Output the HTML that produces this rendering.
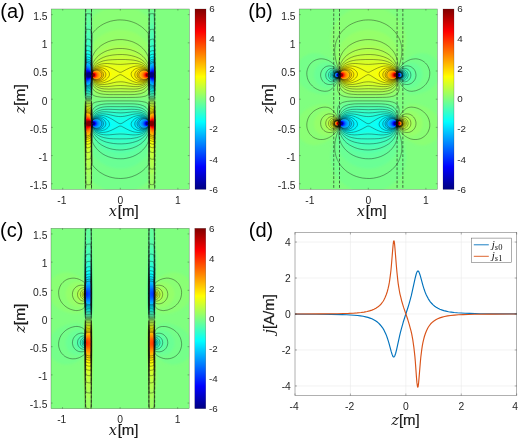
<!DOCTYPE html>
<html><head><meta charset="utf-8"><title>figure</title><style>html,body{margin:0;padding:0;background:#fff}
svg{display:block}
text{font-family:"Liberation Sans",sans-serif;fill:#262626}
.tl text{font-size:10.3px}
.cb text{font-size:9.8px}
.td text{font-size:10.3px}
.al{font-size:15px;fill:#1a1a1a;stroke:#1a1a1a;stroke-width:0.2px}
.it{font-family:"DejaVu Serif","Liberation Serif",serif;font-style:italic;font-size:14.5px;stroke-width:0}
.pl{font-size:20px;fill:#000}
.lg{font-family:"Liberation Serif","DejaVu Serif",serif;font-style:italic;font-size:11px;fill:#111}
.sb{font-size:8.5px}
.up{font-style:normal}
.zl{font-size:15.5px}
.zl .it{font-size:14.5px}
</style></head><body>
<svg width="520" height="439" viewBox="0 0 520 439">
<defs>
<linearGradient id="jet" x1="0" y1="1" x2="0" y2="0"><stop offset="0" stop-color="#000080"/><stop offset="0.125" stop-color="#0000ff"/><stop offset="0.375" stop-color="#00ffff"/><stop offset="0.625" stop-color="#ffff00"/><stop offset="0.875" stop-color="#ff0000"/><stop offset="1" stop-color="#800000"/></linearGradient>
<filter id="bl" x="-5%" y="-5%" width="110%" height="110%"><feGaussianBlur stdDeviation="0.45"/></filter>
<filter id="bl2" x="-5%" y="-5%" width="110%" height="110%"><feGaussianBlur stdDeviation="1"/></filter>
<filter id="bl3" x="-5%" y="-5%" width="110%" height="110%"><feGaussianBlur stdDeviation="0.6"/></filter>
<clipPath id="cp"><rect x="0" y="0" width="138.2" height="180.4"/></clipPath>
</defs>
<rect width="520" height="439" fill="#fff"/>
<g transform="translate(51.2,9)">
<rect width="138.2" height="180.4" fill="#80ff80"/>
<g clip-path="url(#cp)"><g filter="url(#bl2)"><path fill="#8aff75" d="M52.8 0.5l1.2 -0.5 30.2 0 1.9 0.8 2 1 3.5 2.1 3 2.3 3 2.8 0.1 50.5 0.2 7 -0.2 4 -0.1 16.9 -0.1 0.1 -1.4 0.5 -2 0.5 -2.5 0.4 -3 0.2 -8 0.2 -18 0 -9.5 -0.1 -6 -0.3 -2 -0.2 -2 -0.4 -1.5 -0.5 -1 -0.4 -0.1 -16.9 -0.2 -4 0.2 -7 0.1 -50.5 2.5 -2.4 3 -2.3 3.5 -2.2 3.2 -1.6zM34.5 90.4l5.6 0 0.3 0.5 0 0.5 0.1 17 -0.2 5.5 0.2 8.5 -0.1 58 -6.2 0 -0.1 -84 0.1 -5 0 -0.5 0.3 -0.5zM98.1 90.4l5 0 0.4 0.5 0 0.5 0.1 23 -0.1 66 -5.7 0 -0.1 -58 0.2 -8.5 -0.1 -4.5 -0.1 -15 0.1 -3 0 -0.5 0.3 -0.5z"/>
<path fill="#95ff6a" d="M66.3 21l2.3 -0.1 2.5 0 2.5 0.3 2.5 0.4 2.5 0.6 2 0.6 2.5 1 2 1 2 1.2 2 1.4 2 1.6 1.5 1.5 1.5 1.6 1.4 1.9 1.1 1.7 1 1.9 0.1 23.4 0.2 4.5 -0.2 4.5 -0.1 12.1 -1 1.3 -1 0.9 -1 0.7 -1.5 0.7 -2 0.7 -2.5 0.5 -2.5 0.3 -3.5 0.2 -6 0.1 -15 0 -5 -0.1 -3.5 -0.2 -2.5 -0.2 -2 -0.3 -2 -0.5 -1.5 -0.5 -1.5 -0.7 -1 -0.7 -1 -0.9 -1 -1.3 -0.1 -12.1 -0.2 -3.5 0.2 -6 0.1 -22.9 0.8 -1.6 0.9 -1.5 1.1 -1.5 1.2 -1.4 1.5 -1.6 1.5 -1.4 3 -2.3 1.5 -0.9 2 -1.1 2 -0.9 2 -0.7 2 -0.6 2 -0.5 2 -0.4 2.2 -0.2zM34.4 91.4l0.2 -0.4 5.5 0 0.1 0.4 0.1 1 0.1 14.5 -0.1 8 0.1 3 0 7 -0.2 55.5 -5.8 0 -0.2 -27 -0.1 -39 0.1 -18.5 0 -3 0.2 -1.5zM98 91.4l0.1 -0.4 5 0 0.2 0.4 0.2 1.5 0.1 7 0 17.5 -0.3 63 -5.3 0 -0.2 -57.5 0 -5.5 0.1 -2.5 -0.1 -5.5 0 -12.5 0.1 -4 0.1 -1.5z"/>
<path fill="#9fff60" d="M68.1 30.5l2 0 2.5 0.1 2 0.3 2.5 0.5 2.5 0.7 2 0.7 2 0.9 2 1 1.5 1 2 1.4 1.5 1.3 1.5 1.4 1.5 1.8 1 1.4 1 1.6 1 2 1 2.7 0.1 12.7 0.2 3.5 -0.2 4 -0.1 8.1 -0.8 1.9 -1.2 1.6 -1.5 1.4 -2 1.2 -2 0.7 -2.5 0.6 -2.5 0.3 -3.5 0.3 -5 0.1 -16 0 -4 -0.1 -3.5 -0.3 -2.5 -0.3 -2 -0.4 -2 -0.7 -1.5 -0.8 -1.5 -1 -1 -1 -1 -1.3 -0.7 -1.3 -0.3 -0.9 -0.1 -8.1 -0.2 -3 0.2 -5 0.1 -12.2 0.8 -2.3 1.2 -2.4 1 -1.6 1 -1.4 1 -1.2 1.5 -1.6 1.5 -1.3 1.5 -1.2 3 -1.8 3.5 -1.7 3.5 -1.1 2 -0.5 2 -0.4 4 -0.3zM34.5 91.9l0.1 -0.3 5.5 0.1 0.2 2.7 0.1 13 -0.1 7.5 0.1 3 0 7 -0.3 50.7 -3 0.3 -2.5 0 -0.3 -25 -0.2 -35.5 0.1 -18 0.1 -3.5 0.2 -2zM98.1 91.9l0 -0.2 5 -0.1 0.3 1.8 0.2 7.5 0 16.5 -0.2 35 -0.3 23.5 -2.5 0 -2.5 -0.3 -0.2 -22.2 -0.1 -31.5 0.1 -7 -0.1 -5.5 0 -11 0.1 -4.5 0.2 -2z"/>
<path fill="#aaff55" d="M63.4 37l2.2 -0.3 2.5 -0.2 2.5 0.1 2 0.1 2.5 0.3 2 0.4 2.5 0.7 2 0.6 2 0.9 2 0.9 2 1.2 1.5 1.1 1.5 1.2 1.5 1.4 1.5 1.7 1 1.4 1 1.7 0.9 1.8 0.6 1.6 0.5 1.9 0.1 7 0.2 3 -0.2 3.5 -0.1 5.4 -0.7 2.1 -0.8 1.5 -0.7 1 -0.8 0.7 -1.5 1.3 -2 1 -2 0.8 -2.5 0.5 -3 0.4 -6 0.2 -17.5 0 -4.5 -0.2 -2.5 -0.2 -2.5 -0.4 -2 -0.5 -1.5 -0.6 -1.5 -0.7 -1.5 -1.1 -1 -1 -1 -1.3 -0.8 -1.4 -0.7 -2.1 -0.1 -5.4 -0.2 -3.5 0.2 -3 0.1 -7 0.7 -2.5 1.1 -2.5 1.7 -2.7 2 -2.4 2 -1.8 2.5 -1.9 3 -1.7 3 -1.3 3.5 -1.1 3.3 -0.6zM34.5 92.4l0.1 0 2 0 3.5 0.1 0.2 4.4 0.1 11.5 -0.1 6.5 0.1 3 0 6 -0.3 40.8 -2 0.4 -2 0.1 -1.5 0 -0.3 -23.3 -0.2 -27.5 0.1 -16.5 0.1 -3.5 0.2 -2zM99.2 92.4l3.9 0 0.3 2 0.1 7.5 0.1 14.5 -0.5 48.8 -2.5 -0.1 -2.5 -0.4 -0.3 -39.8 0 -7 0.1 -3 -0.1 -5.5 0.1 -10.5 0.1 -4 0.1 -2.4 1.1 -0.1z"/>
<path fill="#b5ff4a" d="M63.2 41.5l4.4 -0.4 4.5 0.1 2 0.2 2.5 0.3 2.5 0.6 2 0.5 2 0.7 2 0.9 2 1 1.5 0.9 1.5 1 1.5 1.3 1.5 1.4 1 1.2 1 1.4 1 1.8 0.7 1.6 0.6 2 0.2 0.9 0.1 4.1 0.2 3.5 -0.2 2 -0.1 3.7 -0.5 1.7 -0.7 1.6 -0.8 1.2 -1 1.2 -1 0.9 -2 1.3 -2 0.8 -2.5 0.6 -3 0.4 -4.5 0.2 -10 -0.1 -13 0.1 -2.5 -0.2 -2 -0.2 -2 -0.4 -1.5 -0.4 -1.5 -0.6 -1.5 -0.8 -1.5 -1.1 -1 -1 -0.7 -0.9 -0.8 -1.4 -0.5 -1.2 -0.5 -1.4 -0.3 -6 0.2 -3.5 0.1 -4.1 0.3 -1.4 0.5 -1.5 1.2 -2.5 1.5 -2.3 2 -2.2 2 -1.7 2.5 -1.6 3 -1.6 3 -1.1 3 -0.9 3.6 -0.6zM34.5 93.4l0.1 -0.2 0.5 0 2.5 0.1 2.5 0.2 0.1 3.4 0.2 7.5 -0.1 10.5 0.1 10 -0.3 31.8 -2.5 0.6 -2.5 0.1 -0.5 0 -0.5 -36 0 -8.5 0.1 -10 0.1 -6 0.2 -3.5zM98.2 93.4l2.4 -0.1 2.5 -0.1 0.1 0.7 0.3 6.5 0.1 14.5 -0.5 42.5 -2.5 -0.1 -2.5 -0.6 -0.2 -29.8 -0.1 -8.5 0.1 -4.5 -0.1 -5 0.1 -11 0.2 -3.5 0.1 -1z"/>
<path fill="#bfff40" d="M64.5 45l4.6 -0.2 4.5 0.2 4 0.5 4 0.8 2 0.6 2 0.8 3 1.4 2.5 1.6 1.5 1.3 1 1 1 1.1 1 1.5 0.8 1.4 0.7 1.8 0.5 1.9 0.1 2.8 0.2 2 -0.3 5.3 -0.3 1.2 -0.5 1.5 -0.7 1.1 -0.5 0.7 -1 1.1 -1 0.9 -1.5 1 -1.5 0.7 -1.5 0.5 -1.5 0.4 -2 0.3 -2 0.2 -2.5 0 -11 -0.3 -13 0.3 -2.5 0 -2 -0.2 -2.5 -0.4 -2.5 -0.8 -2 -1 -1 -0.7 -1 -0.9 -1 -1.1 -0.5 -0.7 -0.7 -1.1 -0.5 -1.5 -0.3 -1.2 -0.3 -4.3 0.3 -5.8 0.1 -0.7 0.4 -1.2 0.5 -1.3 0.5 -1.1 1 -1.6 1.5 -1.8 2 -1.9 2.5 -1.7 2.5 -1.3 3 -1.2 3 -0.8 3.5 -0.7 3.4 -0.4zM34.5 94.4l0.1 -0.3 0.5 0 2.5 0.1 2.5 0.3 0.2 5.4 0.1 9.5 -0.1 4.5 0 11.5 -0.2 25.1 -2.5 0.7 -1.5 0.2 -1.5 0.1 -0.5 -36.6 0.2 -13.5 0.2 -7zM98.5 94.4l2.1 -0.2 2.5 -0.1 0.1 0.3 0.2 6.5 0.2 13.5 -0.5 37.1 -2.5 -0.3 -2.5 -0.7 -0.2 -26.6 0 -17.5 0.1 -7 0.1 -4.5 0 -0.4 0.4 -0.1z"/>
<path fill="#caff35" d="M60.7 48.5l4.9 -0.4 5 0 5 0.2 4 0.4 3.5 0.7 3 0.9 3 1.3 2.5 1.4 2 1.7 1 1 1 1.3 1.1 2 0.4 1 0.5 1.5 0.3 4 -0.3 4.4 -0.5 1.7 -0.5 1.1 -0.5 0.9 -1 1.2 -1 1 -1 0.7 -1.5 0.8 -1.5 0.6 -1.5 0.4 -1.5 0.3 -2 0.2 -4 0 -8 -0.5 -4 -0.1 -4 0.1 -8 0.5 -4 0 -2.5 -0.3 -2.5 -0.6 -2 -0.8 -1.5 -1 -1.5 -1.3 -1 -1.2 -0.5 -0.9 -0.5 -1.1 -0.5 -1.7 -0.3 -3.4 0.3 -4.7 0.5 -1.8 1 -2.2 1.5 -2.1 1.5 -1.5 2 -1.5 2 -1.1 2.5 -1.1 2.5 -0.8 3 -0.7 3.6 -0.5zM34.5 95.4l0.1 -0.3 1 0 2.5 0.2 2 0.3 0.1 5.8 0.1 8.5 0 14 -0.2 21.8 -2.5 0.8 -1.5 0.2 -1.5 0.1 -0.5 -32.4 0.2 -12 0.2 -7zM99.1 95.4l2 -0.2 2 -0.1 0.3 6.8 0.2 12.5 -0.5 32.4 -2.5 -0.3 -2.5 -0.8 -0.2 -24.3 0.1 -20 0.1 -5.8 1 -0.2z"/>
<path fill="#d5ff2a" d="M56.9 51.5l3.2 -0.3 4.5 -0.1 9.5 0 5 0.2 3 0.3 3 0.5 2.5 0.6 2.5 1 2.5 1.5 2 1.7 1.5 1.9 1 2 0.5 1.7 0.3 4 -0.3 2.8 -0.3 1.2 -0.4 1 -0.8 1.3 -1 1.1 -1 0.9 -1 0.7 -1.5 0.7 -1.5 0.5 -1.5 0.4 -1.5 0.2 -2 0.1 -2.5 -0.1 -9 -1 -4.5 -0.2 -4.5 0.2 -9 1 -3.5 0.1 -2 -0.2 -1.5 -0.3 -1.5 -0.5 -1.5 -0.6 -1 -0.6 -1 -0.8 -1.5 -1.6 -1 -1.9 -0.5 -1.6 -0.3 -2.8 0.3 -4 0.5 -1.7 0.3 -0.8 1.2 -1.9 1 -1.2 1.5 -1.3 2 -1.3 2 -1 2.5 -0.9 2.5 -0.5 2.8 -0.4zM34.5 96.4l0.1 -0.3 1.5 0 2 0.2 2 0.5 0.1 5.6 0.1 8 0 13 -0.2 18.5 -1 0.4 -1.5 0.4 -1.5 0.3 -1.5 0.1 -0.5 -28.7 0.2 -11 0.2 -7zM99.6 96.4l1.5 -0.2 2 -0.1 0.3 6.8 0.2 11.5 -0.5 28.7 -2.5 -0.4 -1.5 -0.4 -1 -0.4 -0.2 -22.5 0 -12 0.2 -8.5 0 -2.1 1.5 -0.4z"/>
<path fill="#75ff8a" d="M34.2 0l6.2 0 0.1 58 -0.2 8.5 0.1 4.5 0.1 15 -0.1 3 0 0.5 -0.3 0.5 -5.5 0 -0.4 -0.5 0 -0.5 -0.1 -23 0.1 -66zM97.8 0l5.7 0 0.1 84 -0.1 5 0 0.5 -0.4 0.5 -5 0 -0.3 -0.5 0 -0.5 -0.1 -17 0.2 -5.5 -0.2 -8.5 0.1 -58zM47.7 91.4l4.4 -0.2 6.5 -0.1 19.5 0 8 0.1 4.4 0.2 3.1 0.4 2.5 0.6 1.5 0.6 0.1 16.9 0.2 5 -0.2 6 -0.1 50.5 -3 2.8 -3 2.3 -3.5 2.1 -3.5 1.6 -0.4 0.2 -30.2 0 -1.9 -0.8 -2 -1 -3.5 -2.1 -3 -2.3 -3 -2.8 -0.1 -50.5 -0.2 -7 0.2 -4 0.1 -16.9 1.3 -0.6 1.7 -0.4 2 -0.3 2.1 -0.3z"/>
<path fill="#6aff95" d="M34.4 0l5.8 0 0.2 55 0 7 -0.1 4.5 0.1 3 0 6.5 0 11 -0.1 1.5 -0.2 0.9 -5.5 0 -0.2 -0.4 -0.1 -1 -0.2 -6.5 0 -18 0.1 -38 0.2 -25.5zM98 0l5.3 0 0.2 28.5 0.1 40 -0.1 17.5 -0.1 2.5 -0.3 0.9 -5 0 -0.1 -0.4 -0.1 -1 -0.1 -14.5 0.1 -8 -0.1 -3 0 -7 0.2 -55.5zM59.3 92.9l20.8 0.1 5 0.2 3.5 0.3 3 0.7 1.5 0.5 1 0.4 1 0.6 1 0.8 0.9 0.9 0.6 0.9 0.1 12.1 0.2 3.5 -0.2 6 -0.1 22.9 -1.5 2.7 -1.7 2.4 -1.8 2 -2.5 2.3 -2.5 1.9 -2.5 1.5 -3 1.4 -3 1.1 -2.5 0.6 -3 0.5 -3 0.3 -3 0 -3 -0.3 -2.5 -0.4 -3 -0.7 -2.5 -0.9 -2.5 -1.1 -2.5 -1.4 -2.5 -1.7 -2 -1.6 -2 -2 -1.7 -2 -1.7 -2.5 -1.1 -2.1 -0.1 -23.4 -0.2 -4.5 0.2 -4.5 0.1 -12.1 1 -1.4 1.5 -1.2 1.5 -0.8 2 -0.7 2.5 -0.6 2.5 -0.3 3.5 -0.2 4.2 -0.2z"/>
<path fill="#60ff9f" d="M34.9 4.5l2.7 0 2.5 0.3 0.2 22.2 0.1 32 -0.1 6.5 0.1 5.5 0 11.5 -0.1 4.5 -0.2 1.7 -5.5 0.1 -0.3 -1.8 -0.1 -6 -0.1 -14 0.1 -34.5 0.4 -28 0.3 0zM100.3 4.5l2.8 0 0.3 25.5 0.2 36 -0.1 18 -0.1 3.5 -0.3 1.3 -5 -0.1 -0.2 -2.7 -0.1 -13 0.1 -7.5 -0.1 -3 0 -7 0.3 -50.7 2.2 -0.3zM54.5 94.9l6.1 -0.2 17 0 5 0.2 3.5 0.3 3.5 0.6 1.5 0.5 1.5 0.7 1 0.6 1.2 0.8 0.8 0.9 0.9 1.1 0.6 1.1 0.5 1.3 0.1 8.1 0.2 3 -0.2 5 -0.1 12.2 -0.6 1.8 -0.9 2 -1.1 2 -1.4 1.9 -1.5 1.8 -1.5 1.4 -1.5 1.3 -2 1.4 -2.5 1.5 -3 1.4 -3 1 -3 0.7 -3 0.5 -3.5 0.1 -3 -0.1 -3 -0.4 -3 -0.7 -3 -0.9 -3 -1.3 -2.5 -1.4 -2.5 -1.8 -2 -1.7 -2 -2.2 -1.9 -2.5 -0.9 -1.5 -0.7 -1.5 -1 -2.8 -0.1 -12.7 -0.2 -3.5 0.2 -4 0.1 -8.1 0.8 -1.9 1 -1.5 1.2 -1.1 1.5 -1 2 -1 2 -0.6 2.5 -0.5 2.9 -0.3z"/>
<path fill="#55ffaa" d="M34.5 15.5l0.1 -0.3 2 0 2 0.2 1.5 0.3 0.3 43.8 -0.1 6 0.1 5.5 -0.1 9.5 -0.1 5 -0.1 2.4 -5.5 0.1 -0.2 -1 -0.2 -6.5 -0.1 -15.5 0.2 -27.5 0.2 -22zM99.1 15.5l2 -0.3 2 0 0.3 23.3 0.2 27.5 -0.1 16.5 -0.1 3.5 -0.3 2 -5 -0.1 -0.1 -1.4 -0.2 -9.5 0 -7 0.1 -4.5 -0.1 -7 0.3 -42.8 1 -0.2zM52.5 96.9l3.1 -0.2 4.5 -0.2 18.5 0 5.5 0.3 3.5 0.5 1.5 0.3 1.5 0.5 2 1 1 0.7 1 0.9 1 1.1 0.8 1.1 0.7 1.6 0.5 1.5 0.1 5.4 0.2 2.5 -0.2 4 -0.1 7 -0.7 2.5 -1.3 2.8 -1.5 2.4 -2 2.4 -2 1.8 -2.5 1.9 -2.5 1.4 -3 1.4 -3 1 -3 0.7 -3 0.5 -3.5 0.2 -3.5 -0.2 -3 -0.3 -3.5 -0.8 -3 -0.9 -3 -1.3 -2.5 -1.4 -2.5 -1.8 -2 -1.7 -2 -2.2 -1 -1.4 -0.9 -1.5 -1.2 -2.5 -0.5 -1.5 -0.4 -1.5 -0.1 -7 -0.2 -3 0.2 -3.5 0.1 -5.4 0.7 -2.1 0.8 -1.4 1 -1.3 1.5 -1.4 1.5 -1 2 -0.8 2 -0.6 2.4 -0.5z"/>
<path fill="#4affb5" d="M34.5 23l1.6 0 1.5 0.1 2.5 0.6 0.3 35.3 -0.1 6.5 0.1 10 -0.2 9.5 -0.1 1.9 -2.5 0.2 -3 0.1 -0.2 -2.2 -0.2 -8 -0.1 -12.5 0.4 -41.5zM102.5 23l0.6 0 0.4 23.5 0.1 23.5 -0.2 12 -0.3 5.2 -2.5 -0.1 -2.5 -0.2 -0.1 -3.4 -0.1 -6 -0.1 -7.5 0.1 -4.5 -0.1 -9.5 0.3 -32.3 2 -0.5 2.4 -0.2zM54.4 98.4l4.2 -0.1 10.5 0.1 10 -0.1 5 0.2 3 0.4 2.5 0.6 2 0.8 2 1.3 1 0.9 1 1.2 0.8 1.2 0.7 1.6 0.5 1.7 0.1 3.7 0.2 2 -0.2 3.5 -0.1 4.1 -0.2 0.9 -0.6 2 -0.7 1.6 -1 1.8 -1 1.4 -2 2.2 -2 1.7 -2.5 1.6 -2.5 1.3 -3 1.2 -3 0.9 -3 0.7 -3.5 0.4 -3.5 0.1 -3.5 -0.1 -3.5 -0.4 -3 -0.7 -3 -0.9 -3 -1.2 -2.5 -1.3 -2.5 -1.6 -2.5 -2.2 -1 -1.1 -1 -1.3 -1.5 -2.5 -1 -2.5 -0.5 -2 -0.1 -4.1 -0.2 -2.5 0.3 -6.7 0.5 -1.7 1 -2.1 0.5 -0.7 1 -1.2 1.5 -1.3 2 -1.1 2 -0.7 2.5 -0.6 2.8 -0.4z"/>
<path fill="#40ffbf" d="M34.5 29l0.1 -0.1 1 0 1.5 0.2 1.5 0.3 1.5 0.5 0.2 21.6 0 22.5 -0.1 7.5 -0.1 4.4 -2.5 0.3 -2.5 0.1 -0.5 0 -0.2 -1.3 -0.1 -5.5 -0.2 -9.5 0.1 -12 0.3 -29zM102.1 29l1 -0.1 0.5 37.1 -0.2 13.5 -0.3 6.8 -2.5 -0.1 -2.5 -0.3 -0.2 -5.9 -0.1 -21.5 0.3 -28.6 2 -0.6 2 -0.3zM50.9 100.4l2.2 -0.2 3 -0.2 13 0.3 10.5 -0.3 3.5 0 2.5 0.2 2.5 0.4 2 0.6 1.5 0.6 2 1.3 1 0.9 1 1.1 0.9 1.3 0.5 1 0.6 2.2 0.3 5.3 -0.2 2 -0.1 2.8 -0.5 1.9 -1 2.4 -1.5 2.3 -1.5 1.6 -2 1.8 -2 1.3 -2.5 1.3 -2.5 1 -3 0.9 -3.5 0.7 -3.5 0.5 -4 0.2 -4 -0.1 -3.5 -0.3 -3.5 -0.5 -3.5 -0.9 -3 -1.1 -2.5 -1.1 -2.5 -1.6 -2 -1.6 -2 -2.1 -1.5 -2.3 -1 -2.4 -0.5 -1.9 -0.3 -5.8 0.3 -4.3 0.1 -0.7 0.4 -1.1 0.5 -1.1 1 -1.6 1.5 -1.6 1 -0.8 1 -0.6 2 -0.9 1.5 -0.5 1.3 -0.3z"/>
<path fill="#35ffca" d="M34.5 34l0.1 -0.4 2 0.1 2 0.5 1.5 0.5 0.2 26.3 0 14.5 -0.2 9.3 -2.5 0.4 -3 0.1 -0.3 -6.8 -0.2 -12.5 0.4 -32zM100.3 34l1.3 -0.3 1.5 -0.1 0.5 32.4 -0.2 12.5 -0.3 6.8 -2 -0.1 -2 -0.2 -1 -0.2 0 -0.3 -0.2 -9.5 0 -14 0.2 -26.3 2.2 -0.7zM50.4 101.9l2.2 -0.2 3 -0.1 10 0.6 4.5 0 3.5 -0.1 7 -0.5 3.5 0 2 0.1 2 0.3 1.5 0.4 1.5 0.5 2 1 1 0.7 1 1 1 1.2 0.5 0.9 0.8 1.7 0.2 1.1 0.3 4.4 -0.3 3.7 -0.7 2.3 -0.8 1.7 -1.5 2.1 -1.5 1.5 -2 1.5 -2 1.1 -2.5 1.1 -2.5 0.8 -3 0.7 -4 0.6 -4 0.3 -5 0 -4.5 -0.1 -3.5 -0.3 -3.5 -0.6 -3 -0.7 -3 -1.1 -2.5 -1.2 -2 -1.3 -2 -1.8 -1.5 -1.8 -1 -1.8 -0.8 -2.2 -0.2 -0.8 -0.3 -3.7 0.3 -4.4 0.1 -0.6 0.4 -1.1 0.5 -1.1 1 -1.5 1.5 -1.6 1 -0.7 1 -0.6 2 -0.8 2.3 -0.6z"/>
<path fill="#2bffd4" d="M34.5 37.5l0.1 -0.2 2.5 0.3 1.5 0.4 1.5 0.5 0.2 23 0 13 -0.2 9.1 -2.5 0.5 -3 0.2 -0.3 -6.8 -0.2 -11.5 0.4 -28.5zM101.7 37.5l1.4 -0.2 0.5 28.7 -0.2 11.5 -0.3 6.8 -2.5 -0.2 -2.5 -0.5 0 -2.1 -0.2 -8.5 0 -12 0.2 -22.5 1.5 -0.5 2.1 -0.5zM48.9 103.4l2.7 -0.3 3 0 3 0.2 7.5 0.8 4.5 0.2 4 -0.2 8.5 -1 3 -0.1 3 0.2 2.5 0.6 2 0.8 1 0.6 1 0.8 1.5 1.6 1 1.9 0.5 1.6 0.3 2.8 -0.3 4 -0.2 1 -0.8 1.8 -1 1.6 -1.5 1.7 -1.5 1.2 -2 1.2 -2 0.9 -2 0.7 -2.5 0.5 -3.5 0.5 -4 0.2 -6.5 0.1 -8 -0.1 -3.5 -0.1 -3 -0.3 -2.5 -0.5 -2.5 -0.6 -2.5 -1 -2 -1.2 -2 -1.5 -1.5 -1.7 -1 -1.6 -0.8 -1.8 -0.2 -1 -0.3 -3 0.3 -3.8 0.5 -1.6 1 -1.9 1.5 -1.6 1.5 -1.1 2 -0.9 1.8 -0.6z"/></g><g filter="url(#bl)"><path fill="#dfff20" d="M52.6 54l2.5 -0.3 2.5 0 8.5 0.4 3.5 0 9.5 -0.4 3 0 2 0.1 2 0.2 1.5 0.3 2 0.6 2 0.9 2 1.2 1.5 1.3 1 1.2 0.5 0.8 0.5 1.1 0.5 1.6 0.3 2.5 0 1 -0.3 2.4 -0.3 1.1 -0.7 1.4 -0.5 0.7 -1 1.1 -1 0.8 -1 0.6 -1.5 0.7 -1.5 0.4 -1.5 0.3 -2.5 0.1 -2.5 -0.2 -2.5 -0.3 -7.5 -1.4 -2 -0.3 -2 -0.1 -2 0.1 -2.5 0.2 -8.5 1.5 -3.5 0.5 -2 0 -1.5 -0.1 -1.5 -0.3 -1.5 -0.4 -2 -0.9 -1.5 -1.2 -1 -1.1 -1 -1.7 -0.5 -1.5 -0.3 -2.4 0.3 -3.5 0.1 -0.5 0.5 -1.5 0.9 -1.5 1.5 -1.7 1.5 -1.2 1.5 -0.8 2 -0.9 2 -0.6 2 -0.3zM34.5 97.4l0.1 -0.4 1.5 0.1 2 0.3 2 0.5 0.1 6 0.1 7 0 11.5 -0.2 16.3 -1 0.5 -1.5 0.5 -1.5 0.2 -1.5 0.2 -0.5 -25.7 0.2 -9.5 0.2 -7.5zM99.9 97.4l1.7 -0.2 1.5 -0.2 0.3 7.4 0.2 10 -0.5 25.6 -2.5 -0.3 -1.5 -0.5 -1 -0.5 -0.2 -20.3 0 -11.5 0.2 -8.5 0 -0.5 1.8 -0.5z"/>
<path fill="#eaff15" d="M49.1 56l1.5 -0.3 1.5 -0.1 3.5 0.1 3 0.3 7 1.3 3.5 0.2 3.5 -0.2 7.4 -1.3 3.1 -0.4 2 0 1.5 0 1.5 0.2 1.5 0.3 2 0.7 2 1 1.5 1.2 1 1.1 0.5 0.8 0.5 0.9 0.5 1.5 0.2 2.2 0 1 -0.2 2.1 -0.5 1.4 -0.5 0.9 -0.5 0.7 -1 1 -1 0.8 -1.5 0.7 -1.5 0.5 -1.5 0.3 -2.5 0.1 -3 -0.4 -2.8 -0.6 -7.7 -2.4 -2.5 -0.4 -2 -0.2 -2 0.2 -2.5 0.4 -7.7 2.4 -3.3 0.7 -2 0.2 -1.5 0.1 -1.5 -0.1 -1.5 -0.3 -1.5 -0.5 -1.5 -0.7 -1.5 -1.2 -1 -1.3 -0.5 -0.9 -0.5 -1.4 -0.2 -2.1 0 -1 0.2 -2.2 0.5 -1.5 0.5 -0.9 1 -1.4 1 -0.9 1 -0.8 1.5 -0.8 1.5 -0.6 1.5 -0.4zM34.5 98.4l0.1 -0.4 1.5 0.1 2 0.3 2 0.6 0.1 6.9 0.1 7.5 0 9.5 -0.2 13.2 -1 0.5 -1.5 0.5 -1.5 0.3 -1.5 0.2 -0.5 -23.2 0.2 -8.5 0.2 -7.5zM100 98.4l1.6 -0.3 1.5 -0.1 0.3 7.4 0.2 9 -0.5 23.1 -1.5 -0.2 -1 -0.2 -1.5 -0.5 -1 -0.5 -0.2 -20.7 0.1 -9 0.1 -7.4 1.9 -0.6z"/>
<path fill="#f4ff0b" d="M50.4 57l1.7 0 2 0.2 1.5 0.3 2 0.6 2.2 0.9 2.2 1 5.6 3.1 1 0.3 0.5 0.1 0.5 -0.1 1 -0.3 4.7 -2.6 2 -1 2.3 -1 2 -0.7 2.5 -0.6 2 -0.2 2.5 0 2 0.3 2 0.7 1.5 0.8 1.5 1.2 1 1.3 0.5 0.8 0.5 1.4 0.2 2 0 1 -0.2 1.9 -0.5 1.3 -1 1.5 -1 0.9 -1 0.7 -1.5 0.7 -1.5 0.4 -1.5 0.1 -2 0 -1.5 -0.2 -1.5 -0.4 -1.5 -0.5 -2 -0.8 -2.3 -1.1 -1.8 -1 -5.9 -3.8 -1.5 -0.6 -1 0 -1.5 0.6 -5.1 3.3 -2.6 1.5 -2 1 -2.3 0.9 -2.5 0.8 -2 0.3 -2 0 -2 -0.2 -2 -0.7 -1.5 -1 -1 -0.9 -1 -1.5 -0.5 -1.3 -0.2 -1.9 0 -1 0.2 -2 0.5 -1.4 1 -1.5 1 -1 1 -0.8 1.5 -0.8 1.5 -0.5 1.5 -0.4 1.8 -0.1zM34.5 98.9l1.6 0.1 1.5 0.2 1.5 0.5 1 0.4 0.1 6.8 0.1 8.5 -0.2 18.5 -1 0.5 -1.5 0.6 -1.5 0.3 -1.5 0.1 -0.4 -21 0.1 -8 0.2 -7.5zM102.7 98.9l0.4 0 0.4 13 0 6.5 -0.4 17 -1.5 -0.2 -1 -0.2 -1.5 -0.6 -1 -0.5 -0.1 -10 -0.1 -14 0.2 -9.8 2 -0.7 2.6 -0.5z"/>
<path fill="#ffff00" d="M46.2 58.5l1.4 -0.3 1.5 -0.2 1.5 0.1 1.5 0.2 1.5 0.4 1.5 0.6 1.3 0.7 1.2 0.7 0.9 0.8 0.9 1 0.6 1 0.3 1 0 0.5 -0.1 1 -0.4 1 -0.7 1 -1.4 1.5 -2 1.5 -2.1 1.1 -2.5 0.8 -1.5 0.3 -1 0 -2 -0.1 -1 -0.2 -1 -0.4 -1.5 -0.8 -1 -0.9 -0.5 -0.6 -0.5 -0.8 -0.5 -1.2 -0.2 -1.7 0 -1 0.2 -1.8 0.5 -1.3 0.5 -0.8 1 -1.1 1.5 -1.1 1 -0.5 1.1 -0.4zM85.5 58.5l1.6 -0.3 2 -0.2 1.5 0.2 1.5 0.3 1.5 0.6 1 0.6 1 0.8 1 1.1 0.5 0.8 0.5 1.3 0.2 1.8 0 1 -0.2 1.7 -0.5 1.2 -0.5 0.8 -0.5 0.6 -1 0.9 -1.5 0.8 -1 0.4 -1 0.2 -2 0.1 -1 0 -1.5 -0.3 -2.5 -0.8 -2.1 -1.1 -2 -1.5 -1.4 -1.5 -0.9 -1.5 -0.3 -1 0 -0.5 0 -0.5 0.3 -1 0.6 -1 1.5 -1.5 1.5 -1 1.8 -0.9 1.9 -0.6zM34.5 99.9l0.1 -0.1 0.5 0 2 0.2 1.5 0.5 1.5 0.6 0.2 14.3 -0.2 16.6 -1 0.5 -1.5 0.6 -1.5 0.4 -1.5 0.1 -0.4 -19.2 0.1 -7 0.2 -7.5zM101.7 99.9l1.4 -0.1 0.1 1.1 0.2 7.5 0.1 6.5 -0.4 18.7 -1.5 -0.2 -1 -0.3 -1.5 -0.6 -1 -0.5 -0.2 -16.6 0.2 -14.3 1.5 -0.6 2.1 -0.6z"/>
<path fill="#fff400" d="M47.1 59l2 -0.1 1.5 0.3 1.5 0.4 1.7 0.9 1.4 1 0.9 1 0.6 1 0.2 0.5 0.2 1 -0.2 1.5 -0.4 1 -1 1.5 -1 1 -1.4 1 -1.5 0.7 -1.5 0.5 -2 0.3 -1.5 0 -1.5 -0.3 -1.5 -0.6 -1 -0.6 -1 -1 -0.5 -0.8 -0.5 -1.2 -0.2 -1.5 0 -1 0.2 -1.6 0.5 -1.2 1 -1.4 1 -0.9 1.5 -0.8 1.5 -0.5 1 -0.1zM88.9 59l1.7 -0.1 1.5 0.2 1.5 0.5 1 0.5 1 0.7 1 1.1 0.5 0.8 0.5 1.2 0.2 1.6 0 1 -0.2 1.5 -0.5 1.2 -0.5 0.8 -1 1 -1 0.6 -1 0.5 -1.5 0.4 -2 0 -2 -0.3 -1.5 -0.5 -2 -1.1 -1.4 -1.1 -0.9 -1 -0.9 -1.5 -0.3 -1.5 0.1 -1 0.1 -0.5 0.5 -1 0.7 -1 1.1 -1 1.7 -1 1.8 -0.7 1.8 -0.3zM34.5 100.9l0.1 -0.3 1.5 0.1 1 0.2 1.5 0.5 1.5 0.7 0.2 11.3 -0.2 16.9 -1 0.6 -1.5 0.6 -1.5 0.4 -1.5 0.1 -0.4 -17.6 0.1 -6 0.2 -7.5zM100.9 100.9l2.2 -0.3 0.3 7.3 0.1 6.5 -0.4 17.6 -1.5 -0.2 -1 -0.3 -1.5 -0.6 -1 -0.6 -0.2 -14.9 0.2 -13.3 1.5 -0.7 1.3 -0.5z"/>
<path fill="#ffea00" d="M44.9 60l1.2 -0.3 1.5 -0.1 1.5 0.2 1 0.2 1.5 0.7 1 0.6 0.7 0.7 0.8 1 0.6 1 0.2 1 0 1 -0.2 1 -0.5 1 -0.7 1 -0.9 0.9 -0.8 0.6 -1.7 0.8 -1.5 0.5 -1.5 0.2 -1.5 -0.1 -1 -0.2 -1.5 -0.7 -1 -0.7 -0.5 -0.6 -0.5 -0.7 -0.5 -1.1 -0.2 -1.4 0 -1 0.2 -1.5 0.2 -0.5 0.3 -0.6 0.5 -0.8 1 -1 1 -0.6 1.3 -0.5zM88.4 60l1.2 -0.3 1.5 -0.1 1.5 0.2 1 0.3 1 0.4 1 0.6 1 1 0.5 0.8 0.5 1.1 0.2 1.5 0 1 -0.2 1.4 -0.5 1.1 -0.5 0.7 -0.5 0.6 -1 0.7 -1.5 0.7 -1.5 0.2 -1.5 0 -1.5 -0.2 -1.5 -0.6 -1.5 -0.9 -1.4 -1.2 -0.7 -1 -0.6 -1.5 -0.1 -1 0.1 -1 0.4 -1 0.6 -1 1 -1 1.7 -1 1.3 -0.5zM34.5 101.4l0.1 0 1 0 2 0.4 1.5 0.6 1 0.7 0.2 12.3 -0.2 13.4 -1 0.6 -1.5 0.7 -1.5 0.4 -1.5 0.2 -0.4 -16.3 0.1 -6 0.2 -7zM102.4 101.4l0.7 0 0.3 8.5 0.1 7 -0.4 13.7 -1.5 -0.2 -1 -0.3 -1.5 -0.7 -1 -0.6 -0.2 -13.4 0.2 -12.3 1 -0.7 1 -0.4 1 -0.3 1.3 -0.3z"/>
<path fill="#ffdf00" d="M44.6 60.5l1 -0.2 1 -0.1 1.5 0.1 1 0.3 1 0.4 1 0.6 0.9 0.9 0.7 1 0.4 1 0.2 1 -0.1 1 -0.3 1 -0.6 1 -0.4 0.5 -0.8 0.8 -1.1 0.7 -1 0.5 -1.4 0.4 -1.5 0.1 -1 -0.1 -1 -0.3 -1.5 -0.7 -1 -0.9 -0.5 -0.6 -0.5 -1.1 -0.2 -1.3 0 -1 0.2 -1.4 0.5 -1.1 1 -1.2 1 -0.7 1.5 -0.6zM89.6 60.5l1 -0.2 1.5 -0.1 1 0.1 1 0.3 1 0.5 1 0.7 1 1.2 0.5 1.1 0.2 1.4 0 1 -0.2 1.3 -0.5 1.1 -0.5 0.6 -0.5 0.5 -1 0.7 -1 0.4 -1.5 0.3 -1.5 0 -1.5 -0.3 -1 -0.4 -1.2 -0.7 -1.1 -1 -0.8 -1 -0.2 -0.5 -0.3 -1 -0.1 -1 0.2 -1 0.4 -1 0.7 -1 0.9 -0.9 1.1 -0.6 1.4 -0.5zM34.5 102.4l0.1 -0.3 1.5 0.1 1 0.2 1.5 0.6 1.5 1 0.2 9.4 -0.2 14 -1 0.7 -1.5 0.8 -1.5 0.4 -1.5 0.1 -0.4 -15 0.1 -5 0.2 -7zM101.1 102.4l2 -0.3 0.3 6.8 0.1 5.5 -0.4 15 -1.5 -0.2 -1 -0.3 -1.5 -0.8 -1 -0.7 -0.2 -12 0.2 -11.4 1.5 -1 1.5 -0.6z"/>
<path fill="#ffd500" d="M44.1 61l1 -0.3 1.5 0 1 0.2 1 0.3 1 0.5 1 0.8 0.4 0.5 0.6 1 0.2 0.5 0.2 1 0 1 -0.4 1 -0.5 1 -0.5 0.5 -1 0.9 -1 0.5 -1 0.4 -1.5 0.2 -1.5 -0.1 -1 -0.2 -1 -0.5 -1 -0.8 -0.5 -0.7 -0.5 -1 -0.2 -1.2 0 -1 0.2 -1.3 0.5 -1 0.5 -0.7 1 -0.8 1 -0.6 0.5 -0.1zM90.3 61l0.8 -0.2 1 -0.1 1 0 1 0.3 1.5 0.7 1 0.8 0.5 0.7 0.5 1 0.2 1.3 0 1 -0.2 1.2 -0.5 1 -0.5 0.7 -1 0.8 -1 0.5 -1.5 0.3 -1 0 -1.5 -0.2 -1 -0.4 -1 -0.5 -1 -0.9 -0.8 -1 -0.4 -1 -0.2 -1 0 -1 0.4 -1 0.6 -1 0.9 -1 1 -0.6 1.2 -0.4zM34.5 102.9l0.1 -0.2 1 0.1 2 0.5 1.5 0.8 1 0.8 0.2 10.5 -0.2 10.7 -1 0.8 -1.5 0.8 -1.5 0.5 -1.5 0.2 -0.4 -14 0.1 -5 0.2 -6.5zM101.9 102.9l1.2 -0.1 0.3 6.6 0.1 5 -0.4 13.9 -1.5 -0.2 -1 -0.4 -1.5 -0.8 -1 -0.8 -0.2 -10.7 0.2 -10.5 1.5 -1.1 1 -0.5 1.3 -0.4z"/>
<path fill="#ffca00" d="M43.5 61.5l0.6 -0.2 1 -0.2 1 0 1 0.2 1 0.4 1 0.6 0.8 0.7 0.4 0.5 0.5 1 0.1 0.5 0.1 1 -0.2 1 -0.5 1 -0.3 0.5 -0.5 0.5 -0.9 0.7 -1 0.5 -1 0.3 -1 0.2 -1 -0.1 -1 -0.2 -1 -0.4 -1 -0.8 -0.5 -0.6 -0.5 -1 -0.2 -1.1 0 -1 0.2 -1.2 0.5 -1 0.5 -0.6 1 -0.8 0.9 -0.4zM90.6 61.5l1.5 -0.4 1 0 1 0.2 1 0.3 1 0.6 1 1.1 0.5 1 0.2 1.2 0 1 -0.2 1.1 -0.5 1 -0.5 0.6 -1 0.8 -1 0.4 -1 0.2 -1 0.1 -1.3 -0.2 -1.2 -0.5 -0.9 -0.5 -0.6 -0.6 -0.7 -0.9 -0.5 -1 -0.1 -0.5 -0.1 -1 0.2 -1 0.5 -1 0.7 -0.8 1 -0.7 1 -0.5zM34.5 103.4l0.1 0 0.5 0 1 0.1 1.5 0.5 1.5 0.8 1 0.9 0.1 9.7 -0.1 9.6 -1 0.9 -1.5 0.8 -1.5 0.5 -1.5 0.2 -0.4 -13 0.1 -4.5 0.2 -6.5zM102.8 103.4l0.3 0 0.4 9 -0.1 5 -0.3 10 -1.5 -0.3 -1.5 -0.6 -1 -0.6 -1 -0.9 -0.1 -9.6 0.1 -9.7 1 -0.9 1 -0.6 1.5 -0.6 1.2 -0.2z"/>
<path fill="#ffbf00" d="M45 61.5l1.1 0 1 0.3 1 0.5 0.5 0.4 0.7 0.8 0.6 1 0.1 0.5 0.1 1 -0.2 1 -0.2 0.5 -0.6 1 -0.5 0.5 -1 0.7 -1 0.4 -1 0.2 -1 0 -1.5 -0.3 -0.5 -0.2 -1 -0.7 -0.5 -0.6 -0.5 -1 -0.2 -1 0 -1 0.2 -1.1 0.5 -1 0.5 -0.6 0.5 -0.4 1 -0.5 1 -0.3 0.9 -0.1zM93 61.5l1.1 0.1 1 0.3 1 0.5 0.5 0.4 0.5 0.6 0.5 1 0.2 1.1 0 1 -0.2 1 -0.5 1 -0.5 0.6 -1 0.7 -0.5 0.2 -1.5 0.3 -1 0 -1 -0.2 -1 -0.4 -1 -0.7 -0.5 -0.5 -0.6 -1 -0.2 -0.5 -0.2 -1 0.1 -1 0.1 -0.5 0.6 -1 0.4 -0.5 0.8 -0.7 1 -0.5 1 -0.3 0.9 0zM34.5 104.4l0.1 -0.4 0.5 0 1.5 0.3 1 0.3 1.5 0.9 1 1.1 0.1 6.8 -0.1 10.5 -1 1 -1.5 0.9 -1.5 0.5 -1.5 0.2 -0.4 -12.1 0.3 -10zM101.1 104.4l1 -0.3 1 -0.1 0.4 10.4 -0.4 12.1 -1.5 -0.3 -1.5 -0.6 -1 -0.7 -1 -1 -0.1 -8.5 0.1 -8.8 1.1 -1.2 0.9 -0.6 1 -0.4z"/>
<path fill="#ffb500" d="M43.4 62l0.7 -0.2 1 0 1.5 0.3 0.7 0.4 0.7 0.5 0.5 0.5 0.6 1 0.2 0.5 0.1 1 -0.2 1 -0.2 0.5 -0.3 0.5 -0.6 0.7 -0.5 0.4 -1 0.6 -1 0.3 -1 0.1 -1.5 -0.3 -1 -0.5 -0.5 -0.4 -0.5 -0.5 -0.5 -0.9 -0.2 -1 0 -1 0.2 -1 0.2 -0.5 0.3 -0.5 1 -0.9 0.5 -0.3 0.8 -0.3zM92.1 62l1 -0.2 1 0 1.5 0.5 1 0.7 0.5 0.5 0.5 1 0.2 1 0 1 -0.2 1 -0.5 0.9 -0.5 0.5 -1 0.7 -0.5 0.2 -1 0.2 -1 0 -1 -0.2 -0.9 -0.3 -0.8 -0.5 -0.5 -0.5 -0.7 -1 -0.3 -1 0 -1 0 -0.5 0.5 -1 0.3 -0.5 0.9 -0.9 0.5 -0.3 1 -0.3zM34.5 104.9l0.1 -0.4 1.5 0.2 1 0.3 1.5 0.8 0.5 0.4 0.7 0.7 0.3 0.5 0.1 6 -0.1 9.5 -1 1.1 -1.5 1 -1.5 0.6 -1.5 0.2 -0.4 -11.4 0.3 -9.5zM101.3 104.9l0.8 -0.2 1 -0.2 0.4 9.9 -0.4 11.3 -1.5 -0.3 -1.5 -0.6 -1 -0.8 -1 -1.1 -0.1 -7.5 0.1 -8 0.5 -0.7 0.8 -0.8 0.7 -0.5 1.2 -0.5z"/>
<path fill="#ffaa00" d="M42.5 62.5l0.6 -0.3 1 -0.1 1.5 0.1 0.8 0.3 0.7 0.4 0.7 0.6 0.4 0.5 0.4 1 0.1 0.5 0 1 -0.4 1 -0.3 0.5 -1 1 -1.4 0.6 -1 0.2 -1 -0.1 -0.5 -0.1 -1 -0.4 -1 -0.9 -0.5 -0.9 -0.2 -0.9 0 -1 0.2 -1 0.5 -0.9 0.5 -0.5 0.9 -0.6zM91.8 62.5l1.3 -0.4 1.5 0 0.5 0.1 1 0.5 1 0.9 0.5 0.9 0.1 0.5 0.1 1.5 -0.1 0.5 -0.1 0.4 -0.5 0.9 -1 0.9 -1 0.4 -0.5 0.1 -1.5 0 -1 -0.2 -0.5 -0.3 -1 -0.7 -0.4 -0.5 -0.3 -0.5 -0.4 -1 0 -1 0.1 -0.5 0.4 -1 0.4 -0.5 0.6 -0.5 0.8 -0.5zM34.5 105.4l0.1 -0.4 1.5 0.2 1 0.3 1.5 0.8 1 1.1 0.5 0.8 0.1 5.2 -0.1 8.4 -0.5 0.8 -0.5 0.6 -1 0.8 -1.5 0.7 -1 0.3 -1 0.1 -0.3 -10.7 0.2 -9zM101.4 105.4l0.7 -0.2 1 -0.1 0.3 9.3 -0.3 10.6 -1.5 -0.3 -1.5 -0.7 -1 -0.8 -0.5 -0.6 -0.5 -0.8 -0.1 -6.4 0.1 -7.2 0.5 -0.8 0.9 -1 1.1 -0.7 0.8 -0.3z"/>
<path fill="#ff9f00" d="M43 62.5l1.1 -0.2 1.5 0.2 0.9 0.5 0.6 0.4 0.8 1.1 0.2 1 0.1 0.5 -0.2 1 -0.2 0.5 -0.8 1 -0.7 0.5 -0.7 0.3 -1.5 0.3 -1.5 -0.3 -1 -0.6 -0.5 -0.5 -0.5 -0.8 -0.2 -0.9 0 -1 0.2 -1 0.5 -0.8 0.5 -0.5 0.5 -0.4 0.9 -0.3zM92.8 62.5l1.3 -0.2 0.5 0 1 0.3 1 0.6 0.5 0.5 0.5 0.8 0.2 1 0 1 -0.2 0.9 -0.5 0.8 -0.5 0.5 -1 0.6 -1.5 0.3 -1.5 -0.3 -0.7 -0.3 -0.7 -0.5 -0.4 -0.5 -0.6 -1 -0.2 -1 0.1 -0.5 0.2 -1 0.8 -1.1 0.6 -0.4 1.1 -0.5zM34.5 105.9l0.1 -0.4 1.5 0.2 1 0.3 1 0.5 0.5 0.4 0.9 1 0.6 1.1 0.1 4.4 -0.1 7.5 -0.3 0.5 -0.7 1.1 -0.5 0.4 -1 0.7 -1.5 0.6 -1.6 0.2 -0.2 -10 0.2 -8.5zM101.4 105.9l0.7 -0.2 1 -0.2 0.3 8.9 -0.3 10 -1.5 -0.3 -1.5 -0.8 -1 -0.9 -0.5 -0.6 -0.5 -0.9 -0.1 -5.5 0.1 -6.4 0.5 -1 0.5 -0.6 1 -0.9 1.3 -0.6z"/>
<path fill="#ff9500" d="M42.1 63l1 -0.4 1.5 -0.1 1.2 0.5 0.7 0.5 0.5 0.5 0.5 1 0.2 0.5 -0.1 1 -0.3 1 -0.9 1 -0.8 0.5 -0.5 0.2 -0.5 0.1 -1 0.1 -1 -0.2 -0.5 -0.3 -0.5 -0.3 -0.5 -0.5 -0.5 -0.8 -0.2 -0.8 0 -1 0.2 -0.9 0.5 -0.8 0.5 -0.5 0.5 -0.3zM92.4 63l1.2 -0.5 1.5 0.1 1 0.4 0.5 0.3 0.5 0.5 0.5 0.8 0.2 0.9 0 1 -0.2 0.8 -0.5 0.8 -0.5 0.5 -1 0.6 -0.5 0.1 -1 0.1 -0.5 -0.1 -1 -0.3 -0.5 -0.3 -0.8 -0.7 -0.6 -1 -0.2 -1 0 -0.5 0.4 -1 0.3 -0.5 0.5 -0.5 0.7 -0.5zM34.5 106.4l0.1 -0.4 1 0.1 1 0.2 1.5 0.7 1 0.9 0.5 0.7 0.5 1.2 0.1 3.6 -0.1 6.5 -0.5 1.2 -0.5 0.7 -0.5 0.5 -1 0.7 -1.5 0.6 -1.5 0.2 -0.3 -9.4 0.2 -8zM101.3 106.4l0.8 -0.2 1 -0.2 0.3 8.4 -0.3 9.4 -1.5 -0.3 -1.5 -0.8 -0.5 -0.4 -0.7 -0.9 -0.3 -0.5 -0.5 -1 -0.1 -4.5 0.1 -5.6 0.5 -1.2 0.5 -0.7 1 -0.9 1.2 -0.6z"/>
<path fill="#ff8a00" d="M42.4 63l0.7 -0.3 0.5 0 1 0.1 0.5 0.1 0.9 0.6 0.5 0.5 0.4 0.5 0.3 1 0 1 -0.1 0.5 -0.6 1 -0.9 0.7 -0.7 0.3 -0.8 0.2 -1 -0.1 -0.5 -0.1 -1 -0.5 -0.5 -0.4 -0.5 -0.8 -0.2 -0.8 0 -1 0.2 -0.9 0.5 -0.8 0.5 -0.4 0.8 -0.4zM93.1 63l1 -0.3 1 0 0.5 0.2 1 0.5 0.5 0.4 0.5 0.8 0.2 0.9 0 1 -0.2 0.8 -0.5 0.8 -1 0.7 -1 0.3 -0.5 0.1 -1 -0.1 -0.5 -0.2 -0.8 -0.4 -0.6 -0.5 -0.3 -0.5 -0.4 -1 0 -1 0.1 -0.5 0.6 -1 0.5 -0.5 0.9 -0.5zM34.5 106.4l1.6 0.2 1.5 0.6 1 0.7 0.8 1 0.3 0.5 0.4 1.1 0.1 4.9 -0.1 3.6 -0.5 1.4 -0.5 0.8 -1 0.9 -1 0.6 -1 0.4 -1.5 0.2 -0.3 -8.9 0.2 -8zM103.1 106.4l0.2 2.5 0.1 5 -0.3 9.4 -1.5 -0.4 -1 -0.4 -1 -0.8 -0.6 -0.8 -0.6 -1 -0.3 -0.9 -0.1 -3.6 0.1 -4.9 0.5 -1.4 0.5 -0.7 0.5 -0.5 1 -0.7 1 -0.5 1.5 -0.3z"/>
<path fill="#ff8000" d="M42.7 63l0.9 -0.1 0.5 0 1 0.3 0.5 0.3 0.5 0.5 0.6 1 0.1 0.5 0 1 -0.4 1 -0.8 0.9 -1 0.5 -1 0.1 -1 -0.1 -0.5 -0.2 -1 -0.7 -0.5 -0.7 -0.2 -0.8 0 -1 0.2 -0.9 0.5 -0.7 0.5 -0.4 0.5 -0.3 0.6 -0.2zM93.8 63l0.8 -0.1 0.5 0 1 0.3 1 0.7 0.5 0.7 0.2 0.9 0 1 -0.2 0.8 -0.5 0.7 -1 0.7 -0.5 0.2 -1 0.1 -1 -0.1 -0.8 -0.4 -0.6 -0.5 -0.4 -0.5 -0.3 -0.5 -0.1 -0.5 0 -1 0.3 -1 0.4 -0.5 0.6 -0.5 1.1 -0.5zM34.5 106.9l0.1 -0.1 1 0.1 1.5 0.4 1 0.6 0.5 0.4 0.5 0.6 0.6 1 0.4 1.2 0.1 2.3 0 2 -0.2 3 -0.4 1.4 -0.5 0.8 -1 1 -1 0.6 -1 0.4 -1.5 0.2 -0.3 -8.4 0.2 -7.5zM102.4 106.9l0.7 -0.1 0.2 2.1 0.1 6 -0.3 7.9 -1 -0.2 -1 -0.4 -1 -0.6 -1 -1 -0.5 -0.8 -0.4 -1.4 -0.2 -3 0 -2 0.1 -2.3 0.5 -1.5 0.5 -0.8 1 -0.9 1 -0.6 1.3 -0.4z"/>
<path fill="#ff7500" d="M41.8 63.5l0.8 -0.4 1 -0.1 1 0.2 0.5 0.3 0.6 0.5 0.7 1 0.1 1 -0.2 1 -0.3 0.5 -0.4 0.5 -1 0.6 -0.5 0.2 -1 0.1 -1 -0.3 -0.5 -0.2 -0.5 -0.5 -0.5 -0.7 -0.2 -0.7 0.1 -1.5 0.1 -0.3 0.5 -0.7 0.7 -0.5zM93.2 63.5l0.9 -0.4 0.5 -0.1 1 0.1 1 0.4 0.5 0.5 0.5 0.7 0.2 0.8 0 1 -0.2 0.7 -0.5 0.7 -0.5 0.5 -1 0.4 -1 0.1 -0.5 -0.1 -1 -0.4 -0.5 -0.4 -0.4 -0.5 -0.5 -1 0 -1 0.4 -1 0.4 -0.5 0.7 -0.5zM34.5 107.4l0.1 -0.2 0.5 0 1 0.2 1 0.3 1 0.6 1 0.9 0.5 0.8 0.5 1.6 0.1 1.8 0 2 -0.2 2.5 -0.4 1.3 -0.5 0.9 -1 1 -1 0.6 -1 0.4 -1.5 0.2 -0.3 -7.9 0.2 -7zM101.9 107.4l1.2 -0.2 0.3 7.2 -0.3 7.9 -1 -0.2 -1 -0.4 -1 -0.6 -0.5 -0.4 -0.5 -0.6 -0.5 -0.9 -0.5 -1.7 -0.1 -2.1 0 -2 0.1 -1.8 0.4 -1.2 0.5 -1 0.6 -0.7 1 -0.7 1.3 -0.6z"/>
<path fill="#ff6a00" d="M41.9 63.5l0.7 -0.3 0.5 0 1 0.1 1 0.5 0.7 0.7 0.4 1 0 1 -0.5 1 -0.4 0.5 -0.7 0.4 -1 0.3 -1 0 -1 -0.4 -0.5 -0.4 -0.5 -0.7 -0.2 -0.7 0 -1 0.2 -0.8 0.5 -0.7 0.5 -0.4 0.3 -0.1zM93.6 63.5l1 -0.3 1 0 1 0.4 0.5 0.4 0.5 0.7 0.2 0.8 0 1 -0.2 0.7 -0.5 0.7 -0.5 0.4 -1 0.4 -1 0 -1 -0.3 -0.7 -0.4 -0.4 -0.5 -0.5 -1 0 -1 0.4 -1 0.5 -0.5 0.7 -0.5zM34.5 107.9l0.1 -0.4 1.5 0.2 1.5 0.6 1 0.7 0.7 0.9 0.5 1 0.3 1.1 0.1 1.4 0 2 -0.1 1.7 -0.5 1.7 -0.5 0.8 -1 1.1 -1 0.6 -1 0.4 -1.5 0.2 -0.3 -7.5 0.2 -6.5zM101.5 107.9l0.6 -0.2 1 -0.1 0.3 6.8 -0.3 7.5 -1 -0.2 -1 -0.4 -1 -0.6 -0.5 -0.4 -0.5 -0.7 -0.5 -0.8 -0.5 -1.7 -0.1 -1.7 0 -2 0.1 -1.4 0.3 -1.1 0.5 -1 0.7 -0.9 1 -0.7 0.9 -0.4z"/>
<path fill="#ff6000" d="M42.1 63.5l1 -0.2 1 0.2 0.9 0.5 0.5 0.5 0.2 0.5 0.2 1 -0.2 1 -0.3 0.5 -0.5 0.5 -0.8 0.4 -1 0.2 -1 -0.2 -0.5 -0.2 -0.5 -0.4 -0.5 -0.6 -0.2 -0.7 0 -1 0.2 -0.8 0.5 -0.6 0.5 -0.4 0.5 -0.2zM94.1 63.5l1 -0.2 1 0.2 0.5 0.2 0.5 0.4 0.5 0.6 0.2 0.8 0 1 -0.2 0.7 -0.5 0.6 -0.5 0.4 -1 0.4 -0.5 0 -1 -0.2 -0.8 -0.4 -0.5 -0.5 -0.3 -0.5 -0.2 -1 0.2 -1 0.2 -0.5 0.5 -0.5 0.9 -0.5zM34.5 107.9l1.1 0.1 1.5 0.4 1 0.6 1 0.9 0.5 0.8 0.5 1.5 0.1 1.2 0 2 -0.1 1.4 -0.4 1.1 -0.6 1.4 -0.5 0.6 -1 0.8 -1 0.4 -1 0.3 -1 0.1 -0.3 -7.1 0.2 -6.5zM102.9 107.9l0.2 0 0.3 5 0 3.5 -0.3 5.1 -1 -0.2 -1 -0.4 -1 -0.6 -0.5 -0.4 -0.5 -0.6 -0.6 -1.4 -0.4 -1.1 -0.1 -1.4 0 -2 0.1 -1.2 0.5 -1.5 0.5 -0.8 0.5 -0.5 1 -0.8 1 -0.4 1.3 -0.3z"/>
<path fill="#ff5500" d="M42.4 63.5l0.7 -0.1 0.5 0.1 1 0.4 0.6 0.6 0.3 0.5 0.1 0.5 0 1 -0.2 0.5 -0.3 0.5 -0.5 0.5 -1 0.4 -1 0.1 -1 -0.3 -0.5 -0.4 -0.5 -0.7 -0.2 -0.6 0 -1 0.2 -0.7 0.5 -0.7 0.5 -0.4 0.8 -0.2zM94.7 63.5l0.9 -0.1 1 0.3 0.5 0.4 0.5 0.7 0.2 0.7 0 1 -0.2 0.6 -0.5 0.7 -0.5 0.4 -0.5 0.2 -1 0.1 -1 -0.2 -0.5 -0.3 -0.5 -0.5 -0.3 -0.5 -0.2 -0.5 0 -1 0.1 -0.5 0.3 -0.5 0.6 -0.6 1.1 -0.4zM34.5 108.4l0.1 -0.2 0.5 0 1.5 0.3 1 0.5 1 0.7 0.5 0.5 0.6 1.2 0.4 1 0.1 1.5 0 1.5 -0.1 1.2 -0.5 1.5 -0.5 0.8 -1 1 -1 0.7 -1 0.3 -1.5 0.2 -0.3 -6.7 0.2 -6zM102 108.4l1.1 -0.2 0.3 6.2 -0.3 6.7 -1 -0.2 -1 -0.3 -1 -0.7 -0.5 -0.4 -0.5 -0.6 -0.5 -0.8 -0.5 -1.5 -0.1 -1.2 0 -2 0.1 -1 0.5 -1.4 0.5 -0.8 1 -0.9 1 -0.6 0.9 -0.3z"/>
<path fill="#ff4a00" d="M41.4 64l0.7 -0.4 1 -0.1 1 0.3 0.8 0.7 0.3 0.5 0.2 1 0 0.5 -0.2 0.5 -0.6 0.8 -0.5 0.3 -0.5 0.2 -1 0.1 -1 -0.3 -0.5 -0.3 -0.5 -0.7 -0.2 -0.6 0 -1 0.2 -0.7 0.5 -0.6 0.3 -0.2zM93.8 64l0.8 -0.4 1 -0.1 1 0.3 0.5 0.4 0.5 0.6 0.2 0.7 0 1 -0.2 0.6 -0.5 0.7 -1 0.5 -1 0.1 -1 -0.3 -0.8 -0.6 -0.3 -0.5 -0.2 -0.5 0 -1 0.2 -0.5 0.3 -0.5 0.5 -0.5zM34.5 108.9l0.1 -0.4 1.5 0.2 1.5 0.5 1 0.7 0.5 0.6 0.5 0.7 0.3 0.7 0.2 0.6 0.1 1.4 0 1.5 -0.1 1 -0.5 1.4 -0.5 0.8 -1 1 -1 0.6 -1 0.4 -1.5 0.2 -0.3 -6.4 0.2 -5.5zM101.3 108.9l0.8 -0.2 1 -0.2 0.3 5.9 -0.3 6.3 -1 -0.1 -1 -0.4 -1 -0.6 -0.5 -0.4 -0.5 -0.6 -0.5 -0.8 -0.5 -1.4 -0.1 -1 0 -2 0.1 -0.9 0.5 -1.3 0.5 -0.7 0.5 -0.6 1 -0.7 0.7 -0.3z"/>
<path fill="#ff4000" d="M41.5 64l0.6 -0.3 0.5 -0.1 1 0.1 0.5 0.3 0.5 0.4 0.4 0.6 0.2 0.5 0 0.5 0 0.5 -0.2 0.5 -0.4 0.5 -0.5 0.4 -1 0.4 -1 -0.1 -1 -0.5 -0.5 -0.6 -0.1 -0.6 0 -1 0.1 -0.7 0.5 -0.6 0.4 -0.2zM94.1 64l0.5 -0.3 1 -0.1 0.5 0.1 1 0.5 0.5 0.6 0.1 0.7 0 1 -0.1 0.6 -0.5 0.6 -1 0.5 -1 0.1 -0.9 -0.3 -0.6 -0.5 -0.4 -0.5 -0.2 -0.5 0 -0.5 0 -0.5 0.2 -0.5 0.3 -0.5 0.6 -0.5zM34.5 108.9l0.1 -0.1 0.5 0 1.5 0.3 1 0.4 1 0.7 0.5 0.5 0.7 1.2 0.3 0.7 0.1 1.3 0 1.5 -0.1 0.9 -0.5 1.3 -0.5 0.8 -1 0.9 -1 0.6 -1 0.3 -1.5 0.2 -0.2 -6 0.1 -5.5zM102.4 108.9l0.7 -0.1 0.2 5.6 -0.2 6 -1 -0.2 -1 -0.3 -1 -0.6 -0.5 -0.4 -0.5 -0.5 -0.5 -0.8 -0.5 -1.3 -0.1 -0.9 0 -2 0.1 -0.8 0.5 -1.2 0.4 -0.5 0.6 -0.7 0.5 -0.4 1 -0.5 1.3 -0.4z"/>
<path fill="#ff3500" d="M41.5 64l0.6 -0.2 0.5 -0.1 1 0.2 0.8 0.6 0.4 0.5 0.2 0.5 0 1 -0.2 0.5 -0.4 0.5 -0.3 0.2 -1 0.5 -1 0 -1 -0.5 -0.5 -0.7 -0.1 -0.5 0 -1 0.1 -0.6 0.5 -0.7 0.4 -0.2zM94.4 64l0.7 -0.3 1 0.1 1 0.4 0.5 0.7 0.1 0.6 0 1.5 -0.6 0.7 -1 0.5 -1 0 -1 -0.5 -0.5 -0.4 -0.4 -0.8 0 -1 0.2 -0.5 0.4 -0.5 0.6 -0.5zM34.5 109.4l0.1 -0.3 1.5 0.1 1.5 0.5 1 0.7 0.5 0.5 0.6 1 0.4 0.8 0.1 1.2 0 1.5 -0.1 0.8 -0.5 1.2 -0.5 0.7 -1 1 -1 0.5 -1 0.3 -1.5 0.2 -0.2 -5.7 0.1 -5zM101.4 109.4l1.7 -0.3 0.2 5.3 -0.2 5.7 -1.5 -0.3 -1.5 -0.7 -1 -1 -0.5 -0.7 -0.5 -1.2 -0.1 -0.8 0 -2 0.1 -0.7 0.5 -1.1 0.5 -0.7 0.5 -0.5 1 -0.7 0.8 -0.3z"/>
<path fill="#ff2a00" d="M41.7 64l0.4 -0.2 0.5 0 0.8 0.2 0.8 0.5 0.4 0.5 0.2 0.5 0.1 0.5 -0.1 0.5 -0.2 0.5 -0.4 0.5 -0.6 0.4 -0.5 0.2 -1 0 -1 -0.5 -0.5 -0.6 -0.1 -0.5 0 -1 0.1 -0.6 0.5 -0.6 0.6 -0.3zM94.8 64l0.8 -0.2 0.5 0 1 0.5 0.5 0.6 0.1 0.6 0 1 -0.1 0.5 -0.5 0.6 -0.5 0.3 -0.5 0.2 -1 0 -0.5 -0.2 -0.5 -0.3 -0.5 -0.6 -0.2 -0.5 -0.1 -0.5 0.1 -0.5 0.2 -0.5 0.4 -0.5 0.8 -0.5zM34.5 109.4l1.1 0 1 0.2 1 0.4 1 0.6 0.5 0.5 0.5 0.6 0.5 1.1 0.1 1.1 -0.1 1.5 0 0.7 -0.5 1.1 -0.5 0.7 -1 0.9 -1 0.5 -1 0.3 -1.5 0.2 -0.2 -5.4 0.1 -5zM102.7 109.4l0.4 0 0.1 1.5 0.1 4 -0.2 4.9 -1 -0.2 -1 -0.3 -1 -0.5 -0.5 -0.4 -1 -1.2 -0.5 -1.1 0 -0.7 0 -2 0 -0.6 0.5 -1.1 0.5 -0.6 0.5 -0.5 1 -0.6 1 -0.4 1.1 -0.2z"/>
<path fill="#ff2000" d="M41.9 64l0.7 -0.1 1 0.2 0.4 0.4 0.4 0.5 0.2 0.5 0.1 0.5 -0.1 0.5 -0.2 0.5 -0.4 0.5 -0.9 0.5 -0.5 0 -1 -0.1 -0.5 -0.3 -0.5 -0.6 -0.1 -0.5 0 -1 0.1 -0.5 0.5 -0.7 0.5 -0.3 0.3 0zM95.1 64l0.5 -0.1 1 0.1 0.5 0.3 0.5 0.7 0.1 0.5 0 1 -0.1 0.5 -0.5 0.6 -0.5 0.3 -1 0.1 -1 -0.2 -0.4 -0.3 -0.4 -0.5 -0.2 -0.5 -0.1 -0.5 0.1 -0.5 0.2 -0.5 0.4 -0.5 0.9 -0.5zM34.5 109.9l0.1 -0.3 1 0.1 1 0.2 1 0.3 1 0.6 0.5 0.4 0.5 0.7 0.5 1 0 1 0 1.5 0 0.6 -0.5 1.1 -0.5 0.7 -1 0.8 -1 0.5 -1 0.3 -1.5 0.1 -0.2 -5.1 0.1 -4.5zM101.4 109.9l1.7 -0.2 0.2 4.7 -0.2 5.1 -1.5 -0.3 -1.5 -0.6 -1 -0.8 -0.5 -0.7 -0.5 -1.1 0 -0.6 0 -2 0 -0.5 0.5 -1 0.5 -0.7 0.5 -0.4 1 -0.6 0.8 -0.3z"/>
<path fill="#ff1500" d="M42.1 64l1 0 0.5 0.3 0.7 0.7 0.2 0.5 0 0.5 0 0.5 -0.3 0.5 -0.6 0.6 -0.5 0.3 -0.5 0.1 -1 -0.2 -0.5 -0.3 -0.5 -0.6 -0.1 -0.4 0.1 -1.5 0.5 -0.6 0.5 -0.3 0.5 -0.1zM95.5 64l0.6 0 0.5 0.1 0.5 0.3 0.5 0.6 0.1 0.5 -0.1 1.4 -0.5 0.6 -0.5 0.3 -0.5 0.1 -1 0 -0.5 -0.3 -0.6 -0.6 -0.3 -0.5 0 -0.5 0 -0.5 0.2 -0.5 0.7 -0.7 0.9 -0.3zM34.5 109.9l1.1 0 1 0.2 1.5 0.5 1 0.8 0.5 0.6 0.5 1 0 0.4 0 2 0 0.5 -0.5 1 -0.5 0.7 -0.5 0.4 -1 0.7 -1 0.3 -1 0.2 -1 0 -0.2 -4.8 0.1 -4.5zM102.8 109.9l0.3 0 0.2 2.5 0 3 -0.2 3.8 -1 -0.1 -1 -0.3 -0.5 -0.1 -1 -0.7 -0.5 -0.4 -0.5 -0.7 -0.5 -1 0 -0.5 0 -2 0 -0.4 0.5 -1 0.5 -0.6 0.5 -0.4 1 -0.6 1 -0.3 1.2 -0.2z"/>
<path fill="#ff0b00" d="M41 64.5l0.6 -0.4 1 -0.1 0.5 0.1 0.5 0.3 0.5 0.5 0.2 0.6 0.1 0.5 -0.1 0.5 -0.2 0.5 -0.5 0.5 -0.5 0.3 -0.5 0.1 -1 -0.1 -0.5 -0.3 -0.5 -0.6 -0.1 -0.4 0.1 -1.5 0.4 -0.5zM94.6 64.5l0.5 -0.4 0.5 -0.1 1 0.1 0.5 0.3 0.5 0.6 0.1 0.5 -0.1 1.4 -0.5 0.6 -0.5 0.3 -1 0.1 -0.5 -0.1 -0.5 -0.3 -0.5 -0.5 -0.2 -0.5 -0.1 -0.5 0.1 -0.5 0.2 -0.5 0.5 -0.5zM34.5 110.4l0.1 -0.2 1.5 0 1 0.2 1 0.4 1 0.7 0.5 0.6 0.5 0.9 0 2.4 0 0.5 -0.5 0.9 -1 1.1 -0.5 0.3 -1 0.4 -1 0.2 -1.5 0.1 -0.2 -4.5 0.1 -4zM101.1 110.4l1 -0.2 1 0 0.2 4.2 -0.2 4.5 -1.5 -0.1 -1.5 -0.6 -1 -0.8 -0.5 -0.6 -0.5 -0.9 0 -2.5 0 -0.4 0.5 -0.9 1 -1 0.5 -0.3 1 -0.4z"/>
<path fill="#ff0000" d="M41.1 64.5l0.5 -0.3 1 -0.1 0.9 0.4 0.4 0.5 0.3 0.5 0 0.5 0 0.5 -0.3 0.5 -0.5 0.5 -0.8 0.3 -1 -0.1 -0.5 -0.2 -0.5 -0.6 -0.1 -0.4 0.1 -1.5 0.5 -0.5zM94.7 64.5l0.9 -0.4 1 0.1 0.5 0.3 0.5 0.5 0.1 0.5 -0.1 1.4 -0.5 0.6 -0.5 0.2 -1 0.1 -0.8 -0.3 -0.5 -0.5 -0.3 -0.5 0 -0.5 0 -0.5 0.3 -0.5 0.4 -0.5zM34.5 110.4l2.1 0.1 1.5 0.5 1 0.6 0.5 0.6 0.5 0.9 0 0.8 0 1.9 -0.5 1 -0.5 0.5 -0.5 0.4 -1 0.5 -1.5 0.4 -1.5 0.1 -0.2 -4.3 0.1 -4zM102.5 110.4l0.6 0 0.2 4 -0.2 4.3 -1 -0.1 -1 -0.2 -0.5 -0.2 -1 -0.5 -1 -0.9 -0.5 -1 0 -0.4 0 -2.3 0.5 -0.9 0.5 -0.6 1 -0.6 1 -0.4 1.4 -0.2z"/>
<path fill="#f40000" d="M41.1 64.5l0.5 -0.3 0.5 -0.1 0.5 0.1 0.7 0.3 0.5 0.5 0.2 0.5 0.1 0.5 -0.1 0.5 -0.2 0.5 -0.5 0.5 -0.7 0.2 -0.5 0.1 -0.5 -0.1 -0.5 -0.3 -0.5 -0.5 -0.1 -0.4 0.1 -1.4 0.5 -0.6zM94.9 64.5l0.7 -0.3 0.5 -0.1 0.5 0.1 0.5 0.3 0.5 0.6 0.1 0.4 -0.1 1.4 -0.5 0.5 -0.5 0.3 -0.5 0.1 -0.5 -0.1 -0.7 -0.2 -0.5 -0.5 -0.2 -0.5 -0.1 -0.5 0.1 -0.5 0.2 -0.5 0.5 -0.5zM34.5 110.9l0.1 -0.2 1.5 0 1 0.1 1 0.3 0.5 0.3 0.5 0.3 0.5 0.6 0.5 0.8 0 0.3 0 2.4 -0.5 0.9 -0.5 0.5 -0.5 0.4 -1.5 0.6 -1 0.2 -1.5 0 -0.2 -4 0.1 -3.5zM100.7 110.9l0.9 -0.2 1.5 0 0.2 3.7 -0.2 4 -1.5 -0.1 -1.5 -0.4 -1 -0.7 -0.5 -0.5 -0.5 -0.9 0 -0.9 0 -1.8 0.5 -0.8 0.5 -0.6 1 -0.6 0.6 -0.2z"/>
<path fill="#ea0000" d="M41.2 64.5l0.4 -0.3 0.5 0 0.5 0 0.5 0.3 0.6 0.5 0.2 0.5 0.1 0.5 -0.1 0.5 -0.2 0.5 -0.6 0.5 -0.5 0.2 -0.5 0 -0.5 0 -0.5 -0.3 -0.5 -0.6 -0.1 -0.3 0.1 -1.4 0.6 -0.6zM95.1 64.5l0.5 -0.3 0.5 0 0.5 0 0.5 0.3 0.5 0.6 0.1 1.4 -0.1 0.3 -0.5 0.6 -0.5 0.3 -0.5 0 -0.5 0 -0.5 -0.2 -0.6 -0.5 -0.2 -0.5 -0.1 -0.5 0.1 -0.5 0.2 -0.5 0.6 -0.5zM34.5 110.9l2.1 0 1.5 0.4 1 0.5 0.5 0.5 0.5 0.8 0 0.8 0 1.9 -0.5 0.8 -0.5 0.5 -0.5 0.3 -0.5 0.3 -1 0.3 -1 0.1 -1.5 0.1 -0.2 -3.8 0.1 -3.5zM101.6 110.9l1.5 0 0.2 3.5 -0.2 3.8 -1.5 -0.1 -1.5 -0.4 -1 -0.6 -0.5 -0.5 -0.5 -0.8 0 -2.4 0 -0.3 0.5 -0.8 0.5 -0.5 1 -0.5 1.5 -0.4z"/>
<path fill="#df0000" d="M41.3 64.5l0.3 -0.2 0.5 -0.1 0.5 0.1 0.5 0.2 0.4 0.5 0.3 0.5 0.1 0.5 -0.1 0.5 -0.3 0.5 -0.4 0.4 -0.5 0.2 -0.5 0.1 -0.5 -0.1 -0.5 -0.2 -0.5 -0.6 -0.1 -0.3 0.1 -1.4 0.5 -0.5 0.2 -0.1zM95.2 64.5l0.9 -0.3 0.5 0.1 0.5 0.3 0.5 0.5 0.1 0.4 -0.1 1.3 -0.5 0.6 -0.5 0.2 -0.5 0.1 -0.5 -0.1 -0.5 -0.2 -0.4 -0.4 -0.3 -0.5 -0.1 -0.5 0.1 -0.5 0.3 -0.5 0.5 -0.5zM34.5 111.4l0.1 -0.3 2 0 1 0.2 1 0.3 1 0.8 0.5 0.8 0 2.2 0 0.3 -0.5 0.8 -0.5 0.5 -0.5 0.3 -1 0.4 -1 0.2 -2 0 -0.1 -3.5 0 -3zM100.1 111.4l1 -0.2 2 -0.1 0.1 3.3 -0.1 3.5 -1.5 0 -1.5 -0.3 -1 -0.6 -0.5 -0.5 -0.5 -0.8 0 -0.8 0 -1.7 0.5 -0.8 0.5 -0.5 1 -0.5z"/>
<path fill="#d50000" d="M41.3 64.5l0.3 -0.2 0.5 0 0.7 0.2 0.6 0.5 0.3 0.5 0.1 0.5 -0.1 0.5 -0.3 0.5 -0.7 0.5 -0.6 0.1 -0.5 0 -0.5 -0.3 -0.5 -0.5 0 -1.7 0.5 -0.5 0.2 -0.1zM95.4 64.5l0.7 -0.2 0.5 0 0.5 0.3 0.5 0.5 0 1.7 -0.5 0.5 -0.5 0.3 -0.5 0 -0.6 -0.1 -0.7 -0.5 -0.3 -0.5 -0.1 -0.5 0.1 -0.5 0.3 -0.5 0.6 -0.5zM34.5 111.4l1.6 -0.1 1.5 0.1 1 0.3 0.5 0.3 0.5 0.5 0.5 0.7 0 2.2 0 0.3 -0.5 0.7 -0.5 0.5 -0.5 0.3 -1 0.4 -1 0.1 -2 0 -0.1 -3.3 0 -3zM100.5 111.4l1.1 -0.1 1.5 0.1 0.1 3 -0.1 3.3 -2 0 -1.5 -0.5 -1 -0.8 -0.5 -0.7 0 -2.5 0.5 -0.7 0.5 -0.5 0.5 -0.3 0.9 -0.3z"/>
<path fill="#ca0000" d="M41.4 64.5l0.7 -0.2 0.5 0.2 0.7 0.5 0.3 0.5 0.1 0.5 -0.1 0.5 -0.3 0.5 -0.7 0.5 -0.5 0.1 -0.5 -0.1 -0.5 -0.2 -0.5 -0.6 0 -1.5 0.5 -0.6 0.3 -0.1zM95.6 64.5l0.5 -0.2 0.5 0.1 0.5 0.2 0.5 0.6 0 1.5 -0.5 0.6 -0.5 0.2 -0.5 0.1 -0.5 -0.1 -0.7 -0.5 -0.3 -0.5 -0.1 -0.5 0.1 -0.5 0.3 -0.5 0.7 -0.5zM34.5 111.9l0.1 -0.3 2 -0.1 1 0 1 0.3 0.5 0.3 0.5 0.4 0.5 0.8 0 0.6 0 1.7 -0.5 0.8 -0.5 0.4 -0.5 0.3 -1 0.3 -1 0.1 -2 -0.1 -0.1 -3 0 -2.5zM99.5 111.9l0.6 -0.3 0.5 -0.1 1 0 1.5 0.1 0.1 2.8 -0.1 3 -2 0.1 -1 -0.2 -1 -0.5 -0.5 -0.4 -0.5 -0.8 0 -2.3 0.5 -0.8 0.5 -0.4 0.4 -0.2z"/>
<path fill="#bf0000" d="M41.5 64.5l0.6 -0.1 0.5 0.1 0.6 0.5 0.3 0.5 0.1 0.5 -0.1 0.5 -0.3 0.5 -0.6 0.4 -0.5 0.1 -0.5 0 -0.5 -0.2 -0.5 -0.6 0 -1.5 0.5 -0.5 0.4 -0.2zM95.8 64.5l0.3 -0.1 0.5 0 0.5 0.3 0.5 0.5 0 1.5 -0.5 0.6 -0.5 0.2 -0.5 0 -0.5 -0.1 -0.6 -0.4 -0.3 -0.5 -0.1 -0.5 0.1 -0.5 0.3 -0.5 0.8 -0.5zM34.5 111.9l0.1 0 2 -0.2 1 0 1 0.2 0.5 0.3 0.5 0.4 0.5 0.7 0 0.6 0 1.7 -0.5 0.7 -0.5 0.4 -0.5 0.3 -1 0.3 -1 0 -2 -0.2 -0.1 -2.7 0 -2.5zM99.6 111.9l0.5 -0.1 1 -0.1 2 0.1 0.1 2.6 -0.1 2.8 -2 0.1 -1 -0.1 -1 -0.5 -0.5 -0.4 -0.5 -0.7 0 -2.3 0.5 -0.7 0.5 -0.4 0.5 -0.3z"/>
<path fill="#b50000" d="M41.6 64.5l0.5 -0.1 0.5 0.2 0.5 0.4 0.3 0.5 0.1 0.5 -0.1 0.5 -0.3 0.5 -0.5 0.3 -0.5 0.2 -0.5 -0.1 -0.5 -0.2 -0.5 -0.5 -0.1 -0.2 0.1 -1.3 0.5 -0.5 0.5 -0.2zM96 64.5l0.6 0 0.5 0.2 0.5 0.5 0 1.5 -0.5 0.5 -0.5 0.2 -0.5 0.1 -0.5 -0.2 -0.5 -0.3 -0.3 -0.5 -0.1 -0.5 0.1 -0.5 0.3 -0.6 0.5 -0.3 0.4 -0.1zM36 111.9l1.6 -0.1 1 0.2 0.5 0.2 0.5 0.4 0.5 0.7 0 2.3 -0.5 0.7 -0.5 0.4 -1 0.4 -0.5 0 -1 0 -2 -0.2 0 -4.8 1.4 -0.2zM100 111.9l1.1 -0.1 2 0.3 0 4.8 -2 0.3 -1 -0.1 -1 -0.4 -0.5 -0.4 -0.5 -0.7 0 -2.3 0.5 -0.7 0.5 -0.4 0.9 -0.3z"/>
<path fill="#aa0000" d="M40.8 65l0.3 -0.3 0.5 -0.2 0.5 0 0.5 0.1 0.4 0.4 0.3 0.5 0.1 0.5 -0.1 0.5 -0.3 0.5 -0.4 0.3 -0.5 0.1 -0.5 0 -0.5 -0.2 -0.5 -0.5 -0.1 -0.2 0.1 -1.2 0.2 -0.3zM95.2 65l0.4 -0.4 0.5 -0.1 0.5 0 0.5 0.2 0.5 0.6 0 1.4 -0.5 0.5 -0.5 0.2 -0.5 0 -0.5 -0.1 -0.4 -0.3 -0.3 -0.5 -0.1 -0.5 0.1 -0.5 0.3 -0.5zM37.5 111.9l1.1 0.2 1 0.6 0.5 0.7 0 2.1 -0.5 0.7 -0.5 0.4 -1 0.4 -1 0 -2.5 -0.4 0 -4.2 2 -0.4 0.9 -0.1zM100.6 111.9l1 0.1 1.5 0.3 0 4.3 -2 0.4 -1 0 -1 -0.4 -0.5 -0.4 -0.5 -0.7 0 -2.1 0.5 -0.7 0.5 -0.4 0.5 -0.2 1 -0.2z"/>
<path fill="#9f0000" d="M40.9 65l0.2 -0.3 0.5 -0.1 0.5 0 0.5 0.1 0.3 0.3 0.3 0.5 0.1 0.5 -0.1 0.5 -0.3 0.5 -0.3 0.2 -0.5 0.2 -0.5 -0.1 -0.5 -0.1 -0.5 -0.6 -0.1 -0.1 0.1 -1.2 0.3 -0.3zM95.3 65l0.3 -0.3 0.5 -0.1 0.5 0 0.5 0.1 0.5 0.6 0 1.3 -0.5 0.6 -0.5 0.1 -0.5 0.1 -0.5 -0.2 -0.3 -0.2 -0.3 -0.5 -0.1 -0.5 0.1 -0.5 0.3 -0.5zM35.7 112.4l1.4 -0.3 1 0 0.5 0.1 1 0.5 0.5 0.7 0 0.5 0 1.6 -0.5 0.7 -1 0.6 -1 0.1 -1 -0.1 -2 -0.5 0 -3.6 1.1 -0.3zM99.1 112.4l0.5 -0.2 1 -0.2 1 0.2 1.5 0.4 0 3.8 -1.5 0.4 -1 0.1 -1 -0.1 -1 -0.6 -0.5 -0.7 0 -2.1 0.5 -0.7 0.5 -0.3z"/>
<path fill="#950000" d="M40.9 65l0.2 -0.2 0.5 -0.2 0.5 0 0.5 0.2 0.2 0.2 0.4 0.5 0.1 0.5 -0.2 0.5 -0.3 0.5 -0.7 0.3 -1 -0.2 -0.5 -0.5 -0.1 -0.1 0.1 -1.2 0.3 -0.3zM95.4 65l0.2 -0.2 0.5 -0.2 0.5 0 0.5 0.2 0.5 0.5 0 1.3 -0.5 0.5 -1 0.2 -0.7 -0.3 -0.3 -0.5 -0.2 -0.5 0.1 -0.5 0.4 -0.5zM36.3 112.4l0.8 -0.2 1 0 0.5 0 1 0.6 0.5 0.7 0 0.4 0 1.5 -0.5 0.7 -1 0.6 -1 0.1 -1 -0.2 -1.5 -0.5 -0.5 -0.1 0 -3 1.7 -0.6zM99.2 112.4l0.4 -0.2 1 0 1 0.2 1.5 0.5 0 3.2 -1.5 0.5 -1 0.2 -1 -0.1 -1 -0.6 -0.5 -0.7 0 -1.9 0.5 -0.7 0.6 -0.4z"/>
<path fill="#8a0000" d="M40.9 65l0.2 -0.2 1 -0.1 0.6 0.3 0.4 0.5 0.1 0.5 -0.1 0.5 -0.4 0.5 -0.6 0.2 -0.5 0 -0.5 -0.1 -0.5 -0.5 0 -1.3 0.3 -0.3zM95.5 65l0.6 -0.3 0.5 0 0.5 0.1 0.5 0.5 0 1.3 -0.5 0.5 -1 0.1 -0.6 -0.2 -0.4 -0.5 -0.1 -0.5 0.1 -0.5 0.4 -0.5zM36.8 112.4l0.8 -0.1 1 0 1 0.5 0.5 0.8 0 0.3 0 1.5 -0.5 0.7 -1 0.5 -1 0.1 -1 -0.3 -1.5 -0.7 -0.5 -0.2 0 -2.1 0.5 -0.1 1.7 -0.9zM99.4 112.4l0.7 -0.1 1 0.1 2 0.9 0 2.4 -1.5 0.7 -1 0.3 -1 -0.1 -1 -0.5 -0.5 -0.7 0 -1.8 0.5 -0.8 0.8 -0.4z"/>
<path fill="#800000" d="M41 65l0.1 -0.2 1 -0.1 0.5 0.3 0.4 0.5 0.1 0.5 -0.1 0.5 -0.4 0.5 -0.5 0.2 -1 -0.1 -0.5 -0.5 0 -1.2 0.4 -0.4zM95.6 65l0.5 -0.3 0.5 0 0.5 0.1 0.5 0.6 0 1.2 -0.5 0.5 -1 0.1 -0.5 -0.2 -0.4 -0.5 -0.1 -0.5 0.1 -0.5 0.4 -0.5zM37.3 112.4l0.8 -0.1 0.6 0.1 0.9 0.5 0.5 0.7 0 1.7 -0.5 0.7 -1 0.5 -1 0 -1 -0.3 -2 -1.3 0 -0.8 0.1 -0.2 0.4 -0.1 1.1 -0.9 1.1 -0.5zM99.5 112.4l0.6 -0.1 1 0.2 0.9 0.4 0.8 0.5 0.3 0.4 0 1.4 -0.9 0.7 -1.1 0.5 -0.5 0.1 -1 0 -1 -0.5 -0.5 -0.7 0 -1.7 0.5 -0.7 0.9 -0.5z"/>
<path fill="#20ffdf" d="M34.5 40.5l0.1 -0.2 0.5 0.1 2 0.2 1.5 0.4 1.5 0.7 0.2 20.3 0 12 -0.2 8.5 -2.5 0.6 -3 0.3 -0.3 -7.4 -0.2 -10 0.4 -25.5zM102 40.5l1.1 -0.1 0.5 25.6 -0.2 10 -0.3 7.4 -2.5 -0.3 -2.5 -0.6 -0.1 -3 -0.1 -7.5 0 -11 0.2 -19.3 2 -0.8 1.9 -0.4zM49.4 104.4l2.2 -0.1 3 0.2 2.5 0.3 7.5 1.4 2.5 0.3 2 0.1 2 -0.1 2.5 -0.3 8 -1.4 3 -0.4 3 -0.1 1.5 0.2 1.5 0.3 2 0.7 1 0.5 1 0.7 1 1 0.5 0.6 0.8 1.1 0.4 1 0.3 1.1 0.3 2.4 -0.3 3.5 -0.1 0.5 -0.5 1.5 -0.9 1.5 -1 1.2 -1.5 1.3 -1.5 1 -2 0.9 -2 0.6 -2 0.5 -2.5 0.2 -3 0.1 -9 -0.4 -3.5 0 -8.5 0.4 -3 0 -3.5 -0.2 -2 -0.3 -1.5 -0.4 -2 -0.7 -2 -1 -1.5 -1.1 -1.5 -1.5 -1 -1.4 -0.8 -1.7 -0.2 -1 -0.3 -2.5 0 -1 0.3 -2.4 0.1 -0.6 0.4 -0.9 0.5 -1 1 -1.3 1.5 -1.3 1.5 -0.9 2 -0.7 1.8 -0.4z"/>
<path fill="#15ffea" d="M34.5 43l0.1 -0.2 0.5 0.1 2 0.3 1.5 0.4 1.5 0.7 0.2 20.7 -0.1 9 -0.1 7.4 -1 0.3 -1.5 0.4 -1.5 0.2 -1.5 0.1 -0.3 -7.4 -0.2 -9 0.4 -23zM102.2 43l0.9 -0.1 0.5 23.1 -0.2 9 -0.3 7.4 -2.5 -0.3 -1.5 -0.4 -1 -0.3 -0.1 -3.4 -0.1 -16.5 0.2 -17.2 2 -0.9 2.1 -0.4zM49.3 105.4l2.8 0.1 2.5 0.4 2.5 0.6 7.5 2.3 2.5 0.4 2 0.2 2 -0.2 2.5 -0.4 7.7 -2.4 3.3 -0.7 2 -0.2 1.5 -0.1 1.5 0.1 1.5 0.3 1.5 0.5 1.5 0.7 1.5 1.2 1 1.3 0.5 0.9 0.5 1.4 0.2 2.1 0 1 -0.2 2.2 -0.5 1.5 -1 1.7 -1 1.1 -1 0.8 -1.5 1 -1 0.4 -1.5 0.6 -2 0.4 -2.5 0.2 -3 -0.1 -3 -0.3 -7 -1.3 -3.5 -0.2 -3.5 0.2 -7.4 1.3 -3.1 0.4 -2 0 -1.5 0 -1.5 -0.2 -1.5 -0.3 -2 -0.7 -2 -1 -1.5 -1.2 -1 -1.1 -1 -1.7 -0.5 -1.5 -0.2 -2.2 0 -1 0.2 -2.1 0.2 -0.9 0.8 -1.4 1 -1.3 1.5 -1.2 1.5 -0.7 2 -0.6 1.7 -0.3z"/>
<path fill="#0bfff4" d="M34.5 45l1.6 0.1 1.5 0.3 1.5 0.6 1 0.5 0.2 18.5 -0.1 8.5 -0.1 6.8 -1 0.4 -1.5 0.5 -1.5 0.2 -1.5 0.1 -0.3 -7.5 -0.1 -8 0.3 -21zM100.6 45.5l1 -0.3 1.5 -0.2 0.4 21 -0.1 8 -0.3 7.5 -2.5 -0.3 -1.5 -0.5 -1 -0.4 -0.1 -6.8 -0.1 -8.5 0.2 -18.5 1 -0.5 1.5 -0.5zM47.7 106.4l1.9 0 2 0.1 2 0.5 2.5 0.9 2.4 1 1.8 1 6.8 4.3 1 0.4 1 0.2 1 -0.2 1 -0.4 6.8 -4.3 2.9 -1.5 2.3 -0.9 2.5 -0.8 2 -0.3 2 0 2 0.2 2 0.7 1.5 1 1 0.9 1 1.5 0.5 1.3 0.2 1.9 0 1 -0.2 2 -0.5 1.4 -0.5 0.8 -1 1.3 -1 0.8 -1.5 1 -1 0.4 -1.5 0.5 -1.5 0.2 -2 0.1 -2 -0.1 -2 -0.3 -2 -0.6 -2.7 -1 -2.2 -1 -5.6 -3.1 -1 -0.3 -0.5 -0.1 -0.5 0.1 -1 0.3 -4.7 2.6 -2 1 -2.3 1 -2 0.7 -2.5 0.6 -2 0.2 -2 0 -2 -0.2 -1.5 -0.4 -1.5 -0.6 -1.5 -1 -1 -0.8 -1 -1.3 -0.5 -0.8 -0.5 -1.4 -0.2 -2 0 -1 0.2 -1.9 0.5 -1.3 1 -1.5 1 -0.9 1.5 -1 1.5 -0.5 1.6 -0.4z"/>
<path fill="#00ffff" d="M34.5 47l0.1 -0.2 0.5 0 2 0.3 1.5 0.6 1.5 0.7 0.2 16.6 -0.2 14.3 -1 0.5 -1.5 0.4 -1.5 0.3 -1.5 0.1 -0.3 -7.6 -0.1 -7 0.3 -19zM102 47l1.1 -0.2 0.4 19.2 -0.1 7 -0.3 7.6 -2 -0.2 -1.5 -0.5 -1.5 -0.6 0 -0.3 -0.2 -14 0.2 -16.6 2 -0.9 1.9 -0.5zM45.9 107.4l1.2 -0.2 1.5 0 1.5 0.1 1.5 0.3 1.5 0.5 1.5 0.7 1.1 0.6 1.4 1 1.2 1 0.8 1 0.7 1 0.4 1 0.1 1 -0.1 1 -0.5 1 -0.3 0.5 -1.5 1.5 -1.8 1.2 -2 0.9 -2.5 0.7 -2.5 0.2 -2 -0.3 -2 -0.6 -1 -0.5 -1 -0.6 -1 -1 -0.5 -0.6 -0.5 -0.8 -0.5 -1.3 -0.2 -1.8 0 -1 0.2 -1.7 0.5 -1.2 0.5 -0.8 1 -1.1 1.5 -1 1.8 -0.7zM87.4 107.4l1.7 -0.2 1.5 0 1.5 0.2 1.5 0.5 1.5 0.8 1 0.9 0.5 0.6 0.5 0.8 0.4 0.9 0.1 0.3 0.2 1.7 0 1 -0.2 1.8 -0.5 1.3 -0.5 0.8 -0.5 0.6 -1 1 -1 0.6 -1.5 0.7 -2 0.5 -2 0.2 -2 -0.2 -2 -0.5 -2 -0.8 -2 -1.2 -1.4 -1.3 -0.4 -0.5 -0.6 -1 -0.3 -1 0 -0.5 0.1 -1 0.7 -1.5 1.2 -1.5 1.8 -1.5 1.7 -1 2.2 -1 1.8 -0.5z"/>
<path fill="#00f4ff" d="M34.5 48.5l0.1 -0.1 1 0 1.5 0.3 1.5 0.6 1.5 0.8 0.2 14.9 -0.2 13.3 -1 0.5 -1.5 0.6 -1.5 0.3 -1.5 0.1 -0.3 -7.3 -0.1 -6.5 0.3 -17.5zM102.5 48.5l0.6 -0.1 0.3 12.1 0.1 8 -0.4 11.3 -1.5 -0.2 -1 -0.2 -1.5 -0.6 -1 -0.5 -0.1 -3.8 -0.1 -9.5 0.2 -14.9 1 -0.6 1 -0.4 1 -0.4 1.4 -0.2zM46.1 107.9l1.5 -0.1 1.2 0.1 1.3 0.3 1.5 0.5 1 0.5 1.2 0.7 1.2 1 0.9 1 0.6 1 0.4 1 0.2 1 -0.1 1 -0.3 1 -0.6 1 -0.9 1 -0.6 0.5 -1.7 1 -1.8 0.7 -1.8 0.3 -1.7 0.1 -2 -0.4 -1.5 -0.5 -1.5 -1 -1 -1.1 -0.5 -0.8 -0.5 -1.2 -0.2 -1.6 0 -1 0.2 -1.5 0.1 -0.5 0.4 -0.7 0.5 -0.8 0.5 -0.5 1 -0.8 1.5 -0.8 1.5 -0.4zM89.4 107.9l1.2 -0.1 1.5 0.1 1.5 0.4 1 0.5 1 0.6 1 1 0.5 0.8 0.5 1.2 0.2 1.5 0 1 -0.2 1.6 -0.5 1.2 -0.5 0.8 -1 1.1 -1 0.7 -1.5 0.7 -1.5 0.4 -1.5 0.1 -2 -0.2 -1.5 -0.4 -1.5 -0.6 -1.5 -0.9 -1.1 -1 -0.7 -1 -0.5 -1 -0.1 -0.5 -0.1 -1 0.3 -1.5 0.9 -1.5 0.9 -1 1.2 -1 1.7 -1 1.5 -0.6 1.8 -0.4z"/>
<path fill="#00eaff" d="M34.5 50l0.1 -0.3 0.5 0.1 2 0.3 1.5 0.6 1.5 0.9 0.2 13.4 -0.2 12.3 -1 0.7 -1.5 0.6 -1.5 0.3 -1.5 0.1 -0.3 -7 -0.1 -6 0.3 -16zM101.8 50l1.3 -0.2 0.4 16.2 -0.1 6 -0.3 7 -1.5 -0.2 -1 -0.2 -1.5 -0.6 -1 -0.7 -0.2 -12.3 0.2 -13.4 1.5 -0.9 1 -0.4 1.2 -0.3zM46.4 108.4l1.2 0.1 1.5 0.2 1.5 0.6 1 0.5 0.9 0.6 1 1 0.7 1 0.5 1 0.2 1 0 1 -0.2 1 -0.6 1 -0.8 1 -0.7 0.7 -1 0.6 -1.5 0.7 -1.5 0.3 -1.5 0.1 -1.5 -0.2 -1.5 -0.5 -1 -0.5 -1 -0.8 -1 -1.3 -0.5 -1.1 -0.2 -1.5 0 -1 0.2 -1.4 0.5 -1.1 0.5 -0.7 1 -1 1 -0.6 1.5 -0.5 1.3 -0.2zM91 108.4l1.1 0.1 1.5 0.2 1.5 0.7 1 0.7 0.5 0.6 0.5 0.7 0.5 1.1 0.2 1.4 0 1 -0.2 1.5 -0.5 1.1 -0.5 0.8 -1 1 -1.5 0.8 -1 0.4 -1 0.2 -1.5 0.1 -1.5 -0.2 -1.5 -0.4 -1 -0.5 -1.2 -0.8 -1 -1 -0.6 -1 -0.4 -1 -0.1 -1 0.1 -1 0.6 -1.5 0.7 -1 1 -1 1.4 -0.9 1 -0.4 1.5 -0.5 1.4 -0.2z"/>
<path fill="#00dfff" d="M34.5 51l1.6 0.1 1.5 0.4 1.5 0.8 1 0.7 0.2 12 -0.2 11.4 -1 0.7 -1.5 0.7 -1.5 0.4 -1.5 0.1 -0.3 -6.8 -0.1 -5.5 0.3 -15zM100.9 51.5l1.2 -0.4 1 -0.1 0.4 15 -0.1 5.5 -0.3 6.8 -1.5 -0.2 -1 -0.3 -1.5 -0.7 -1 -0.7 -0.2 -11.4 0.2 -12 1.5 -1 1.3 -0.5zM45.8 108.9l1.3 0.1 1 0.2 1.5 0.5 1 0.6 0.8 0.6 0.9 1 0.6 1 0.3 1 0.1 1 -0.2 1 -0.4 1 -0.7 1 -0.9 0.9 -1 0.6 -1 0.4 -1 0.3 -1.5 0.1 -1 -0.1 -1 -0.2 -1 -0.3 -1 -0.6 -1 -0.9 -0.5 -0.7 -0.5 -1.1 -0.2 -1.4 0 -1 0.2 -1.3 0.5 -1.1 1 -1.1 1 -0.7 1.5 -0.6 1.2 -0.2zM91.6 108.9l1.5 0.1 1 0.3 1 0.4 1 0.7 0.5 0.5 0.7 1 0.3 0.7 0.2 1.3 0 1 -0.2 1.4 -0.5 1.1 -1 1.2 -1 0.7 -1 0.5 -1 0.3 -1.5 0.1 -1.5 -0.1 -1 -0.3 -1 -0.4 -1 -0.6 -0.9 -0.9 -0.7 -1 -0.4 -1 -0.2 -1 0.1 -1 0.3 -1 0.6 -1 0.9 -1 1.3 -0.9 1 -0.5 1 -0.3 1.5 -0.3z"/>
<path fill="#00d4ff" d="M34.5 52.5l0.1 -0.5 1.5 0.2 1 0.3 1.5 0.6 1.5 1.2 0.2 10.7 -0.2 10.5 -1 0.8 -1.5 0.8 -1.5 0.4 -1.5 0.2 -0.3 -6.7 -0.1 -5 0.3 -13.5zM101.2 52.5l0.9 -0.3 1 -0.1 0.4 13.9 -0.1 5 -0.3 6.6 -1.5 -0.2 -1.5 -0.5 -1 -0.6 -1 -0.8 -0.2 -10.5 0.2 -10.7 1.5 -1.2 1.6 -0.6zM44.7 109.4l0.9 0 1 0 1 0.2 1 0.4 1 0.5 1 0.9 0.5 0.5 0.5 1 0.4 1 0 1 -0.2 1 -0.2 0.5 -0.6 1 -0.4 0.5 -1 0.8 -1 0.5 -1 0.3 -1.5 0.2 -1.5 -0.1 -1 -0.3 -1 -0.6 -1 -0.8 -0.5 -0.7 -0.5 -1 -0.2 -1.3 0 -1 0.2 -1.2 0.5 -1 0.5 -0.7 1 -0.8 1 -0.5 1.1 -0.3zM91.5 109.4l1.6 0 1 0.2 1 0.4 1 0.6 0.5 0.4 0.5 0.7 0.5 1 0.2 1.2 0 1 -0.2 1.3 -0.5 1 -0.5 0.7 -1 0.8 -1 0.6 -1 0.3 -1 0.1 -1.5 -0.1 -1 -0.2 -1.1 -0.5 -0.9 -0.5 -0.9 -1 -0.6 -1 -0.4 -1 0 -1 0.2 -1 0.4 -1 0.8 -1 0.5 -0.5 1 -0.7 1 -0.4 1.4 -0.4z"/>
<path fill="#00caff" d="M34.5 53.5l0.1 -0.5 1.5 0.2 1 0.3 1.5 0.7 1 0.7 0.5 0.5 0.1 9.6 -0.1 9.7 -1 0.9 -1.5 0.8 -1.5 0.5 -1.5 0.1 -0.3 -6 -0.1 -5 0.3 -12.5zM101.1 53.5l1 -0.3 1 -0.2 0.4 13 -0.4 11 -1.5 -0.2 -1.5 -0.6 -1 -0.6 -1 -0.9 -0.1 -9.7 0.1 -9.6 0.5 -0.5 1 -0.7 1.5 -0.7zM43.8 109.9l0.8 -0.1 1 -0.1 1 0.2 1 0.3 1.5 0.8 0.5 0.5 0.7 0.9 0.5 1 0.1 0.5 0.1 1 -0.2 1 -0.5 1 -0.4 0.5 -0.6 0.5 -0.7 0.6 -1 0.4 -1 0.3 -1 0.1 -1 -0.1 -1 -0.2 -1 -0.5 -1 -0.8 -0.5 -0.6 -0.5 -1 -0.2 -1.2 0 -1 0.2 -1.1 0.5 -1 0.5 -0.6 1 -0.8 1.2 -0.5zM91.3 109.9l0.8 -0.1 1 -0.1 1 0.2 1 0.3 1 0.6 0.5 0.4 0.5 0.6 0.5 1 0.2 1.1 0 1 -0.2 1.2 -0.5 1 -0.5 0.6 -0.5 0.5 -1 0.6 -1 0.3 -1 0.2 -1.5 -0.1 -1 -0.3 -1 -0.5 -1 -0.7 -0.7 -0.8 -0.5 -1 -0.2 -1 0.1 -1 0.1 -0.5 0.5 -1 0.7 -0.9 0.6 -0.6 0.9 -0.5 1.2 -0.5z"/>
<path fill="#00bfff" d="M34.5 54l0.1 -0.1 1.5 0.2 1.5 0.5 1.5 0.9 1 1 0.1 8.5 -0.1 8.8 -1 1.1 -1.5 0.9 -1.5 0.5 -1.5 0.1 -0.4 -10.4 0.3 -12zM102.6 54l0.5 -0.1 0.3 8.1 0.1 6 -0.4 8.4 -1.5 -0.3 -1.5 -0.5 -1 -0.7 -1 -1.1 -0.1 -6.8 0.1 -10.5 1 -1 1 -0.7 1 -0.5 1.5 -0.3zM43 110.4l0.6 -0.2 1 -0.1 1 0 1 0.2 1.5 0.7 0.5 0.4 0.9 1 0.2 0.5 0.3 1 0.1 0.5 -0.1 1 -0.1 0.5 -0.6 1 -1 1 -0.9 0.5 -0.8 0.3 -1 0.2 -1 0 -1 -0.2 -1 -0.4 -1 -0.7 -0.5 -0.6 -0.5 -1 -0.2 -1.1 0 -1 0.2 -1 0.5 -1 0.5 -0.6 1 -0.7 0.4 -0.2zM91.3 110.4l0.8 -0.2 1 -0.1 1.5 0.1 1 0.4 0.5 0.3 0.5 0.4 0.5 0.6 0.3 0.5 0.2 0.5 0.2 1 0 1 -0.2 1.1 -0.5 1 -0.5 0.6 -1 0.7 -1 0.4 -1 0.2 -1 0 -1 -0.2 -0.8 -0.3 -0.9 -0.5 -0.6 -0.5 -0.7 -1 -0.3 -0.5 -0.2 -1 0.1 -1 0.3 -1 0.6 -1 0.5 -0.5 0.7 -0.5 1 -0.5z"/>
<path fill="#00b5ff" d="M34.5 55l0.1 -0.4 1 0.1 1 0.3 1 0.4 1.5 1 1 1.1 0.1 7.5 -0.1 8 -0.5 0.7 -0.5 0.5 -1 0.8 -1.5 0.6 -1 0.2 -1 0.1 -0.4 -9.9 0.3 -11zM101.7 55l1.4 -0.3 0.4 11.3 -0.4 9.9 -1.5 -0.3 -1.5 -0.6 -1 -0.8 -0.5 -0.5 -0.5 -0.7 -0.1 -8 0.1 -7.5 0.5 -0.6 1 -0.9 1 -0.6 1.1 -0.4zM43.7 110.4l0.9 -0.1 1 0.1 1.4 0.5 0.8 0.5 0.5 0.5 0.4 0.5 0.5 1 0.1 0.5 0 1 0 0.5 -0.5 1 -0.8 1 -0.7 0.5 -0.7 0.4 -1 0.3 -1 0 -1.5 -0.3 -1 -0.5 -0.5 -0.4 -0.5 -0.5 -0.5 -1 -0.2 -1 0 -1 0.2 -1 0.5 -0.9 1 -0.9 1 -0.5 0.6 -0.2zM92.6 110.4l1.5 0 1 0.2 0.5 0.2 1 0.7 0.5 0.5 0.5 0.9 0.2 1 0 1 -0.2 1 -0.2 0.5 -0.3 0.5 -1 0.9 -0.5 0.3 -1 0.4 -1 0.1 -1 0 -1.5 -0.5 -0.9 -0.7 -0.5 -0.5 -0.3 -0.5 -0.5 -1 0 -0.5 0 -1 0.3 -1 0.3 -0.5 0.4 -0.5 0.7 -0.6 1 -0.6 1 -0.3z"/>
<path fill="#00aaff" d="M34.5 55.5l0.1 -0.2 1.5 0.2 1.5 0.6 1 0.6 0.5 0.5 0.9 1.3 0.2 6.5 -0.1 7.2 -0.2 0.3 -0.8 1.1 -0.5 0.5 -1 0.6 -1.5 0.5 -1.5 0.2 -0.3 -9.4 0.2 -10.5zM102.5 55.5l0.6 -0.1 0.3 6.1 0 6 -0.3 7.8 -1.5 -0.2 -1 -0.4 -1 -0.6 -1 -1.1 -0.5 -0.8 -0.1 -5.2 0.1 -8.4 0.8 -1.1 1.1 -1 1.1 -0.6 1.4 -0.4zM42.7 110.9l0.4 -0.1 1 -0.2 1.5 0.2 1.4 0.6 1 1 0.5 1 0.2 0.5 0 1 -0.3 1 -0.2 0.5 -0.4 0.5 -0.7 0.6 -0.7 0.4 -0.8 0.3 -1.5 0.1 -1 -0.1 -1 -0.5 -1 -0.9 -0.5 -0.9 -0.2 -1 0 -1 0.2 -0.9 0.5 -0.9 0.5 -0.5 0.5 -0.4 0.6 -0.3zM92.1 110.9l1 -0.2 1.5 0 0.5 0.1 1 0.4 1 0.9 0.5 0.9 0.1 0.4 0.1 0.5 -0.1 1.5 -0.1 0.5 -0.5 0.9 -1 0.9 -1 0.5 -0.5 0.1 -1 0.1 -1 -0.2 -0.8 -0.3 -0.7 -0.4 -0.7 -0.6 -0.4 -0.5 -0.2 -0.5 -0.3 -1 0 -1 0.2 -0.5 0.5 -1 0.4 -0.5 0.6 -0.5 0.9 -0.5z"/>
<path fill="#009fff" d="M34.5 56.5l0 -0.5 1.6 0.2 1 0.3 1 0.6 0.5 0.4 1 1.1 0.5 0.9 0.1 5.5 -0.1 6.4 -0.5 1 -1 1.1 -1 0.7 -1.5 0.5 -1.5 0.2 -0.3 -8.9 0.2 -9.5zM101.3 56.5l0.8 -0.3 1 -0.2 0.3 10 -0.3 8.9 -1.5 -0.3 -1.5 -0.7 -1 -0.9 -0.5 -0.6 -0.5 -1 -0.1 -6.4 0.1 -5.5 0.5 -0.9 0.5 -0.7 1 -0.8 1.2 -0.6zM43.2 110.9l1.4 0 1 0.2 0.5 0.2 0.9 0.6 0.4 0.5 0.6 1 0.2 1 -0.1 0.5 -0.2 1 -0.8 1.1 -0.6 0.4 -0.9 0.5 -1.5 0.2 -0.5 0 -1 -0.3 -1 -0.6 -0.5 -0.5 -0.5 -0.8 -0.2 -1 0 -1 0.2 -0.9 0.5 -0.8 0.5 -0.5 1 -0.6 0.6 -0.2zM93.2 110.9l1.4 0 1 0.2 1 0.6 0.5 0.5 0.5 0.8 0.2 0.9 0 1 -0.2 1 -0.5 0.8 -0.5 0.5 -0.5 0.4 -1 0.4 -0.5 0.1 -1 0 -0.8 -0.2 -0.7 -0.2 -1 -0.8 -0.5 -0.5 -0.4 -1 -0.2 -1 0.1 -0.5 0.3 -1 0.4 -0.5 0.4 -0.5 0.7 -0.5 1.3 -0.5z"/>
<path fill="#0095ff" d="M34.5 57l0.1 -0.4 0.5 0 1 0.2 1 0.3 1.3 0.9 0.9 1 0.3 0.5 0.5 1 0.1 4.5 -0.1 5.6 -0.5 1.2 -0.5 0.7 -0.5 0.5 -1 0.7 -1.5 0.5 -1.5 0.2 -0.3 -8.4 0.2 -9zM101.6 57l1.5 -0.4 0.3 9.4 -0.3 8.4 -1.5 -0.3 -1.5 -0.7 -1 -0.9 -0.4 -0.5 -0.6 -1.4 -0.1 -5.6 0.1 -4.5 0.5 -1.2 0.7 -0.8 0.8 -0.8 1.5 -0.7zM42.2 111.4l0.4 -0.2 1 -0.2 1 0.1 0.5 0.1 0.5 0.2 0.8 0.5 0.9 1 0.2 0.5 0.2 1 -0.2 1 -0.5 1 -0.9 0.9 -1 0.4 -0.5 0.2 -1 0 -1 -0.2 -0.5 -0.3 -0.5 -0.3 -0.5 -0.5 -0.5 -0.8 -0.2 -0.9 0 -1 0.2 -0.8 0.5 -0.8 0.5 -0.5 0.6 -0.4zM92.6 111.4l1 -0.3 0.5 -0.1 1 0.1 1 0.4 0.5 0.3 0.5 0.5 0.5 0.8 0.2 0.8 0 1 -0.2 0.9 -0.5 0.8 -0.5 0.5 -1 0.6 -0.5 0.1 -1.5 0.1 -1.2 -0.5 -0.7 -0.5 -0.5 -0.5 -0.3 -0.5 -0.4 -1 0 -0.5 0.2 -1 0.6 -1 0.5 -0.5 0.8 -0.5z"/>
<path fill="#008aff" d="M34.5 57.5l0.1 -0.4 1 0.1 1 0.3 1.5 0.8 1 0.9 0.5 0.8 0.5 1.4 0.1 3.6 -0.1 4.9 -0.4 1.1 -0.3 0.5 -0.8 1 -1 0.7 -1.5 0.6 -1.5 0.2 -0.3 -8 0.2 -8.5zM101.7 57.5l1.4 -0.4 0.3 8.9 -0.3 8 -1 -0.2 -1 -0.3 -1 -0.6 -0.5 -0.4 -0.5 -0.5 -0.5 -0.7 -0.5 -1.4 -0.1 -4.9 0.1 -3.6 0.2 -0.4 0.4 -1 0.4 -0.8 0.5 -0.5 1 -0.8 1.1 -0.4zM42.4 111.4l1.2 -0.2 0.5 0 0.8 0.2 1 0.5 0.6 0.5 0.3 0.5 0.4 1 0 1 -0.1 0.5 -0.6 1 -0.9 0.8 -0.5 0.3 -1 0.2 -1 0 -0.5 -0.2 -1 -0.5 -0.5 -0.4 -0.5 -0.8 -0.2 -0.9 0 -1 0.2 -0.8 0.5 -0.8 0.5 -0.4 0.8 -0.5zM93.3 111.4l0.8 -0.2 0.5 0 1 0.2 1 0.5 0.5 0.4 0.5 0.8 0.2 0.8 0 1 -0.2 0.9 -0.5 0.8 -1 0.7 -1 0.4 -1 0 -0.5 -0.1 -0.5 -0.2 -0.9 -0.5 -0.5 -0.5 -0.4 -0.5 -0.3 -1 0 -1 0.1 -0.5 0.6 -1 0.6 -0.5 1 -0.5z"/>
<path fill="#0080ff" d="M34.5 58l0.1 -0.4 0.5 0 1 0.2 1 0.4 1 0.6 1 1 0.5 0.8 0.4 1.4 0.2 3 0 2 -0.1 2.3 -0.4 1.2 -0.6 1 -0.5 0.6 -0.5 0.4 -1 0.6 -1 0.3 -1.5 0.2 -0.3 -7.6 0.2 -8zM101.7 58l1.4 -0.4 0.3 8.4 -0.3 7.6 -1 -0.2 -1 -0.3 -1 -0.6 -0.5 -0.4 -0.5 -0.5 -0.5 -0.8 -0.5 -1.5 -0.1 -2.3 0 -2 0.1 -2.8 0.2 -0.7 0.4 -1 0.4 -0.7 0.5 -0.6 1 -0.7 1.1 -0.5zM42.9 111.4l1.2 0 0.5 0.1 0.8 0.4 0.6 0.5 0.4 0.5 0.4 1 0 1 -0.3 1 -0.4 0.5 -0.5 0.5 -1 0.5 -1 0.1 -0.5 0 -1 -0.3 -1 -0.7 -0.5 -0.7 -0.2 -0.9 0 -1 0.2 -0.8 0.5 -0.7 0.5 -0.4 0.5 -0.3 0.8 -0.3zM94.1 111.4l1 0 1 0.3 1 0.7 0.5 0.7 0.2 0.8 0 1 -0.2 0.9 -0.5 0.7 -0.5 0.4 -0.5 0.3 -0.5 0.2 -0.5 0.1 -1 0 -1 -0.3 -0.4 -0.3 -0.6 -0.5 -0.4 -0.5 -0.3 -1 0 -1 0.4 -1 0.4 -0.5 0.6 -0.5 0.8 -0.4 0.5 -0.1z"/>
<path fill="#0075ff" d="M34.5 58.5l0.1 -0.4 1.5 0.2 1.5 0.6 1 0.8 0.5 0.6 0.3 0.7 0.4 1 0.3 0.9 0.1 2.1 0 2 -0.1 1.8 -0.5 1.6 -0.5 0.8 -1 0.9 -1 0.6 -1 0.3 -1.5 0.2 -0.3 -7.2 0.2 -7.5zM101.6 58.5l1.5 -0.4 0.3 7.9 -0.3 7.2 -1 -0.2 -1 -0.3 -1 -0.6 -0.5 -0.4 -0.5 -0.5 -0.5 -0.8 -0.5 -1.6 -0.1 -1.8 0 -2 0.1 -2.1 0.3 -0.9 0.4 -1 0.3 -0.7 0.5 -0.6 1 -0.8 1 -0.4zM41.8 111.9l0.8 -0.3 0.5 -0.1 1 0.1 1 0.4 0.5 0.4 0.4 0.5 0.5 1 0 1 -0.4 1 -0.4 0.5 -0.6 0.5 -1 0.4 -0.5 0.1 -1 -0.1 -1 -0.4 -0.5 -0.5 -0.5 -0.7 -0.2 -0.8 0 -1 0.2 -0.7 0.5 -0.7 0.7 -0.6zM93.3 111.9l0.8 -0.3 0.5 -0.1 1 0.1 1 0.4 0.5 0.5 0.5 0.7 0.2 0.7 0 1 -0.2 0.8 -0.5 0.7 -0.5 0.5 -1 0.4 -1 0.1 -0.5 -0.1 -1 -0.4 -0.6 -0.5 -0.4 -0.5 -0.4 -1 0 -1 0.5 -1 0.4 -0.5 0.7 -0.5z"/>
<path fill="#006aff" d="M34.5 59l0.1 -0.5 1.5 0.2 1.5 0.7 1 0.7 0.5 0.7 0.6 1.2 0.4 1.3 0.1 1.7 0 2 -0.1 1.4 -0.5 1.6 -0.5 0.8 -1 1 -1 0.5 -1 0.4 -1.5 0.2 -0.3 -6.9 0.2 -7zM101.4 59l0.7 -0.3 1 -0.2 0.3 7.5 -0.3 6.8 -1 -0.1 -1 -0.4 -1 -0.5 -0.5 -0.4 -0.5 -0.6 -0.5 -0.8 -0.5 -1.6 -0.1 -1.4 0 -2 0.1 -1.7 0.4 -1.3 0.6 -1.2 0.5 -0.7 1 -0.7 0.8 -0.4zM42 111.9l0.6 -0.2 0.5 0 1 0.1 0.5 0.2 0.7 0.4 0.4 0.5 0.3 0.5 0.2 1 -0.2 1 -0.2 0.5 -0.5 0.5 -0.7 0.5 -1 0.3 -1 0 -1 -0.4 -0.5 -0.4 -0.5 -0.7 -0.2 -0.8 0 -1 0.2 -0.7 0.5 -0.7 0.5 -0.4 0.4 -0.2zM93.7 111.9l0.9 -0.2 0.5 0 1 0.2 0.5 0.2 0.5 0.4 0.5 0.7 0.2 0.7 0 1 -0.2 0.8 -0.5 0.7 -0.5 0.4 -1 0.4 -1 0 -0.5 -0.1 -1 -0.5 -0.7 -0.7 -0.4 -1 0 -0.5 0.2 -1 0.3 -0.5 0.4 -0.5 0.8 -0.5z"/>
<path fill="#0060ff" d="M34.5 59l1.1 0 1 0.3 1 0.4 1 0.8 0.5 0.6 0.6 1.4 0.4 1.1 0.1 1.4 0 2 -0.1 1.2 -0.5 1.5 -0.5 0.8 -1 0.9 -1 0.6 -1 0.3 -1.5 0.2 -0.3 -6.5 0.2 -7zM102.9 59l0.2 -0.1 0.3 5.6 -0.1 3.5 -0.2 4.5 -1 -0.2 -1 -0.3 -1 -0.6 -0.5 -0.4 -0.5 -0.5 -0.5 -1 -0.5 -1.3 -0.1 -1.2 0 -2 0.1 -1.4 0.5 -1.6 0.5 -0.9 0.5 -0.6 1 -0.8 1 -0.4 1.3 -0.3zM42.2 111.9l0.9 -0.1 1 0.2 0.8 0.4 0.5 0.5 0.3 0.5 0.2 1 -0.2 1 -0.2 0.5 -0.5 0.5 -0.9 0.5 -1 0.2 -1 -0.2 -0.5 -0.2 -0.5 -0.4 -0.5 -0.6 -0.2 -0.8 0 -1 0.2 -0.7 0.5 -0.6 0.5 -0.4 0.6 -0.3zM94.2 111.9l0.9 -0.1 1 0.2 0.5 0.2 0.5 0.4 0.5 0.6 0.2 0.7 0 1 -0.2 0.8 -0.5 0.6 -0.5 0.4 -1 0.4 -1 0 -0.5 -0.1 -0.9 -0.6 -0.5 -0.5 -0.2 -0.5 -0.2 -1 0.2 -1 0.3 -0.5 0.5 -0.5 0.9 -0.5z"/>
<path fill="#0055ff" d="M34.5 59.5l0.1 -0.2 0.5 0 1.5 0.3 1 0.5 1 0.8 0.5 0.6 0.5 0.8 0.5 1.5 0.1 1.2 0 2 -0.1 1 -0.5 1.4 -0.5 0.8 -1 0.9 -1 0.6 -1 0.3 -1.5 0.2 -0.3 -6.2 0.2 -6.5zM102.2 59.5l0.9 -0.2 0.3 6.7 -0.3 6.2 -1 -0.2 -1 -0.3 -1 -0.6 -0.5 -0.4 -0.5 -0.5 -0.5 -0.8 -0.5 -1.4 -0.1 -1 0 -2 0.1 -1.2 0.5 -1.5 0.5 -0.8 1 -1 1 -0.7 1.1 -0.3zM42.5 111.9l1.1 0.1 1 0.4 0.5 0.5 0.3 0.5 0.2 0.5 0 1 -0.1 0.5 -0.3 0.5 -0.6 0.6 -1 0.4 -1 0.1 -1 -0.3 -0.5 -0.4 -0.5 -0.7 -0.2 -0.7 0 -1 0.2 -0.6 0.5 -0.7 0.5 -0.4 0.9 -0.3zM94.9 111.9l0.7 0 1 0.3 0.5 0.4 0.5 0.7 0.2 0.6 0 1 -0.2 0.7 -0.5 0.7 -0.5 0.4 -1 0.3 -1 -0.1 -1 -0.4 -0.6 -0.6 -0.3 -0.5 -0.1 -0.5 0 -1 0.2 -0.5 0.3 -0.5 0.5 -0.5 0.5 -0.3 0.8 -0.2z"/>
<path fill="#004aff" d="M34.5 60l0.1 -0.4 1 0.1 1 0.3 1 0.4 1 0.8 0.5 0.6 0.6 1.2 0.4 1 0.1 1.5 0 1.5 -0.1 0.9 -0.5 1.3 -0.5 0.7 -1 1 -1 0.5 -1 0.3 -1.5 0.2 -0.3 -5.9 0.2 -6zM101.7 60l1.4 -0.3 0.3 6.3 -0.3 5.9 -1.5 -0.3 -1 -0.4 -0.5 -0.3 -1 -1 -0.3 -0.4 -0.7 -1.6 -0.1 -0.9 0 -2 0.1 -1 0.5 -1.4 0.5 -0.8 1 -1 1 -0.6 0.6 -0.2zM41.4 112.4l0.7 -0.3 1 -0.1 1 0.3 0.8 0.6 0.3 0.5 0.2 0.5 0 1 -0.2 0.5 -0.3 0.5 -0.5 0.5 -0.8 0.4 -0.5 0.1 -1 -0.1 -0.5 -0.2 -0.5 -0.4 -0.5 -0.6 -0.2 -0.7 0 -1 0.2 -0.6 0.5 -0.7 0.3 -0.2zM93.9 112.4l0.7 -0.3 1 -0.1 1 0.3 0.5 0.3 0.5 0.7 0.2 0.6 0 1 -0.2 0.7 -0.5 0.6 -0.5 0.4 -0.5 0.2 -1 0.1 -1 -0.3 -0.8 -0.7 -0.3 -0.5 -0.2 -0.5 0 -1 0.2 -0.5 0.3 -0.5 0.6 -0.5z"/>
<path fill="#0040ff" d="M34.5 60.5l0.1 -0.5 1.5 0.2 1.5 0.5 1 0.8 0.7 1 0.5 1 0.3 0.6 0.1 1.4 0 1.5 -0.1 0.8 -0.5 1.2 -0.5 0.7 -1 0.9 -1 0.5 -1 0.3 -1.5 0.2 -0.2 -5.6 0.1 -5.5zM101.2 60.5l0.9 -0.3 1 -0.2 0.2 6 -0.2 5.6 -1.5 -0.3 -1.5 -0.7 -1 -0.9 -0.5 -0.7 -0.5 -1.2 -0.1 -0.8 0 -2 0.1 -0.9 0.5 -1.3 0.5 -0.8 0.5 -0.5 1 -0.8 0.6 -0.2zM41.5 112.4l0.6 -0.2 0.5 -0.1 1 0.1 0.5 0.3 0.5 0.4 0.4 0.5 0.2 0.5 0 0.5 0 0.5 -0.2 0.5 -0.3 0.5 -0.6 0.5 -1 0.4 -1 -0.1 -1 -0.5 -0.5 -0.6 -0.1 -0.7 0 -1 0.1 -0.6 0.5 -0.6 0.4 -0.3zM94.2 112.4l0.9 -0.3 0.5 0 0.5 0.1 1 0.5 0.5 0.6 0.1 0.6 0 1 -0.1 0.7 -0.5 0.6 -1 0.5 -1 0.1 -1 -0.4 -0.6 -0.5 -0.3 -0.5 -0.2 -0.5 0 -0.5 0 -0.5 0.2 -0.5 0.4 -0.5 0.6 -0.5z"/>
<path fill="#0035ff" d="M34.5 60.5l0.1 -0.2 0.5 0 1.5 0.3 1 0.4 1 0.7 0.5 0.6 0.7 1.2 0.3 0.7 0.1 1.3 0 1.5 -0.1 0.7 -0.5 1.1 -0.5 0.7 -1 0.9 -1 0.5 -1 0.3 -1.5 0.1 -0.2 -5.3 0.1 -5.5zM102.2 60.5l0.9 -0.2 0.2 5.7 -0.2 5.3 -1 -0.1 -1 -0.3 -1 -0.5 -0.5 -0.4 -0.5 -0.5 -0.5 -0.7 -0.5 -1.1 -0.1 -0.7 0 -2 0.1 -0.8 0.5 -1.2 0.5 -0.7 1 -1 1 -0.5 1.1 -0.3zM41.6 112.4l0.5 -0.2 0.5 0 1 0.2 0.8 0.5 0.4 0.5 0.2 0.5 0 1 -0.2 0.5 -0.4 0.5 -0.6 0.5 -0.7 0.3 -1 -0.1 -1 -0.4 -0.5 -0.7 -0.1 -0.6 0 -1 0.1 -0.5 0.5 -0.7 0.5 -0.3zM94.5 112.4l0.6 -0.2 1 0 1 0.5 0.5 0.7 0.1 0.5 0 1.5 -0.6 0.8 -1 0.4 -1 0.1 -0.7 -0.3 -0.8 -0.6 -0.2 -0.4 -0.2 -0.5 0 -1 0.2 -0.5 0.4 -0.5 0.7 -0.5z"/>
<path fill="#002aff" d="M34.5 61l0.1 -0.4 1.5 0.2 1 0.3 1 0.5 1 0.9 0.5 0.7 0.5 1.1 0 0.7 0 2 0 0.6 -0.5 1.1 -0.5 0.6 -0.5 0.5 -1 0.6 -1 0.4 -1.5 0.2 -0.5 0 -0.1 -1 -0.1 -4.5 0.1 -4.5zM101.4 61l0.7 -0.2 1 -0.2 0.2 5.4 -0.2 5 -1.5 -0.2 -1.5 -0.6 -1 -0.9 -0.5 -0.6 -0.5 -1.1 0 -0.6 0 -2 0 -0.7 0.5 -1.1 1 -1.2 1 -0.7 0.8 -0.3zM41.8 112.4l0.8 -0.1 0.8 0.1 0.8 0.5 0.4 0.5 0.2 0.5 0.1 0.5 -0.1 0.5 -0.2 0.5 -0.4 0.5 -0.6 0.5 -0.5 0.2 -1 0 -1 -0.5 -0.5 -0.6 -0.1 -0.6 0 -1 0.1 -0.5 0.5 -0.6 0.7 -0.4zM94.8 112.4l0.8 -0.1 1 0.2 0.5 0.3 0.5 0.6 0.1 0.5 0 1 -0.1 0.6 -0.5 0.6 -0.5 0.3 -0.5 0.2 -1 0 -0.5 -0.2 -0.5 -0.3 -0.5 -0.7 -0.2 -0.5 -0.1 -0.5 0.1 -0.5 0.2 -0.5 0.4 -0.5 0.8 -0.5z"/>
<path fill="#0020ff" d="M34.5 61l0.1 -0.1 0.5 0 1.5 0.3 1.5 0.6 1 0.8 0.5 0.7 0.5 1.1 0 0.6 0 2 0 0.5 -0.5 1 -0.5 0.7 -0.5 0.4 -1 0.6 -1 0.3 -1 0.2 -1 0.1 -0.2 -4.8 0.1 -5zM102.6 61l0.5 -0.1 0.2 5.1 -0.2 4.7 -1 -0.1 -1 -0.2 -0.5 -0.2 -1 -0.6 -0.5 -0.4 -0.5 -0.7 -0.5 -1 0 -0.5 0 -2 0 -0.6 0.5 -1.1 0.5 -0.7 0.5 -0.4 1 -0.7 1 -0.3 1 -0.2zM41.9 112.4l0.7 0 1 0.2 0.4 0.3 0.4 0.5 0.2 0.5 0.1 0.5 -0.1 0.5 -0.2 0.5 -0.4 0.5 -0.4 0.4 -0.5 0.2 -0.5 0 -1 -0.1 -0.5 -0.3 -0.5 -0.7 -0.1 -0.5 0 -1 0.1 -0.5 0.5 -0.6 0.5 -0.3 0.3 -0.1zM95.2 112.4l0.4 0 1 0.1 0.5 0.3 0.5 0.6 0.1 0.5 0 1 -0.1 0.5 -0.5 0.7 -0.5 0.3 -1 0.1 -1 -0.2 -0.4 -0.4 -0.4 -0.5 -0.2 -0.5 -0.1 -0.5 0.1 -0.5 0.2 -0.5 0.4 -0.5 0.4 -0.3 0.6 -0.2z"/>
<path fill="#0015ff" d="M34.5 61.5l0.1 -0.3 1.5 0.1 1 0.3 1 0.4 1 0.8 0.5 0.7 0.5 1 0 0.5 0 2 0 0.4 -0.5 1 -0.5 0.6 -0.5 0.4 -0.5 0.4 -1 0.4 -1 0.2 -1.5 0.1 -0.2 -4.5 0.1 -4.5zM101.5 61.5l1.6 -0.3 0.2 4.8 -0.2 4.5 -1.5 -0.2 -1.5 -0.5 -1 -0.8 -0.5 -0.6 -0.5 -1 0 -0.4 0 -2 0 -0.5 0.5 -1 0.5 -0.7 0.5 -0.4 1 -0.7 0.9 -0.2zM41 112.9l0.6 -0.3 1 -0.2 0.5 0.1 0.7 0.4 0.4 0.5 0.3 0.5 0 0.5 0 0.5 -0.2 0.5 -0.5 0.5 -0.7 0.5 -0.5 0.1 -1 -0.2 -0.5 -0.3 -0.5 -0.6 -0.1 -0.5 0.1 -1.4 0.4 -0.6zM94.4 112.9l0.7 -0.4 0.5 -0.1 1 0.2 0.5 0.3 0.5 0.6 0.1 0.4 -0.1 1.5 -0.5 0.6 -0.5 0.3 -1 0.2 -0.5 -0.1 -0.5 -0.3 -0.5 -0.4 -0.4 -0.8 0 -0.5 0 -0.5 0.3 -0.5 0.4 -0.5z"/>
<path fill="#000bff" d="M34.5 61.5l1.1 0 1 0.1 1.5 0.6 1 0.8 0.5 0.6 0.5 0.9 0 1 0 1.9 -0.5 0.9 -0.5 0.6 -0.5 0.4 -1 0.5 -1.5 0.4 -1.5 0 -0.2 -4.2 0.1 -4.5zM103.1 61.5l0.2 4 -0.2 4.7 -1 0 -1 -0.2 -1 -0.4 -0.5 -0.3 -1 -1 -0.5 -0.9 0 -0.9 0 -2 0.5 -0.9 0.5 -0.6 0.5 -0.5 1 -0.5 1 -0.4 1.5 -0.1zM41 112.9l0.6 -0.3 1 -0.1 0.5 0.1 0.5 0.3 0.5 0.5 0.2 0.5 0.1 0.5 -0.1 0.5 -0.2 0.5 -0.5 0.5 -0.5 0.4 -0.5 0.1 -1 -0.1 -0.5 -0.3 -0.5 -0.6 -0.1 -0.5 0.1 -1.4 0.4 -0.6zM94.6 112.9l0.5 -0.3 1 -0.1 0.5 0.1 0.5 0.3 0.5 0.6 0.1 0.4 -0.1 1.5 -0.5 0.6 -0.5 0.3 -1 0.1 -0.5 -0.1 -0.5 -0.3 -0.5 -0.5 -0.2 -0.6 -0.1 -0.5 0.1 -0.5 0.2 -0.5 0.5 -0.5z"/>
<path fill="#0000ff" d="M34.5 62l0.1 -0.3 1.5 0.1 1 0.2 1 0.4 1 0.7 0.5 0.5 0.5 1 0 0.9 0 1.8 -0.5 0.9 -0.5 0.6 -1 0.6 -1.5 0.5 -2 0.1 -0.2 -4 0.1 -4zM101.3 62l1.8 -0.3 0.2 4.3 -0.2 4 -1.5 -0.1 -1.5 -0.5 -1 -0.6 -0.5 -0.6 -0.5 -0.9 0 -2.3 0 -0.4 0.5 -1 1 -0.9 1 -0.5 0.7 -0.2zM41.1 112.9l0.5 -0.2 1 -0.1 0.8 0.3 0.5 0.5 0.3 0.5 0 0.5 0 0.5 -0.3 0.5 -0.4 0.5 -0.9 0.4 -1 -0.1 -0.5 -0.3 -0.5 -0.5 -0.1 -0.5 0.1 -1.4 0.5 -0.6zM94.8 112.9l0.8 -0.3 1 0.1 0.5 0.2 0.5 0.6 0.1 0.4 -0.1 1.5 -0.5 0.5 -0.5 0.3 -1 0.1 -0.9 -0.4 -0.4 -0.5 -0.3 -0.5 0 -0.5 0 -0.5 0.3 -0.5 0.5 -0.5z"/>
<path fill="#0000f4" d="M34.5 62.5l0.1 -0.5 1.5 0 1 0.2 1.5 0.6 0.5 0.4 0.5 0.5 0.5 0.9 0 0.4 0 2.3 -0.5 0.8 -0.5 0.6 -0.5 0.3 -0.5 0.3 -1 0.3 -1 0.1 -1.5 0 -0.2 -3.7 0.1 -3.5zM100.4 62.5l1.2 -0.4 1.5 -0.1 0.2 4 -0.2 3.7 -1.5 0 -1.5 -0.4 -1 -0.6 -0.5 -0.6 -0.5 -0.8 0 -1.8 0 -0.9 0.5 -0.9 0.5 -0.5 0.5 -0.4 0.8 -0.3zM41.2 112.9l0.4 -0.2 0.5 -0.1 0.5 0.1 0.7 0.2 0.5 0.5 0.2 0.5 0.1 0.5 -0.1 0.5 -0.2 0.5 -0.5 0.5 -0.7 0.3 -0.5 0.1 -0.5 -0.1 -0.5 -0.3 -0.5 -0.6 -0.1 -0.4 0.1 -1.4 0.6 -0.6zM94.9 112.9l0.7 -0.2 0.5 -0.1 0.5 0.1 0.5 0.3 0.5 0.5 0.1 0.4 -0.1 1.4 -0.5 0.6 -0.5 0.3 -0.5 0.1 -0.5 -0.1 -0.7 -0.3 -0.5 -0.5 -0.2 -0.5 -0.1 -0.5 0.1 -0.5 0.2 -0.5 0.5 -0.5z"/>
<path fill="#0000ea" d="M34.5 62.5l0.1 -0.3 1 0 1 0.1 1 0.2 1 0.5 0.5 0.3 0.5 0.5 0.5 0.8 0 2.4 0 0.3 -0.5 0.8 -0.5 0.5 -0.5 0.3 -1 0.4 -1.5 0.2 -1.5 0 -0.2 -3.5 0.1 -3.5zM100.9 62.5l0.7 -0.2 1.5 -0.1 0.2 3.8 -0.2 3.5 -1.5 0 -1.5 -0.4 -1 -0.5 -0.5 -0.5 -0.5 -0.8 0 -0.8 0 -1.9 0.5 -0.8 0.5 -0.5 1 -0.6 0.8 -0.2zM41.2 112.9l0.4 -0.2 0.5 0 0.5 0 0.5 0.2 0.6 0.5 0.2 0.5 0.1 0.5 -0.1 0.5 -0.2 0.5 -0.6 0.5 -0.5 0.3 -0.5 0 -0.5 0 -0.5 -0.3 -0.5 -0.6 -0.1 -0.4 0.1 -1.3 0.5 -0.6 0.1 -0.1zM95.1 112.9l0.5 -0.2 0.5 0 0.5 0 0.5 0.3 0.5 0.6 0.1 0.3 -0.1 1.4 -0.5 0.6 -0.5 0.3 -0.5 0 -0.5 0 -0.5 -0.3 -0.6 -0.5 -0.2 -0.5 -0.1 -0.5 0.1 -0.5 0.2 -0.5 0.6 -0.5z"/>
<path fill="#0000df" d="M34.5 63l0.1 -0.5 2.5 0.1 1 0.2 0.5 0.3 1 0.8 0.5 0.8 0 2.3 0 0.2 -0.5 0.8 -0.5 0.5 -0.5 0.3 -1 0.3 -1 0.2 -2 0 -0.1 -3.3 0 -3zM99.9 63l1.2 -0.4 2 -0.1 0.1 3.5 -0.1 3.3 -2 -0.1 -1.5 -0.4 -1 -0.8 -0.5 -0.8 0 -0.7 0 -1.8 0.5 -0.8 0.5 -0.5 0.8 -0.4zM41.3 112.9l0.3 -0.1 0.5 -0.1 0.5 0.1 0.5 0.2 0.4 0.4 0.3 0.5 0.1 0.5 -0.1 0.5 -0.3 0.5 -0.5 0.5 -0.9 0.3 -0.5 -0.1 -0.5 -0.3 -0.5 -0.5 -0.1 -0.4 0.1 -1.3 0.5 -0.6 0.2 -0.1zM95.3 112.9l0.8 -0.2 0.5 0.1 0.5 0.2 0.5 0.6 0.1 1.3 -0.1 0.4 -0.5 0.5 -0.5 0.3 -0.5 0.1 -0.9 -0.3 -0.5 -0.5 -0.3 -0.5 -0.1 -0.5 0.1 -0.5 0.3 -0.5 0.6 -0.5z"/>
<path fill="#0000d4" d="M34.5 63l0.1 -0.3 2 0 1 0.1 1 0.4 1 0.8 0.5 0.7 0 0.8 0 1.7 -0.5 0.7 -0.5 0.5 -0.5 0.3 -1 0.3 -1 0.1 -2 -0.1 -0.1 -3 0 -3zM100.2 63l0.9 -0.3 2 0 0.1 3.3 -0.1 3 -2 0.1 -1 -0.2 -1 -0.5 -0.5 -0.5 -0.5 -0.7 0 -2.5 0.5 -0.7 0.5 -0.5 0.5 -0.3 0.6 -0.2zM41.4 112.9l0.2 -0.1 0.5 0 0.6 0.1 0.7 0.5 0.3 0.5 0.1 0.5 -0.1 0.5 -0.3 0.5 -0.6 0.5 -0.7 0.2 -0.5 0 -0.5 -0.3 -0.5 -0.5 0 -1.7 0.5 -0.5 0.3 -0.2zM95.5 112.9l0.6 -0.1 0.5 0 0.5 0.3 0.5 0.5 0 1.7 -0.5 0.5 -0.5 0.3 -0.5 0 -0.7 -0.2 -0.6 -0.5 -0.3 -0.5 -0.1 -0.5 0.1 -0.5 0.3 -0.5 0.7 -0.5z"/>
<path fill="#0000ca" d="M35.2 63l1.9 -0.1 1 0.2 1 0.5 0.5 0.4 0.5 0.8 0 2.2 0 0.1 -0.5 0.8 -0.5 0.4 -0.5 0.3 -1 0.3 -1 0 -2 -0.1 -0.1 -2.8 0.1 -3 0.6 0zM100.8 63l0.8 -0.1 1.5 0.1 0.1 3 -0.1 2.8 -2 0.1 -1 -0.1 -1 -0.5 -0.5 -0.4 -0.5 -0.8 0 -2.3 0.5 -0.8 0.5 -0.4 1 -0.5 0.7 -0.1zM41.4 112.9l0.7 -0.1 0.5 0.1 0.7 0.5 0.3 0.5 0.1 0.5 -0.1 0.5 -0.3 0.5 -0.7 0.6 -0.5 0.1 -0.5 -0.1 -0.5 -0.2 -0.5 -0.6 0 -1.5 0.5 -0.6 0.3 -0.2zM95.6 112.9l0.5 -0.1 0.5 0.1 0.5 0.2 0.5 0.6 0 1.5 -0.5 0.6 -0.5 0.2 -0.5 0.1 -0.5 -0.2 -0.7 -0.5 -0.3 -0.5 -0.1 -0.5 0.1 -0.5 0.3 -0.5 0.7 -0.5z"/>
<path fill="#0000bf" d="M34.5 63.5l0.1 -0.2 2 -0.2 1 0 1 0.3 0.5 0.3 0.5 0.4 0.5 0.7 0 0.7 0 1.6 -0.5 0.7 -0.5 0.4 -0.5 0.3 -1 0.2 -1 0 -2 -0.2 -0.1 -2.5 0 -2.5zM99.5 63.5l0.6 -0.3 1 -0.1 2 0.1 0.1 2.8 -0.1 2.6 -1.5 0.1 -1 0 -1 -0.2 -0.5 -0.3 -0.5 -0.4 -0.5 -0.7 0 -2.3 0.5 -0.7 0.5 -0.4 0.4 -0.2zM41.5 112.9l0.6 0 0.5 0.1 0.6 0.4 0.3 0.5 0.1 0.5 -0.1 0.5 -0.3 0.5 -0.6 0.5 -0.5 0.1 -0.5 0 -0.5 -0.3 -0.5 -0.5 0 -1.5 0.5 -0.6 0.4 -0.2zM95.9 112.9l0.7 0 0.5 0.2 0.5 0.6 0 1.5 -0.5 0.5 -0.5 0.3 -0.5 0 -0.5 -0.1 -0.6 -0.5 -0.3 -0.5 -0.1 -0.5 0.1 -0.5 0.4 -0.6 0.8 -0.4z"/>
<path fill="#0000b5" d="M35.1 63.5l1.5 -0.2 1 0 1 0.2 0.5 0.2 0.5 0.4 0.5 0.7 0 0.7 0 1.6 -0.5 0.7 -0.5 0.4 -0.5 0.2 -1 0.2 -1 0 -2 -0.3 0 -4.8 0.5 0zM99.8 63.5l0.3 -0.2 1 -0.1 2 0.3 0 4.8 -2 0.3 -1 -0.1 -1 -0.3 -0.5 -0.4 -0.5 -0.7 0 -2.3 0.5 -0.7 0.5 -0.4 0.7 -0.2zM41.8 112.9l0.8 0.2 0.5 0.3 0.3 0.5 0.1 0.5 -0.1 0.5 -0.3 0.5 -0.5 0.4 -0.5 0.2 -0.5 -0.1 -0.5 -0.2 -0.5 -0.5 -0.1 -0.3 0.1 -1.2 0.5 -0.5 0.5 -0.2 0.2 -0.1zM96.1 112.9l0.5 0.1 0.5 0.2 0.5 0.5 0.1 0.2 -0.1 1.3 -0.5 0.5 -0.5 0.2 -0.5 0.1 -0.5 -0.2 -0.5 -0.4 -0.3 -0.5 -0.1 -0.5 0.1 -0.5 0.3 -0.5 0.5 -0.3 0.5 -0.2z"/>
<path fill="#0000aa" d="M36.5 63.5l1.1 -0.1 1 0.2 0.5 0.2 0.5 0.4 0.5 0.7 0 2.1 -0.5 0.7 -0.5 0.4 -0.5 0.2 -1 0.2 -1 -0.1 -2 -0.4 0 -4.2 1.9 -0.3zM100.1 63.5l1 -0.1 2 0.4 0 4.3 -2 0.3 -1 0 -1 -0.3 -0.5 -0.4 -0.5 -0.7 0 -2.1 0.5 -0.7 0.5 -0.4 1 -0.3zM40.9 113.4l0.2 -0.2 0.5 -0.2 0.5 0 0.5 0.1 0.4 0.3 0.3 0.5 0.1 0.5 -0.1 0.5 -0.3 0.5 -0.4 0.4 -0.5 0.1 -0.5 0 -0.5 -0.2 -0.5 -0.6 -0.1 -0.2 0.1 -1.2 0.3 -0.3zM95.2 113.4l0.4 -0.3 0.5 -0.1 0.5 0 0.5 0.2 0.5 0.5 0 1.4 -0.5 0.6 -0.5 0.2 -0.5 0 -0.5 -0.1 -0.4 -0.4 -0.3 -0.5 -0.1 -0.5 0.1 -0.5 0.3 -0.5z"/>
<path fill="#00009f" d="M35.3 64l1.3 -0.4 1 -0.1 1 0.1 1 0.6 0.5 0.7 0 0.6 0 1.5 -0.5 0.7 -1 0.5 -1 0.2 -1 -0.2 -2 -0.5 0 -3.6 0.7 -0.1zM99 64l0.6 -0.4 1 -0.1 1 0.1 1.5 0.4 0 3.8 -1.5 0.4 -1 0.2 -1 -0.2 -1 -0.5 -0.5 -0.7 0 -2 0.5 -0.8 0.4 -0.2zM40.9 113.4l0.2 -0.2 0.5 -0.1 0.5 -0.1 0.5 0.2 0.3 0.2 0.3 0.5 0.1 0.5 -0.1 0.5 -0.3 0.5 -0.3 0.3 -0.5 0.1 -0.5 0 -0.5 -0.1 -0.5 -0.6 -0.1 -0.2 0.1 -1.1 0.3 -0.4zM95.3 113.4l0.3 -0.2 0.5 -0.2 0.5 0.1 0.5 0.1 0.5 0.6 0 1.3 -0.5 0.6 -0.5 0.1 -0.5 0 -0.5 -0.1 -0.3 -0.3 -0.3 -0.5 -0.1 -0.5 0.1 -0.5 0.3 -0.5z"/>
<path fill="#000095" d="M36.1 64l1 -0.3 1 -0.1 0.5 0.1 1 0.6 0.5 0.7 0 0.5 0 1.4 -0.5 0.7 -1 0.6 -1 0 -1 -0.2 -2 -0.6 0 -3 0.5 -0.1 1 -0.3zM99.1 64l0.5 -0.3 1 -0.1 1 0.2 1.5 0.5 0 3.2 -1.5 0.5 -1 0.2 -1 0 -1 -0.6 -0.5 -0.7 0 -1.9 0.5 -0.7 0.5 -0.3zM40.9 113.4l0.2 -0.1 1 -0.2 0.7 0.3 0.3 0.5 0.2 0.5 -0.1 0.5 -0.4 0.5 -0.2 0.2 -0.5 0.2 -0.5 0 -0.5 -0.2 -0.5 -0.5 -0.1 -0.2 0.1 -1.1 0.3 -0.4zM95.4 113.4l0.7 -0.3 0.5 0 0.5 0.2 0.5 0.5 0 1.3 -0.5 0.5 -0.5 0.2 -0.5 0 -0.5 -0.2 -0.2 -0.2 -0.4 -0.5 -0.1 -0.5 0.2 -0.5 0.3 -0.5z"/>
<path fill="#00008a" d="M36.6 64l1 -0.3 0.5 0 0.5 0.1 1 0.5 0.5 0.7 0 0.5 0 1.3 -0.5 0.8 -1 0.5 -1 0 -1 -0.2 -1.5 -0.8 -0.5 -0.1 0 -2.1 0.5 -0.2 1.5 -0.7zM99.3 64l0.8 -0.3 1 0.1 2 0.9 0 2.4 -1.5 0.8 -1 0.2 -1 0 -1 -0.5 -0.5 -0.8 0 -1.8 0.5 -0.7 0.7 -0.3zM40.9 113.4l0.2 -0.1 1 -0.1 0.6 0.2 0.4 0.5 0.1 0.5 -0.1 0.5 -0.4 0.5 -0.6 0.3 -0.5 0 -0.5 -0.1 -0.5 -0.5 0 -1.3 0.3 -0.4zM95.5 113.4l0.6 -0.2 0.5 0 0.5 0.1 0.5 0.5 0 1.3 -0.5 0.5 -1 0.1 -0.6 -0.3 -0.4 -0.5 -0.1 -0.5 0.1 -0.5 0.4 -0.5z"/>
<path fill="#000080" d="M37.1 64l1 -0.2 0.5 0.1 1 0.5 0.5 0.7 0 0.4 0 1.3 -0.5 0.7 -1 0.5 -0.5 0.1 -0.8 -0.1 -1.1 -0.5 -1.1 -0.9 -0.4 -0.1 -0.1 -0.2 0 -0.8 0.5 -0.3 0.9 -0.7 1.1 -0.5zM99.5 64l0.6 -0.2 1 0.2 1.1 0.5 0.7 0.5 0.2 0.2 0 1.4 -1.1 0.9 -0.9 0.4 -0.5 0.1 -1 0 -1 -0.5 -0.5 -0.7 0 -1.7 0.5 -0.7 0.9 -0.4zM41 113.4l0.1 -0.1 1 -0.1 0.5 0.2 0.4 0.5 0.1 0.5 -0.1 0.5 -0.4 0.5 -0.5 0.3 -0.5 0 -0.5 -0.1 -0.5 -0.6 0 -1.2 0.4 -0.4zM95.6 113.4l0.5 -0.2 1 0.1 0.5 0.5 0 1.2 -0.5 0.6 -1 0.1 -0.5 -0.3 -0.4 -0.5 -0.1 -0.5 0.1 -0.5 0.4 -0.5z"/></g>
<g fill="none" stroke="#101010" stroke-width="0.6" stroke-opacity="0.65" stroke-linejoin="round"><path d="M66.4 11l2.2 -0.1 2.5 0.1 2.5 0.2 2 0.3 2 0.4 2.5 0.7 2 0.7 2 0.8 2 1 2 1.2 2 1.3 1.5 1.2 1.5 1.3 1.5 1.5 1.5 1.7 1 1.3 0.5 20.4 0.1 17 0.2 4 -0.2 3.5 -0.1 10 -0.2 3.5 -0.3 2.5 -1 0.7 -1.5 0.8 -2 0.5 -2 0.4 -2.5 0.3 -3.5 0.2 -9.5 0.1 -20 -0.1 -5 -0.2 -4 -0.6 -1.5 -0.3 -1.5 -0.6 -1 -0.5 -1 -0.7 -0.3 -2.5 -0.2 -3.5 -0.1 -10 -0.2 -3.5 0.2 -4 0.1 -17 0.5 -20.4 2.1 -2.6 1.4 -1.4 1.5 -1.4 3 -2.3 3 -1.8 3.5 -1.6 3.5 -1.2 3.5 -0.8 3.8 -0.5M34.3 180.4l-0.3 -40.6 -0.4 -23.9 0.2 -12.5 0.3 -10.5 0.1 -1.5 0.2 -0.5 0.2 -0.2 2 0 3.5 0 0.2 0.7 0.1 1 0.1 15.5 -0.2 6.5 0.2 4 0 8 -0.2 54M97.9 180.4l-0.2 -54 0 -8 0.2 -4 -0.2 -6.5 0.1 -15.5 0.1 -1 0.2 -0.7 3.5 0 1.5 0 0.2 0.2 0.2 0.5 0.1 1.5 0.4 14 0.1 9.5 -0.5 23.4 -0.2 40.6M63.8 31l2.3 -0.3 2.5 -0.1 2.5 0 2.5 0.3 2.5 0.4 2 0.5 2.5 0.7 2 0.8 2 1 2 1.1 2 1.4 1.5 1.2 1.5 1.4 1.5 1.7 1.5 1.9 1 1.7 0.9 1.8 0.6 1.4 0.6 15.6 0.2 2.5 -0.6 10 -0.2 2.8 -0.5 0.9 -0.5 0.8 -1 1.1 -1 0.8 -1 0.7 -2 0.9 -2 0.7 -2.5 0.4 -3.5 0.4 -5.5 0.1 -15 0 -4.5 0 -3.5 -0.2 -2.5 -0.2 -2.5 -0.4 -2 -0.6 -1.5 -0.6 -1.5 -0.8 -1.2 -0.8 -0.9 -1 -1.1 -1.5 -0.3 -0.7 -0.5 -7.5 -0.3 -5.3 0.2 -2.5 0.6 -15.6 0.6 -1.4 1.4 -2.7 1 -1.4 1 -1.4 2.5 -2.5 1.5 -1.3 1.5 -1.1 3 -1.8 3.5 -1.6 3.5 -1.1 3.2 -0.6M34.5 91.9l0.1 0 0.5 -0.3 1 0 3.5 0.1 0.4 0.2 0.2 1 0.1 2.5 0.1 12.5 -0.1 6.5 0.1 4 0 6.5 -0.3 46.2 -0.5 4.4 -2.5 0.3 -2 -0.1 -0.5 -3.6 -0.3 -20.7 -0.3 -28.6 -0.2 -8.4 0.2 -7.6 0.2 -11.4 0.1 -2 0.2 -1.5M98.2 91.9l0.4 -0.2 1.5 0 2.5 -0.1 0.5 0.3 0.2 1 0.1 1.5 0.2 12.5 0.3 5 0 3.5 -0.3 7.3 -0.2 28.7 -0.3 20.7 -0.5 3.6 -2 0 -2 -0.2 -0.5 -4.4 -0.3 -35.7 0 -15 0.1 -6 -0.1 -7 0.1 -12 0.1 -2.5 0.2 -1M67 39.5l4.1 0 2.5 0.2 2 0.3 4 0.8 2 0.7 2 0.7 2 1 1.5 0.8 1.5 0.9 1.5 1.1 1.5 1.3 1.5 1.5 1 1.3 1 1.4 1.1 2 0.9 2.3 0.8 10.2 -0.3 3.7 -0.5 4.9 -0.5 1.2 -0.7 1.2 -0.8 1 -1 1 -1.5 1.1 -2 1.1 -2 0.6 -2.5 0.5 -3 0.4 -4 0.1 -10 -0.1 -9.5 0.1 -4.5 -0.1 -2.5 -0.3 -2 -0.3 -2 -0.6 -1.5 -0.6 -1.5 -0.8 -1.5 -1.1 -1 -1 -1 -1.3 -1 -2.1 -0.5 -4.9 -0.3 -4.2 0.8 -9.7 1 -2.5 1.5 -2.5 2 -2.5 2 -1.9 2.5 -1.8 3 -1.7 3 -1.3 3.5 -1 3.5 -0.7 3.9 -0.4M34.9 92.9l0.2 0 1.5 0 3 0.1 0.5 0.6 0.2 3.8 0.1 7 -0.1 10 0.1 10.5 -0.3 30.4 -0.5 4.4 -2 0.4 -2 0.1 -0.5 0 -0.5 -3.5 -0.6 -41.8 0.3 -18.5 0.3 -3.1 0.3 -0.4M99.8 92.9l2.8 0 0.5 0.4 0.3 3.1 0.3 18.5 -0.6 41.9 -0.5 3.4 -2 -0.1 -2 -0.4 -0.5 -4.4 -0.3 -32.9 0.1 -8 -0.1 -7.5 0.1 -9 0.2 -4.3 0.5 -0.6 1.2 -0.1M61.6 46l4.5 -0.4 5 -0.1 4.5 0.3 4.5 0.8 4 1.1 3 1.2 1.5 0.7 1.5 0.9 1.5 1.1 1 0.8 1.5 1.5 1 1.3 1 1.6 0.5 1 0.5 1.3 0.5 3.9 0.3 3 -0.3 2.9 -0.5 3.4 -1 2.1 -1 1.3 -1 1 -1.5 1 -1 0.6 -1.5 0.6 -1.5 0.5 -2 0.4 -2 0.2 -2 0.1 -13 -0.4 -4 0.1 -8 0.3 -4.5 -0.2 -2.5 -0.3 -2.5 -0.7 -2 -0.9 -1 -0.6 -1 -0.7 -1.5 -1.6 -0.8 -1.1 -0.5 -1 -0.2 -0.7 -0.5 -3.4 -0.3 -2.9 0.3 -3 0.5 -3.9 1 -2.3 1.5 -2.3 1.5 -1.6 2 -1.7 2.5 -1.6 2.5 -1.2 3 -1.1 3 -0.7 3.5 -0.6M34.9 94.4l0.2 -0.1 1.5 0.1 3 0.3 0.5 0.9 0.2 5.3 0.1 8 -0.1 15 -0.2 21.6 -0.5 4.1 -2 0.6 -2.5 0.2 -0.5 -3.1 -0.5 -32.4 0.1 -9 0.2 -8 0.2 -2.9 0.3 -0.6M100.4 94.4l2.2 -0.1 0.5 0.6 0.3 3.5 0.2 13 0 10.5 -0.5 25.4 -0.5 3.1 -2 -0.2 -2 -0.6 -0.5 -4.1 -0.3 -25.6 0.1 -14 0.2 -9 0 -1.3 0.5 -0.9 1.8 -0.3M57.2 51l3.9 -0.3 5.5 -0.2 7.5 0 5 0.3 3.5 0.4 3 0.6 2.5 0.8 2.5 1.1 2 1.2 1 0.8 1 1 1.5 1.9 1 2 0.5 2.9 0.3 2.5 -0.3 2.4 -0.5 2.6 -0.5 1.1 -0.5 0.8 -1 1.2 -1 0.9 -1.5 0.9 -1.5 0.7 -1.5 0.5 -1.5 0.3 -1.5 0.2 -2 0 -2 0 -9 -0.9 -4.5 -0.2 -4.5 0.2 -8.5 0.9 -3.5 0 -2 -0.1 -2 -0.4 -1.5 -0.5 -1.5 -0.7 -1.5 -0.9 -1 -0.9 -1 -1.2 -0.5 -0.8 -0.5 -1.1 -0.5 -2.6 -0.3 -2.4 0.3 -2.5 0.5 -2.9 0.5 -1.1 1 -1.6 1.5 -1.7 1.5 -1.3 2 -1.2 2 -0.9 2.5 -0.9 2.5 -0.5 2.6 -0.4M35 95.9l0.1 0 1.5 0.1 2.5 0.3 0.5 0.1 0.2 0.5 0.3 0.8 0 0.7 0.2 11.5 0 12.5 -0.2 16.7 -0.5 3.7 -2 0.6 -2.5 0.4 -0.5 -2.8 -0.5 -26.1 0.1 -8 0.2 -8 0.2 -2.2 0.4 -0.8M101.8 95.9l0.8 0 0.5 0.8 0.3 4.7 0.2 7.5 0 9 -0.5 23.1 -0.5 2.7 -2 -0.3 -2 -0.6 -0.5 -3.7 0 -2.7 -0.2 -14.5 0 -12 0.1 -6.5 0.1 -5.7 0.5 -1.3 1.5 -0.3 1.7 -0.2M50.3 55l2.8 -0.4 3 -0.1 3 0.2 7 0.6 3.5 0.1 3.5 -0.2 7 -0.6 3 -0.1 3.5 0.2 2 0.4 1.5 0.5 1.5 0.6 1 0.5 1 0.6 1 0.8 1.5 1.7 1 1.8 0.5 2.2 0.3 2.2 -0.3 2.1 -0.5 2.1 -0.5 1 -0.5 0.7 -1 1.1 -1 0.7 -1 0.6 -1.5 0.7 -1.5 0.4 -1.5 0.2 -2.5 0 -2.5 -0.2 -2.5 -0.5 -7.5 -1.7 -2 -0.3 -2 -0.1 -2 0.1 -2.5 0.2 -2.5 0.5 -6 1.4 -3.5 0.5 -2 0.1 -1.5 0 -1.5 -0.2 -1.5 -0.4 -1.5 -0.7 -1.5 -0.9 -1 -0.9 -1 -1.3 -0.5 -1 -0.5 -2.1 -0.3 -2.1 0.3 -2.2 0.5 -2.2 0.5 -1 1 -1.4 1 -1.1 1.5 -1.1 1.5 -0.8 2 -0.8 1.7 -0.4M35 97.4l2.6 0.3 2 0.5 0.4 1.2 0.1 0.3 0.1 5.2 0.1 9.5 0 8.5 -0.2 11.6 -0.5 3.4 -2 0.7 -1 0.2 -1.5 0.2 -0.5 -2.5 -0.5 -22.1 0.1 -8 0.3 -7.5 0.1 -0.5 0.4 -1M99.5 97.9l1.6 -0.3 1.5 -0.1 0.5 0.9 0.4 10 0.1 8.5 -0.5 19.6 -0.5 2.4 -2 -0.3 -2 -0.7 -0.5 -3.4 -0.2 -11.6 0 -8.5 0 -7.5 0.2 -6 0 -1.2 0.5 -1.5 0.9 -0.3M50.2 57l1.9 0 1.5 0.1 2 0.4 2 0.6 2.3 0.9 2.1 1 5.1 2.7 1 0.5 1 0.1 1 -0.1 1 -0.5 4.1 -2.2 3.1 -1.5 3.3 -1.2 2.5 -0.6 2 -0.2 2.5 0 2 0.3 2 0.7 1.5 0.8 1.5 1.2 1 1.3 0.5 0.9 0.5 1.8 0.3 2 -0.3 1.9 -0.5 1.8 -0.5 0.8 -1 1.2 -1 0.8 -1.5 0.8 -1.5 0.5 -1.5 0.2 -2 0 -1.5 -0.1 -1.5 -0.4 -1.5 -0.4 -1.7 -0.6 -2.2 -1 -1.9 -1 -6.7 -4.2 -1.5 -0.6 -1 0 -1 0.4 -1 0.5 -4.6 2.9 -2.5 1.5 -2 1 -2.4 0.9 -2.5 0.8 -2 0.3 -2 0 -2 -0.2 -1.5 -0.5 -1.5 -0.8 -1 -0.8 -1 -1.2 -0.5 -0.8 -0.5 -1.8 -0.3 -1.9 0.3 -2 0.5 -1.8 0.5 -0.9 1 -1.3 1 -0.8 1.5 -1 1.5 -0.6 2 -0.5 1.6 -0.1M35 98.9l1.1 0.1 1.5 0.2 2 0.7 0.5 1.7 0.2 12.8 -0.2 16.6 -0.5 3.2 -2 0.8 -1 0.2 -1.5 0.2 -0.5 -2.2 -0.5 -18.8 0.1 -7 0.3 -7.4 0.5 -1.1M99.9 99.4l1.2 -0.3 1.5 -0.2 0.5 1.1 0.4 9.9 0.1 7 -0.5 16.3 -0.5 2.2 -2 -0.4 -2 -0.8 -0.5 -3.2 -0.2 -16.6 0.2 -12.8 0.5 -1.7 1.3 -0.5M45.8 59l1.3 -0.3 1.5 -0.1 1.5 0.1 1.5 0.3 1.5 0.4 1.1 0.6 1.4 0.8 0.8 0.7 0.5 0.5 0.7 1 0.5 1 0.1 1 0 1 -0.3 1 -0.6 1 -0.8 1 -1.7 1.5 -1.6 1 -2.1 0.8 -2 0.4 -2 0.1 -1 -0.1 -1 -0.3 -1.5 -0.6 -1 -0.7 -0.5 -0.5 -1 -1.3 -0.5 -1.6 -0.2 -1.2 0 -1 0.2 -1.3 0.5 -1.6 1 -1.4 1 -0.9 1.5 -0.9 1.2 -0.4M86.6 59l1.5 -0.3 1.5 -0.1 1.5 0.1 1 0.2 1.5 0.5 1 0.6 1 0.7 1 1.1 0.5 0.8 0.5 1.6 0.2 1.3 0 1 -0.2 1.2 -0.5 1.6 -1 1.3 -1 0.9 -1.5 0.8 -1 0.3 -1 0.2 -2 0 -1.9 -0.3 -2.1 -0.8 -2 -1.1 -1.4 -1.1 -1.3 -1.5 -0.6 -1 -0.3 -1.5 0 -1 0.1 -0.5 0.5 -1 0.7 -1 0.5 -0.5 1.3 -1 1.5 -0.9 2 -0.6M35 100.4l0.1 -0.1 2 0.2 1.5 0.5 1 0.4 0.5 1.9 0.2 11.1 -0.2 13.9 -0.5 2.9 -1 0.6 -1 0.3 -1.5 0.4 -1 0.1 -0.5 -2 -0.5 -15.7 0.1 -6 0.4 -7.5 0.4 -1M101.7 100.4l0.9 -0.1 0.5 1.1 0.4 7.5 0 7.5 -0.4 14.2 -0.5 2 -2 -0.5 -1 -0.3 -1 -0.6 -0.5 -2.9 -0.2 -13.9 0.2 -11.1 0.5 -1.9 1.5 -0.6 1.6 -0.4M45.2 60l1.4 -0.2 1.5 0 1.5 0.3 1 0.3 1 0.6 1 0.6 0.8 0.9 0.7 1 0.4 1 0.1 1 -0.1 1 -0.3 1 -0.6 1 -0.9 1 -1.1 0.9 -1.1 0.6 -1.4 0.5 -1.5 0.3 -1.5 0.1 -1 -0.2 -1.5 -0.5 -1 -0.6 -1 -0.9 -0.5 -0.7 -0.5 -1.4 -0.3 -1.6 0.3 -1.6 0.5 -1.5 0.5 -0.7 1 -1 1.5 -0.9 1.1 -0.3M89 60l1.1 -0.2 1 -0.1 1 0.1 1.5 0.3 1 0.5 1 0.6 1 1 0.5 0.7 0.5 1.5 0.2 1.1 0.1 0.5 -0.3 1.6 -0.5 1.4 -0.5 0.7 -1 0.9 -1 0.6 -1.5 0.5 -1.5 0.2 -1.5 -0.1 -1.5 -0.4 -1.5 -0.7 -1 -0.7 -1.1 -1 -1 -1.5 -0.3 -1 -0.1 -1.5 0.3 -1 0.5 -1 0.8 -1 1.4 -1 1 -0.6 1.4 -0.4M34.9 101.9l0.2 -0.4 1.5 0.2 1.5 0.4 1.5 0.8 0.5 2.1 0.2 9.4 -0.2 11.5 -0.5 2.9 -1 0.6 -1 0.5 -1 0.2 -1.5 0.3 -0.5 -1.9 -0.4 -13.1 0 -5 0.3 -6.5 0.1 -1.3 0.3 -0.7M100.8 101.9l1.8 -0.3 0.5 1.1 0.4 8.2 0 6 -0.4 11.6 -0.5 1.8 -2 -0.4 -1 -0.5 -1 -0.6 -0.5 -2.9 -0.2 -11.5 0.2 -9.4 0.5 -2.1 1 -0.5 1.2 -0.5M43.9 61l1.2 -0.3 1 -0.1 1 0.1 1.3 0.3 1.1 0.5 0.8 0.5 0.6 0.5 0.8 1 0.2 0.5 0.3 1 0.1 1 -0.2 1 -0.2 0.5 -0.6 1 -0.9 1 -0.7 0.5 -1.1 0.6 -1 0.3 -1.5 0.2 -1 0 -1.5 -0.4 -1 -0.5 -1 -0.8 -0.5 -0.7 -0.5 -1.3 -0.2 -0.9 -0.1 -0.5 0.3 -1.5 0.5 -1.3 0.5 -0.7 1 -0.9 1.3 -0.6M89.8 61l1.3 -0.3 1 -0.1 1 0.1 1 0.2 1.5 0.7 1 0.9 0.5 0.7 0.5 1.3 0.2 1 0.1 0.5 -0.3 1.4 -0.5 1.3 -0.5 0.7 -1 0.8 -1 0.5 -1.5 0.4 -1 0 -1.5 -0.2 -1.2 -0.4 -1.3 -0.8 -0.8 -0.7 -0.7 -1 -0.5 -1 -0.2 -1 0.1 -1 0.3 -1 0.6 -1 0.7 -0.8 1.1 -0.7 1.1 -0.5M34.9 102.9l0.2 -0.3 2 0.4 1.5 0.6 1 0.6 0.5 2.3 0.2 7.9 -0.2 9.5 -0.5 2.9 -1 0.7 -1 0.5 -1 0.3 -1.5 0.3 -0.5 -1.7 -0.4 -12 0.1 -4.5 0.3 -6.7 0.3 -0.8M101.3 102.9l1.3 -0.2 0.5 1.1 0.1 1.1 0.3 7 0 5.5 -0.4 9.4 -0.5 1.7 -1 -0.2 -1 -0.3 -1 -0.5 -1 -0.7 -0.5 -2.9 -0.2 -9.5 0.2 -7.9 0.5 -2.3 1 -0.6 1.7 -0.7M43.8 61.5l0.8 -0.2 1 -0.1 1 0.2 1 0.3 1 0.5 0.9 0.8 0.4 0.5 0.5 1 0.2 1 0 0.5 -0.1 1 -0.2 0.5 -0.7 1 -0.4 0.5 -0.6 0.5 -1 0.5 -1 0.4 -1 0.1 -1.5 -0.1 -1 -0.3 -0.5 -0.2 -1 -0.8 -0.5 -0.6 -0.5 -1.1 -0.2 -0.9 -0.1 -0.5 0.3 -1.5 0.5 -1.1 0.5 -0.6 1 -0.8 1.2 -0.5M91.3 61.5l0.8 -0.2 1 0 1.5 0.2 0.5 0.2 1 0.6 0.5 0.5 0.5 0.6 0.5 1.1 0.2 1 0.1 0.5 -0.3 1.4 -0.5 1.1 -0.5 0.6 -0.5 0.5 -1 0.5 -1 0.3 -1 0.1 -1 0 -1 -0.3 -1 -0.4 -1 -0.7 -0.5 -0.6 -0.7 -1 -0.3 -1 0 -1 0.2 -1 0.2 -0.5 0.6 -0.9 0.7 -0.6 0.8 -0.6 1.2 -0.4M34.9 103.9l0.2 -0.3 1 0.2 1 0.2 1.5 0.7 1 0.8 0.5 2.5 0.2 6.4 -0.1 2.5 -0.1 5.1 -0.5 3.1 -1 0.8 -1 0.5 -1 0.4 -1.5 0.2 -0.5 -1.5 -0.4 -10.6 0.1 -4.5 0.3 -5.7 0.3 -0.8M101.5 103.9l1.1 -0.2 0.5 1.1 0.1 1.6 0.3 6.5 -0.1 5 -0.3 7.5 -0.5 1.6 -1 -0.2 -1 -0.4 -1 -0.5 -1 -0.8 -0.5 -3.1 -0.1 -5.1 -0.1 -2.5 0.2 -6.4 0.2 -1.1 0.3 -1.4 1 -0.8 1 -0.5 0.9 -0.3M34.3 0l-0.3 40.6 -0.4 23.9 0.2 12.5 0.3 10.5 0.1 1.5 0.2 0.5 0.2 0.2 2 0 3.5 0 0.2 -0.7 0.1 -1 0.1 -15.5 -0.2 -6.5 0.2 -4 0 -8 -0.2 -54M97.9 0l-0.2 54 0 8 0.2 4 -0.2 6.5 0.1 15.5 0.1 1 0.2 0.7 3.5 0 1.5 0 0.2 -0.2 0.2 -0.5 0.1 -1.5 0.4 -14 0.1 -9.5 -0.5 -23.4 -0.2 -40.6M55.6 91.9l-5.5 0.3 -4 0.6 -1.5 0.3 -1.5 0.6 -1 0.5 -1 0.7 -0.3 2.5 -0.2 3.5 -0.1 10 -0.2 3.5 0.2 4 0.1 17 0.5 20.4 1.5 1.9 2 2.1 2 1.8 2 1.6 2.5 1.5 2.5 1.4 2.5 1 2.5 0.9 2.5 0.6 3 0.6 3 0.2 2.5 0.1 3 -0.2 2.5 -0.3 2.5 -0.5 3 -0.8 2.5 -1 2.5 -1.1 2.5 -1.5 2 -1.3 2 -1.6 2 -1.9 1.8 -1.9 1.2 -1.6 0.5 -20.4 0.1 -17 0.2 -4 -0.2 -3.5 -0.1 -10 -0.2 -3.5 -0.3 -2.5 -1.5 -1 -1 -0.5 -1.5 -0.4 -2.5 -0.5 -3.5 -0.4 -4 -0.1 -5 -0.1 -22.5 0M35.1 4.7l-0.5 3.6 -0.3 20.7 -0.3 28.6 -0.2 7.4 0 4 0.2 4.6 0.3 12.4 0.1 1.5 0.2 1 0.5 0.3 4.5 -0.1 0.5 -0.3 0.1 -1.4 0.2 -9.5 0 -7.5 -0.1 -4 0.1 -5 0 -11 -0.3 -40.7 -0.5 -4.4 -2 -0.2 -2.5 0M98.6 4.9l-0.5 4.4 -0.1 16.7 -0.2 32.5 0.1 7.5 -0.1 4 0 7.5 0.1 9 0.2 1.9 0.5 0.3 4 0.1 0.5 -0.3 0.3 -2 0.2 -13 0.3 -7 -0.3 -8.8 -0.2 -28.7 -0.3 -20.7 -0.5 -3.6 -2 0 -2 0.2M55.1 94.9l-2.5 0.2 -2.5 0.4 -2 0.5 -2 0.8 -1.5 0.8 -1.5 1.2 -1 1.1 -1 1.7 -0.5 7.5 -0.3 5.3 0.2 2.5 0.6 15.6 1 2.3 1.2 2.1 1.8 2.4 2 2.2 2 1.7 2.5 1.8 2.5 1.4 3 1.3 3 0.9 3 0.7 3 0.4 3.5 0.1 3 -0.1 3 -0.5 3 -0.7 3 -1 3 -1.4 2.5 -1.5 1.5 -1 1.5 -1.2 1.5 -1.4 1.5 -1.7 1.5 -1.9 0.9 -1.5 0.8 -1.5 0.8 -1.9 0.6 -15.6 0.2 -2.5 -0.3 -5.3 -0.5 -7.5 -0.6 -1.2 -0.9 -1.1 -0.8 -0.9 -1.2 -0.8 -1 -0.6 -1.5 -0.6 -1.5 -0.5 -1.5 -0.4 -2 -0.3 -3.5 -0.3 -5 -0.1 -17 0 -5.5 0.1M35.1 20.2l-0.5 3.5 -0.6 41.3 0.2 17 0.4 5.1 0.5 0.4 2 0 2.5 -0.1 0.5 -0.6 0.1 -1.8 0.2 -9.5 -0.1 -9.5 0.1 -7 -0.3 -33.9 -0.5 -4.4 -2 -0.4 -2.5 -0.1M100.1 20.4l-1.5 0.3 -0.5 4.4 -0.3 33.4 0.1 7.5 -0.1 8.5 0.2 9.5 0.1 2.8 0.5 0.6 4 0.1 0.5 -0.4 0.3 -2.6 0.3 -18 -0.6 -42.9 -0.5 -3.4 -2.5 0.2M53.1 97.9l-2 0.3 -2 0.5 -2 0.8 -1.5 0.8 -1.5 1.1 -1.1 1 -1.1 1.5 -0.8 1.9 -0.5 4.9 -0.3 3.7 0.8 10.2 1 2.5 1.5 2.5 2 2.5 2 1.9 2.5 1.8 2.5 1.4 3 1.4 3 1 3 0.7 3.5 0.5 3.5 0.2 3 -0.1 3.5 -0.4 3.5 -0.7 3 -0.9 3 -1.2 2.5 -1.3 2.5 -1.6 2 -1.7 2 -2.1 1 -1.4 1 -1.6 0.8 -1.6 0.7 -1.8 0.8 -10.2 -0.3 -3.7 -0.5 -4.9 -0.6 -1.4 -0.9 -1.4 -1 -1.2 -1 -0.8 -2 -1.3 -2 -0.8 -2.5 -0.7 -3.5 -0.4 -4.5 -0.2 -10 0.1 -10 -0.1 -3.5 0.1 -2.5 0.2M35.1 30l-0.5 3.1 -0.5 32.9 0.1 9.5 0.2 7.5 0.2 2.4 0.5 0.7 2.5 -0.1 2 -0.3 0.5 -0.9 0.2 -9.3 0.1 -15 -0.3 -25.6 -0.5 -4.1 -2 -0.6 -2.5 -0.2M99.6 30.5l-1 0.3 -0.5 4.1 -0.3 25.6 0.1 14.5 0.2 9 0 0.8 0.5 0.9 2 0.3 2 0.1 0.5 -0.7 0.2 -1.4 0.2 -5.5 0.1 -9.5 0 -10 -0.5 -25.9 -0.5 -3.1 -1.5 0.2 -1.5 0.3M53.6 100.4l-3 0.4 -2.5 0.7 -2 0.9 -1 0.6 -1 0.7 -1.5 1.6 -0.8 1.1 -0.5 1 -0.2 0.7 -0.5 3.4 -0.3 2.9 0.3 3 0.5 3.9 0.5 1.3 0.5 1 1 1.6 1.5 1.8 1 1 1.5 1.2 2.5 1.6 2.5 1.2 3 1.1 3.5 0.8 3.5 0.6 4 0.3 4 0.1 4 -0.2 3.5 -0.4 3.5 -0.7 3 -0.9 2.5 -0.9 2.5 -1.3 2 -1.3 2 -1.7 1.5 -1.6 1.5 -2.3 1 -2.3 0.8 -6.4 0 -1 -0.3 -2.4 -0.5 -3.4 -1 -2.1 -1 -1.3 -1.5 -1.4 -1.5 -0.9 -1.5 -0.7 -2 -0.7 -2.5 -0.4 -2.5 -0.2 -3.5 -0.1 -11 0.4 -11.5 -0.4 -4 0.1M35.1 36.6l-0.5 2.8 -0.5 26.6 0.1 8.5 0.2 7.5 0.2 1.7 0.5 0.8 2.5 -0.2 2 -0.3 0.5 -1.3 0.2 -8.7 0 -12.5 -0.2 -20.2 -0.5 -3.7 -2 -0.6 -2.5 -0.4M101.1 36.9l-1.5 0.4 -1 0.3 -0.5 3.7 -0.2 19.2 0 12 0.1 7.5 0.1 2.7 0.5 1.3 2 0.3 2 0.2 0.5 -0.8 0.1 -0.7 0.2 -6 0.2 -8.5 0 -8 -0.5 -21.1 -0.5 -2.7 -1.5 0.2M50.6 102.9l-2.5 0.5 -2 0.8 -1 0.5 -1 0.7 -1.5 1.5 -1 1.4 -0.5 1.1 -0.5 2.6 -0.3 2.4 0.3 2.5 0.5 2.9 0.5 1.1 1 1.6 1.5 1.7 1.5 1.3 2 1.2 2.5 1.1 2.5 0.8 3 0.6 3 0.4 3.5 0.2 6 0.1 7 -0.1 4.5 -0.2 3.5 -0.5 2.5 -0.5 2.5 -0.8 2 -0.8 2 -1.2 1.5 -1.1 1.5 -1.6 1 -1.3 1 -2 0.5 -2.9 0.3 -2.5 -0.3 -2.4 -0.5 -2.6 -0.5 -1.1 -0.5 -0.8 -0.5 -0.6 -1 -1.1 -1.5 -1.1 -2 -0.9 -2.5 -0.7 -1.5 -0.2 -2 -0.1 -3.5 0.1 -8 0.8 -4 0.2 -4.5 -0.2 -10 -0.9 -2.5 0 -2 0.1M35.1 41.4l-0.5 2.5 -0.5 22.1 0.1 8 0.3 7.5 0.1 0.5 0.5 1 2.5 -0.3 2 -0.5 0.4 -1.2 0.1 -0.3 0.1 -5.2 0.1 -9.5 0 -8.5 -0.2 -11.6 -0.5 -3.4 -2 -0.7 -1 -0.2 -1.5 -0.2M102.6 41.5l-2 0.3 -2 0.7 -0.5 3.4 -0.2 11.6 0 8.5 0.1 8 0.1 6.7 0.5 1.5 2 0.5 2 0.2 0.5 -0.9 0.1 -0.5 0.3 -7.5 0.1 -8 -0.5 -22.1 -0.5 -2.4M49.1 104.9l-2 0.4 -1.5 0.5 -1.5 0.9 -1.5 1.2 -1 1.3 -0.5 1 -0.5 2.1 -0.3 2.1 0.3 2.2 0.5 2.2 0.5 1 1 1.4 1.5 1.5 1.5 1 2 0.9 1.5 0.5 3 0.6 3 0.2 3 -0.1 7 -0.6 3.5 -0.2 4 0.1 6.5 0.6 2.5 0.2 2.5 0 2.5 -0.2 2 -0.4 1.5 -0.5 1.5 -0.6 1.5 -0.8 1.5 -1.1 1 -1.1 1 -1.4 0.5 -1 0.5 -2.2 0.3 -2.2 -0.3 -2.1 -0.5 -2.1 -0.5 -1 -0.5 -0.7 -1.5 -1.5 -1.5 -0.9 -2 -0.8 -1.5 -0.3 -1.5 -0.2 -1.5 0 -2 0.1 -3.3 0.5 -7.7 1.8 -2.5 0.3 -2 0.1 -2 -0.1 -2.5 -0.3 -7.7 -1.8 -2.8 -0.4 -2.5 -0.2 -2.5 0.1M35.1 45l-0.5 2.2 -0.5 18.8 0.1 7 0.4 7.4 0.5 1.1 2.5 -0.3 2 -0.7 0.5 -1.7 0.2 -12.8 -0.2 -16.6 -0.5 -3.2 -2 -0.8 -1 -0.2 -1.5 -0.2M100.6 45.4l-2 0.8 -0.5 3.2 -0.2 16.6 0.2 12.8 0.5 1.7 2 0.7 2 0.3 0.5 -1.1 0.5 -11.9 -0.1 -6.5 -0.4 -14.8 -0.5 -2.2 -2 0.4M48.1 106.4l-2 0.4 -1.5 0.5 -1.5 1 -1 0.9 -1 1.5 -0.5 1.8 -0.3 1.9 0.3 2 0.5 1.8 1 1.6 1 1 1.5 1.1 1.5 0.7 2 0.6 2 0.2 2 0 2 -0.2 2.5 -0.6 3.3 -1.2 3.1 -1.5 4.1 -2.2 1 -0.5 1 -0.1 1 0.1 1 0.5 4.1 2.2 2 1 1.9 0.8 1.9 0.7 2.1 0.6 2 0.3 2 0.2 2 -0.2 1.5 -0.2 1.5 -0.5 1.5 -0.7 1.5 -1.1 1 -1 1 -1.6 0.5 -1.8 0.3 -2 -0.3 -1.9 -0.5 -1.8 -0.5 -0.8 -1 -1.2 -1.5 -1.1 -1.5 -0.7 -1.5 -0.4 -2 -0.2 -2 0.2 -2.3 0.4 -2.2 0.7 -1.9 0.8 -2.9 1.5 -6.7 4.2 -1 0.4 -1 0.2 -1 -0.2 -1 -0.4 -6.7 -4.2 -1.9 -1 -2.4 -1.1 -2 -0.7 -2 -0.5 -2 -0.2 -2 0M35.1 47.8l-0.5 2 -0.5 16.2 0.2 6 0.3 7 0.5 1.1 1 -0.1 1.5 -0.3 2 -0.7 0.5 -1.9 0.2 -11.1 -0.2 -13.9 -0.5 -2.9 -1 -0.6 -1 -0.3 -1.5 -0.4 -1 -0.1M102.1 47.9l-2 0.5 -1.5 0.8 -0.5 2.9 -0.2 13.9 0.2 11.1 0.5 1.9 2 0.7 2 0.4 0.5 -1.1 0.1 -0.5 0.3 -9 0 -6 -0.4 -13.7 -0.5 -2 -0.5 0.1M45.6 107.8l-1 0.3 -1 0.5 -1 0.7 -0.5 0.5 -1 1.3 -0.5 1.6 -0.3 1.7 0.3 1.8 0.5 1.6 0.5 0.8 1 1.1 1.5 1 1.5 0.7 2 0.4 2 0 2 -0.4 2 -0.6 1 -0.6 1 -0.6 1.3 -1.2 0.4 -0.5 0.6 -1 0.3 -1 0 -1 -0.2 -1 -0.4 -1 -0.6 -1 -1 -1 -1.2 -1 -1.2 -0.7 -1.5 -0.8 -1 -0.3 -1.5 -0.4 -1.5 -0.1 -1.5 0 -1 0.2M88.1 107.8l-2 0.6 -1.5 0.8 -1.5 0.9 -1.4 1.3 -1.1 1.5 -0.6 1.5 0 1 0 0.5 0.3 1 0.6 1 0.4 0.5 1.1 1 1.6 1 1.6 0.7 2 0.6 2 0.1 2 -0.2 1.5 -0.4 1 -0.5 1.5 -1 1 -1.1 0.5 -0.8 0.5 -1.6 0.3 -1.8 -0.3 -1.7 -0.5 -1.6 -0.5 -0.7 -1 -1.1 -1 -0.7 -1 -0.5 -1 -0.3 -1.5 -0.2 -1.5 0 -1.5 0.2M35.1 50l-0.5 1.9 -0.4 14.1 0.1 5 0.3 6.8 0.5 1.1 1.5 -0.2 1 -0.3 1 -0.4 1 -0.5 0.5 -2.1 0.2 -9.4 -0.2 -11.5 -0.5 -2.9 -1 -0.6 -1 -0.5 -1 -0.2 -1.5 -0.3M101.1 50.4l-1.5 0.6 -1 0.6 -0.5 2.9 -0.2 11.5 0.2 9.4 0.5 2.1 1 0.5 1 0.4 2 0.4 0.5 -1.1 0.4 -9.2 0 -5.5 -0.4 -11.1 -0.5 -1.8 -1.5 0.3M44.6 108.8l-1.5 0.7 -1 0.7 -0.5 0.5 -0.5 0.7 -0.5 1.4 -0.3 1.6 0.3 1.6 0.5 1.5 0.5 0.7 1 1 1 0.6 1.5 0.6 1.5 0.2 1.5 0 1.5 -0.3 1.5 -0.6 1.3 -0.8 0.7 -0.6 0.7 -0.9 0.5 -1 0.3 -1 0 -1 -0.2 -1 -0.8 -1.5 -0.9 -1 -0.6 -0.5 -1 -0.7 -1.5 -0.7 -1 -0.3 -1.5 -0.2 -1.5 0.1 -1 0.2M89.1 108.9l-1.5 0.6 -1.5 0.9 -1.1 1 -0.7 1 -0.5 1 -0.2 1.5 0.1 1 0.4 1 0.7 1 1 1 1.3 0.8 1.5 0.6 1.5 0.3 1.5 0 1.5 -0.2 1.5 -0.6 1 -0.6 1 -1 0.5 -0.7 0.5 -1.5 0.3 -1.6 -0.1 -0.5 -0.2 -1.1 -0.5 -1.4 -0.5 -0.7 -1 -0.9 -1 -0.6 -1 -0.4 -1 -0.2 -1 -0.1 -1.5 0.1 -1 0.3M35.1 51.8l-0.5 1.7 -0.4 12.5 0.1 4.5 0.3 6.2 0.5 1.1 1.5 -0.3 1 -0.3 1 -0.4 1 -0.6 0.5 -2.3 0.2 -7.9 -0.2 -9.5 -0.5 -2.9 -1 -0.7 -1 -0.5 -1 -0.3 -1.5 -0.3M102.6 51.9l-1 0.2 -1 0.3 -1 0.5 -1 0.7 -0.5 2.9 -0.2 9.5 0.2 7.9 0.5 2.3 1 0.6 1 0.4 2 0.5 0.5 -1.1 0.3 -6.1 0.1 -4.5 -0.4 -12.4 -0.5 -1.7M44.6 109.4l-1 0.3 -1 0.5 -1 0.8 -0.5 0.7 -0.5 1.3 -0.3 1.4 0.3 1.5 0.5 1.3 0.5 0.7 1 0.9 1 0.5 1 0.3 1 0.2 1.5 -0.1 1 -0.2 1 -0.3 1 -0.6 0.8 -0.7 0.4 -0.5 0.6 -1 0.3 -1 0.1 -0.5 -0.1 -1 -0.3 -1 -0.6 -1 -0.4 -0.5 -1.2 -1 -0.9 -0.5 -1.2 -0.4 -1 -0.2 -1 0 -1 0.1M91.1 109.4l-1 0.2 -1 0.5 -1 0.6 -0.8 0.7 -0.7 1 -0.5 1 -0.2 1 0.1 1 0.3 1 0.6 1 1 1 0.8 0.5 1.1 0.5 1.3 0.3 1.5 0.1 1 -0.2 1 -0.3 1 -0.5 1 -0.9 0.5 -0.7 0.5 -1.3 0.2 -1 0.1 -0.5 -0.3 -1.4 -0.5 -1.3 -0.5 -0.7 -1 -0.8 -1 -0.5 -1 -0.3 -1 -0.1 -1.5 0.1M35.1 53.4l-0.5 1.5 -0.4 11.1 0.1 4 0.3 5.7 0.5 1.1 1.5 -0.3 1 -0.3 1 -0.5 1 -0.8 0.5 -2.5 0.2 -6.4 -0.1 -2.5 -0.1 -5.1 -0.5 -3.1 -1 -0.8 -1 -0.5 -1 -0.4 -1.5 -0.2M102.6 53.4l-1 0.2 -1 0.4 -1 0.5 -1 0.8 -0.5 3.1 -0.1 5.1 -0.1 2.5 0.2 6.4 0.5 2.5 1 0.8 1 0.5 1 0.3 1 0.2 0.5 -1.1 0.3 -5.6 0.1 -4 -0.4 -11 -0.5 -1.6M44.6 109.9l-1 0.2 -1 0.4 -1 0.8 -0.5 0.6 -0.5 1.1 -0.2 0.9 -0.1 0.5 0.3 1.5 0.5 1.1 0.5 0.6 0.5 0.5 1 0.6 1.5 0.4 1 0.1 1 -0.2 1 -0.3 1 -0.5 0.9 -0.8 0.4 -0.5 0.3 -0.5 0.3 -1 0.1 -1 0 -0.5 -0.3 -1 -0.3 -0.5 -0.8 -1 -0.6 -0.5 -1 -0.5 -1 -0.4 -1 -0.1 -1 0M92.1 109.9l-1 0.3 -1 0.4 -1 0.7 -0.5 0.6 -0.4 0.5 -0.5 1 -0.1 1 0.1 1 0.3 1 0.3 0.5 0.8 0.9 0.9 0.6 1.1 0.5 1 0.2 1 0 1 -0.1 1 -0.3 1 -0.6 0.5 -0.5 0.5 -0.6 0.5 -1.1 0.2 -1 0.1 -0.5 -0.3 -1.4 -0.5 -1.1 -0.5 -0.6 -1 -0.8 -0.5 -0.2 -1 -0.3 -1 -0.1 -1 0"/></g>
<line x1="34.55" y1="0" x2="34.55" y2="180.4" stroke="#1a1a1a" stroke-opacity="0.9" stroke-width="0.7" stroke-dasharray="2.8 1.6"/>
<line x1="40.31" y1="0" x2="40.31" y2="180.4" stroke="#1a1a1a" stroke-opacity="0.9" stroke-width="0.7" stroke-dasharray="2.8 1.6"/>
<line x1="97.89" y1="0" x2="97.89" y2="180.4" stroke="#1a1a1a" stroke-opacity="0.9" stroke-width="0.7" stroke-dasharray="2.8 1.6"/>
<line x1="103.65" y1="0" x2="103.65" y2="180.4" stroke="#1a1a1a" stroke-opacity="0.9" stroke-width="0.7" stroke-dasharray="2.8 1.6"/>
</g>
<rect width="138.2" height="180.4" fill="none" stroke="#262626" stroke-opacity="0.55" stroke-width="0.5"/>
<path d="M11.52 180.4 v-1.6M11.52 0v1.6M69.10 180.4 v-1.6M69.10 0v1.6M126.68 180.4 v-1.6M126.68 0v1.6M0 174.76h1.6M138.2 174.76h-1.6M0 146.58h1.6M138.2 146.58h-1.6M0 118.39h1.6M138.2 118.39h-1.6M0 90.20h1.6M138.2 90.20h-1.6M0 62.01h1.6M138.2 62.01h-1.6M0 33.83h1.6M138.2 33.83h-1.6M0 5.64h1.6M138.2 5.64h-1.6" stroke="#262626" stroke-opacity="0.7" stroke-width="0.5" fill="none"/>
<g class="tl">
<text x="10.72" y="195" text-anchor="middle">-1</text>
<text x="69.10" y="195" text-anchor="middle">0</text>
<text x="126.68" y="195" text-anchor="middle">1</text>
<text x="-3.6" y="180.06" text-anchor="end">-1.5</text>
<text x="-3.6" y="151.88" text-anchor="end">-1</text>
<text x="-3.6" y="123.69" text-anchor="end">-0.5</text>
<text x="-3.6" y="95.50" text-anchor="end">0</text>
<text x="-3.6" y="67.31" text-anchor="end">0.5</text>
<text x="-3.6" y="39.12" text-anchor="end">1</text>
<text x="-3.6" y="10.94" text-anchor="end">1.5</text>
</g>
<rect x="143.8" y="0" width="11" height="180.4" fill="url(#jet)"/>
<rect x="143.8" y="0" width="11" height="180.4" fill="none" stroke="#262626" stroke-opacity="0.5" stroke-width="0.4"/>
<g class="tl cb">
<text x="158.1" y="183.60">-6</text>
<text x="158.1" y="153.53">-4</text>
<text x="158.1" y="123.47">-2</text>
<text x="158.1" y="93.40">0</text>
<text x="158.1" y="63.33">2</text>
<text x="158.1" y="33.27">4</text>
<text x="158.1" y="3.20">6</text>
</g>
<text class="al" x="72.6" y="207.2" text-anchor="middle"><tspan class="it">x</tspan><tspan dx="0.8">[m]</tspan></text>
<text class="al zl" transform="translate(-26.3,89.9) rotate(-90)" text-anchor="middle"><tspan class="it">z</tspan>[m]</text>
<text class="pl" x="-50.9" y="8.7">(a)</text>
</g>
<g transform="translate(299.2,9)">
<rect width="138.2" height="180.4" fill="#80ff80"/>
<g clip-path="url(#cp)"><g filter="url(#bl2)"><path fill="#8aff75" d="M52.8 0.5l1.2 -0.5 30.2 0 2.9 1.3 3 1.7 3 2 2.4 2 2.1 2 2.2 2.5 1.8 2.6 1.7 2.9 0.9 2 1 2.4 0.6 2.1 0.6 2.5 0.3 2.5 0.2 2 0 2.5 -0.1 2.5 -0.3 2.5 -0.5 2.5 -1.1 4.5 -1.6 4.5 -3.7 9.3 -1 2.9 -0.5 2.1 -0.2 1.7 0 1 0.1 1 0.6 2.8 1.2 4.2 0.6 2.5 0.3 2.5 0.1 2 -0.3 2 -0.5 1.5 -0.4 0.6 -0.7 0.9 -0.6 0.5 -0.8 0.5 -1.9 0.7 -2 0.4 -3 0.3 -4 0.3 -7 0.1 -17 0 -12 -0.2 -5 -0.4 -2 -0.3 -1.5 -0.4 -1.4 -0.5 -1.1 -0.8 -0.8 -0.7 -0.6 -1 -0.4 -1 -0.3 -1.5 -0.1 -1.5 0.1 -2 0.7 -3.5 1.9 -7.3 0.2 -1.7 0 -1 -0.2 -1.7 -1 -3.6 -4.8 -12.2 -1.1 -3.5 -0.9 -3.5 -0.7 -3.5 -0.3 -4 0 -3.5 0.5 -3.5 0.4 -2 0.5 -2 0.7 -2 0.8 -2 1 -2 1.1 -2 1.3 -1.8 1.2 -1.7 2.8 -3 1.5 -1.4 2 -1.6 3.5 -2.3 2 -1.1 2.2 -1.1zM23.2 94.9l1.8 0 1.5 0.1 1.5 0.2 1.5 0.5 1.5 0.8 1 0.8 1 1.1 1 1.4 1.6 2.4 1.5 2.8 1.5 3.1 1 2.5 0.5 1.9 0.2 1.4 0 1 -0.2 1 -0.5 2.2 -1 2.4 -1 1.8 -1.5 2.2 -2.1 2.5 -2 2 -2 1.7 -2 1.4 -2 1.2 -2 1 -2 0.8 -2 0.6 -2.5 0.4 -2.5 0.1 -2 -0.1 -2 -0.3 -2 -0.6 -1.5 -0.7 -1.2 -0.6 -2.3 -1.5 -2.1 -2 -0.9 -1.1 -1 -1.4 0 -19.9 1.7 -2.6 2.3 -2.5 2.4 -2 1.5 -1 1.6 -0.9 3.1 -1.6 3.4 -1.1 3.5 -0.9 3.7 -0.5zM112.2 94.9l2 0 2 0.1 2 0.3 2 0.4 2 0.6 2 0.6 3.5 1.5 1.8 1 1.6 1 2.5 2 1.1 1 1.4 1.5 1.1 1.5 1 1.6 0 19.9 -1.5 2 -2 2 -2 1.5 -2 1.1 -2 0.8 -2 0.6 -2 0.3 -2.5 0 -2 -0.1 -2 -0.4 -2 -0.6 -2.5 -1 -2.5 -1.3 -2 -1.4 -2 -1.5 -2 -1.9 -2.1 -2.2 -1.5 -2 -1.5 -2.4 -1 -2 -0.5 -1.3 -0.5 -2.2 -0.2 -1 0 -1 0.2 -1 0.5 -2.3 0.5 -1.3 1 -2.3 1.5 -3 1.5 -2.7 1.1 -1.5 1.5 -1.9 1 -1 1 -0.7 1.5 -0.7 1.5 -0.4 1.5 -0.2z"/>
<path fill="#95ff6a" d="M66.3 21l2.8 -0.1 2.5 0.1 2.5 0.2 2.5 0.5 2.5 0.6 2 0.7 2.5 1.1 2 1 2 1.2 2 1.5 2 1.7 1.5 1.5 1.5 1.8 1.5 2.1 1.2 2.1 1 2 0.8 2.5 0.7 2.5 0.3 2.5 0.2 2.5 -0.1 2.5 -0.3 3 -0.5 3 -1.3 6 -0.2 2 0 1 0.1 1 1 6.5 0.1 2 -0.1 2 -0.3 1.5 -0.3 1 -0.4 1 -0.9 1.3 -1 1.1 -0.6 0.6 -1.4 0.8 -1 0.4 -2 0.7 -2.5 0.5 -3 0.3 -3.5 0.2 -6 0.1 -15.5 0 -5 -0.1 -3.5 -0.2 -2.5 -0.3 -2 -0.4 -2 -0.6 -1.5 -0.6 -1.4 -0.8 -1.1 -1.1 -0.8 -0.9 -0.8 -1.5 -0.4 -1 -0.3 -1.5 -0.1 -1.5 -0.1 -1.5 0.2 -2.5 1 -6.5 0 -1 -0.2 -2 -1.7 -8.5 -0.4 -3 -0.1 -2.5 0.2 -3 0.3 -2.5 0.8 -3 1 -2.5 0.9 -1.9 1 -1.7 1.3 -1.9 1.2 -1.4 1.5 -1.6 1.5 -1.4 3 -2.3 1.5 -0.9 2 -1.1 2 -0.9 2 -0.7 2 -0.6 2 -0.5 2 -0.4 2.2 -0.2zM27.2 101.4l1.3 0.1 1 0.1 2 0.6 1 0.5 1 0.6 1.1 0.7 1 1 1 1.1 1 1.3 1.5 2.5 0.5 1.1 0.5 1.6 0.2 1.3 0 1 -0.2 1.4 -0.5 1.5 -1 2 -1.5 2 -1 1 -1 0.9 -2.1 1.4 -1 0.5 -1.5 0.6 -2 0.4 -1 0.2 -1.5 0 -1.5 -0.2 -1 -0.2 -2 -0.8 -2 -1.2 -1.6 -1.5 -0.8 -1 -0.6 -1 -0.9 -2 -0.5 -2 -0.2 -1 0 -1.5 0.3 -2.5 0.4 -1.5 0.4 -1 1.1 -2 1.7 -2 1.7 -1.5 2 -1.2 1 -0.4 1.5 -0.5 2.2 -0.4zM109.8 101.4l1.4 0.1 1 0.1 1 0.2 1.5 0.5 2 1 2 1.4 1.6 1.7 1.4 2 0.9 2 0.3 1 0.3 1.5 0.1 2.5 -0.4 2.5 -0.7 2 -1.1 2 -1.4 1.7 -1 0.8 -1 0.7 -2 1 -1.2 0.3 -1.3 0.3 -1 0.1 -1.5 0 -1 -0.2 -1.5 -0.3 -1.5 -0.5 -1 -0.5 -1 -0.5 -1.6 -1.1 -1 -0.9 -1 -1 -1.5 -2 -1 -2 -0.5 -1.5 -0.2 -1.4 0 -1 0.2 -1.3 0.5 -1.6 0.5 -1.1 1.5 -2.5 1.5 -1.9 1.5 -1.5 1.1 -0.7 1 -0.6 2 -0.9 1 -0.2 1.1 -0.2z"/>
<path fill="#9fff60" d="M68.1 30.5l2 0 2.5 0.1 2 0.3 2.5 0.5 2.5 0.7 2 0.7 2 0.9 2 1 1.5 1 2 1.4 1.5 1.3 1.5 1.4 1.5 1.8 1 1.4 1 1.6 1 2 0.8 1.9 0.6 2 0.4 2 0.2 2.5 0.1 2 -0.1 2 -0.7 6.5 0 1 0.5 5.5 -0.2 3 -0.2 1.5 -0.5 1.5 -0.7 1.5 -0.6 1 -0.6 0.6 -1 1 -1 0.7 -1.5 0.9 -2 0.7 -2.5 0.6 -2.5 0.3 -3.5 0.3 -5 0.1 -16 0 -4 -0.1 -3.5 -0.3 -2.5 -0.3 -2 -0.4 -2 -0.7 -1.5 -0.8 -1.5 -1 -1 -1 -1 -1.3 -0.7 -1.3 -0.7 -2 -0.3 -2.5 0 -2.5 0.4 -5 0 -1 -0.7 -6.5 -0.1 -2 0.1 -2 0.3 -3 0.6 -2.5 0.9 -2.5 1.2 -2.4 1 -1.6 1 -1.4 1 -1.2 1.5 -1.6 1.5 -1.3 1.5 -1.2 3 -1.8 3.5 -1.7 3.5 -1.1 2 -0.5 2 -0.4 4 -0.3zM29 104.9l1.5 -0.1 1 0.1 1 0.2 1 0.3 1.1 0.4 1.5 1 1.5 1.4 1 1.3 0.5 0.8 0.5 1 0.5 1.4 0.2 1.2 0 1 -0.2 1.3 -0.5 1.3 -1 1.7 -1 1.2 -1.5 1.3 -1.5 0.9 -1.6 0.6 -1.5 0.3 -2 0 -1.5 -0.2 -1.5 -0.6 -1.5 -0.9 -1.5 -1.4 -1 -1.5 -0.7 -1.5 -0.4 -2 0 -1.5 0.3 -2 0.7 -2 1 -1.5 1.1 -1.2 1.5 -1.1 1.5 -0.8 1.5 -0.4zM106.2 104.9l2 -0.1 1.5 0.2 1 0.3 1 0.5 1.5 1 1.2 1.1 1.1 1.5 0.7 1.5 0.5 2 0.1 2 -0.2 1.5 -0.2 1 -0.4 1 -0.9 1.5 -0.9 1.1 -1.5 1.2 -1.5 0.8 -1 0.3 -1 0.2 -1.5 0.1 -2 -0.3 -2.1 -0.7 -1.5 -0.9 -1.5 -1.3 -1 -1.2 -0.5 -0.7 -0.5 -1 -0.5 -1.3 -0.2 -1.3 0 -1 0.2 -1.2 0.5 -1.4 1 -1.8 1 -1.3 1 -1 1.5 -1.1 1.6 -0.7 1.5 -0.5z"/>
<path fill="#aaff55" d="M63.4 37l2.2 -0.3 2.5 -0.2 2.5 0.1 2 0.1 2.5 0.3 2 0.4 2.5 0.7 2 0.6 2 0.9 2 0.9 2 1.2 1.5 1.1 1.5 1.2 1.5 1.4 1.5 1.7 1 1.4 1.2 2 0.9 2 0.7 2 0.5 2.5 0.2 3 0 2.5 -0.2 3 0.2 4 0 2 -0.2 1.5 -0.3 1.4 -0.5 1.5 -0.5 1.1 -0.5 1 -1 1.2 -1 1 -1 0.8 -2 1 -2 0.8 -2.5 0.5 -3 0.4 -6 0.2 -17.5 0 -4.5 -0.2 -2.5 -0.2 -2.5 -0.4 -2 -0.5 -1.5 -0.6 -1.5 -0.7 -1.5 -1.1 -1 -1 -1 -1.3 -0.6 -0.9 -0.6 -1.5 -0.4 -1.5 -0.3 -1.5 -0.1 -2.5 0.2 -4.5 -0.2 -3 0 -2.5 0.1 -2.5 0.5 -2.5 0.8 -2.5 0.9 -2 1.7 -2.7 2 -2.4 2 -1.8 2.5 -1.9 3 -1.7 3 -1.3 3.5 -1.1 3.3 -0.6zM30.6 106.9l1.4 -0.2 1.5 0.1 1.6 0.5 1 0.5 1.5 1.1 1 1.1 1 1.5 0.5 1.3 0.2 1.1 0 1 -0.2 1.2 -0.5 1.2 -0.5 0.9 -1 1.2 -1 0.9 -1.5 0.8 -1.6 0.6 -1.5 0.1 -1.5 -0.1 -1.5 -0.4 -1 -0.5 -1.1 -0.9 -0.9 -1 -0.9 -1.5 -0.5 -1.5 -0.1 -1.5 0.1 -1.5 0.3 -1 0.6 -1.5 1 -1.3 1 -0.9 1.2 -0.8 1.4 -0.5zM104.2 106.9l1.5 -0.2 1.5 0.1 1.5 0.5 1 0.5 1.3 1.1 0.9 1 0.5 1 0.6 1.5 0.2 1.5 -0.1 1.5 -0.3 1.5 -0.5 1 -1 1.5 -1.1 1 -1 0.6 -1.5 0.6 -1.5 0.2 -1.5 -0.1 -1.6 -0.3 -1.5 -0.8 -1 -0.7 -1 -1.1 -1 -1.5 -0.5 -1.2 -0.2 -1.2 0 -1 0.2 -1.1 0.5 -1.3 0.5 -0.9 1 -1.2 1.5 -1.3 1.5 -0.8 1.1 -0.4z"/>
<path fill="#b5ff4a" d="M63.2 41.5l4.4 -0.4 4.5 0.1 2 0.2 2.5 0.3 2.5 0.6 2 0.5 2 0.7 2 0.9 2 1 1.5 0.9 1.5 1 1.5 1.3 1.5 1.4 1 1.2 1 1.4 1 1.8 0.9 2.1 0.6 2 0.2 1.5 0.2 2 -0.1 3.5 0.1 3.5 -0.1 1.5 -0.2 1.5 -0.4 1.5 -0.4 1 -0.5 1 -0.8 1.2 -1 1.2 -1 0.9 -2 1.3 -2 0.8 -2.5 0.6 -3 0.4 -4.5 0.2 -10 -0.1 -13 0.1 -2.5 -0.2 -2 -0.2 -2 -0.4 -1.5 -0.4 -1.5 -0.6 -1.5 -0.8 -1.5 -1.1 -1 -1 -1.3 -1.9 -0.9 -2 -0.5 -2 -0.2 -2.5 0.1 -3.5 -0.1 -3.5 0.3 -2.5 0.3 -1.5 0.4 -1.5 0.6 -1.5 0.8 -1.5 1.5 -2.3 2 -2.2 2 -1.7 2.5 -1.6 3 -1.6 3 -1.1 3 -0.9 3.6 -0.6zM31.2 108.4l1.3 -0.4 1 0 1.6 0.1 1 0.4 1.5 0.9 1 0.9 1 1.4 0.3 0.7 0.4 1.5 0 1 -0.2 1.1 -0.5 1.2 -0.5 0.7 -1 1.1 -1 0.8 -1 0.4 -1.5 0.4 -1.1 0.1 -1.5 -0.2 -1 -0.4 -1 -0.5 -0.7 -0.7 -0.9 -1 -0.5 -1 -0.5 -1.5 -0.1 -1 0.1 -1 0.4 -1.5 0.5 -1 0.8 -1 0.9 -0.8 1.2 -0.7zM102.3 108.4l0.8 -0.3 1.6 -0.1 1.5 0.2 1 0.3 1 0.6 0.9 0.8 0.8 1 0.5 1 0.4 1.5 0.1 1 -0.1 1 -0.5 1.5 -0.5 1 -0.9 1 -1.2 1 -1 0.5 -1 0.2 -1.5 0.1 -1.1 -0.1 -1.5 -0.6 -1 -0.6 -1 -0.9 -1 -1.3 -0.5 -1.2 -0.2 -1.1 0 -1 0.2 -1 0.5 -1.2 0.5 -0.8 1 -1.1 1 -0.8 1.2 -0.6z"/>
<path fill="#bfff40" d="M64.5 45l4.6 -0.2 4.5 0.2 4 0.5 4 0.8 2 0.6 2 0.8 3 1.4 2.5 1.6 1.5 1.3 1 1 1.5 1.8 1 1.6 0.5 1.1 0.5 1.3 0.4 1.2 0.3 1.5 0.1 1.5 0 5.5 -0.1 1.5 -0.3 1.5 -0.4 1.1 -0.6 1.4 -0.9 1.3 -1 1.1 -1 0.9 -1.5 1 -1.5 0.7 -1.5 0.5 -1.5 0.4 -2 0.3 -2 0.2 -2.5 0 -11 -0.3 -13 0.3 -2.5 0 -2 -0.2 -2.5 -0.4 -2.5 -0.8 -2 -1 -1 -0.7 -1 -0.9 -1 -1.1 -0.5 -0.7 -0.5 -0.9 -0.5 -1.1 -0.6 -2.1 -0.2 -2.5 0 -5 0.3 -2.5 0.5 -1.7 0.5 -1.3 0.5 -1.1 1 -1.6 1.5 -1.8 2 -1.9 2.5 -1.7 2.5 -1.3 3 -1.2 3 -0.8 3.5 -0.7 3.4 -0.4zM33.4 108.9l1.2 -0.1 1.5 0.3 1 0.4 1 0.6 1 1 0.5 0.8 0.5 1.1 0.2 0.9 0 1 -0.2 1 -0.5 1.1 -0.5 0.7 -0.5 0.6 -1 0.7 -1 0.5 -1 0.3 -1.1 0.1 -1 -0.1 -1 -0.3 -1.1 -0.6 -0.6 -0.5 -0.9 -1 -0.5 -1 -0.3 -1 -0.1 -1 0.1 -1 0.3 -1 0.4 -1 0.7 -0.9 0.7 -0.6 0.8 -0.5 1.4 -0.5zM102.7 108.9l0.9 -0.1 1.1 0.1 1 0.3 1 0.5 0.9 0.7 0.8 1 0.4 1 0.3 1 0.1 1 -0.1 1 -0.3 1 -0.5 1 -0.9 1 -0.6 0.5 -1.1 0.6 -1 0.3 -1.6 0.1 -1 -0.2 -1 -0.4 -1 -0.6 -1 -1 -0.5 -0.7 -0.5 -1.1 -0.2 -1 0 -1 0.2 -0.9 0.5 -1.1 0.5 -0.8 0.5 -0.5 1 -0.8 1 -0.6 1.1 -0.3z"/>
<path fill="#caff35" d="M60.7 48.5l4.9 -0.4 5 0 5 0.2 4 0.4 3.5 0.7 3 0.9 3 1.3 2.5 1.4 2 1.7 1 1 1 1.3 1.1 2 0.4 1 0.5 1.5 0.2 1.5 0.1 1.5 0 3 -0.1 1.5 -0.3 1.5 -0.4 1.1 -0.5 1.1 -0.5 0.9 -1 1.2 -1 1 -1 0.7 -1.5 0.8 -1.5 0.6 -1.5 0.4 -1.5 0.3 -2 0.2 -4 0 -8 -0.5 -4 -0.1 -4 0.1 -8 0.5 -4 0 -2.5 -0.3 -2.5 -0.6 -2 -0.8 -1.5 -1 -1.5 -1.3 -1 -1.2 -0.5 -0.9 -0.8 -1.7 -0.4 -2 -0.1 -1.5 0 -2.5 0.2 -2.5 0.6 -2.5 1 -2.2 1.5 -2.1 1.5 -1.5 2 -1.5 2 -1.1 2.5 -1.1 2.5 -0.8 3 -0.7 3.6 -0.5zM33.1 109.9l1.5 -0.4 1 0 1 0.2 1 0.4 1 0.7 1 1.2 0.5 1 0.2 0.9 0 1 -0.2 1 -0.5 1 -0.5 0.6 -0.5 0.5 -1 0.7 -1 0.4 -1 0.2 -1 0 -1.1 -0.3 -1 -0.5 -0.7 -0.6 -0.5 -0.5 -0.6 -1 -0.3 -1 -0.1 -1 0.1 -1 0.3 -1 0.6 -1 0.4 -0.5 0.5 -0.5 0.9 -0.5zM101 109.9l0.6 -0.2 1 -0.2 1 0 1.1 0.2 1 0.5 0.8 0.7 0.4 0.5 0.6 1 0.4 1.5 0 1 -0.2 1 -0.2 0.5 -0.6 1 -0.7 0.7 -1 0.7 -1 0.4 -1.1 0.1 -1 -0.1 -1 -0.3 -1 -0.5 -1 -0.9 -0.5 -0.6 -0.5 -1 -0.2 -1 0 -1 0.2 -0.9 0.5 -1 0.5 -0.7 1 -0.9 0.9 -0.5z"/>
<path fill="#d5ff2a" d="M56.9 51.5l3.2 -0.3 4.5 -0.1 9.5 0 5 0.2 3 0.3 3 0.5 2.5 0.6 2.5 1 2.5 1.5 2 1.7 1.5 1.9 1 2 0.4 1.2 0.3 1.5 0.1 3.5 -0.3 2.3 -0.3 1.2 -0.4 1 -0.8 1.3 -1 1.1 -1 0.9 -1 0.7 -1.5 0.7 -1.5 0.5 -1.5 0.4 -1.5 0.2 -2 0.1 -2.5 -0.1 -9 -1 -4.5 -0.2 -4.5 0.2 -9 1 -3.5 0.1 -2 -0.2 -1.5 -0.3 -1.5 -0.5 -1.5 -0.6 -1 -0.6 -1 -0.8 -1.5 -1.6 -1 -1.9 -0.5 -1.6 -0.3 -1.8 0.1 -3.5 0.3 -2 0.7 -2 1.2 -1.9 1 -1.2 1.5 -1.3 2 -1.3 2 -1 2.5 -0.9 2.5 -0.5 2.8 -0.4zM33.7 110.4l0.9 -0.3 1 -0.1 1.5 0.2 1 0.4 0.5 0.4 1 1.1 0.5 1 0.2 0.8 0 1 -0.1 0.5 -0.1 0.4 -0.5 1 -0.5 0.6 -1 0.8 -1 0.4 -0.5 0.2 -1 0 -1 -0.1 -0.7 -0.3 -0.9 -0.5 -0.5 -0.5 -0.7 -1 -0.5 -1.5 0 -1 0.2 -1 0.5 -1 0.4 -0.5 0.5 -0.5 0.8 -0.5zM100.6 110.4l0.5 -0.2 1 -0.2 1 0 1.1 0.3 1 0.5 0.5 0.5 0.8 1.1 0.4 1.5 0 1 -0.3 1 -0.5 1 -0.4 0.5 -0.6 0.5 -0.8 0.5 -0.7 0.3 -1 0.1 -1 0 -1 -0.4 -1 -0.6 -0.5 -0.4 -0.5 -0.6 -0.5 -1 -0.2 -0.9 0 -1 0.2 -0.8 0.5 -1 0.5 -0.6 0.5 -0.5 1 -0.6z"/>
<path fill="#75ff8a" d="M11.8 44.5l1.7 -0.3 2 0 2 0.1 2 0.3 2 0.5 2 0.8 2 0.9 1.5 0.8 1.5 1 2 1.5 2 1.8 1.5 1.5 1.6 1.8 1.5 2.1 1 1.7 1 2 0.5 1.3 0.3 1.2 0.4 2 0 1 -0.2 1.4 -0.5 1.9 -0.5 1.3 -1 2.3 -1.5 3 -1.5 2.7 -1.1 1.5 -1 1.4 -1 1.1 -1 0.8 -1.5 0.8 -1.5 0.5 -2 0.3 -2 0 -2 -0.1 -2.5 -0.4 -2.4 -0.5 -2.1 -0.7 -2.4 -0.8 -2.1 -1 -1.8 -1 -1.7 -1.1 -1.9 -1.4 -1.6 -1.5 -1.4 -1.5 -1.1 -1.5 -1 -1.6 0 -19.9 1.1 -1.5 1.3 -1.5 1.1 -1.1 1.5 -1.1 1.5 -0.9 1.9 -0.9 1.6 -0.6 1.8 -0.4zM119.4 44.5l2.8 -0.3 2.5 0 2.5 0.4 2.6 0.9 2.4 1.2 2 1.3 2.1 2 1.5 2 0.4 0.5 0 19.9 -1 1.6 -1.1 1.5 -1.4 1.5 -1.1 1 -1.8 1.5 -1.5 1 -1.6 1 -2 1 -2 0.8 -2 0.7 -2 0.6 -2.5 0.5 -2.5 0.3 -2 0.1 -2 -0.1 -1.5 -0.2 -1 -0.3 -1 -0.4 -1 -0.6 -1 -0.8 -1.5 -1.8 -2.1 -3.1 -2.5 -4.8 -1.5 -3.6 -0.5 -1.9 -0.2 -1.4 0 -1 0.2 -1.5 0.5 -1.7 0.5 -1.3 1 -2 1 -1.7 2 -2.7 1.6 -1.7 1.5 -1.5 1.5 -1.3 1.5 -1.1 2 -1.4 1.5 -0.8 2 -0.9 1.5 -0.6 1.5 -0.5 1.7 -0.3zM47.7 91.4l3.4 -0.1 5 -0.2 19.5 0 9.5 0.1 6 0.3 2 0.2 2 0.4 1.2 0.3 1.2 0.5 0.8 0.5 0.8 0.8 0.6 0.7 0.5 1 0.3 1 0.3 1.5 0 1.5 -0.1 1.5 -0.7 3.5 -1.9 7.3 -0.2 1.7 0 1 0.2 1.7 1 3.6 4.8 12.2 1.1 3.5 1 4 0.7 4 0.2 3.5 -0.1 3.5 -0.4 3.5 -0.5 2 -0.6 2 -0.7 2 -0.8 2 -1 2 -1.2 1.9 -1.1 1.6 -1.4 1.8 -1.5 1.7 -1.5 1.5 -1.5 1.3 -2 1.6 -2 1.3 -2 1.2 -2 1 -2 0.9 -0.4 0.2 -30.2 0 -3.4 -1.6 -3 -1.7 -3 -2.1 -3 -2.6 -2.5 -2.7 -2 -2.7 -1.9 -3.1 -1.4 -3 -0.9 -2.5 -0.6 -2 -0.5 -2 -0.3 -2.5 -0.2 -2 0 -2.5 0.1 -2 0.2 -2.5 0.7 -3.5 1 -4 1.6 -4.5 4.2 -10.7 1 -3.6 0.2 -1.7 0 -1 -0.2 -1.7 -1.8 -6.8 -0.6 -3 -0.3 -3 0.1 -1.5 0.2 -1 0.5 -1.5 0.6 -1 0.8 -0.7 1 -0.7 1.3 -0.6 1.7 -0.4 2 -0.3 2.1 -0.3z"/>
<path fill="#6aff95" d="M23.7 54l2.3 -0.4 1.5 0 1 0.2 1.5 0.3 1 0.3 1 0.4 1.5 0.8 2.1 1.5 1 1 1 1.1 1 1.4 0.5 0.9 0.5 1.1 0.5 1.5 0.2 1.4 0 1 -0.2 1.3 -0.5 1.6 -0.5 1.1 -1.5 2.5 -1.5 1.9 -2.1 1.9 -2 1.2 -2 0.7 -2 0.3 -1.5 -0.1 -1 -0.2 -1 -0.2 -1.4 -0.5 -2.1 -1.2 -1.7 -1.3 -1 -1 -0.8 -1 -1.2 -2 -0.5 -1 -0.5 -1.5 -0.4 -2.5 0 -1.5 0.1 -1 0.3 -1.5 0.3 -1 0.9 -2 0.6 -1 0.8 -1 1.6 -1.5 2 -1.2 2.2 -0.8zM108.6 54l1.1 -0.2 1.5 -0.2 1.5 0.1 1 0.1 1 0.2 1.3 0.5 1.2 0.5 1 0.6 1.6 1.4 0.9 1 0.7 1 0.6 1 0.6 1.5 0.3 1 0.3 1.5 0.1 1 0 1.5 -0.4 2.5 -0.5 1.5 -0.5 1 -0.8 1.5 -0.8 1 -0.9 1 -1.1 1 -1.1 0.8 -1 0.6 -2 0.9 -1.5 0.4 -1 0.2 -1.5 0.1 -1 -0.1 -2 -0.5 -1 -0.4 -1 -0.6 -1 -0.6 -1.1 -0.9 -1 -1 -1 -1.2 -1.5 -2.3 -1 -2 -0.5 -1.6 -0.2 -1.3 0 -1 0.2 -1.4 0.5 -1.5 1 -2 1.5 -2 1.5 -1.5 2.1 -1.5 2 -1 1.9 -0.6zM59.3 92.9l21.8 0.1 5 0.2 3.5 0.5 2 0.5 1.5 0.5 1.5 0.7 1 0.7 1 0.9 0.8 0.9 0.6 1 0.6 1.5 0.2 1 0.2 1.5 0 2.5 -0.2 2.5 -0.9 6 0 1 0.2 2 1.7 8.5 0.4 3 0.1 2.5 -0.1 2.5 -0.3 2 -0.5 2.5 -0.6 2 -1.2 3 -1.7 3 -1.9 2.5 -2.4 2.5 -1.5 1.3 -1.5 1.2 -3 1.9 -3 1.5 -3.5 1.3 -3 0.7 -3 0.5 -3.5 0.2 -3 -0.1 -3 -0.3 -3 -0.6 -3 -0.9 -3 -1.3 -3 -1.6 -2.5 -1.7 -2.5 -2.1 -2 -2 -1.6 -2 -1.6 -2.5 -1.3 -2.7 -1 -2.8 -0.5 -2 -0.4 -2 -0.2 -2 -0.1 -2.5 0.2 -2.5 0.3 -2.5 1.7 -8.5 0.2 -2 0 -1 -1 -6.5 -0.2 -2.5 0.1 -1.5 0.1 -1.5 0.3 -1.5 0.5 -1.1 1 -1.7 0.5 -0.7 1 -0.8 1.5 -1 2 -0.8 2.5 -0.6 2.5 -0.4 3.5 -0.2 4.7 -0.2z"/>
<path fill="#60ff9f" d="M28.7 57l1.8 -0.2 2 0.3 2.1 0.7 1.5 0.9 1.5 1.3 1 1.2 1 1.7 0.5 1.3 0.1 0.8 0.1 1.5 -0.2 1.2 -0.5 1.4 -0.5 1 -1 1.5 -1.5 1.6 -1.5 1.1 -1.6 0.7 -1.5 0.4 -1.5 0.2 -1 -0.1 -1 -0.1 -1 -0.3 -1 -0.5 -1.5 -1 -1.2 -1.1 -1.1 -1.5 -0.7 -1.5 -0.5 -2 -0.1 -2 0.2 -1.5 0.2 -1 0.4 -1 0.9 -1.5 0.9 -1.1 1.5 -1.2 1.5 -0.8 1.7 -0.4zM106.2 57l2 -0.2 1.5 0.2 1 0.3 1 0.4 1.5 0.9 1.5 1.4 1 1.5 0.7 1.5 0.4 2 0 1.5 -0.3 2 -0.7 2 -1 1.5 -1.1 1.2 -1.5 1.1 -1.5 0.8 -1 0.3 -1 0.1 -1.5 0.1 -2 -0.4 -1 -0.4 -1.1 -0.5 -1.5 -1.1 -1.5 -1.6 -1 -1.5 -0.5 -1 -0.5 -1.4 -0.2 -1.2 0 -1 0.2 -1.3 0.3 -0.7 0.7 -1.6 1 -1.4 1 -1 1.5 -1.2 1.6 -0.7 1 -0.4 1 -0.2zM54.5 94.9l6.1 -0.2 17 0 5 0.2 3.5 0.3 3.5 0.6 1.5 0.5 1.5 0.7 1 0.6 1.2 0.8 0.8 0.9 0.9 1.1 0.6 1.1 0.6 1.4 0.4 1.8 0.2 1.7 0 2.5 -0.4 5 0 1 0.6 5.5 0.2 3.5 -0.1 2.5 -0.5 2.8 -0.5 2.2 -1 2.4 -1 2 -1.3 2.1 -1.7 2.1 -1.5 1.6 -2 1.7 -2 1.4 -2.5 1.5 -3 1.4 -3 1 -3 0.7 -3 0.5 -3.5 0.1 -3 -0.1 -3 -0.4 -3 -0.7 -3 -0.9 -3 -1.3 -2.5 -1.4 -2.5 -1.8 -2 -1.7 -2 -2.2 -1.9 -2.5 -1.4 -2.5 -1 -2.5 -0.7 -2.7 -0.5 -2.8 -0.1 -2 0.1 -2.5 0.7 -7 0 -1 -0.4 -4.5 -0.1 -2.5 0.2 -2 0.3 -1.5 0.8 -1.9 1 -1.6 1.5 -1.6 1.5 -1 2 -1 2 -0.6 2.5 -0.5 2.9 -0.3z"/>
<path fill="#55ffaa" d="M30 59l1.5 -0.4 1.5 0 1.6 0.3 1.5 0.6 1.5 1 1 1.1 1 1.5 0.5 1.2 0.2 1.2 0 1 -0.2 1.1 -0.5 1.3 -0.5 0.9 -1 1.2 -1 0.9 -1 0.7 -1.5 0.7 -1.6 0.3 -1.5 0 -1.5 -0.3 -1 -0.4 -1.3 -0.9 -1 -1 -0.7 -1 -0.6 -1.5 -0.4 -1.5 0 -1.5 0.3 -1.5 0.3 -1 0.9 -1.5 0.9 -1 1.1 -0.9 1.5 -0.6zM103.4 59l1.3 -0.3 1.5 -0.1 1.5 0.2 1.5 0.6 1 0.6 1.1 1 0.7 1 0.8 1.5 0.3 1.5 0.1 1.5 -0.2 1.5 -0.6 1.5 -0.7 1.2 -1 1.1 -1 0.8 -1.5 0.7 -1.5 0.3 -1.5 0 -1.6 -0.3 -1.5 -0.7 -1.5 -1.1 -1 -1.1 -1 -1.5 -0.5 -1.3 -0.2 -1.1 0 -1 0.2 -1.2 0.5 -1.2 0.5 -0.9 1 -1.2 1 -0.9 1 -0.6 1.3 -0.5zM52.5 96.9l3.1 -0.2 4.5 -0.2 18.5 0 5.5 0.3 3.5 0.5 1.5 0.3 1.5 0.5 2 1 1 0.7 1 0.9 1 1.1 1 1.6 0.7 1.5 0.5 2 0.3 2.5 -0.1 2 -0.1 2.5 0.2 5 0 3 -0.3 2 -0.3 1.5 -0.6 2 -0.6 1.5 -0.7 1.3 -1 1.7 -1 1.4 -1.5 1.7 -2 1.8 -2.5 1.9 -2.5 1.4 -3 1.4 -3 1 -3 0.7 -3 0.5 -3.5 0.2 -3.5 -0.2 -3 -0.3 -3.5 -0.8 -3 -0.9 -3 -1.3 -2.5 -1.4 -2.5 -1.8 -2 -1.7 -2 -2.2 -1 -1.4 -0.9 -1.5 -1.2 -2.5 -0.5 -1.5 -0.4 -1.5 -0.4 -2 -0.1 -2.5 0 -2.5 0.2 -3 -0.2 -5 0.2 -2.5 0.4 -2 0.9 -2 1 -1.6 1.5 -1.6 1.5 -1.1 2 -1 2.5 -0.7 2.4 -0.5z"/>
<path fill="#4affb5" d="M31.8 60l1.2 -0.3 1.6 0.1 1.5 0.4 1 0.4 1 0.8 1 1.1 0.5 0.7 0.5 1.2 0.2 1.1 0 1 -0.2 1 -0.5 1.2 -1 1.4 -1 0.9 -1 0.7 -1.5 0.6 -1.6 0.1 -1 0 -1 -0.3 -1 -0.5 -0.9 -0.6 -1 -1 -0.6 -1 -0.4 -1 -0.2 -1 0 -1.5 0.3 -1.5 0.4 -1 0.7 -1 1 -1 0.8 -0.5 1.2 -0.5zM102.7 60l1.5 -0.3 1 0 1.2 0.3 1.3 0.5 1 0.7 0.7 0.8 0.7 1 0.6 1.5 0.1 1 0 1.5 -0.4 1.5 -0.5 1 -0.8 1 -0.9 0.8 -1 0.6 -1 0.3 -1 0.2 -1.6 0 -1 -0.3 -1.5 -0.7 -1 -0.8 -1 -1.1 -0.5 -0.8 -0.5 -1.2 -0.2 -1 0 -1 0.2 -1.1 0.5 -1.2 0.5 -0.7 1 -1.1 1 -0.8 1.6 -0.6zM54.4 98.4l4.2 -0.1 10.5 0.1 10 -0.1 5 0.2 3 0.4 2.5 0.6 2 0.8 2 1.3 1 0.9 1 1.2 0.8 1.2 0.5 1 0.4 1 0.4 1.5 0.2 1.5 0.1 1.5 -0.1 3.5 0.1 3.5 -0.2 2 -0.2 1.5 -0.6 2 -0.9 2.1 -1 1.8 -1 1.4 -2 2.2 -2 1.7 -2.5 1.6 -2.5 1.3 -3 1.2 -3 0.9 -3 0.7 -3.5 0.4 -3.5 0.1 -3.5 -0.1 -3.5 -0.4 -3 -0.7 -3 -0.9 -3 -1.2 -2.5 -1.3 -2.5 -1.6 -2.5 -2.2 -1 -1.1 -1 -1.3 -1.5 -2.5 -1 -2.5 -0.6 -2.6 -0.3 -2.5 0.1 -3.5 -0.1 -4 0.3 -2.5 0.6 -1.9 1 -2.1 0.5 -0.7 1 -1.2 1.5 -1.3 2 -1.1 2 -0.7 2.5 -0.6 2.8 -0.4z"/>
<path fill="#40ffbf" d="M32.3 61l1.2 -0.4 1 -0.1 1.6 0.2 1 0.4 1 0.6 1 1 0.5 0.7 0.5 1.1 0.2 1 0 1 -0.2 0.9 -0.5 1.1 -0.5 0.8 -1 1 -1.5 0.9 -1 0.3 -1 0.1 -1.1 -0.1 -1 -0.3 -1 -0.5 -0.9 -0.7 -0.8 -1 -0.4 -1 -0.3 -1 -0.1 -1 0.1 -1 0.3 -1 0.5 -1 0.6 -0.8 0.9 -0.7 0.9 -0.5zM101.4 61l1.2 -0.4 1 -0.1 1.1 0.1 1 0.3 1 0.5 0.7 0.6 0.9 1 0.5 1 0.3 1 0.1 1.5 -0.2 1 -0.4 1 -0.6 1 -0.4 0.5 -0.9 0.7 -1 0.5 -1 0.3 -1.6 0 -1 -0.2 -1 -0.4 -1 -0.6 -1 -1 -0.5 -0.8 -0.5 -1.1 -0.2 -0.9 0 -1 0.2 -1 0.5 -1.1 0.5 -0.7 0.5 -0.6 1 -0.7 0.8 -0.4zM50.9 100.4l2.2 -0.2 3 -0.2 13 0.3 10.5 -0.3 3.5 0 2.5 0.2 2.5 0.4 2 0.6 1.5 0.6 2 1.3 1 0.9 1 1.1 0.9 1.3 0.5 1 0.6 2.2 0.2 1.3 0.1 1.5 0 4.5 -0.1 1.5 -0.2 1.5 -0.4 1.5 -0.6 1.5 -0.5 1.1 -1.5 2.3 -1.5 1.6 -2 1.8 -2 1.3 -2.5 1.3 -2.5 1 -3 0.9 -3.5 0.7 -3.5 0.5 -4 0.2 -4 -0.1 -3.5 -0.3 -3.5 -0.5 -3.5 -0.9 -3 -1.1 -2.5 -1.1 -2.5 -1.6 -1.5 -1.1 -1 -1 -1 -1 -1 -1.3 -1.3 -2.2 -0.8 -2 -0.6 -2.5 -0.1 -2 0 -5 0.3 -2.3 0.5 -1.8 0.5 -1.1 0.5 -0.9 1 -1.3 1.5 -1.4 2 -1.3 2 -0.8 2.3 -0.6z"/>
<path fill="#35ffca" d="M33.3 61.5l1.3 -0.4 1 0 1 0.2 1 0.4 1 0.7 0.5 0.5 0.5 0.6 0.5 1 0.2 1 0 1 -0.2 0.9 -0.5 1 -1 1.2 -1 0.7 -0.5 0.2 -1.5 0.4 -1 0 -1.1 -0.2 -1 -0.5 -0.8 -0.7 -0.4 -0.5 -0.6 -1 -0.3 -1 -0.1 -1 0.1 -1 0.3 -1 0.6 -1 0.5 -0.5 0.7 -0.6 0.8 -0.4zM101.1 61.5l0.5 -0.2 1 -0.2 1 0 1.1 0.3 1 0.5 0.7 0.6 0.5 0.5 0.6 1 0.3 1 0.1 1 -0.1 1 -0.3 1 -0.6 1 -0.4 0.5 -0.8 0.7 -1 0.5 -1.1 0.2 -1 0 -1 -0.2 -1 -0.4 -1 -0.7 -0.5 -0.5 -0.5 -0.7 -0.5 -1 -0.2 -0.9 0 -1 0.2 -1 0.5 -1 1 -1.1 1 -0.7 0.5 -0.2zM50.4 101.9l2.2 -0.2 3 -0.1 10 0.6 4.5 0 3.5 -0.1 7 -0.5 3.5 0 2 0.1 2 0.3 1.5 0.4 1.5 0.5 2 1 1 0.7 1 1 1 1.2 0.5 0.9 0.8 1.7 0.2 1.1 0.2 1.4 0.1 4.5 -0.3 2.2 -0.7 2.3 -0.8 1.7 -1.5 2.1 -1.5 1.5 -2 1.5 -2 1.1 -2.5 1.1 -2.5 0.8 -3 0.7 -4 0.6 -4 0.3 -5 0 -4.5 -0.1 -3.5 -0.3 -3.5 -0.6 -3 -0.7 -3 -1.1 -2.5 -1.2 -2 -1.3 -1.5 -1.3 -1.5 -1.6 -1.4 -2.2 -0.8 -2 -0.4 -2 -0.2 -2.5 0.1 -3.5 0.3 -2 0.4 -1.1 0.5 -1.1 1 -1.5 1.5 -1.6 1 -0.7 1 -0.6 2 -0.8 2.3 -0.6z"/>
<path fill="#2bffd4" d="M33.9 62l0.7 -0.3 1 -0.1 1 0 1 0.4 1 0.6 0.5 0.4 0.5 0.6 0.5 1 0.2 0.9 0 1 -0.2 0.8 -0.5 1 -0.5 0.6 -0.5 0.5 -1 0.6 -0.5 0.2 -1 0.2 -1 0 -1.1 -0.3 -1 -0.5 -0.5 -0.5 -0.8 -1.1 -0.4 -1.5 0 -1 0.3 -1 0.5 -1 0.4 -0.5 0.6 -0.5 0.8 -0.5zM100.7 62l0.4 -0.2 1 -0.2 1 0 1.1 0.3 0.9 0.6 0.6 0.5 0.4 0.5 0.5 1 0.3 1 0 1 -0.4 1.5 -0.8 1.1 -0.5 0.5 -1 0.5 -1.1 0.3 -1 0 -1 -0.2 -0.5 -0.2 -1 -0.6 -0.5 -0.5 -0.5 -0.6 -0.5 -1 -0.2 -0.8 0 -1 0.2 -0.9 0.5 -1 0.5 -0.6 0.5 -0.4 1.1 -0.6zM48.9 103.4l2.7 -0.3 3 0 3 0.2 7.5 0.8 4.5 0.2 4 -0.2 8.5 -1 3 -0.1 3 0.2 2.5 0.6 2 0.8 1 0.6 1 0.8 1.5 1.6 1 1.9 0.5 1.6 0.3 2.3 -0.1 3 -0.2 1.5 -0.2 1 -0.8 1.8 -1 1.6 -1.5 1.7 -1.5 1.2 -2 1.2 -2 0.9 -2 0.7 -2.5 0.5 -3.5 0.5 -4 0.2 -6.5 0.1 -8 -0.1 -3.5 -0.1 -3 -0.3 -2.5 -0.5 -2.5 -0.6 -2 -0.8 -2 -1 -1.5 -1.1 -1.5 -1.3 -1 -1.2 -1.2 -1.9 -0.7 -2 -0.3 -2 -0.1 -3.5 0.3 -1.8 0.5 -1.6 1 -1.9 1.5 -1.6 1.5 -1.1 2 -0.9 1.8 -0.6z"/></g><g filter="url(#bl)"><path fill="#dfff20" d="M52.6 54l2.5 -0.3 2.5 0 8.5 0.4 3.5 0 9.5 -0.4 3 0 2 0.1 2 0.2 1.5 0.3 2 0.6 2 0.9 2 1.2 1.5 1.3 1 1.2 0.5 0.8 0.5 1.1 0.4 1.1 0.4 2 0 3 -0.3 1.4 -0.3 1.1 -0.7 1.4 -0.5 0.7 -1 1.1 -1 0.8 -1 0.6 -1.5 0.7 -1.5 0.4 -1.5 0.3 -2.5 0.1 -2.5 -0.2 -2.5 -0.3 -7.5 -1.4 -2 -0.3 -2 -0.1 -2 0.1 -2.5 0.2 -8.5 1.5 -3.5 0.5 -2 0 -1.5 -0.1 -1.5 -0.3 -1.5 -0.4 -2 -0.9 -1.5 -1.2 -1 -1.1 -1 -1.7 -0.5 -1.5 -0.3 -1.9 0 -2.5 0.4 -2 0.5 -1.5 0.9 -1.5 1.5 -1.7 1.5 -1.2 1.5 -0.8 2 -0.9 2 -0.6 2 -0.3zM35.4 110.4l0.7 0 1 0.1 0.5 0.1 1 0.6 1 1 0.5 0.9 0.2 0.8 0 1 -0.2 0.9 -0.5 0.9 -1 1 -1 0.5 -0.5 0.1 -1.5 0.1 -1 -0.3 -0.6 -0.2 -0.5 -0.5 -0.5 -0.5 -0.4 -0.5 -0.4 -1 -0.1 -0.5 0 -1 0.3 -1 0.2 -0.5 0.8 -1 0.6 -0.5 0.6 -0.2 0.8 -0.3zM101.5 110.4l0.6 0 1 0.1 1.1 0.4 0.5 0.4 0.6 0.6 0.3 0.5 0.2 0.5 0.3 1 0 1 -0.1 0.5 -0.4 1 -0.4 0.5 -0.5 0.5 -0.7 0.5 -0.9 0.4 -0.5 0.1 -1.5 -0.1 -0.5 -0.1 -1 -0.5 -1 -1 -0.5 -0.9 -0.2 -0.9 0 -1 0.2 -0.8 0.5 -0.9 1 -1 1 -0.6 0.9 -0.2z"/>
<path fill="#eaff15" d="M49.1 56l1.5 -0.3 1.5 -0.1 3.5 0.1 3 0.3 7 1.3 3.5 0.2 3.5 -0.2 7.4 -1.3 3.1 -0.4 2 0 1.5 0 1.5 0.2 1.5 0.3 2 0.7 2 1 1.5 1.2 1 1.1 0.5 0.8 0.8 1.6 0.4 1.5 0.1 1 0 2 -0.3 1.6 -0.5 1.4 -0.5 0.9 -0.5 0.7 -1 1 -1 0.8 -1.5 0.7 -1.5 0.5 -1.5 0.3 -2.5 0.1 -3 -0.4 -2.8 -0.6 -7.7 -2.4 -2.5 -0.4 -2 -0.2 -2 0.2 -2.5 0.4 -7.7 2.4 -3.3 0.7 -2 0.2 -1.5 0.1 -1.5 -0.1 -1.5 -0.3 -1.5 -0.5 -1.5 -0.7 -1.5 -1.2 -1 -1.3 -0.8 -1.4 -0.4 -1.5 -0.1 -1 0.1 -2.5 0.2 -1.2 0.5 -1.5 1 -1.7 1 -1.1 1 -0.8 1.5 -1 1.5 -0.6 2 -0.6zM35.2 110.9l0.9 -0.2 0.5 0 0.5 0.1 1 0.3 1 0.6 0.5 0.6 0.5 0.8 0.2 0.8 0 1 -0.2 0.8 -0.5 0.9 -0.5 0.5 -1 0.7 -1 0.3 -0.5 0 -1 -0.1 -0.5 -0.2 -0.8 -0.4 -0.6 -0.5 -0.6 -1 -0.2 -0.5 -0.2 -1 0.2 -1 0.2 -0.5 0.2 -0.5 0.7 -0.8 1.2 -0.7zM100.5 110.9l1.1 -0.2 1 0.1 0.5 0.2 0.9 0.4 0.5 0.5 0.6 1 0.2 0.5 0.2 1 -0.2 1 -0.2 0.5 -0.6 1 -0.6 0.5 -0.8 0.4 -0.5 0.2 -1 0.1 -0.5 0 -1 -0.3 -1 -0.7 -0.5 -0.5 -0.5 -0.9 -0.2 -0.8 0 -1 0.2 -0.8 0.5 -0.8 0.5 -0.6 0.5 -0.4 0.9 -0.4z"/>
<path fill="#f4ff0b" d="M50.4 57l1.7 0 2 0.2 1.5 0.3 2 0.6 2.2 0.9 2.2 1 5.6 3.1 1 0.3 0.5 0.1 0.5 -0.1 1 -0.3 4.7 -2.6 2 -1 2.3 -1 2 -0.7 2.5 -0.6 2 -0.2 2.5 0 2 0.3 2 0.7 1.5 0.8 1.5 1.2 1 1.3 0.5 0.8 0.4 0.9 0.3 1.5 0.1 2.5 -0.3 1.4 -0.5 1.3 -1 1.5 -1 0.9 -1 0.7 -1.5 0.7 -1.5 0.4 -1.5 0.1 -2 0 -1.5 -0.2 -1.5 -0.4 -1.5 -0.5 -2 -0.8 -2.3 -1.1 -1.8 -1 -5.9 -3.8 -1.5 -0.6 -1 0 -1.5 0.6 -5.1 3.3 -2.6 1.5 -2 1 -2.3 0.9 -2.5 0.8 -2 0.3 -2 0 -2 -0.2 -2 -0.7 -1.5 -1 -1 -0.9 -1 -1.5 -0.5 -1.3 -0.3 -1.4 0 -2 0.3 -1.5 0.5 -1.4 1 -1.5 1 -1 1 -0.8 1.5 -0.8 1.5 -0.5 1.5 -0.4 1.8 -0.1zM35 111.4l0.6 -0.2 1 -0.2 1 0.1 0.5 0.1 1 0.6 0.5 0.6 0.5 0.8 0.2 0.7 0 1 -0.2 0.8 -0.5 0.8 -0.5 0.5 -0.5 0.4 -0.5 0.2 -1 0.2 -1 0 -0.5 -0.2 -0.5 -0.2 -0.7 -0.5 -0.7 -1 -0.4 -1 0 -1 0.1 -0.5 0.5 -1 0.5 -0.5 0.6 -0.5zM99.8 111.4l0.3 -0.2 1 -0.2 1 0.1 0.5 0.1 0.6 0.2 0.6 0.5 0.8 1 0.3 1 0 1 -0.2 0.5 -0.5 1 -0.4 0.5 -0.7 0.5 -0.5 0.2 -1 0.3 -1 -0.1 -0.5 -0.2 -1 -0.6 -0.5 -0.5 -0.5 -0.8 -0.2 -0.8 0 -1 0.2 -0.7 0.5 -0.8 0.5 -0.6 0.7 -0.4z"/>
<path fill="#ffff00" d="M46.2 58.5l1.4 -0.3 1.5 -0.2 1.5 0.1 1.5 0.2 1.5 0.4 1.5 0.6 1.3 0.7 1.2 0.7 0.9 0.8 0.9 1 0.6 1 0.3 1 0 0.5 -0.1 1 -0.4 1 -0.7 1 -1.4 1.5 -2 1.5 -2.1 1.1 -2.5 0.8 -1.5 0.3 -1 0 -2 -0.1 -1 -0.2 -1 -0.4 -1.5 -0.8 -1 -0.9 -0.5 -0.6 -0.5 -0.8 -0.5 -1.2 -0.3 -1.2 0 -2 0.3 -1.3 0.5 -1.3 0.5 -0.8 1 -1.1 1.5 -1.1 1 -0.5 1.1 -0.4zM85.5 58.5l1.6 -0.3 2 -0.2 1.5 0.2 1.5 0.3 1.5 0.6 1 0.6 1 0.8 1 1.1 0.5 0.8 0.6 1.6 0.2 1 -0.1 2.5 -0.2 0.7 -0.3 0.8 -0.7 1.2 -0.5 0.6 -1 0.9 -1.5 0.8 -1 0.4 -1 0.2 -2 0.1 -1 0 -1.5 -0.3 -2.5 -0.8 -2.1 -1.1 -2 -1.5 -1.4 -1.5 -0.9 -1.5 -0.3 -1 0 -0.5 0 -0.5 0.3 -1 0.6 -1 1.5 -1.5 1.5 -1 1.8 -0.9 1.9 -0.6zM35.8 111.4l1.3 -0.2 0.5 0.1 1 0.3 1 0.9 0.5 0.7 0.2 0.7 0 1 -0.2 0.8 -0.5 0.7 -1 0.9 -1 0.3 -1 0 -0.5 -0.1 -1.1 -0.6 -0.5 -0.5 -0.3 -0.5 -0.4 -1 0 -1 0.1 -0.5 0.2 -0.5 0.5 -0.6 0.5 -0.4 0.7 -0.5zM100.1 111.4l1 -0.2 1 0.2 0.5 0.2 0.6 0.3 0.5 0.5 0.6 1 0.1 0.5 0 1 -0.4 1 -0.3 0.5 -0.5 0.5 -1.1 0.6 -0.5 0.1 -1 0 -1 -0.3 -1 -0.9 -0.5 -0.7 -0.2 -0.8 0 -1 0.2 -0.7 0.5 -0.7 0.5 -0.5 0.5 -0.4 0.5 -0.2z"/>
<path fill="#fff400" d="M47.1 59l2 -0.1 1.5 0.3 1.5 0.4 1.7 0.9 1.4 1 0.9 1 0.6 1 0.2 0.5 0.2 1 -0.2 1.5 -0.4 1 -1 1.5 -1 1 -1.4 1 -1.5 0.7 -1.5 0.5 -2 0.3 -1.5 0 -1 -0.1 -1.5 -0.5 -1 -0.6 -1 -0.8 -1 -1.3 -0.5 -1.2 -0.2 -1 0 -2 0.2 -1.1 0.5 -1.2 1 -1.4 1 -0.9 1.5 -0.8 1.5 -0.5 1 -0.1zM88.9 59l1.7 -0.1 1.5 0.2 1.5 0.5 1 0.5 1 0.7 1 1.1 0.5 0.8 0.5 1.2 0.2 1.1 0 2 -0.2 1 -0.5 1.2 -0.5 0.8 -1 1 -1 0.6 -1 0.5 -1.5 0.4 -2 0 -2 -0.3 -1.5 -0.5 -2 -1.1 -1.4 -1.1 -0.9 -1 -0.9 -1.5 -0.3 -1.5 0.1 -1 0.1 -0.5 0.5 -1 0.7 -1 1.1 -1 1.7 -1 1.8 -0.7 1.8 -0.3zM37 111.4l1.1 0.1 1 0.5 0.5 0.5 0.5 0.8 0.1 0.6 0 1 -0.1 0.7 -0.5 0.8 -0.5 0.4 -0.5 0.3 -1 0.3 -1 0 -1 -0.5 -0.6 -0.5 -0.4 -0.5 -0.4 -1 0 -1 0.2 -0.5 0.5 -1 0.6 -0.5 0.6 -0.2 0.9 -0.3zM101 111.4l1.1 0.3 0.6 0.2 0.6 0.5 0.5 1 0.2 1 -0.2 1 -0.6 1 -0.6 0.5 -0.5 0.3 -1 0.2 -1 -0.1 -1 -0.5 -0.5 -0.4 -0.5 -0.8 -0.1 -0.7 0 -1 0.1 -0.6 0.5 -0.8 0.5 -0.5 0.5 -0.3 0.5 -0.2 0.9 -0.1z"/>
<path fill="#ffea00" d="M44.9 60l1.2 -0.3 1.5 -0.1 1.5 0.2 1 0.2 1.5 0.7 1 0.6 0.7 0.7 0.8 1 0.6 1 0.2 1 0 1 -0.2 1 -0.5 1 -0.7 1 -0.9 0.9 -0.8 0.6 -1.7 0.8 -1.5 0.5 -1.5 0.2 -1.5 -0.1 -1 -0.2 -1.5 -0.7 -1 -0.7 -0.5 -0.6 -0.5 -0.7 -0.5 -1.1 -0.2 -0.9 0 -2 0.2 -1 0.2 -0.5 0.3 -0.6 0.5 -0.8 1 -1 1 -0.6 1.3 -0.5zM88.4 60l1.2 -0.3 1.5 -0.1 1.5 0.2 1 0.3 1 0.4 1 0.6 1 1 0.5 0.8 0.5 1.1 0.2 1 0 2 -0.2 0.9 -0.5 1.1 -0.5 0.7 -0.5 0.6 -1 0.7 -1.5 0.7 -1.5 0.2 -1.5 0 -1.5 -0.2 -1.5 -0.6 -1.5 -0.9 -1.4 -1.2 -0.7 -1 -0.6 -1.5 -0.1 -1 0.1 -1 0.4 -1 0.6 -1 1 -1 1.7 -1 1.3 -0.5zM36.1 111.9l1 -0.3 1 0.1 1 0.4 0.5 0.4 0.5 0.8 0.1 0.6 0 1 -0.1 0.7 -0.5 0.7 -0.5 0.5 -1 0.4 -1 0 -1 -0.3 -0.7 -0.5 -0.4 -0.5 -0.4 -1 0 -1 0.1 -0.5 0.7 -1 0.7 -0.5zM99.5 111.9l0.6 -0.2 0.5 -0.1 1 0.1 1 0.6 0.6 0.6 0.4 1 0 1 -0.4 1 -0.4 0.5 -0.7 0.5 -1 0.3 -1 0 -1 -0.4 -0.5 -0.5 -0.5 -0.7 -0.1 -0.7 0 -1 0.1 -0.6 0.5 -0.8 0.5 -0.4 0.4 -0.2z"/>
<path fill="#ffdf00" d="M44.6 60.5l1 -0.2 1 -0.1 1.5 0.1 1 0.3 1 0.4 1 0.6 0.9 0.9 0.7 1 0.4 1 0.2 1 -0.1 1 -0.3 1 -0.6 1 -0.4 0.5 -0.8 0.8 -1.1 0.7 -1 0.5 -1.4 0.4 -1.5 0.1 -1 -0.1 -1 -0.3 -1.5 -0.7 -1 -0.9 -0.5 -0.6 -0.5 -1.1 -0.2 -0.8 0 -2 0.2 -0.9 0.5 -1.1 1 -1.2 1 -0.7 1.5 -0.6zM89.6 60.5l1 -0.2 1.5 -0.1 1 0.1 1 0.3 1 0.5 1 0.7 1 1.2 0.5 1.1 0.2 0.9 0 2 -0.2 0.8 -0.5 1.1 -0.5 0.6 -0.5 0.5 -1 0.7 -1 0.4 -1.5 0.3 -1.5 0 -1.5 -0.3 -1 -0.4 -1.2 -0.7 -1.1 -1 -0.8 -1 -0.2 -0.5 -0.3 -1 -0.1 -1 0.2 -1 0.4 -1 0.7 -1 0.9 -0.9 1.1 -0.6 1.4 -0.5zM36.6 111.9l1 -0.1 1 0.2 0.5 0.2 0.5 0.4 0.5 0.7 0.1 0.6 0 1 -0.1 0.7 -0.5 0.7 -0.5 0.4 -0.5 0.2 -1 0.2 -1 -0.2 -0.8 -0.5 -0.5 -0.5 -0.2 -0.5 -0.2 -1 0.2 -1 0.2 -0.5 0.5 -0.5 0.8 -0.5zM99.7 111.9l0.9 -0.1 1 0.2 0.8 0.4 0.5 0.5 0.2 0.5 0.2 1 -0.2 1 -0.2 0.5 -0.5 0.5 -0.8 0.5 -1 0.2 -1 -0.2 -0.5 -0.2 -0.5 -0.4 -0.5 -0.7 -0.1 -0.7 0 -1 0.1 -0.6 0.5 -0.7 0.5 -0.4 0.6 -0.3z"/>
<path fill="#ffd500" d="M44.1 61l1 -0.3 1.5 0 1 0.2 1 0.3 1 0.5 1 0.8 0.4 0.5 0.6 1 0.2 0.5 0.2 1 0 1 -0.4 1 -0.5 1 -0.5 0.5 -1 0.9 -1 0.5 -1 0.4 -1.5 0.2 -1.5 -0.1 -1 -0.2 -1 -0.5 -1 -0.8 -0.5 -0.7 -0.5 -1 -0.2 -0.7 0 -2 0.2 -0.8 0.5 -1 0.5 -0.7 1 -0.8 1 -0.6 0.5 -0.1zM90.3 61l0.8 -0.2 1 -0.1 1 0 1 0.3 1.5 0.7 1 0.8 0.5 0.7 0.5 1 0.2 0.8 0 2 -0.2 0.7 -0.5 1 -0.5 0.7 -1 0.8 -1 0.5 -1.5 0.3 -1 0 -1.5 -0.2 -1 -0.4 -1 -0.5 -1 -0.9 -0.8 -1 -0.4 -1 -0.2 -1 0 -1 0.4 -1 0.6 -1 0.9 -1 1 -0.6 1.2 -0.4zM37.4 111.9l0.7 0 1 0.4 0.5 0.3 0.5 0.8 0.1 0.5 0 1 -0.1 0.6 -0.5 0.7 -0.5 0.4 -1 0.3 -1 0 -0.9 -0.5 -0.5 -0.5 -0.3 -0.5 -0.2 -0.5 0 -1 0.2 -0.5 0.2 -0.5 0.5 -0.5 0.5 -0.2 0.8 -0.3zM100.1 111.9l1 0.1 1 0.4 0.5 0.5 0.2 0.5 0.2 0.5 0 1 -0.2 0.5 -0.3 0.5 -0.5 0.5 -0.4 0.3 -1 0.3 -1 -0.2 -0.5 -0.2 -0.5 -0.4 -0.5 -0.7 -0.1 -0.6 0 -1 0.1 -0.5 0.5 -0.8 0.5 -0.3 1 -0.4z"/>
<path fill="#ffca00" d="M43.5 61.5l0.6 -0.2 1 -0.2 1 0 1 0.2 1 0.4 1 0.6 0.8 0.7 0.4 0.5 0.5 1 0.1 0.5 0.1 1 -0.2 1 -0.5 1 -0.3 0.5 -0.5 0.5 -0.9 0.7 -1 0.5 -1 0.3 -1 0.2 -1 -0.1 -1 -0.2 -1 -0.4 -1 -0.8 -0.5 -0.6 -0.5 -1 -0.2 -0.6 0 -2 0.2 -0.7 0.5 -1 0.5 -0.6 1 -0.8 0.9 -0.4zM90.6 61.5l1.5 -0.4 1 0 1 0.2 1 0.3 1 0.6 1 1.1 0.5 1 0.2 0.7 0 2 -0.2 0.6 -0.5 1 -0.5 0.6 -1 0.8 -1 0.4 -1 0.2 -1 0.1 -1.3 -0.2 -1.2 -0.5 -0.9 -0.5 -0.6 -0.6 -0.7 -0.9 -0.5 -1 -0.1 -0.5 -0.1 -1 0.2 -1 0.5 -1 0.7 -0.8 1 -0.7 1 -0.5zM36.5 112.4l0.6 -0.2 1 -0.2 0.5 0.1 1 0.6 0.5 0.7 0.1 0.5 0 1 -0.1 0.6 -0.5 0.7 -1 0.5 -1 0.1 -1 -0.3 -0.7 -0.6 -0.3 -0.5 -0.1 -0.5 0 -1 0.1 -0.5 0.3 -0.5 0.6 -0.5zM99.1 112.4l0.5 -0.3 1 -0.1 0.5 0.2 0.5 0.2 0.7 0.5 0.3 0.5 0.1 0.5 0 1 -0.1 0.5 -0.3 0.5 -0.6 0.5 -0.6 0.3 -0.5 0.1 -1 -0.1 -1 -0.5 -0.5 -0.7 -0.1 -0.6 0 -1 0.1 -0.5 0.5 -0.7 0.5 -0.3z"/>
<path fill="#ffbf00" d="M45 61.5l1.1 0 1 0.3 1 0.5 0.5 0.4 0.7 0.8 0.6 1 0.1 0.5 0.1 1 -0.2 1 -0.2 0.5 -0.6 1 -0.5 0.5 -1 0.7 -1 0.4 -1 0.2 -1 0 -1 -0.1 -1 -0.4 -1 -0.7 -0.5 -0.6 -0.5 -1 -0.2 -0.5 0 -2 0.2 -0.6 0.5 -1 0.5 -0.6 0.5 -0.4 0.5 -0.3 1 -0.4 1.4 -0.2zM93 61.5l1.6 0.2 1 0.4 0.5 0.3 0.5 0.4 0.5 0.6 0.5 1 0.2 0.6 0 2 -0.2 0.5 -0.5 1 -0.5 0.6 -1 0.7 -1 0.4 -1 0.1 -1 0 -1 -0.2 -1 -0.4 -1 -0.7 -0.5 -0.5 -0.6 -1 -0.2 -0.5 -0.2 -1 0.1 -1 0.1 -0.5 0.6 -1 0.4 -0.5 0.8 -0.7 1 -0.5 1 -0.3 0.9 0zM36.8 112.4l0.8 -0.2 0.5 -0.1 0.5 0.1 1 0.5 0.5 0.7 0.1 0.5 0 1 -0.1 0.5 -0.5 0.7 -1 0.6 -0.5 0 -1 -0.2 -0.9 -0.6 -0.3 -0.5 -0.2 -0.5 0 -1 0.2 -0.5 0.3 -0.5 0.6 -0.5zM99.1 112.4l0.5 -0.2 0.5 -0.1 1 0.2 0.9 0.6 0.3 0.5 0.2 0.5 0 1 -0.2 0.5 -0.3 0.5 -0.6 0.5 -0.8 0.3 -1 0 -1 -0.6 -0.5 -0.7 -0.1 -0.5 0 -1 0.1 -0.5 0.5 -0.7 0.5 -0.3z"/>
<path fill="#ffb500" d="M43.4 62l0.7 -0.2 1 0 1.5 0.3 0.7 0.4 0.7 0.5 0.5 0.5 0.6 1 0.2 0.5 0.1 1 -0.2 1 -0.2 0.5 -0.3 0.5 -0.6 0.7 -0.5 0.4 -1 0.6 -1 0.3 -1 0.1 -1.5 -0.3 -1 -0.5 -0.5 -0.4 -0.5 -0.5 -0.5 -0.9 -0.2 -0.5 0 -2 0.4 -1 0.3 -0.5 1 -0.9 0.5 -0.3 0.8 -0.3zM92.1 62l1 -0.2 1 0 1.5 0.5 1 0.7 0.5 0.5 0.5 1 0.2 0.5 0 1.5 -0.2 1 -0.5 0.9 -0.5 0.5 -1 0.7 -0.5 0.2 -1 0.2 -1 0 -1 -0.2 -0.9 -0.3 -0.8 -0.5 -0.5 -0.5 -0.7 -1 -0.3 -1 0 -1 0 -0.5 0.5 -1 0.3 -0.5 0.9 -0.9 0.5 -0.3 1 -0.3zM37.2 112.4l0.9 -0.2 0.5 0.1 1 0.5 0.5 0.7 0.1 0.4 0 1 -0.1 0.5 -0.5 0.7 -0.5 0.3 -0.5 0.2 -1 0 -0.5 -0.2 -0.5 -0.4 -0.5 -0.6 -0.2 -0.5 -0.1 -0.5 0.1 -0.5 0.2 -0.5 0.3 -0.5 0.8 -0.5zM99.3 112.4l0.3 -0.1 0.5 -0.1 0.9 0.2 0.8 0.5 0.3 0.5 0.2 0.5 0.1 0.5 -0.1 0.5 -0.2 0.5 -0.3 0.5 -0.7 0.5 -0.5 0.2 -1 0 -1 -0.5 -0.5 -0.7 -0.1 -0.5 0 -1 0.1 -0.4 0.5 -0.7 0.7 -0.4z"/>
<path fill="#ffaa00" d="M42.5 62.5l0.6 -0.3 1 -0.1 1.5 0.1 0.8 0.3 0.7 0.4 0.7 0.6 0.4 0.5 0.4 1 0.1 0.5 0 1 -0.4 1 -0.3 0.5 -1 1 -1.4 0.6 -1 0.2 -1 -0.1 -0.5 -0.1 -1 -0.4 -1 -0.9 -0.5 -0.9 -0.2 -0.4 0 -2 0.2 -0.5 0.5 -0.9 0.5 -0.5 0.9 -0.6zM91.8 62.5l1.3 -0.4 1.5 0 0.5 0.1 1 0.5 1 0.9 0.5 0.9 0.2 0.5 0 2 -0.2 0.4 -0.5 0.9 -1 0.9 -1 0.4 -0.5 0.1 -1.5 0 -1 -0.2 -0.5 -0.3 -1 -0.7 -0.4 -0.5 -0.3 -0.5 -0.4 -1 0 -1 0.1 -0.5 0.4 -1 0.4 -0.5 0.6 -0.5 0.8 -0.5zM37.5 112.4l0.6 -0.1 1 0.2 0.5 0.3 0.5 0.7 0.1 0.4 0 1 -0.1 0.5 -0.5 0.6 -0.5 0.4 -1 0.1 -0.5 -0.1 -0.9 -0.5 -0.4 -0.5 -0.2 -0.5 -0.1 -0.5 0.1 -0.5 0.2 -0.5 0.4 -0.5 0.8 -0.5zM99.5 112.4l0.6 -0.1 0.5 0.1 0.5 0.2 0.4 0.3 0.4 0.5 0.2 0.5 0 1 -0.2 0.5 -0.4 0.5 -0.9 0.5 -0.5 0.1 -1 -0.1 -0.5 -0.4 -0.5 -0.6 -0.1 -0.5 0 -1 0.1 -0.4 0.5 -0.7 0.5 -0.3 0.4 -0.1z"/>
<path fill="#ff9f00" d="M43 62.5l1.1 -0.2 1.5 0.2 0.9 0.5 0.6 0.4 0.8 1.1 0.2 1 0.1 0.5 -0.2 1 -0.2 0.5 -0.8 1 -0.7 0.5 -0.7 0.3 -1.5 0.3 -1.5 -0.3 -1 -0.6 -0.5 -0.5 -0.5 -0.8 -0.2 -0.9 0 -1.5 0.2 -0.5 0.5 -0.8 0.5 -0.5 0.5 -0.4 0.9 -0.3zM92.8 62.5l1.3 -0.2 0.5 0 1 0.3 1 0.6 0.5 0.5 0.5 0.8 0.2 1 0 1.5 -0.2 0.4 -0.5 0.8 -0.5 0.5 -1 0.6 -1.5 0.3 -1.5 -0.3 -0.7 -0.3 -0.7 -0.5 -0.4 -0.5 -0.6 -1 -0.2 -1 0.1 -0.5 0.2 -1 0.8 -1.1 0.6 -0.4 1.1 -0.5zM38 112.4l1.1 0.2 0.5 0.3 0.5 0.6 0.1 0.4 0 1 -0.1 0.5 -0.5 0.6 -0.5 0.3 -0.5 0.1 -0.5 0 -0.5 -0.1 -0.5 -0.2 -0.6 -0.7 -0.2 -0.5 -0.1 -0.5 0.1 -0.5 0.2 -0.5 0.6 -0.6 0.5 -0.3 0.4 -0.1zM100.1 112.4l0.5 0.1 0.7 0.4 0.4 0.5 0.2 0.5 0.1 0.5 -0.1 0.5 -0.2 0.5 -0.4 0.5 -0.7 0.4 -0.5 0.1 -0.5 0 -0.5 -0.1 -0.5 -0.3 -0.5 -0.6 -0.1 -0.5 0 -1 0.1 -0.4 0.5 -0.6 0.5 -0.3 1 -0.2z"/>
<path fill="#ff9500" d="M42.1 63l1 -0.4 1.5 -0.1 1.2 0.5 0.7 0.5 0.5 0.5 0.5 1 0.2 0.5 -0.1 1 -0.3 1 -0.9 1 -0.8 0.5 -0.5 0.2 -0.5 0.1 -1 0.1 -1 -0.2 -0.5 -0.3 -0.5 -0.3 -0.5 -0.5 -0.5 -0.8 -0.2 -0.3 0 -2 0.2 -0.4 0.5 -0.8 0.5 -0.5 0.5 -0.3zM92.4 63l1.2 -0.5 1.5 0.1 1 0.4 0.5 0.3 0.5 0.5 0.5 0.8 0.2 0.4 0 2 -0.2 0.3 -0.5 0.8 -0.5 0.5 -1 0.6 -0.5 0.1 -1 0.1 -0.5 -0.1 -1 -0.3 -0.5 -0.3 -0.8 -0.7 -0.6 -1 -0.2 -1 0 -0.5 0.4 -1 0.3 -0.5 0.5 -0.5 0.7 -0.5zM37.1 112.9l0.5 -0.2 0.5 -0.2 0.5 0 0.5 0.1 0.5 0.3 0.5 0.6 0.1 0.4 0 1 -0.1 0.5 -0.5 0.5 -0.5 0.4 -1 0.1 -0.5 -0.2 -0.5 -0.3 -0.5 -0.5 -0.2 -0.5 0 -0.5 0 -0.5 0.2 -0.5 0.5 -0.5zM98.6 112.9l0.5 -0.3 1 -0.1 0.5 0.2 0.5 0.2 0.5 0.5 0.2 0.5 0 0.5 0 0.5 -0.2 0.5 -0.5 0.5 -0.5 0.3 -0.5 0.2 -0.5 0 -0.5 -0.1 -0.5 -0.4 -0.5 -0.5 -0.1 -0.5 0 -1 0.1 -0.4 0.5 -0.6z"/>
<path fill="#ff8a00" d="M42.4 63l0.7 -0.3 0.5 0 1 0.1 0.5 0.1 0.9 0.6 0.5 0.5 0.4 0.5 0.3 1 0 1 -0.1 0.5 -0.6 1 -0.9 0.7 -0.7 0.3 -0.8 0.2 -1 -0.1 -0.5 -0.1 -1 -0.5 -0.5 -0.4 -0.5 -0.8 -0.2 -0.8 0.1 -1.5 0.1 -0.4 0.5 -0.8 0.5 -0.4 0.8 -0.4zM93.1 63l1 -0.3 1 0 0.5 0.2 1 0.5 0.5 0.4 0.5 0.8 0.2 0.9 0 1 -0.2 0.8 -0.5 0.8 -1 0.7 -1 0.3 -0.5 0.1 -1 -0.1 -0.5 -0.2 -0.8 -0.4 -0.6 -0.5 -0.3 -0.5 -0.4 -1 0 -1 0.1 -0.5 0.6 -1 0.5 -0.5 0.9 -0.5zM37.3 112.9l0.8 -0.3 0.5 0 0.5 0.1 0.5 0.3 0.5 0.5 0.1 0.4 0 1 -0.1 0.5 -0.5 0.5 -0.5 0.3 -0.5 0.1 -0.5 0 -0.8 -0.4 -0.5 -0.5 -0.2 -0.5 -0.1 -0.5 0.1 -0.5 0.2 -0.5 0.5 -0.5zM98.7 112.9l0.4 -0.2 0.5 -0.1 0.5 0 0.8 0.3 0.5 0.5 0.2 0.5 0.1 0.5 -0.1 0.5 -0.2 0.5 -0.5 0.5 -0.8 0.4 -0.5 0 -0.5 -0.1 -0.5 -0.3 -0.5 -0.5 -0.1 -0.5 0 -1 0.1 -0.4 0.6 -0.6z"/>
<path fill="#ff8000" d="M42.7 63l0.9 -0.1 0.5 0 1 0.3 0.5 0.3 0.5 0.5 0.6 1 0.1 0.5 0 1 -0.4 1 -0.8 0.9 -1 0.5 -1 0.1 -1 -0.1 -0.5 -0.2 -1 -0.7 -0.5 -0.7 -0.2 -0.8 0 -1 0.2 -0.9 0.5 -0.7 0.5 -0.4 0.5 -0.3 0.6 -0.2zM93.8 63l0.8 -0.1 0.5 0 1 0.3 1 0.7 0.5 0.7 0.2 0.9 0 1 -0.2 0.8 -0.5 0.7 -1 0.7 -0.5 0.2 -1 0.1 -1 -0.1 -0.8 -0.4 -0.6 -0.5 -0.4 -0.5 -0.3 -0.5 -0.1 -0.5 0 -1 0.3 -1 0.4 -0.5 0.6 -0.5 1.1 -0.5zM37.5 112.9l0.6 -0.2 0.5 -0.1 0.5 0.1 0.5 0.3 0.5 0.5 0.1 0.4 0 1 -0.1 0.4 -0.5 0.6 -0.5 0.3 -0.5 0 -0.5 0 -0.6 -0.3 -0.5 -0.5 -0.3 -0.5 -0.1 -0.5 0.1 -0.5 0.3 -0.5 0.5 -0.5zM98.8 112.9l0.3 -0.2 0.5 -0.1 0.5 0.1 0.6 0.2 0.5 0.5 0.3 0.5 0.1 0.5 -0.1 0.5 -0.3 0.5 -0.5 0.5 -0.6 0.3 -0.5 0 -0.5 0 -0.5 -0.3 -0.5 -0.6 -0.1 -0.4 0 -1 0.1 -0.4 0.5 -0.5 0.2 -0.1z"/>
<path fill="#ff7500" d="M41.8 63.5l0.8 -0.4 1 -0.1 1 0.2 0.5 0.3 0.6 0.5 0.7 1 0.1 1 -0.2 1 -0.3 0.5 -0.4 0.5 -1 0.6 -0.5 0.2 -1 0.1 -1 -0.3 -0.5 -0.2 -0.5 -0.5 -0.5 -0.7 -0.1 -0.2 0 -2 0.1 -0.3 0.5 -0.7 0.7 -0.5zM93.2 63.5l0.9 -0.4 0.5 -0.1 1 0.1 1 0.4 0.5 0.5 0.5 0.7 0.2 0.8 -0.1 1.5 -0.1 0.2 -0.5 0.7 -0.5 0.5 -1 0.4 -1 0.1 -0.5 -0.1 -1 -0.4 -0.5 -0.4 -0.4 -0.5 -0.5 -1 0 -1 0.4 -1 0.4 -0.5 0.7 -0.5zM37.7 112.9l0.4 -0.1 0.5 -0.1 0.5 0.1 0.5 0.2 0.5 0.5 0.1 0.4 0 1 -0.1 0.4 -0.5 0.6 -0.5 0.2 -0.5 0.1 -0.5 -0.1 -0.5 -0.2 -0.5 -0.5 -0.3 -0.5 0 -0.5 0 -0.5 0.3 -0.5 0.6 -0.5zM98.9 112.9l0.2 -0.1 0.5 -0.1 0.5 0.1 0.5 0.2 0.5 0.4 0.3 0.5 0 0.5 0 0.5 -0.3 0.5 -0.6 0.5 -0.4 0.2 -0.5 0.1 -0.5 -0.1 -0.5 -0.2 -0.5 -0.6 -0.1 -0.4 0 -1 0.1 -0.4 0.5 -0.5 0.3 -0.1z"/>
<path fill="#ff6a00" d="M41.9 63.5l0.7 -0.3 0.5 0 1 0.1 1 0.5 0.7 0.7 0.4 1 0 1 -0.5 1 -0.4 0.5 -0.7 0.4 -1 0.3 -1 0 -1 -0.4 -0.5 -0.4 -0.5 -0.7 -0.2 -0.7 0 -1 0.2 -0.8 0.5 -0.7 0.5 -0.4 0.3 -0.1zM93.6 63.5l1 -0.3 1 0 1 0.4 0.5 0.4 0.5 0.7 0.2 0.8 -0.1 1.5 -0.1 0.2 -0.5 0.7 -0.5 0.4 -1 0.4 -1 0 -1 -0.3 -0.7 -0.4 -0.4 -0.5 -0.5 -1 0 -1 0.4 -1 0.5 -0.5 0.7 -0.5zM37.8 112.9l0.8 -0.2 0.5 0.1 0.5 0.2 0.5 0.6 0.1 0.3 0 1 -0.1 0.4 -0.5 0.5 -0.5 0.3 -0.5 0 -0.8 -0.2 -0.6 -0.5 -0.2 -0.5 -0.1 -0.5 0.1 -0.5 0.2 -0.5 0.6 -0.5zM98.9 112.9l0.2 -0.1 0.5 -0.1 0.5 0.1 0.5 0.3 0.4 0.3 0.2 0.5 0.1 0.5 -0.1 0.5 -0.2 0.5 -0.4 0.4 -0.5 0.2 -0.5 0.1 -0.5 0 -0.5 -0.3 -0.5 -0.5 -0.1 -0.4 0 -1 0.1 -0.3 0.5 -0.6 0.3 -0.1z"/>
<path fill="#ff6000" d="M42.1 63.5l1 -0.2 1 0.2 0.9 0.5 0.5 0.5 0.2 0.5 0.2 1 -0.2 1 -0.3 0.5 -0.5 0.5 -0.8 0.4 -1 0.2 -1 -0.2 -0.5 -0.2 -0.5 -0.4 -0.5 -0.6 -0.2 -0.7 0 -1 0.2 -0.8 0.5 -0.6 0.5 -0.4 0.5 -0.2zM94.1 63.5l1 -0.2 1 0.2 0.5 0.2 0.5 0.4 0.5 0.6 0.2 0.8 0 1 -0.2 0.7 -0.5 0.6 -0.5 0.4 -1 0.4 -0.5 0 -1 -0.2 -0.8 -0.4 -0.5 -0.5 -0.3 -0.5 -0.2 -1 0.2 -1 0.2 -0.5 0.5 -0.5 0.9 -0.5zM38 112.9l0.6 -0.1 0.5 0.1 0.5 0.2 0.5 0.5 0.1 0.3 0 1 -0.1 0.4 -0.5 0.5 -0.5 0.2 -0.5 0.1 -0.6 -0.2 -0.7 -0.5 -0.2 -0.5 -0.1 -0.5 0.1 -0.5 0.2 -0.5 0.7 -0.5zM99 112.9l0.6 -0.1 0.6 0.1 0.7 0.5 0.2 0.5 0.1 0.5 -0.1 0.5 -0.2 0.5 -0.8 0.6 -0.5 0.1 -0.5 -0.1 -0.5 -0.2 -0.5 -0.5 -0.1 -0.4 0 -1 0.1 -0.3 0.5 -0.5 0.4 -0.2z"/>
<path fill="#ff5500" d="M42.4 63.5l0.7 -0.1 0.5 0.1 1 0.4 0.6 0.6 0.3 0.5 0.1 0.5 0 1 -0.2 0.5 -0.3 0.5 -0.5 0.5 -1 0.4 -1 0.1 -1 -0.3 -0.5 -0.4 -0.6 -0.8 -0.1 -1.5 0.2 -0.7 0.5 -0.7 0.5 -0.4 0.8 -0.2zM94.7 63.5l0.9 -0.1 1 0.3 0.5 0.4 0.5 0.7 0.2 0.7 0 1 -0.2 0.6 -0.5 0.7 -0.5 0.4 -0.5 0.2 -1 0.1 -1 -0.2 -0.5 -0.3 -0.5 -0.5 -0.3 -0.5 -0.2 -0.5 0 -1 0.1 -0.5 0.3 -0.5 0.6 -0.6 1.1 -0.4zM38.3 112.9l0.8 0 0.5 0.2 0.5 0.5 0.1 0.3 0 1 -0.1 0.4 -0.5 0.5 -0.5 0.2 -0.5 0 -0.5 -0.1 -0.6 -0.5 -0.3 -0.5 -0.1 -0.5 0.1 -0.5 0.4 -0.5 0.7 -0.5zM99.1 112.9l0.5 0 0.5 0.1 0.6 0.4 0.3 0.5 0.1 0.5 -0.1 0.5 -0.3 0.5 -0.6 0.5 -0.5 0.1 -0.5 0 -0.5 -0.2 -0.5 -0.5 -0.1 -0.4 0 -1 0.1 -0.3 0.5 -0.5 0.5 -0.2z"/>
<path fill="#ff4a00" d="M41.4 64l0.7 -0.4 1 -0.1 1 0.3 0.8 0.7 0.3 0.5 0.2 1 0 0.5 -0.2 0.5 -0.6 0.8 -0.5 0.3 -0.5 0.2 -1 0.1 -1 -0.3 -0.5 -0.3 -0.6 -0.8 -0.1 -1.5 0.2 -0.7 0.5 -0.6 0.3 -0.2zM93.8 64l0.8 -0.4 1 -0.1 1 0.3 0.5 0.4 0.5 0.6 0.2 0.7 -0.1 1.5 -0.6 0.8 -1 0.5 -1 0.1 -1 -0.3 -0.8 -0.6 -0.3 -0.5 -0.2 -0.5 0 -1 0.2 -0.5 0.3 -0.5 0.5 -0.5zM38.5 112.9l0.6 0 0.5 0.2 0.5 0.5 0.1 0.3 0 1 -0.1 0.4 -0.5 0.5 -0.5 0.1 -0.5 0.1 -0.5 -0.2 -0.5 -0.4 -0.3 -0.5 -0.1 -0.5 0.1 -0.5 0.3 -0.4 0.5 -0.4 0.4 -0.2zM99.4 112.9l0.7 0.2 0.5 0.3 0.3 0.5 0.1 0.5 -0.1 0.5 -0.3 0.5 -0.5 0.4 -0.5 0.2 -0.5 -0.1 -0.5 -0.1 -0.5 -0.5 -0.1 -0.4 0 -1 0.1 -0.3 0.5 -0.5 0.8 -0.2z"/>
<path fill="#ff4000" d="M41.5 64l0.6 -0.3 0.5 -0.1 1 0.1 0.5 0.3 0.5 0.4 0.4 0.6 0.2 0.5 0 0.5 0 0.5 -0.2 0.5 -0.4 0.5 -0.5 0.4 -1 0.4 -1 -0.1 -1 -0.5 -0.5 -0.6 -0.1 -0.6 0 -1 0.1 -0.7 0.5 -0.6 0.4 -0.2zM94.1 64l0.5 -0.3 1 -0.1 0.5 0.1 1 0.5 0.5 0.6 0.1 0.7 0 1.5 -0.6 0.7 -1 0.5 -1 0.1 -0.9 -0.3 -0.6 -0.5 -0.4 -0.5 -0.2 -0.5 0 -0.5 0 -0.5 0.2 -0.5 0.3 -0.5 0.6 -0.5zM37.7 113.4l0.4 -0.2 0.5 -0.2 0.5 0 0.5 0.1 0.5 0.5 0.1 0.3 0 1 -0.1 0.4 -0.5 0.5 -0.5 0.1 -0.5 0 -0.5 -0.2 -0.4 -0.3 -0.3 -0.5 -0.1 -0.5 0.1 -0.5 0.3 -0.5zM98.4 113.4l0.2 -0.3 0.5 -0.1 0.5 0 0.5 0.2 0.4 0.2 0.3 0.5 0.1 0.5 -0.1 0.5 -0.3 0.5 -0.4 0.3 -0.5 0.2 -0.5 0 -0.5 -0.1 -0.5 -0.5 -0.1 -0.4 0 -1 0.1 -0.3 0.3 -0.2z"/>
<path fill="#ff3500" d="M41.5 64l0.6 -0.2 0.5 -0.1 1 0.2 0.8 0.6 0.4 0.5 0.2 0.5 0 1 -0.2 0.5 -0.4 0.5 -0.3 0.2 -1 0.5 -1 0 -1 -0.5 -0.5 -0.7 -0.1 -0.5 0 -1 0.1 -0.6 0.5 -0.7 0.4 -0.2zM94.4 64l0.7 -0.3 1 0.1 1 0.4 0.5 0.7 0.1 0.6 0 1.5 -0.6 0.7 -1 0.5 -1 0 -1 -0.5 -0.5 -0.4 -0.4 -0.8 0 -1 0.2 -0.5 0.4 -0.5 0.6 -0.5zM37.8 113.4l0.8 -0.4 0.5 0 0.5 0.1 0.5 0.5 0.1 0.3 0 1 -0.1 0.3 -0.5 0.5 -0.5 0.2 -0.5 0 -0.8 -0.5 -0.3 -0.5 -0.1 -0.5 0.1 -0.5 0.3 -0.5zM98.4 113.4l0.2 -0.3 0.5 -0.1 0.5 0 0.8 0.4 0.3 0.5 0.1 0.5 -0.1 0.5 -0.3 0.5 -0.8 0.5 -0.5 0 -0.5 -0.2 -0.5 -0.5 -0.1 -0.3 0 -1 0.1 -0.3 0.3 -0.2z"/>
<path fill="#ff2a00" d="M41.7 64l0.4 -0.2 0.5 0 0.8 0.2 0.8 0.5 0.4 0.5 0.2 0.5 0.1 0.5 -0.1 0.5 -0.2 0.5 -0.4 0.5 -0.6 0.4 -0.5 0.2 -1 0 -1 -0.5 -0.5 -0.6 -0.1 -0.5 0 -1 0.1 -0.6 0.5 -0.6 0.6 -0.3zM94.8 64l0.8 -0.2 0.5 0 1 0.5 0.5 0.6 0.1 0.6 0 1 -0.1 0.5 -0.5 0.6 -0.5 0.3 -0.5 0.2 -1 0 -0.5 -0.2 -0.5 -0.3 -0.5 -0.6 -0.2 -0.5 -0.1 -0.5 0.1 -0.5 0.2 -0.5 0.4 -0.5 0.8 -0.5zM37.9 113.4l0.7 -0.3 0.5 -0.1 0.5 0.2 0.5 0.4 0.1 0.3 0 1 -0.1 0.3 -0.5 0.5 -0.5 0.1 -0.5 0 -0.7 -0.4 -0.3 -0.5 -0.2 -0.5 0.2 -0.5 0.3 -0.5zM98.4 113.4l0.2 -0.2 0.5 -0.2 0.5 0.1 0.7 0.3 0.3 0.5 0.2 0.5 -0.2 0.5 -0.3 0.5 -0.7 0.4 -0.5 0 -0.5 -0.1 -0.5 -0.5 -0.1 -0.3 0 -1 0.1 -0.3 0.3 -0.2z"/>
<path fill="#ff2000" d="M41.9 64l0.7 -0.1 1 0.2 0.4 0.4 0.4 0.5 0.2 0.5 0.1 0.5 -0.1 0.5 -0.2 0.5 -0.4 0.5 -0.9 0.5 -0.5 0 -1 -0.1 -0.5 -0.3 -0.5 -0.6 -0.1 -0.5 0 -1 0.1 -0.5 0.5 -0.7 0.5 -0.3 0.3 0zM95.1 64l0.5 -0.1 1 0.1 0.5 0.3 0.5 0.7 0.1 0.5 0 1 -0.1 0.5 -0.5 0.6 -0.5 0.3 -1 0.1 -1 -0.2 -0.4 -0.3 -0.4 -0.5 -0.2 -0.5 -0.1 -0.5 0.1 -0.5 0.2 -0.5 0.4 -0.5 0.9 -0.5zM38 113.4l0.6 -0.3 0.5 0 0.5 0.1 0.5 0.5 0 0.2 0 1 0 0.3 -0.5 0.5 -0.5 0.1 -0.5 0 -0.6 -0.4 -0.4 -0.5 -0.1 -0.5 0.1 -0.5 0.4 -0.5zM98.4 113.4l0.2 -0.2 0.5 -0.1 0.5 0 0.6 0.3 0.4 0.5 0.1 0.5 -0.1 0.5 -0.4 0.5 -0.6 0.4 -0.5 0 -0.5 -0.1 -0.5 -0.5 0 -0.3 0 -1 0 -0.2 0.3 -0.3z"/>
<path fill="#ff1500" d="M42.1 64l1 0 0.5 0.3 0.7 0.7 0.2 0.5 0 0.5 0 0.5 -0.3 0.5 -0.6 0.6 -0.5 0.3 -0.5 0.1 -1 -0.2 -0.5 -0.3 -0.5 -0.6 -0.1 -0.4 0.1 -1.5 0.5 -0.6 0.5 -0.3 0.5 -0.1zM95.5 64l0.6 0 0.5 0.1 0.5 0.3 0.5 0.6 0.1 0.5 -0.1 1.4 -0.5 0.6 -0.5 0.3 -0.5 0.1 -1 0 -0.5 -0.3 -0.6 -0.6 -0.3 -0.5 0 -0.5 0 -0.5 0.2 -0.5 0.7 -0.7 0.9 -0.3zM38.1 113.4l0.5 -0.2 0.5 -0.1 0.5 0.1 0.5 0.5 0 0.2 0 1 0 0.3 -0.5 0.5 -0.5 0.1 -0.5 -0.1 -0.5 -0.3 -0.4 -0.5 -0.1 -0.5 0.1 -0.5 0.4 -0.5zM98.5 113.4l0.1 -0.2 0.5 -0.1 0.5 0.1 0.5 0.3 0.4 0.4 0.1 0.5 -0.1 0.5 -0.4 0.5 -0.5 0.3 -0.5 0.1 -0.5 -0.1 -0.5 -0.5 0 -0.3 0 -1 0 -0.2 0.4 -0.3z"/>
<path fill="#ff0b00" d="M41 64.5l0.6 -0.4 1 -0.1 0.5 0.1 0.5 0.3 0.5 0.5 0.2 0.6 0.1 0.5 -0.1 0.5 -0.2 0.5 -0.5 0.5 -0.5 0.3 -0.5 0.1 -1 -0.1 -0.5 -0.3 -0.5 -0.6 -0.1 -0.4 0.1 -1.5 0.4 -0.5zM94.6 64.5l0.5 -0.4 0.5 -0.1 1 0.1 0.5 0.3 0.5 0.6 0.1 0.5 -0.1 1.4 -0.5 0.6 -0.5 0.3 -1 0.1 -0.5 -0.1 -0.5 -0.3 -0.5 -0.5 -0.2 -0.5 -0.1 -0.5 0.1 -0.5 0.2 -0.5 0.5 -0.5zM38.2 113.4l0.4 -0.2 0.5 -0.1 0.5 0.1 0.5 0.5 0 0.2 0 1 0 0.3 -0.5 0.4 -0.5 0.2 -0.5 -0.1 -0.5 -0.3 -0.3 -0.5 -0.1 -0.5 0.1 -0.5 0.4 -0.5zM98.5 113.4l0.1 -0.2 0.5 -0.1 0.5 0.1 0.5 0.3 0.3 0.4 0.1 0.5 -0.1 0.5 -0.3 0.5 -0.5 0.3 -0.5 0.1 -0.5 -0.2 -0.5 -0.4 0 -0.3 0 -1 0 -0.2 0.4 -0.3z"/>
<path fill="#ff0000" d="M41.1 64.5l0.5 -0.3 1 -0.1 0.9 0.4 0.4 0.5 0.3 0.5 0 0.5 0 0.5 -0.3 0.5 -0.5 0.5 -0.8 0.3 -1 -0.1 -0.5 -0.2 -0.5 -0.6 -0.1 -0.4 0.1 -1.5 0.5 -0.5zM94.7 64.5l0.9 -0.4 1 0.1 0.5 0.3 0.5 0.5 0.1 0.5 -0.1 1.4 -0.5 0.6 -0.5 0.2 -1 0.1 -0.8 -0.3 -0.5 -0.5 -0.3 -0.5 0 -0.5 0 -0.5 0.3 -0.5 0.4 -0.5zM38.2 113.4l0.4 -0.1 0.5 -0.1 0.5 0.1 0.5 0.4 0 0.2 0 1 0 0.3 -0.5 0.4 -0.5 0.1 -0.5 -0.1 -0.4 -0.2 -0.4 -0.5 -0.1 -0.5 0.1 -0.5 0.4 -0.5zM98.5 113.4l0.1 -0.1 0.5 -0.1 0.5 0.1 0.4 0.1 0.4 0.5 0.1 0.5 -0.1 0.5 -0.4 0.5 -0.4 0.2 -0.5 0.1 -0.5 -0.1 -0.5 -0.4 0 -0.3 0 -1 0 -0.2 0.4 -0.3z"/>
<path fill="#f40000" d="M41.1 64.5l0.5 -0.3 0.5 -0.1 0.5 0.1 0.7 0.3 0.5 0.5 0.2 0.5 0.1 0.5 -0.1 0.5 -0.2 0.5 -0.5 0.5 -0.7 0.2 -0.5 0.1 -0.5 -0.1 -0.5 -0.3 -0.5 -0.5 -0.1 -0.4 0.1 -1.4 0.5 -0.6zM94.9 64.5l0.7 -0.3 0.5 -0.1 0.5 0.1 0.5 0.3 0.5 0.6 0.1 0.4 -0.1 1.4 -0.5 0.5 -0.5 0.3 -0.5 0.1 -0.5 -0.1 -0.7 -0.2 -0.5 -0.5 -0.2 -0.5 -0.1 -0.5 0.1 -0.5 0.2 -0.5 0.5 -0.5zM38.3 113.4l0.8 -0.2 0.5 0.1 0.5 0.4 0 1.2 0 0.3 -0.5 0.4 -0.5 0.1 -0.5 -0.1 -0.3 -0.2 -0.4 -0.5 -0.1 -0.5 0.1 -0.5 0.4 -0.5zM98.5 113.4l0.1 -0.1 0.5 -0.1 0.5 0.1 0.3 0.1 0.4 0.5 0.1 0.5 -0.1 0.5 -0.4 0.5 -0.8 0.3 -0.5 -0.1 -0.5 -0.4 0 -1.3 0 -0.2 0.4 -0.3z"/>
<path fill="#ea0000" d="M41.2 64.5l0.4 -0.3 0.5 0 0.5 0 0.5 0.3 0.6 0.5 0.2 0.5 0.1 0.5 -0.1 0.5 -0.2 0.5 -0.6 0.5 -0.5 0.2 -0.5 0 -0.5 0 -0.5 -0.3 -0.5 -0.6 -0.1 -0.3 0.1 -1.4 0.6 -0.6zM95.1 64.5l0.5 -0.3 0.5 0 0.5 0 0.5 0.3 0.5 0.6 0.1 1.4 -0.1 0.3 -0.5 0.6 -0.5 0.3 -0.5 0 -0.5 0 -0.5 -0.2 -0.6 -0.5 -0.2 -0.5 -0.1 -0.5 0.1 -0.5 0.2 -0.5 0.6 -0.5zM38.4 113.4l0.7 -0.2 0.5 0.1 0.5 0.4 0 1.2 0 0.2 -0.5 0.5 -0.5 0.1 -0.5 -0.2 -0.6 -0.6 -0.2 -0.5 0.2 -0.5 0.4 -0.5zM98.5 113.4l0.1 -0.1 0.5 -0.1 0.5 0.2 0.6 0.5 0.2 0.5 -0.2 0.5 -0.4 0.5 -0.7 0.3 -0.5 -0.1 -0.5 -0.5 0 -1.2 0 -0.2 0.4 -0.3z"/>
<path fill="#df0000" d="M41.3 64.5l0.3 -0.2 0.5 -0.1 0.5 0.1 0.5 0.2 0.4 0.5 0.3 0.5 0.1 0.5 -0.1 0.5 -0.3 0.5 -0.4 0.4 -0.5 0.2 -0.5 0.1 -0.5 -0.1 -0.5 -0.2 -0.5 -0.6 -0.1 -0.3 0.1 -1.4 0.5 -0.5 0.2 -0.1zM95.2 64.5l0.9 -0.3 0.5 0.1 0.5 0.3 0.5 0.5 0.1 0.4 -0.1 1.3 -0.5 0.6 -0.5 0.2 -0.5 0.1 -0.5 -0.1 -0.5 -0.2 -0.4 -0.4 -0.3 -0.5 -0.1 -0.5 0.1 -0.5 0.3 -0.5 0.5 -0.5zM38.5 113.4l0.6 -0.2 0.5 0.1 0.5 0.5 0 1.1 0 0.2 -0.5 0.5 -0.5 0 -0.5 -0.1 -0.6 -0.6 -0.1 -0.5 0.1 -0.5 0.5 -0.5zM98.5 113.4l0.1 -0.1 0.5 -0.1 0.5 0.2 0.6 0.5 0.1 0.5 -0.1 0.5 -0.6 0.6 -0.5 0.1 -0.5 0 -0.5 -0.5 0 -1.2 0 -0.1 0.4 -0.4z"/>
<path fill="#d50000" d="M41.3 64.5l0.3 -0.2 0.5 0 0.7 0.2 0.6 0.5 0.3 0.5 0.1 0.5 -0.1 0.5 -0.3 0.5 -0.7 0.5 -0.6 0.1 -0.5 0 -0.5 -0.3 -0.5 -0.5 0 -1.7 0.5 -0.5 0.2 -0.1zM95.4 64.5l0.7 -0.2 0.5 0 0.5 0.3 0.5 0.5 0 1.7 -0.5 0.5 -0.5 0.3 -0.5 0 -0.6 -0.1 -0.7 -0.5 -0.3 -0.5 -0.1 -0.5 0.1 -0.5 0.3 -0.5 0.6 -0.5zM38.6 113.4l0.5 -0.1 0.5 0 0.5 0.5 0 1.1 0 0.2 -0.5 0.4 -0.5 0.1 -0.5 -0.2 -0.5 -0.5 -0.1 -0.5 0.1 -0.5 0.5 -0.5zM98.6 113.4l0 -0.1 0.5 0 0.5 0.1 0.5 0.5 0.1 0.5 -0.1 0.5 -0.5 0.5 -0.5 0.2 -0.5 -0.1 -0.5 -0.4 0 -1.2 0 -0.1 0.5 -0.4z"/>
<path fill="#ca0000" d="M41.4 64.5l0.7 -0.2 0.5 0.2 0.7 0.5 0.3 0.5 0.1 0.5 -0.1 0.5 -0.3 0.5 -0.7 0.5 -0.5 0.1 -0.5 -0.1 -0.5 -0.2 -0.5 -0.6 0 -1.5 0.5 -0.6 0.3 -0.1zM95.6 64.5l0.5 -0.2 0.5 0.1 0.5 0.2 0.5 0.6 0 1.5 -0.5 0.6 -0.5 0.2 -0.5 0.1 -0.5 -0.1 -0.7 -0.5 -0.3 -0.5 -0.1 -0.5 0.1 -0.5 0.3 -0.5 0.7 -0.5zM38.7 113.4l0.4 -0.1 0.5 0.1 0.5 0.4 0 1.1 0 0.2 -0.5 0.4 -0.5 0.1 -0.5 -0.2 -0.5 -0.5 -0.1 -0.5 0.1 -0.5 0.6 -0.5zM98.6 113.4l0.5 -0.1 0.4 0.1 0.6 0.5 0.1 0.5 -0.1 0.5 -0.5 0.5 -0.5 0.2 -0.5 -0.1 -0.5 -0.4 0 -1.2 0 -0.1 0.5 -0.4z"/>
<path fill="#bf0000" d="M41.5 64.5l0.6 -0.1 0.5 0.1 0.6 0.5 0.3 0.5 0.1 0.5 -0.1 0.5 -0.3 0.5 -0.6 0.4 -0.5 0.1 -0.5 0 -0.5 -0.2 -0.5 -0.6 0 -1.5 0.5 -0.5 0.4 -0.2zM95.8 64.5l0.3 -0.1 0.5 0 0.5 0.3 0.5 0.5 0 1.5 -0.5 0.6 -0.5 0.2 -0.5 0 -0.5 -0.1 -0.6 -0.4 -0.3 -0.5 -0.1 -0.5 0.1 -0.5 0.3 -0.5 0.8 -0.5zM38.7 113.4l0.4 -0.1 0.5 0.1 0.5 0.4 0 1.1 0 0.2 -0.5 0.4 -0.5 0 -0.4 -0.1 -0.5 -0.5 -0.1 -0.5 0.1 -0.5 0.5 -0.5zM98.6 113.4l0.5 -0.1 0.4 0.1 0.5 0.5 0.1 0.5 -0.1 0.5 -0.5 0.5 -0.4 0.1 -0.5 0 -0.5 -0.4 0 -1.2 0 -0.1 0.5 -0.4z"/>
<path fill="#b50000" d="M41.6 64.5l0.5 -0.1 0.5 0.2 0.5 0.4 0.3 0.5 0.1 0.5 -0.1 0.5 -0.3 0.5 -0.5 0.3 -0.5 0.2 -0.5 -0.1 -0.5 -0.2 -0.5 -0.5 -0.1 -0.2 0.1 -1.3 0.5 -0.5 0.5 -0.2zM96 64.5l0.6 0 0.5 0.2 0.5 0.5 0 1.5 -0.5 0.5 -0.5 0.2 -0.5 0.1 -0.5 -0.2 -0.5 -0.3 -0.3 -0.5 -0.1 -0.5 0.1 -0.5 0.3 -0.6 0.5 -0.3 0.4 -0.1zM38.8 113.4l0.3 0 0.5 0 0.5 0.4 0 1.1 0 0.2 -0.5 0.4 -0.5 0 -0.3 -0.1 -0.6 -0.5 -0.1 -0.5 0.1 -0.5 0.4 -0.3 0.2 -0.2zM98.6 113.4l0.5 0 0.3 0 0.2 0.2 0.4 0.3 0.1 0.5 -0.1 0.5 -0.4 0.4 -0.5 0.2 -0.5 0 -0.5 -0.4 0 -0.2 0 -1.1 0.5 -0.4z"/>
<path fill="#aa0000" d="M40.8 65l0.3 -0.3 0.5 -0.2 0.5 0 0.5 0.1 0.4 0.4 0.3 0.5 0.1 0.5 -0.1 0.5 -0.3 0.5 -0.4 0.3 -0.5 0.1 -0.5 0 -0.5 -0.2 -0.5 -0.5 -0.1 -0.2 0.1 -1.2 0.2 -0.3zM95.2 65l0.4 -0.4 0.5 -0.1 0.5 0 0.5 0.2 0.5 0.6 0 1.4 -0.5 0.5 -0.5 0.2 -0.5 0 -0.5 -0.1 -0.4 -0.3 -0.3 -0.5 -0.1 -0.5 0.1 -0.5 0.3 -0.5zM38.9 113.4l0.7 0 0.5 0.5 0 1.2 -0.5 0.3 -0.7 0 -0.3 -0.2 -0.3 -0.3 -0.1 -0.5 0.1 -0.5 0.3 -0.3 0.3 -0.2zM98.7 113.4l0.6 0 0.3 0.2 0.3 0.3 0.1 0.5 -0.1 0.5 -0.3 0.3 -0.5 0.3 -0.5 -0.1 -0.5 -0.5 0 -1.1 0.6 -0.4z"/>
<path fill="#9f0000" d="M40.9 65l0.2 -0.3 0.5 -0.1 0.5 0 0.5 0.1 0.3 0.3 0.3 0.5 0.1 0.5 -0.1 0.5 -0.3 0.5 -0.3 0.2 -0.5 0.2 -0.5 -0.1 -0.5 -0.1 -0.5 -0.6 -0.1 -0.1 0.1 -1.2 0.3 -0.3zM95.3 65l0.3 -0.3 0.5 -0.1 0.5 0 0.5 0.1 0.5 0.6 0 1.3 -0.5 0.6 -0.5 0.1 -0.5 0.1 -0.5 -0.2 -0.3 -0.2 -0.3 -0.5 -0.1 -0.5 0.1 -0.5 0.3 -0.5zM39 113.4l0.6 0.1 0.5 0.4 0 1.1 -0.5 0.4 -0.6 0 -0.4 -0.2 -0.3 -0.3 -0.1 -0.5 0.1 -0.5 0.3 -0.2 0.4 -0.3zM99 113.4l0.2 0 0.4 0.3 0.3 0.2 0.1 0.5 -0.1 0.5 -0.3 0.3 -0.5 0.3 -0.5 -0.1 -0.5 -0.5 0 -1.1 0.5 -0.3 0.4 -0.1z"/>
<path fill="#950000" d="M40.9 65l0.2 -0.2 0.5 -0.2 0.5 0 0.5 0.2 0.2 0.2 0.4 0.5 0.1 0.5 -0.2 0.5 -0.3 0.5 -0.7 0.3 -1 -0.2 -0.5 -0.5 -0.1 -0.1 0.1 -1.2 0.3 -0.3zM95.4 65l0.2 -0.2 0.5 -0.2 0.5 0 0.5 0.2 0.5 0.5 0 1.3 -0.5 0.5 -1 0.2 -0.7 -0.3 -0.3 -0.5 -0.2 -0.5 0.1 -0.5 0.4 -0.5zM38.4 113.9l0.2 -0.2 0.5 -0.2 0.5 0.1 0.5 0.3 0 1.1 -0.5 0.3 -0.5 0.1 -0.5 -0.2 -0.2 -0.3 -0.1 -0.5 0.1 -0.5zM98.1 113.9l0.5 -0.3 0.5 -0.1 0.5 0.2 0.2 0.2 0.1 0.5 -0.1 0.5 -0.2 0.3 -0.5 0.2 -0.5 -0.1 -0.5 -0.3 0 -1.1z"/>
<path fill="#8a0000" d="M40.9 65l0.2 -0.2 1 -0.1 0.6 0.3 0.4 0.5 0.1 0.5 -0.1 0.5 -0.4 0.5 -0.6 0.2 -0.5 0 -0.5 -0.1 -0.5 -0.5 0 -1.3 0.3 -0.3zM95.5 65l0.6 -0.3 0.5 0 0.5 0.1 0.5 0.5 0 1.3 -0.5 0.5 -1 0.1 -0.6 -0.2 -0.4 -0.5 -0.1 -0.5 0.1 -0.5 0.4 -0.5zM38.4 113.9l0.2 -0.1 0.5 -0.2 0.5 0 0.5 0.3 0 1.1 -0.5 0.3 -0.5 0 -0.5 -0.2 -0.2 -0.2 -0.1 -0.5 0.1 -0.5zM98.1 113.9l0.5 -0.3 0.5 0 0.5 0.2 0.2 0.1 0.1 0.5 -0.1 0.5 -0.2 0.2 -0.5 0.2 -0.5 0 -0.5 -0.3 0 -1.1z"/>
<path fill="#800000" d="M41 65l0.1 -0.2 1 -0.1 0.5 0.3 0.4 0.5 0.1 0.5 -0.1 0.5 -0.4 0.5 -0.5 0.2 -1 -0.1 -0.5 -0.5 0 -1.2 0.4 -0.4zM95.6 65l0.5 -0.3 0.5 0 0.5 0.1 0.5 0.6 0 1.2 -0.5 0.5 -1 0.1 -0.5 -0.2 -0.4 -0.5 -0.1 -0.5 0.1 -0.5 0.4 -0.5zM38.4 113.9l0.7 -0.3 0.5 0.1 0.5 0.2 0 1.1 -0.5 0.2 -0.5 0 -0.5 -0.1 -0.2 -0.2 0 -0.5 0 -0.5zM98.1 113.9l0.5 -0.2 0.5 -0.1 0.5 0.2 0.2 0.1 0 0.5 0 0.5 -0.7 0.3 -0.5 0 -0.5 -0.2 0 -1.1z"/>
<path fill="#20ffdf" d="M36 62l0.6 0 1 0.2 1 0.5 1 1 0.5 0.9 0.2 0.9 0 1 -0.2 0.8 -0.5 0.9 -0.5 0.6 -0.5 0.4 -1 0.6 -1.5 0.2 -1 -0.1 -0.5 -0.2 -1.2 -0.7 -0.5 -0.5 -0.5 -1 -0.2 -0.5 -0.1 -1 0.1 -1 0.2 -0.5 0.6 -1 0.5 -0.5 1.1 -0.7 0.5 -0.2 0.9 -0.1zM102.1 62l0.5 0 1 0.3 1.1 0.7 0.5 0.5 0.6 1 0.2 0.5 0.1 1 -0.1 1 -0.2 0.5 -0.5 1 -0.5 0.5 -1.2 0.7 -0.5 0.2 -1 0.1 -1.5 -0.2 -1 -0.6 -1 -1 -0.5 -0.9 -0.2 -0.8 0 -1 0.2 -0.9 0.5 -0.9 0.5 -0.6 0.5 -0.4 1 -0.5 1.5 -0.2zM49.4 104.4l2.2 -0.1 3 0.2 2.5 0.3 7.5 1.4 2.5 0.3 2 0.1 2 -0.1 2.5 -0.3 8 -1.4 3 -0.4 3 -0.1 1.5 0.2 1.5 0.3 2 0.7 1 0.5 1 0.7 1 1 0.5 0.6 0.8 1.1 0.6 1.5 0.4 2 0 3 -0.4 2 -0.5 1.5 -0.9 1.5 -1 1.2 -1.5 1.3 -1.5 1 -2 0.9 -2 0.6 -2 0.5 -2.5 0.2 -3 0.1 -9 -0.4 -3.5 0 -8.5 0.4 -3 0 -3.5 -0.2 -2 -0.3 -1.5 -0.4 -2 -0.7 -1.5 -0.7 -1.5 -1 -1.5 -1.3 -1 -1.2 -1 -1.9 -0.5 -1.6 -0.3 -2 0 -2.5 0.3 -1.4 0.5 -1.5 1 -1.7 0.5 -0.6 1 -1 1.5 -0.9 2 -0.9 2.3 -0.5z"/>
<path fill="#15ffea" d="M35.3 62.5l1.3 -0.2 0.5 0 1 0.3 1 0.7 0.5 0.5 0.5 0.9 0.2 0.8 0 1 -0.2 0.8 -0.5 0.8 -0.5 0.6 -1 0.6 -0.5 0.2 -0.5 0.1 -1 0.1 -0.9 -0.2 -0.6 -0.3 -0.6 -0.4 -0.5 -0.5 -0.4 -0.8 -0.2 -0.5 -0.1 -0.5 0 -1 0.3 -1 0.2 -0.5 0.4 -0.5 0.6 -0.5 1 -0.5zM100.6 62.5l0.5 -0.2 1 0 0.8 0.2 0.7 0.3 0.6 0.4 0.5 0.5 0.4 0.8 0.2 0.5 0.1 0.5 0 1 -0.1 0.5 -0.4 1 -0.4 0.5 -0.5 0.5 -0.9 0.4 -0.5 0.2 -0.5 0.1 -1 -0.1 -1 -0.3 -1 -0.6 -0.5 -0.6 -0.5 -0.8 -0.2 -0.8 0 -1 0.2 -0.8 0.5 -0.9 0.5 -0.5 1 -0.7 0.5 -0.1zM49.3 105.4l2.8 0.1 2.5 0.4 2.5 0.6 7.5 2.3 2.5 0.4 2 0.2 2 -0.2 2.5 -0.4 7.7 -2.4 3.3 -0.7 2 -0.2 1.5 -0.1 1.5 0.1 1.5 0.3 1.5 0.5 1.5 0.7 1.5 1.2 1 1.3 0.8 1.4 0.2 0.9 0.2 1.1 0.1 2.5 -0.3 1.7 -0.5 1.5 -1 1.7 -1 1.1 -1 0.8 -1.5 1 -1 0.4 -1.5 0.6 -2 0.4 -2.5 0.2 -3 -0.1 -3 -0.3 -7 -1.3 -3.5 -0.2 -3.5 0.2 -7.4 1.3 -3.1 0.4 -2 0 -1.5 0 -1.5 -0.2 -1.5 -0.3 -2 -0.7 -2 -1 -1.5 -1.2 -1 -1.1 -1 -1.7 -0.5 -1.5 -0.3 -1.7 0 -2 0.3 -1.6 0.5 -1.4 1 -1.6 1 -1 1.5 -1.1 1.5 -0.6 1.5 -0.4 1.7 -0.3z"/>
<path fill="#0bfff4" d="M35.1 63l1 -0.4 0.5 -0.1 1 0.1 0.5 0.2 1 0.6 0.5 0.5 0.5 0.8 0.2 0.8 0 1 -0.2 0.7 -0.5 0.8 -0.5 0.6 -0.5 0.3 -0.5 0.3 -1 0.2 -1 -0.1 -0.5 -0.1 -0.6 -0.2 -0.6 -0.5 -0.8 -1 -0.3 -1 0 -1 0.2 -0.5 0.5 -1 0.4 -0.5 0.7 -0.5zM99.8 63l0.3 -0.2 1 -0.2 1 0 0.5 0.2 0.5 0.2 0.7 0.5 0.7 1 0.4 1 0 1 -0.1 0.5 -0.5 1 -0.5 0.5 -0.7 0.5 -0.5 0.2 -1 0.2 -1 -0.1 -0.5 -0.1 -1 -0.6 -0.5 -0.6 -0.5 -0.8 -0.2 -0.7 0 -1 0.2 -0.8 0.5 -0.8 0.5 -0.5 0.7 -0.4zM47.7 106.4l1.9 0 2 0.1 2 0.5 2.5 0.9 2.4 1 1.8 1 6.8 4.3 1 0.4 1 0.2 1 -0.2 1 -0.4 6.8 -4.3 2.9 -1.5 1.8 -0.7 2.2 -0.8 2.3 -0.4 2 -0.1 2 0.1 1.5 0.4 1.5 0.7 1.5 1.1 1 1.2 0.5 0.8 0.3 0.7 0.4 1.5 0.1 2.5 -0.2 1 -0.4 1.5 -0.7 1.2 -1 1.3 -1 0.8 -1.5 1 -1 0.4 -1.5 0.5 -1.5 0.2 -2 0.1 -2 -0.1 -2 -0.3 -2 -0.6 -2.7 -1 -2.2 -1 -5.6 -3.1 -1 -0.3 -0.5 -0.1 -0.5 0.1 -1 0.3 -4.7 2.6 -2 1 -2.3 1 -2 0.7 -2.5 0.6 -2 0.2 -2 0 -2 -0.2 -1.5 -0.4 -1.5 -0.6 -1.5 -1 -1 -0.8 -1 -1.3 -0.5 -0.8 -0.5 -1.4 -0.3 -1.5 0 -2 0.3 -1.4 0.5 -1.3 1 -1.5 1 -0.9 1.5 -1 1.5 -0.5 1.6 -0.4z"/>
<path fill="#00ffff" d="M35.9 63l1.2 -0.2 0.5 0 1 0.3 1 0.9 0.5 0.7 0.2 0.8 0 1 -0.2 0.7 -0.5 0.7 -0.5 0.5 -0.5 0.4 -0.5 0.2 -0.5 0.1 -1 0.1 -1 -0.4 -0.6 -0.3 -0.5 -0.5 -0.6 -1 -0.1 -0.5 0 -1 0.4 -1 0.3 -0.5 0.5 -0.5 0.9 -0.5zM100.1 63l1 -0.2 1 0.1 0.5 0.2 0.6 0.4 0.5 0.5 0.6 1 0.1 0.5 0 1 -0.3 1 -0.4 0.5 -0.5 0.5 -1.1 0.5 -0.5 0.2 -1 -0.1 -1 -0.3 -1 -0.9 -0.5 -0.7 -0.2 -0.7 0 -1 0.2 -0.8 0.5 -0.7 0.5 -0.5 0.5 -0.4 0.5 -0.1zM45.9 107.4l1.2 -0.2 1.5 0 1.5 0.1 1.5 0.3 1.5 0.5 1.5 0.7 1.1 0.6 1.4 1 1.2 1 0.8 1 0.7 1 0.4 1 0.1 1 -0.1 1 -0.5 1 -0.3 0.5 -1.5 1.5 -1.8 1.2 -2 0.9 -2.5 0.7 -2.5 0.2 -2 -0.3 -2 -0.6 -1 -0.5 -1 -0.6 -1 -1 -0.5 -0.6 -0.5 -0.8 -0.5 -1.3 -0.3 -1.3 0 -2 0.3 -1.2 0.5 -1.2 0.5 -0.8 1 -1.1 1.5 -1 1.8 -0.7zM87.4 107.4l1.7 -0.2 1.5 0 1.5 0.2 1.5 0.5 1.5 0.8 1 0.9 0.5 0.6 0.5 0.8 0.4 0.9 0.4 1.5 0 2 -0.3 1.3 -0.5 1.3 -0.5 0.8 -0.5 0.6 -1 1 -1 0.6 -1.5 0.7 -2 0.5 -2 0.2 -2 -0.2 -2 -0.5 -2 -0.8 -2 -1.2 -1.4 -1.3 -0.4 -0.5 -0.6 -1 -0.3 -1 0 -0.5 0.1 -1 0.7 -1.5 1.2 -1.5 1.8 -1.5 1.7 -1 2.2 -1 1.8 -0.5z"/>
<path fill="#00f4ff" d="M35.6 63.5l1 -0.5 1 0 1 0.3 0.5 0.3 0.5 0.4 0.5 0.8 0.1 0.7 0 1 -0.1 0.6 -0.5 0.8 -0.5 0.5 -1 0.5 -1 0.1 -1 -0.3 -0.6 -0.2 -0.6 -0.5 -0.5 -1 -0.2 -0.5 0 -1 0.4 -1 0.4 -0.5 0.6 -0.5zM99.4 63.5l0.7 -0.4 1 -0.1 0.5 0 1 0.5 0.6 0.5 0.4 0.5 0.4 1 0 1 -0.4 1 -0.3 0.5 -0.6 0.5 -1.1 0.4 -0.5 0.1 -1 -0.1 -1 -0.5 -0.5 -0.5 -0.5 -0.8 -0.1 -0.6 0 -1 0.1 -0.7 0.5 -0.8 0.8 -0.5zM46.1 107.9l1.5 -0.1 1.2 0.1 1.3 0.3 1.5 0.5 1 0.5 1.2 0.7 1.2 1 0.9 1 0.6 1 0.4 1 0.2 1 -0.1 1 -0.3 1 -0.6 1 -0.9 1 -0.6 0.5 -1.7 1 -1.8 0.7 -1.8 0.3 -1.7 0.1 -2 -0.4 -1.5 -0.5 -1.5 -1 -1 -1.1 -0.5 -0.8 -0.4 -0.8 -0.3 -1.5 0 -2 0.3 -1.5 0.4 -0.7 0.5 -0.8 0.5 -0.5 1 -0.8 1.5 -0.8 1.5 -0.4zM89.4 107.9l1.2 -0.1 1.5 0.1 1.5 0.4 1 0.5 1 0.6 1 1 0.5 0.8 0.5 1.2 0.2 0.5 0 0.5 0 2.5 -0.5 1.5 -0.7 1.1 -1 1.1 -1 0.7 -1.5 0.7 -1.5 0.4 -1.5 0.1 -2 -0.2 -1.5 -0.4 -1.5 -0.6 -1.5 -0.9 -1.1 -1 -0.7 -1 -0.5 -1 -0.1 -0.5 -0.1 -1 0.3 -1.5 0.9 -1.5 0.9 -1 1.2 -1 1.7 -1 1.5 -0.6 1.8 -0.4z"/>
<path fill="#00eaff" d="M36.1 63.5l1 -0.3 1 0 1 0.4 0.5 0.5 0.5 0.7 0.1 0.7 0 1 -0.1 0.6 -0.5 0.8 -0.5 0.4 -1 0.4 -1 0.1 -1 -0.3 -0.7 -0.5 -0.4 -0.5 -0.4 -1 0 -1 0.1 -0.5 0.7 -1 0.7 -0.5zM99.5 63.5l0.6 -0.3 0.5 -0.1 1 0.2 1 0.5 0.6 0.7 0.4 1 0 1 -0.1 0.5 -0.7 1 -0.7 0.5 -1 0.3 -1 -0.1 -1 -0.4 -0.5 -0.4 -0.5 -0.8 -0.1 -0.6 0 -1 0.1 -0.7 0.5 -0.7 0.5 -0.5 0.4 -0.1zM46.4 108.4l1.2 0.1 1.5 0.2 1.5 0.6 1 0.5 0.9 0.6 1 1 0.7 1 0.5 1 0.2 1 0 1 -0.2 1 -0.6 1 -0.8 1 -0.7 0.7 -1 0.6 -1.5 0.7 -1.5 0.3 -1.5 0.1 -1.5 -0.2 -1.5 -0.5 -1 -0.5 -1 -0.8 -1 -1.3 -0.5 -1.1 -0.2 -1 0 -2 0.2 -0.9 0.2 -0.6 0.8 -1.2 1 -1 1 -0.6 1.5 -0.5 1.3 -0.2zM91 108.4l1.1 0.1 1.5 0.2 1.5 0.7 1 0.7 0.5 0.6 0.5 0.7 0.5 1.1 0.2 0.9 0 2 -0.2 1 -0.5 1.1 -0.5 0.8 -1 1 -1.5 0.8 -1 0.4 -1 0.2 -1.5 0.1 -1.5 -0.2 -1.5 -0.4 -1 -0.5 -1.2 -0.8 -1 -1 -0.6 -1 -0.4 -1 -0.1 -1 0.1 -1 0.6 -1.5 0.7 -1 1 -1 1.4 -0.9 1 -0.4 1.5 -0.5 1.4 -0.2z"/>
<path fill="#00dfff" d="M36.6 63.5l1 -0.2 1 0.2 0.5 0.2 0.5 0.4 0.5 0.7 0.1 0.7 0 1 -0.1 0.6 -0.5 0.7 -0.5 0.4 -0.5 0.2 -1 0.2 -1 -0.2 -0.8 -0.4 -0.5 -0.5 -0.2 -0.5 -0.2 -1 0.2 -1 0.2 -0.5 0.5 -0.5 0.8 -0.5zM99.8 63.5l0.8 -0.2 1 0.2 0.8 0.5 0.5 0.5 0.2 0.5 0.2 1 -0.2 1 -0.2 0.5 -0.5 0.5 -0.8 0.4 -1 0.2 -1 -0.2 -0.5 -0.2 -0.5 -0.4 -0.5 -0.7 -0.1 -0.6 0 -1 0.1 -0.7 0.5 -0.7 0.5 -0.4 0.7 -0.2zM45.8 108.9l1.3 0.1 1 0.2 1.5 0.5 1 0.6 0.8 0.6 0.9 1 0.6 1 0.3 1 0.1 1 -0.2 1 -0.4 1 -0.7 1 -0.9 0.9 -1 0.6 -1 0.4 -1 0.3 -1.5 0.1 -1 -0.1 -1.5 -0.3 -1 -0.5 -1 -0.7 -0.5 -0.5 -0.5 -0.7 -0.6 -1.5 -0.1 -0.5 0 -2 0.1 -0.5 0.6 -1.4 0.5 -0.6 1 -0.9 1 -0.6 1 -0.3 1.2 -0.2zM91.6 108.9l1 0.1 1 0.1 1 0.3 1 0.6 1 0.9 0.5 0.6 0.5 1.1 0.2 0.8 0 2 -0.2 0.9 -0.5 1.1 -0.5 0.7 -1 0.9 -1 0.6 -1.5 0.5 -1.5 0.1 -1.5 -0.1 -1 -0.3 -1 -0.4 -1 -0.6 -0.9 -0.9 -0.7 -1 -0.4 -1 -0.2 -1 0.1 -1 0.3 -1 0.6 -1 0.9 -1 1.3 -0.9 1 -0.5 1 -0.3 1.5 -0.3z"/>
<path fill="#00d4ff" d="M37.4 63.5l0.7 0 1 0.3 0.5 0.4 0.5 0.7 0.1 0.6 0 1 -0.1 0.5 -0.5 0.8 -0.5 0.3 -1 0.4 -1 -0.1 -1 -0.4 -0.5 -0.5 -0.2 -0.5 -0.2 -0.5 0 -1 0.2 -0.5 0.3 -0.5 0.5 -0.5 0.4 -0.3 0.8 -0.2zM100.1 63.5l1 0 0.9 0.5 0.5 0.5 0.3 0.5 0.2 0.5 0 1 -0.2 0.5 -0.2 0.5 -0.5 0.5 -0.5 0.2 -1 0.3 -1 -0.1 -0.5 -0.3 -0.5 -0.3 -0.5 -0.8 -0.1 -0.5 0 -1 0.1 -0.6 0.5 -0.7 0.5 -0.4 1 -0.3zM44.7 109.4l0.9 0 1 0 1 0.2 1 0.4 1 0.5 1 0.9 0.5 0.5 0.5 1 0.4 1 0 1 -0.2 1 -0.2 0.5 -0.6 1 -0.4 0.5 -1 0.8 -1 0.5 -1 0.3 -1.5 0.2 -1.5 -0.1 -1 -0.3 -1 -0.6 -1 -0.8 -0.5 -0.7 -0.5 -1 -0.2 -0.8 0 -2 0.2 -0.7 0.5 -1 0.5 -0.7 1 -0.8 1 -0.5 1.1 -0.3zM91.5 109.4l1.1 0 1 0.1 1 0.2 1 0.5 1 0.8 0.5 0.7 0.5 1 0.2 0.7 0 2 -0.2 0.8 -0.5 1 -0.5 0.7 -1 0.8 -1 0.6 -1 0.3 -1 0.1 -1.5 -0.1 -1 -0.2 -1.1 -0.5 -0.9 -0.5 -0.9 -1 -0.6 -1 -0.4 -1 0 -1 0.2 -1 0.4 -1 0.8 -1 0.5 -0.5 1 -0.7 1 -0.4 1.4 -0.4z"/>
<path fill="#00caff" d="M36.5 64l0.6 -0.3 1 -0.1 0.5 0.1 1 0.5 0.5 0.7 0.1 0.6 0 1 -0.1 0.5 -0.5 0.7 -1 0.6 -1 0.1 -0.5 -0.2 -0.5 -0.2 -0.7 -0.5 -0.3 -0.5 -0.1 -0.5 0 -1 0.1 -0.5 0.3 -0.5 0.6 -0.5zM99 64l0.6 -0.3 1 -0.1 1 0.3 0.7 0.6 0.3 0.5 0.1 0.5 0 1 -0.1 0.5 -0.3 0.5 -0.6 0.5 -0.6 0.2 -0.5 0.2 -1 -0.1 -1 -0.6 -0.5 -0.7 -0.1 -0.5 0 -1 0.1 -0.6 0.5 -0.7 0.4 -0.2zM43.8 109.9l0.8 -0.1 1 -0.1 1 0.2 1 0.3 1.5 0.8 0.5 0.5 0.7 0.9 0.5 1 0.1 0.5 0.1 1 -0.2 1 -0.5 1 -0.4 0.5 -0.6 0.5 -0.7 0.6 -1 0.4 -1 0.3 -1 0.1 -1 -0.1 -1 -0.2 -1 -0.5 -1 -0.8 -0.5 -0.6 -0.5 -1 -0.2 -0.7 0 -2 0.2 -0.6 0.5 -1 0.5 -0.6 1 -0.8 1.2 -0.5zM91.3 109.9l0.8 -0.1 1 -0.1 1 0.2 1 0.3 1 0.6 0.5 0.4 0.5 0.6 0.5 1 0.2 0.6 0 0.5 0 1.5 -0.2 0.7 -0.5 1 -0.5 0.6 -0.5 0.5 -1 0.6 -1 0.3 -1 0.2 -1.5 -0.1 -1 -0.3 -1 -0.5 -1 -0.7 -0.7 -0.8 -0.5 -1 -0.2 -1 0.1 -1 0.1 -0.5 0.5 -1 0.7 -0.9 0.6 -0.6 0.9 -0.5 1.2 -0.5z"/>
<path fill="#00bfff" d="M36.8 64l0.8 -0.3 0.5 0 0.5 0 1 0.6 0.5 0.7 0.1 0.5 0 1 -0.1 0.5 -0.5 0.7 -1 0.5 -0.5 0.1 -1 -0.2 -0.9 -0.6 -0.3 -0.5 -0.2 -0.5 0 -1 0.2 -0.5 0.3 -0.5 0.6 -0.5zM99.1 64l0.5 -0.3 0.5 0 1 0.2 0.9 0.6 0.3 0.5 0.2 0.5 0 1 -0.2 0.5 -0.3 0.5 -0.6 0.5 -0.8 0.2 -1 0 -1 -0.5 -0.5 -0.7 -0.1 -0.5 0 -1 0.1 -0.5 0.5 -0.7 0.5 -0.3zM43 110.4l0.6 -0.2 1 -0.1 1 0 1 0.2 1.5 0.7 0.5 0.4 0.9 1 0.2 0.5 0.3 1 0.1 0.5 -0.1 1 -0.1 0.5 -0.6 1 -1 1 -0.9 0.5 -0.8 0.3 -1 0.2 -1 0 -1 -0.2 -1 -0.4 -1 -0.7 -0.5 -0.6 -0.5 -1 -0.2 -0.6 0 -2 0.2 -0.5 0.5 -1 0.5 -0.6 1 -0.7 0.4 -0.2zM91.3 110.4l0.8 -0.2 1 -0.1 1.5 0.1 1 0.4 0.5 0.3 0.5 0.4 0.5 0.6 0.3 0.5 0.4 1 0 2 -0.2 0.6 -0.5 1 -0.5 0.6 -1 0.7 -1 0.4 -1 0.2 -1 0 -1 -0.2 -0.8 -0.3 -0.9 -0.5 -0.6 -0.5 -0.7 -1 -0.3 -0.5 -0.2 -1 0.1 -1 0.3 -1 0.6 -1 0.5 -0.5 0.7 -0.5 1 -0.5z"/>
<path fill="#00b5ff" d="M37.2 64l0.9 -0.2 0.5 0 1 0.5 0.5 0.7 0.1 0.5 0 1 -0.1 0.4 -0.5 0.7 -0.5 0.3 -0.5 0.2 -1 0 -0.5 -0.2 -0.5 -0.3 -0.5 -0.6 -0.2 -0.5 -0.1 -0.5 0.1 -0.5 0.2 -0.5 0.3 -0.5 0.8 -0.5zM99.3 64l0.3 -0.2 0.5 0 0.5 0 0.5 0.2 0.5 0.4 0.5 0.6 0.2 0.5 0.1 0.5 -0.1 0.5 -0.2 0.5 -0.3 0.5 -0.7 0.4 -0.5 0.2 -1 0 -1 -0.5 -0.5 -0.7 -0.1 -0.4 0 -1 0.1 -0.5 0.5 -0.7 0.7 -0.3zM43.7 110.4l0.9 -0.1 1 0.1 1.4 0.5 0.8 0.5 0.5 0.5 0.4 0.5 0.5 1 0.1 0.5 0 1 0 0.5 -0.5 1 -0.8 1 -0.7 0.5 -0.7 0.4 -1 0.3 -1 0 -1.5 -0.3 -1 -0.5 -0.5 -0.4 -0.5 -0.5 -0.5 -1 -0.2 -0.5 0 -2 0.2 -0.5 0.5 -0.9 1 -0.9 1 -0.5 0.6 -0.2zM92.6 110.4l1 -0.1 1 0.2 1 0.3 0.5 0.3 1 0.9 0.5 0.9 0.2 0.5 0 2 -0.2 0.5 -0.5 1 -1 0.9 -0.5 0.3 -1 0.4 -1 0.1 -1 0 -1.5 -0.5 -0.9 -0.7 -0.5 -0.5 -0.3 -0.5 -0.5 -1 0 -0.5 0 -1 0.3 -1 0.3 -0.5 0.4 -0.5 0.7 -0.6 1 -0.6 1 -0.3z"/>
<path fill="#00aaff" d="M37.5 64l0.6 -0.1 1 0.1 0.5 0.4 0.5 0.6 0.1 0.5 0 1 -0.1 0.4 -0.5 0.7 -0.5 0.3 -1 0.2 -0.5 -0.1 -0.9 -0.5 -0.4 -0.5 -0.2 -0.5 -0.1 -0.5 0.1 -0.5 0.2 -0.5 0.4 -0.5 0.8 -0.5zM99.5 64l0.6 -0.1 0.5 0.1 0.5 0.2 0.4 0.3 0.4 0.5 0.2 0.5 0 1 -0.2 0.5 -0.4 0.5 -0.9 0.5 -0.5 0.1 -1 -0.2 -0.5 -0.3 -0.5 -0.7 -0.1 -0.4 0 -1 0.1 -0.5 0.5 -0.6 0.5 -0.4 0.4 0zM42.7 110.9l0.4 -0.1 1 -0.2 1.5 0.2 1.4 0.6 1 1 0.5 1 0.2 0.5 0 1 -0.3 1 -0.2 0.5 -0.4 0.5 -0.7 0.6 -0.7 0.4 -0.8 0.3 -1.5 0.1 -1 -0.1 -1 -0.5 -1 -0.9 -0.5 -0.9 -0.2 -0.5 0 -2 0.2 -0.4 0.5 -0.9 1 -0.9 0.6 -0.3zM92.1 110.9l1 -0.2 1.5 0 0.5 0.1 1 0.4 1 0.9 0.5 0.9 0.2 0.4 0 2 -0.2 0.5 -0.5 0.9 -1 0.9 -1 0.5 -0.5 0.1 -1 0.1 -1 -0.2 -0.8 -0.3 -0.7 -0.4 -0.7 -0.6 -0.4 -0.5 -0.2 -0.5 -0.3 -1 0 -1 0.2 -0.5 0.5 -1 0.4 -0.5 0.6 -0.5 0.9 -0.5z"/>
<path fill="#009fff" d="M38 64l1.1 0.1 0.5 0.3 0.5 0.6 0.1 0.5 0 1 -0.1 0.4 -0.5 0.6 -0.5 0.3 -0.5 0.2 -0.5 0 -0.5 -0.1 -0.5 -0.3 -0.6 -0.6 -0.2 -0.5 -0.1 -0.5 0.1 -0.5 0.2 -0.5 0.6 -0.7 0.5 -0.2 0.4 -0.1zM100.1 64l0.5 0.1 0.7 0.4 0.4 0.5 0.2 0.5 0.1 0.5 -0.1 0.5 -0.2 0.5 -0.4 0.5 -0.7 0.4 -0.5 0.1 -0.5 0 -0.5 -0.2 -0.5 -0.3 -0.5 -0.6 -0.1 -0.4 0 -1 0.1 -0.5 0.5 -0.6 0.5 -0.3 1 -0.1zM43.2 110.9l1.4 0 1 0.2 0.5 0.2 0.9 0.6 0.4 0.5 0.6 1 0.2 1 -0.1 0.5 -0.2 1 -0.8 1.1 -0.6 0.4 -0.9 0.5 -1.5 0.2 -0.5 0 -1 -0.3 -1 -0.6 -0.5 -0.5 -0.5 -0.8 -0.2 -1 0 -1.5 0.2 -0.4 0.5 -0.8 0.5 -0.5 1 -0.6 0.6 -0.2zM93.2 110.9l1.4 0 1 0.2 0.5 0.2 0.5 0.4 0.5 0.5 0.5 0.8 0.2 0.4 0 1.5 -0.2 1 -0.5 0.8 -0.5 0.5 -0.5 0.4 -1 0.4 -0.5 0.1 -1 0 -0.8 -0.2 -0.7 -0.2 -1 -0.8 -0.5 -0.5 -0.4 -1 -0.2 -1 0.1 -0.5 0.3 -1 0.4 -0.5 0.4 -0.5 0.7 -0.5 1.3 -0.5z"/>
<path fill="#0095ff" d="M37.1 64.5l0.5 -0.3 0.5 -0.2 0.5 0 0.5 0.1 0.5 0.4 0.5 0.5 0.1 0.5 0 1 -0.1 0.4 -0.5 0.6 -0.5 0.3 -1 0.1 -0.5 -0.2 -0.5 -0.2 -0.5 -0.5 -0.2 -0.5 0 -0.5 0 -0.5 0.2 -0.5 0.5 -0.5zM98.6 64.5l0.5 -0.4 1 -0.1 0.5 0.2 0.5 0.3 0.5 0.5 0.2 0.5 0 0.5 0 0.5 -0.2 0.5 -0.5 0.5 -0.5 0.2 -0.5 0.2 -0.5 0 -0.5 -0.1 -0.5 -0.3 -0.5 -0.6 -0.1 -0.4 0 -1 0.1 -0.5 0.5 -0.5zM42.2 111.4l0.4 -0.2 1 -0.2 1 0.1 0.5 0.1 0.5 0.2 0.8 0.5 0.9 1 0.2 0.5 0.2 1 -0.2 1 -0.5 1 -0.9 0.9 -1 0.4 -0.5 0.2 -1 0 -1 -0.2 -0.5 -0.3 -0.5 -0.3 -0.5 -0.5 -0.5 -0.8 -0.2 -0.4 0 -2 0.2 -0.3 0.5 -0.8 0.5 -0.5 0.6 -0.4zM92.6 111.4l1 -0.3 0.5 -0.1 1 0.1 1 0.4 0.5 0.3 0.5 0.5 0.5 0.8 0.2 0.3 0 2 -0.2 0.4 -0.5 0.8 -0.5 0.5 -1 0.6 -0.5 0.1 -1.5 0.1 -1.2 -0.5 -0.7 -0.5 -0.5 -0.5 -0.3 -0.5 -0.4 -1 0 -0.5 0.2 -1 0.6 -1 0.5 -0.5 0.8 -0.5z"/>
<path fill="#008aff" d="M37.3 64.5l0.8 -0.4 0.5 0 0.5 0.1 0.5 0.3 0.5 0.5 0.1 0.5 0 1 -0.1 0.4 -0.5 0.5 -0.5 0.3 -0.5 0.1 -0.5 0 -0.8 -0.3 -0.5 -0.5 -0.2 -0.5 -0.1 -0.5 0.1 -0.5 0.2 -0.5 0.5 -0.5zM98.7 64.5l0.4 -0.3 0.5 -0.1 0.5 0 0.8 0.4 0.5 0.5 0.2 0.5 0.1 0.5 -0.1 0.5 -0.2 0.5 -0.5 0.5 -0.8 0.3 -0.5 0 -0.5 -0.1 -0.5 -0.3 -0.5 -0.5 -0.1 -0.4 0 -1 0.1 -0.5 0.6 -0.5zM42.4 111.4l1.2 -0.2 0.5 0 0.8 0.2 1 0.5 0.6 0.5 0.3 0.5 0.4 1 0 1 -0.1 0.5 -0.6 1 -0.9 0.8 -0.5 0.3 -1 0.2 -1 0 -0.5 -0.2 -1 -0.5 -0.5 -0.4 -0.5 -0.8 -0.2 -0.9 0 -1 0.2 -0.8 0.5 -0.8 0.5 -0.4 0.8 -0.5zM93.3 111.4l0.8 -0.2 0.5 0 1 0.2 1 0.5 0.5 0.4 0.5 0.8 0.2 0.8 -0.1 1.5 -0.1 0.4 -0.5 0.8 -1 0.7 -1 0.4 -1 0 -0.5 -0.1 -0.5 -0.2 -0.9 -0.5 -0.5 -0.5 -0.4 -0.5 -0.3 -1 0 -1 0.1 -0.5 0.6 -1 0.6 -0.5 1 -0.5z"/>
<path fill="#0080ff" d="M37.5 64.5l0.6 -0.3 0.5 0 0.5 0 0.5 0.3 0.5 0.6 0.1 0.4 0 1 -0.1 0.4 -0.5 0.5 -0.5 0.3 -0.5 0.1 -0.5 -0.1 -0.6 -0.2 -0.5 -0.5 -0.3 -0.5 -0.1 -0.5 0.1 -0.5 0.3 -0.5 0.5 -0.5zM98.8 64.5l0.3 -0.3 0.5 0 0.5 0 0.6 0.3 0.5 0.5 0.3 0.5 0.1 0.5 -0.1 0.5 -0.3 0.5 -0.5 0.5 -0.6 0.2 -0.5 0.1 -0.5 -0.1 -0.5 -0.3 -0.5 -0.5 -0.1 -0.4 0 -1 0.1 -0.4 0.5 -0.6 0.2 0zM42.9 111.4l1.2 0 0.5 0.1 0.8 0.4 0.6 0.5 0.4 0.5 0.4 1 0 1 -0.3 1 -0.4 0.5 -0.5 0.5 -1 0.5 -1 0.1 -0.5 0 -1 -0.3 -1 -0.7 -0.5 -0.7 -0.1 -0.4 -0.1 -1.5 0.2 -0.8 0.5 -0.7 0.5 -0.4 0.5 -0.3 0.8 -0.3zM94.1 111.4l1 0 1 0.3 1 0.7 0.5 0.7 0.1 0.3 0.1 1.5 -0.2 0.9 -0.5 0.7 -0.5 0.4 -0.5 0.3 -0.5 0.2 -0.5 0.1 -1 0 -1 -0.3 -0.4 -0.3 -0.6 -0.5 -0.4 -0.5 -0.3 -1 0 -1 0.4 -1 0.4 -0.5 0.6 -0.5 0.8 -0.4 0.5 -0.1z"/>
<path fill="#0075ff" d="M37.7 64.5l0.4 -0.2 0.5 -0.1 0.5 0.1 0.5 0.2 0.5 0.6 0.1 0.4 0 1 -0.1 0.4 -0.5 0.5 -0.5 0.2 -0.5 0.1 -0.5 -0.1 -0.5 -0.2 -0.5 -0.4 -0.3 -0.5 0 -0.5 0 -0.5 0.3 -0.5 0.6 -0.5zM98.9 64.5l0.2 -0.2 0.5 -0.1 0.5 0.1 0.5 0.2 0.5 0.5 0.3 0.5 0 0.5 0 0.5 -0.3 0.5 -0.6 0.5 -0.4 0.1 -0.5 0.1 -0.5 -0.1 -0.5 -0.2 -0.5 -0.5 -0.1 -0.4 0 -1 0.1 -0.4 0.5 -0.6 0.3 0zM41.8 111.9l0.8 -0.3 0.5 -0.1 1 0.1 1 0.4 0.5 0.4 0.4 0.5 0.5 1 0 1 -0.4 1 -0.4 0.5 -0.6 0.5 -1 0.4 -0.5 0.1 -1 -0.1 -1 -0.4 -0.5 -0.5 -0.5 -0.7 -0.2 -0.8 0 -1 0.2 -0.7 0.5 -0.7 0.7 -0.6zM93.3 111.9l0.8 -0.3 0.5 -0.1 1 0.1 1 0.4 0.5 0.5 0.5 0.7 0.2 0.7 -0.1 1.5 -0.1 0.3 -0.5 0.7 -0.5 0.5 -1 0.4 -1 0.1 -0.5 -0.1 -1 -0.4 -0.6 -0.5 -0.4 -0.5 -0.4 -1 0 -1 0.5 -1 0.4 -0.5 0.7 -0.5z"/>
<path fill="#006aff" d="M37.8 64.5l0.8 -0.2 0.5 0 0.5 0.3 0.5 0.5 0.1 0.4 0 1 -0.1 0.3 -0.5 0.6 -0.5 0.2 -0.5 0.1 -0.8 -0.2 -0.6 -0.5 -0.2 -0.5 -0.1 -0.5 0.1 -0.5 0.2 -0.5 0.6 -0.5zM98.9 64.5l0.2 -0.2 0.5 0 0.5 0.1 0.5 0.2 0.4 0.4 0.2 0.5 0.1 0.5 -0.1 0.5 -0.2 0.5 -0.4 0.3 -0.5 0.3 -0.5 0.1 -0.5 -0.1 -0.5 -0.2 -0.5 -0.6 -0.1 -0.3 0 -1 0.1 -0.4 0.5 -0.5 0.3 -0.1zM42 111.9l0.6 -0.2 0.5 0 1 0.1 0.5 0.2 0.7 0.4 0.4 0.5 0.3 0.5 0.2 1 -0.2 1 -0.2 0.5 -0.5 0.5 -0.7 0.5 -1 0.3 -1 0 -1 -0.4 -0.5 -0.4 -0.5 -0.7 -0.2 -0.8 0 -1 0.2 -0.7 0.5 -0.7 0.5 -0.4 0.4 -0.2zM93.7 111.9l0.9 -0.2 0.5 0 1 0.2 0.5 0.2 0.5 0.4 0.5 0.7 0.2 0.7 -0.1 1.5 -0.1 0.3 -0.5 0.7 -0.5 0.4 -1 0.4 -1 0 -0.5 -0.1 -1 -0.5 -0.7 -0.7 -0.4 -1 0 -0.5 0.2 -1 0.3 -0.5 0.4 -0.5 0.8 -0.5z"/>
<path fill="#0060ff" d="M38 64.5l0.6 -0.2 0.5 0.1 0.5 0.2 0.5 0.5 0.1 0.4 0 1 -0.1 0.3 -0.5 0.5 -0.5 0.2 -0.5 0.1 -0.6 -0.1 -0.7 -0.5 -0.2 -0.5 -0.1 -0.5 0.1 -0.5 0.2 -0.5 0.7 -0.5zM99 64.5l0.6 -0.2 0.6 0.2 0.7 0.5 0.2 0.5 0.1 0.5 -0.1 0.5 -0.2 0.5 -0.8 0.5 -0.5 0.1 -0.5 -0.1 -0.5 -0.2 -0.5 -0.5 -0.1 -0.3 0 -1 0.1 -0.4 0.5 -0.5 0.4 -0.1zM42.2 111.9l0.9 -0.1 1 0.2 0.8 0.4 0.5 0.5 0.3 0.5 0.2 1 -0.2 1 -0.2 0.5 -0.5 0.5 -0.9 0.5 -1 0.2 -1 -0.2 -0.5 -0.2 -0.5 -0.4 -0.5 -0.6 -0.2 -0.8 0 -1 0.2 -0.7 0.5 -0.6 0.5 -0.4 0.6 -0.3zM94.2 111.9l0.9 -0.1 1 0.2 0.5 0.2 0.5 0.4 0.5 0.6 0.2 0.7 0 1 -0.2 0.8 -0.5 0.6 -0.5 0.4 -1 0.4 -1 0 -0.5 -0.1 -0.9 -0.6 -0.5 -0.5 -0.2 -0.5 -0.2 -1 0.2 -1 0.3 -0.5 0.5 -0.5 0.9 -0.5z"/>
<path fill="#0055ff" d="M38.2 64.5l0.4 -0.1 0.5 0 0.5 0.2 0.5 0.5 0.1 0.4 0 1 -0.1 0.3 -0.5 0.5 -0.5 0.2 -0.5 0 -0.5 -0.1 -0.6 -0.4 -0.3 -0.5 -0.1 -0.5 0.1 -0.5 0.4 -0.6 0.6 -0.4zM99.1 64.5l0.5 -0.1 0.5 0.1 0.6 0.5 0.3 0.5 0.1 0.5 -0.1 0.5 -0.3 0.5 -0.6 0.4 -0.5 0.1 -0.5 0 -0.5 -0.2 -0.5 -0.5 -0.1 -0.3 0 -1 0.1 -0.4 0.5 -0.5 0.5 -0.1zM42.5 111.9l1.1 0.1 1 0.4 0.5 0.5 0.3 0.5 0.2 0.5 0 1 -0.1 0.5 -0.3 0.5 -0.6 0.6 -1 0.4 -1 0.1 -1 -0.3 -0.5 -0.4 -0.6 -0.9 -0.1 -1.5 0.2 -0.6 0.5 -0.7 0.5 -0.4 0.9 -0.3zM94.9 111.9l0.7 0 1 0.3 0.5 0.4 0.6 0.8 0.1 1.5 -0.2 0.7 -0.5 0.7 -0.5 0.4 -1 0.3 -1 -0.1 -1 -0.4 -0.6 -0.6 -0.3 -0.5 -0.1 -0.5 0 -1 0.2 -0.5 0.3 -0.5 0.5 -0.5 0.5 -0.3 0.8 -0.2z"/>
<path fill="#004aff" d="M38.5 64.5l0.6 0 0.5 0.1 0.5 0.5 0.1 0.4 0 1 -0.1 0.3 -0.5 0.5 -0.5 0.2 -0.5 0 -0.5 -0.2 -0.5 -0.3 -0.3 -0.5 -0.1 -0.5 0.1 -0.5 0.3 -0.5 0.5 -0.4 0.4 -0.1zM99.3 64.5l0.3 -0.1 0.5 0.2 0.5 0.4 0.3 0.5 0.1 0.5 -0.1 0.5 -0.3 0.5 -0.5 0.3 -0.5 0.2 -0.5 0 -0.5 -0.2 -0.5 -0.5 -0.1 -0.3 0 -1 0.1 -0.4 0.5 -0.5 0.7 -0.1zM41.4 112.4l0.7 -0.3 1 -0.1 1 0.3 0.8 0.6 0.3 0.5 0.2 0.5 0 1 -0.2 0.5 -0.3 0.5 -0.5 0.5 -0.8 0.4 -0.5 0.1 -1 -0.1 -0.5 -0.2 -0.5 -0.4 -0.5 -0.6 -0.2 -0.7 0.1 -1.5 0.6 -0.8 0.3 -0.2zM93.9 112.4l0.7 -0.3 1 -0.1 1 0.3 0.5 0.3 0.5 0.7 0.2 0.6 -0.1 1.5 -0.6 0.8 -0.5 0.4 -0.5 0.2 -1 0.1 -1 -0.3 -0.8 -0.7 -0.3 -0.5 -0.2 -0.5 0 -1 0.2 -0.5 0.3 -0.5 0.6 -0.5z"/>
<path fill="#0040ff" d="M37.7 65l0.4 -0.3 0.5 -0.2 0.5 0 0.5 0.1 0.5 0.5 0.1 0.4 0 1 -0.1 0.3 -0.5 0.5 -0.5 0.1 -0.5 0 -0.5 -0.2 -0.4 -0.2 -0.3 -0.5 -0.1 -0.5 0.1 -0.5 0.3 -0.5zM98.4 65l0.2 -0.4 0.5 -0.1 0.5 0 0.5 0.2 0.4 0.3 0.3 0.5 0.1 0.5 -0.1 0.5 -0.3 0.5 -0.4 0.2 -0.5 0.2 -0.5 0 -0.5 -0.1 -0.5 -0.5 -0.1 -0.3 0 -1 0.1 -0.4 0.3 -0.1zM41.5 112.4l0.6 -0.2 0.5 -0.1 1 0.1 0.5 0.3 0.5 0.4 0.4 0.5 0.2 0.5 0 0.5 0 0.5 -0.2 0.5 -0.3 0.5 -0.6 0.5 -1 0.4 -1 -0.1 -1 -0.5 -0.5 -0.6 -0.1 -0.7 0 -1 0.1 -0.6 0.5 -0.6 0.4 -0.3zM94.2 112.4l0.9 -0.3 0.5 0 0.5 0.1 1 0.5 0.5 0.6 0.1 0.6 0 1.5 -0.6 0.8 -1 0.5 -1 0.1 -1 -0.4 -0.6 -0.5 -0.3 -0.5 -0.2 -0.5 0 -0.5 0 -0.5 0.2 -0.5 0.4 -0.5 0.6 -0.5z"/>
<path fill="#0035ff" d="M37.8 65l0.8 -0.5 0.5 0 0.5 0.2 0.5 0.5 0.1 0.3 0 1 -0.1 0.3 -0.5 0.5 -0.5 0.1 -0.5 0 -0.8 -0.4 -0.3 -0.5 -0.1 -0.5 0.1 -0.5 0.3 -0.5zM98.4 65l0.2 -0.3 0.5 -0.2 0.5 0 0.8 0.5 0.3 0.5 0.1 0.5 -0.1 0.5 -0.3 0.5 -0.8 0.4 -0.5 0 -0.5 -0.1 -0.5 -0.5 -0.1 -0.3 0 -1 0.1 -0.3 0.3 -0.2zM41.6 112.4l0.5 -0.2 0.5 0 1 0.2 0.8 0.5 0.4 0.5 0.2 0.5 0 1 -0.2 0.5 -0.4 0.5 -0.6 0.5 -0.7 0.3 -1 -0.1 -1 -0.4 -0.5 -0.7 -0.1 -0.6 0 -1 0.1 -0.5 0.5 -0.7 0.5 -0.3zM94.5 112.4l0.6 -0.2 1 0 1 0.5 0.5 0.7 0.1 0.5 0 1.5 -0.6 0.8 -1 0.4 -1 0.1 -0.7 -0.3 -0.8 -0.6 -0.2 -0.4 -0.2 -0.5 0 -1 0.2 -0.5 0.4 -0.5 0.7 -0.5z"/>
<path fill="#002aff" d="M37.9 65l0.7 -0.4 0.5 0 0.5 0.1 0.5 0.5 0.1 0.3 0 1 -0.1 0.3 -0.5 0.4 -0.5 0.2 -0.5 -0.1 -0.7 -0.3 -0.3 -0.5 -0.2 -0.5 0.2 -0.5 0.3 -0.5zM98.4 65l0.2 -0.3 0.5 -0.1 0.5 0 0.7 0.4 0.3 0.5 0.2 0.5 -0.2 0.5 -0.3 0.5 -0.7 0.3 -0.5 0.1 -0.5 -0.2 -0.5 -0.4 -0.1 -0.3 0 -1 0.1 -0.3 0.3 -0.2zM41.8 112.4l0.8 -0.1 0.8 0.1 0.8 0.5 0.4 0.5 0.2 0.5 0.1 0.5 -0.1 0.5 -0.2 0.5 -0.4 0.5 -0.6 0.5 -0.5 0.2 -1 0 -1 -0.5 -0.5 -0.6 -0.1 -0.6 0 -1 0.1 -0.5 0.5 -0.6 0.7 -0.4zM94.8 112.4l0.8 -0.1 1 0.2 0.5 0.3 0.5 0.6 0.1 0.5 0 1 -0.1 0.6 -0.5 0.6 -0.5 0.3 -0.5 0.2 -1 0 -0.5 -0.2 -0.5 -0.3 -0.5 -0.7 -0.2 -0.5 -0.1 -0.5 0.1 -0.5 0.2 -0.5 0.4 -0.5 0.8 -0.5z"/>
<path fill="#0020ff" d="M38 65l0.6 -0.4 0.5 0 0.5 0.1 0.5 0.5 0 0.3 0 1 0 0.2 -0.5 0.5 -0.5 0.1 -0.5 0 -0.6 -0.3 -0.4 -0.5 -0.1 -0.5 0.1 -0.5 0.4 -0.5zM98.4 65l0.2 -0.3 0.5 -0.1 0.5 0 0.6 0.4 0.4 0.5 0.1 0.5 -0.1 0.5 -0.4 0.5 -0.6 0.3 -0.5 0 -0.5 -0.1 -0.5 -0.5 0 -0.2 0 -1 0 -0.3 0.3 -0.2zM41.9 112.4l0.7 0 1 0.2 0.4 0.3 0.4 0.5 0.2 0.5 0.1 0.5 -0.1 0.5 -0.2 0.5 -0.4 0.5 -0.4 0.4 -0.5 0.2 -0.5 0 -1 -0.1 -0.5 -0.3 -0.5 -0.7 -0.1 -1.5 0.1 -0.5 0.5 -0.6 0.5 -0.3 0.3 -0.1zM95.2 112.4l0.4 0 1 0.1 0.5 0.3 0.5 0.6 0.1 0.5 0 1 -0.1 0.5 -0.5 0.7 -0.5 0.3 -1 0.1 -1 -0.2 -0.4 -0.4 -0.4 -0.5 -0.2 -0.5 -0.1 -0.5 0.1 -0.5 0.2 -0.5 0.4 -0.5 0.4 -0.3 0.6 -0.2z"/>
<path fill="#0015ff" d="M38.1 65l0.5 -0.3 0.5 -0.1 0.5 0.1 0.5 0.5 0 0.3 0 1 0 0.2 -0.5 0.5 -0.5 0.1 -0.5 -0.1 -0.5 -0.2 -0.4 -0.5 -0.1 -0.5 0.1 -0.5 0.4 -0.5zM98.4 65l0.2 -0.3 0.5 -0.1 0.5 0.1 0.5 0.3 0.4 0.5 0.1 0.5 -0.1 0.5 -0.4 0.5 -0.5 0.2 -0.5 0.1 -0.5 -0.1 -0.5 -0.5 0 -0.2 0 -1 0 -0.3 0.3 -0.2zM41 112.9l0.6 -0.3 1 -0.2 0.5 0.1 0.7 0.4 0.4 0.5 0.3 0.5 0 0.5 0 0.5 -0.2 0.5 -0.5 0.5 -0.7 0.5 -0.5 0.1 -1 -0.2 -0.5 -0.3 -0.5 -0.6 -0.1 -0.5 0.1 -1.4 0.4 -0.6zM94.4 112.9l0.7 -0.4 0.5 -0.1 1 0.2 0.5 0.3 0.5 0.6 0.1 0.4 -0.1 1.5 -0.5 0.6 -0.5 0.3 -1 0.2 -0.5 -0.1 -0.5 -0.3 -0.5 -0.4 -0.4 -0.8 0 -0.5 0 -0.5 0.3 -0.5 0.4 -0.5z"/>
<path fill="#000bff" d="M38.1 65l0.5 -0.3 0.5 -0.1 0.5 0.2 0.5 0.4 0 0.3 0 1 0 0.2 -0.5 0.5 -0.5 0.1 -0.5 -0.1 -0.4 -0.2 -0.4 -0.5 -0.1 -0.5 0.1 -0.5 0.3 -0.5zM98.5 65l0.1 -0.2 0.5 -0.2 0.5 0.1 0.5 0.4 0.3 0.4 0.1 0.5 -0.1 0.5 -0.4 0.5 -0.4 0.2 -0.5 0.1 -0.5 -0.1 -0.5 -0.5 0 -0.2 0 -1 0 -0.3 0.4 -0.2zM41 112.9l0.6 -0.3 1 -0.1 0.5 0.1 0.5 0.3 0.5 0.5 0.2 0.5 0.1 0.5 -0.1 0.5 -0.2 0.5 -0.5 0.5 -0.5 0.4 -0.5 0.1 -1 -0.1 -0.5 -0.3 -0.5 -0.6 -0.1 -0.5 0.1 -1.4 0.4 -0.6zM94.6 112.9l0.5 -0.3 1 -0.1 0.5 0.1 0.5 0.3 0.5 0.6 0.1 0.4 -0.1 1.5 -0.5 0.6 -0.5 0.3 -1 0.1 -0.5 -0.1 -0.5 -0.3 -0.5 -0.5 -0.2 -0.6 -0.1 -0.5 0.1 -0.5 0.2 -0.5 0.5 -0.5z"/>
<path fill="#0000ff" d="M38.2 65l0.4 -0.2 0.5 -0.1 0.5 0.1 0.5 0.4 0 0.3 0 1 0 0.2 -0.5 0.4 -0.5 0.1 -0.5 -0.1 -0.4 -0.1 -0.4 -0.5 -0.1 -0.5 0.1 -0.5 0.4 -0.5zM98.5 65l0.1 -0.2 0.5 -0.1 0.5 0.1 0.4 0.2 0.4 0.5 0.1 0.5 -0.1 0.5 -0.4 0.5 -0.4 0.1 -0.5 0.1 -0.5 -0.1 -0.5 -0.4 0 -0.2 0 -1 0 -0.3 0.4 -0.2zM41.1 112.9l0.5 -0.2 1 -0.1 0.8 0.3 0.5 0.5 0.3 0.5 0 0.5 0 0.5 -0.3 0.5 -0.4 0.5 -0.9 0.4 -1 -0.1 -0.5 -0.3 -0.5 -0.5 -0.1 -0.5 0.1 -1.4 0.5 -0.6zM94.8 112.9l0.8 -0.3 1 0.1 0.5 0.2 0.5 0.6 0.1 0.4 -0.1 1.5 -0.5 0.5 -0.5 0.3 -1 0.1 -0.9 -0.4 -0.4 -0.5 -0.3 -0.5 0 -0.5 0 -0.5 0.3 -0.5 0.5 -0.5z"/>
<path fill="#0000f4" d="M38.3 65l0.8 -0.3 0.5 0.1 0.5 0.4 0 1.3 0 0.2 -0.5 0.4 -0.5 0.1 -0.5 -0.1 -0.3 -0.1 -0.4 -0.5 -0.1 -0.5 0.1 -0.5 0.4 -0.5zM98.5 65l0.1 -0.2 0.5 -0.1 0.5 0.1 0.3 0.2 0.4 0.5 0.1 0.5 -0.1 0.5 -0.4 0.5 -0.8 0.2 -0.5 -0.1 -0.5 -0.4 0 -1.2 0 -0.3 0.4 -0.2zM41.2 112.9l0.4 -0.2 0.5 -0.1 0.5 0.1 0.7 0.2 0.5 0.5 0.2 0.5 0.1 0.5 -0.1 0.5 -0.2 0.5 -0.5 0.5 -0.7 0.3 -0.5 0.1 -0.5 -0.1 -0.5 -0.3 -0.5 -0.6 -0.1 -0.4 0.1 -1.4 0.6 -0.6zM94.9 112.9l0.7 -0.2 0.5 -0.1 0.5 0.1 0.5 0.3 0.5 0.5 0.1 0.4 -0.1 1.4 -0.5 0.6 -0.5 0.3 -0.5 0.1 -0.5 -0.1 -0.7 -0.3 -0.5 -0.5 -0.2 -0.5 -0.1 -0.5 0.1 -0.5 0.2 -0.5 0.5 -0.5z"/>
<path fill="#0000ea" d="M38.4 65l0.7 -0.3 0.5 0.1 0.5 0.5 0 1.2 0 0.2 -0.5 0.4 -0.5 0.1 -0.5 -0.2 -0.6 -0.5 -0.2 -0.5 0.2 -0.5 0.4 -0.5zM98.5 65l0.1 -0.2 0.5 -0.1 0.5 0.2 0.6 0.6 0.2 0.5 -0.2 0.5 -0.4 0.5 -0.7 0.2 -0.5 -0.1 -0.5 -0.4 0 -1.2 0 -0.2 0.4 -0.3zM41.2 112.9l0.4 -0.2 0.5 0 0.5 0 0.5 0.2 0.6 0.5 0.2 0.5 0.1 0.5 -0.1 0.5 -0.2 0.5 -0.6 0.5 -0.5 0.3 -0.5 0 -0.5 0 -0.5 -0.3 -0.5 -0.6 -0.1 -0.4 0.1 -1.3 0.5 -0.6 0.1 -0.1zM95.1 112.9l0.5 -0.2 0.5 0 0.5 0 0.5 0.3 0.5 0.6 0.1 0.3 -0.1 1.4 -0.5 0.6 -0.5 0.3 -0.5 0 -0.5 0 -0.5 -0.3 -0.6 -0.5 -0.2 -0.5 -0.1 -0.5 0.1 -0.5 0.2 -0.5 0.6 -0.5z"/>
<path fill="#0000df" d="M38.5 65l0.6 -0.2 0.5 0 0.5 0.5 0 1.2 0 0.1 -0.5 0.5 -0.5 0.1 -0.5 -0.2 -0.6 -0.5 -0.1 -0.5 0.1 -0.5 0.5 -0.5zM98.5 65l0.1 -0.2 0.5 0 0.6 0.2 0.5 0.5 0.1 0.5 -0.1 0.5 -0.6 0.5 -0.5 0.2 -0.5 -0.1 -0.5 -0.5 0 -1.1 0 -0.2 0.4 -0.3zM41.3 112.9l0.3 -0.1 0.5 -0.1 0.5 0.1 0.5 0.2 0.4 0.4 0.3 0.5 0.1 0.5 -0.1 0.5 -0.3 0.5 -0.5 0.5 -0.9 0.3 -0.5 -0.1 -0.5 -0.3 -0.5 -0.5 -0.1 -0.4 0.1 -1.3 0.5 -0.6 0.2 -0.1zM95.3 112.9l0.8 -0.2 0.5 0.1 0.5 0.2 0.5 0.6 0.1 1.3 -0.1 0.4 -0.5 0.5 -0.5 0.3 -0.5 0.1 -0.9 -0.3 -0.5 -0.5 -0.3 -0.5 -0.1 -0.5 0.1 -0.5 0.3 -0.5 0.6 -0.5z"/>
<path fill="#0000d4" d="M38.6 65l0.5 -0.2 0.5 0.1 0.5 0.4 0 1.2 0 0.1 -0.5 0.5 -0.5 0 -0.5 -0.1 -0.5 -0.5 -0.1 -0.5 0.1 -0.5 0.5 -0.5zM98.6 65l0 -0.1 0.5 -0.1 0.5 0.2 0.5 0.5 0.1 0.5 -0.1 0.5 -0.5 0.5 -0.5 0.1 -0.5 0 -0.5 -0.5 0 -1.1 0 -0.2 0.5 -0.3zM41.4 112.9l0.2 -0.1 0.5 0 0.6 0.1 0.7 0.5 0.3 0.5 0.1 0.5 -0.1 0.5 -0.3 0.5 -0.6 0.5 -0.7 0.2 -0.5 0 -0.5 -0.3 -0.5 -0.5 0 -1.7 0.5 -0.5 0.3 -0.2zM95.5 112.9l0.6 -0.1 0.5 0 0.5 0.3 0.5 0.5 0 1.7 -0.5 0.5 -0.5 0.3 -0.5 0 -0.7 -0.2 -0.6 -0.5 -0.3 -0.5 -0.1 -0.5 0.1 -0.5 0.3 -0.5 0.7 -0.5z"/>
<path fill="#0000ca" d="M38.6 65l0.5 -0.2 0.5 0.1 0.5 0.4 0 1.2 0 0.1 -0.5 0.4 -0.5 0.1 -0.4 -0.1 -0.6 -0.5 -0.1 -0.5 0.1 -0.5 0.5 -0.5zM98.6 65l0.5 -0.2 0.5 0.2 0.5 0.5 0.1 0.5 -0.1 0.5 -0.6 0.5 -0.4 0.1 -0.5 -0.1 -0.5 -0.4 0 -1.1 0 -0.2 0.5 -0.3zM41.4 112.9l0.7 -0.1 0.5 0.1 0.7 0.5 0.3 0.5 0.1 0.5 -0.1 0.5 -0.3 0.5 -0.7 0.6 -0.5 0.1 -0.5 -0.1 -0.5 -0.2 -0.5 -0.6 0 -1.5 0.5 -0.6 0.3 -0.2zM95.6 112.9l0.5 -0.1 0.5 0.1 0.5 0.2 0.5 0.6 0 1.5 -0.5 0.6 -0.5 0.2 -0.5 0.1 -0.5 -0.2 -0.7 -0.5 -0.3 -0.5 -0.1 -0.5 0.1 -0.5 0.3 -0.5 0.7 -0.5z"/>
<path fill="#0000bf" d="M38.7 65l0.4 -0.1 0.5 0 0.5 0.4 0 1.2 0 0.1 -0.5 0.4 -0.5 0.1 -0.4 -0.1 -0.5 -0.5 -0.1 -0.5 0.1 -0.5 0.5 -0.5zM98.6 65l0.5 -0.1 0.4 0.1 0.5 0.5 0.1 0.5 -0.1 0.5 -0.5 0.5 -0.4 0.1 -0.5 -0.1 -0.5 -0.4 0 -1.1 0 -0.2 0.5 -0.3zM41.5 112.9l0.6 0 0.5 0.1 0.6 0.4 0.3 0.5 0.1 0.5 -0.1 0.5 -0.3 0.5 -0.6 0.5 -0.5 0.1 -0.5 0 -0.5 -0.3 -0.5 -0.5 0 -1.5 0.5 -0.6 0.4 -0.2zM95.9 112.9l0.7 0 0.5 0.2 0.5 0.6 0 1.5 -0.5 0.5 -0.5 0.3 -0.5 0 -0.5 -0.1 -0.6 -0.5 -0.3 -0.5 -0.1 -0.5 0.1 -0.5 0.4 -0.6 0.8 -0.4z"/>
<path fill="#0000b5" d="M38.8 65l0.3 -0.1 0.5 0 0.5 0.4 0 1.2 0 0.1 -0.5 0.4 -0.5 0 -0.3 0 -0.2 -0.2 -0.4 -0.3 -0.1 -0.5 0.1 -0.5 0.6 -0.5zM98.6 65l0.5 -0.1 0.3 0.1 0.6 0.5 0.1 0.5 -0.1 0.5 -0.4 0.3 -0.5 0.2 -0.5 0 -0.5 -0.4 0 -0.1 0 -1.2 0.5 -0.3zM41.8 112.9l0.8 0.2 0.5 0.3 0.3 0.5 0.1 0.5 -0.1 0.5 -0.3 0.5 -0.5 0.4 -0.5 0.2 -0.5 -0.1 -0.5 -0.2 -0.5 -0.5 -0.1 -0.3 0.1 -1.2 0.5 -0.5 0.5 -0.2 0.2 -0.1zM96.1 112.9l0.5 0.1 0.5 0.2 0.5 0.5 0.1 0.2 -0.1 1.3 -0.5 0.5 -0.5 0.2 -0.5 0.1 -0.5 -0.2 -0.5 -0.4 -0.3 -0.5 -0.1 -0.5 0.1 -0.5 0.3 -0.5 0.5 -0.3 0.5 -0.2z"/>
<path fill="#0000aa" d="M38.9 65l0.7 0 0.5 0.5 0 1.1 -0.5 0.4 -0.7 0 -0.3 -0.2 -0.3 -0.3 -0.1 -0.5 0.1 -0.5 0.3 -0.3 0.3 -0.2zM98.6 65l0.7 0 0.3 0.2 0.3 0.3 0.1 0.5 -0.1 0.5 -0.3 0.3 -0.5 0.2 -0.5 0 -0.5 -0.5 0 -1.2 0.5 -0.3zM40.9 113.4l0.2 -0.2 0.5 -0.2 0.5 0 0.5 0.1 0.4 0.3 0.3 0.5 0.1 0.5 -0.1 0.5 -0.3 0.5 -0.4 0.4 -0.5 0.1 -0.5 0 -0.5 -0.2 -0.5 -0.6 -0.1 -0.2 0.1 -1.2 0.3 -0.3zM95.2 113.4l0.4 -0.3 0.5 -0.1 0.5 0 0.5 0.2 0.5 0.5 0 1.4 -0.5 0.6 -0.5 0.2 -0.5 0 -0.5 -0.1 -0.4 -0.4 -0.3 -0.5 -0.1 -0.5 0.1 -0.5 0.3 -0.5z"/>
<path fill="#00009f" d="M39 65l0.6 0 0.5 0.5 0 1.1 -0.5 0.3 -0.5 0.1 -0.5 -0.3 -0.3 -0.2 -0.1 -0.5 0.1 -0.5 0.3 -0.3 0.4 -0.2zM98.8 65l0.3 -0.1 0.5 0.3 0.3 0.3 0.1 0.5 -0.1 0.5 -0.3 0.2 -0.5 0.3 -0.5 -0.1 -0.5 -0.4 0 -1.1 0.5 -0.4 0.2 0zM40.9 113.4l0.2 -0.2 0.5 -0.1 0.5 -0.1 0.5 0.2 0.3 0.2 0.3 0.5 0.1 0.5 -0.1 0.5 -0.3 0.5 -0.3 0.3 -0.5 0.1 -0.5 0 -0.5 -0.1 -0.5 -0.6 -0.1 -0.2 0.1 -1.1 0.3 -0.4zM95.3 113.4l0.3 -0.2 0.5 -0.2 0.5 0.1 0.5 0.1 0.5 0.6 0 1.3 -0.5 0.6 -0.5 0.1 -0.5 0 -0.5 -0.1 -0.3 -0.3 -0.3 -0.5 -0.1 -0.5 0.1 -0.5 0.3 -0.5z"/>
<path fill="#000095" d="M38.4 65.5l0.2 -0.3 0.5 -0.2 0.5 0.1 0.5 0.3 0 1.1 -0.5 0.3 -0.5 0.1 -0.5 -0.2 -0.2 -0.2 -0.1 -0.5 0.1 -0.5zM98.1 65.5l0.5 -0.4 0.5 -0.1 0.5 0.2 0.2 0.3 0.1 0.5 -0.1 0.5 -0.2 0.2 -0.5 0.2 -0.5 -0.1 -0.5 -0.3 0 -1zM40.9 113.4l0.2 -0.1 1 -0.2 0.7 0.3 0.3 0.5 0.2 0.5 -0.1 0.5 -0.4 0.5 -0.2 0.2 -0.5 0.2 -0.5 0 -0.5 -0.2 -0.5 -0.5 -0.1 -0.2 0.1 -1.1 0.3 -0.4zM95.4 113.4l0.7 -0.3 0.5 0 0.5 0.2 0.5 0.5 0 1.3 -0.5 0.5 -0.5 0.2 -0.5 0 -0.5 -0.2 -0.2 -0.2 -0.4 -0.5 -0.1 -0.5 0.2 -0.5 0.3 -0.5z"/>
<path fill="#00008a" d="M38.4 65.5l0.2 -0.2 0.5 -0.2 0.5 0 0.5 0.3 0 1.1 -0.5 0.3 -0.5 0 -0.5 -0.2 -0.2 -0.1 -0.1 -0.5 0.1 -0.5zM98.1 65.5l0.5 -0.4 0.5 0 0.5 0.2 0.2 0.2 0.1 0.5 -0.1 0.5 -0.2 0.1 -0.5 0.2 -0.5 0 -0.5 -0.3 0 -1zM40.9 113.4l0.2 -0.1 1 -0.1 0.6 0.2 0.4 0.5 0.1 0.5 -0.1 0.5 -0.4 0.5 -0.6 0.3 -0.5 0 -0.5 -0.1 -0.5 -0.5 0 -1.3 0.3 -0.4zM95.5 113.4l0.6 -0.2 0.5 0 0.5 0.1 0.5 0.5 0 1.3 -0.5 0.5 -1 0.1 -0.6 -0.3 -0.4 -0.5 -0.1 -0.5 0.1 -0.5 0.4 -0.5z"/>
<path fill="#000080" d="M38.4 65.5l0.7 -0.3 0.5 0 0.5 0.2 0 1.1 -0.5 0.2 -0.5 0.1 -0.5 -0.2 -0.2 -0.1 0 -0.5 0 -0.5zM98.1 65.5l0.5 -0.3 0.5 0 0.5 0.1 0.2 0.2 0 0.5 0 0.5 -0.7 0.3 -0.5 -0.1 -0.5 -0.2 0 -1zM41 113.4l0.1 -0.1 1 -0.1 0.5 0.2 0.4 0.5 0.1 0.5 -0.1 0.5 -0.4 0.5 -0.5 0.3 -0.5 0 -0.5 -0.1 -0.5 -0.6 0 -1.2 0.4 -0.4zM95.6 113.4l0.5 -0.2 1 0.1 0.5 0.5 0 1.2 -0.5 0.6 -1 0.1 -0.5 -0.3 -0.4 -0.5 -0.1 -0.5 0.1 -0.5 0.4 -0.5z"/></g>
<g fill="none" stroke="#101010" stroke-width="0.6" stroke-opacity="0.65" stroke-linejoin="round"><path d="M66.4 11l2.7 -0.1 3 0.1 2.5 0.3 3 0.6 3 0.8 2.5 1 2.5 1.1 2 1.1 2.5 1.7 2 1.6 2 1.8 1.5 1.7 1.5 1.9 1.5 2.3 1.2 2.1 1.1 2.5 0.9 3 0.7 3.5 0.2 3.5 -0.1 3.5 -0.3 2.5 -0.6 3 -0.9 3.5 -2.2 7.5 -0.5 2.2 -0.2 2.3 0.2 2.3 1.2 5.2 0.4 2.5 0.2 2 -0.1 2 -0.2 1.5 -0.3 1 -0.5 1 -0.6 1 -0.6 0.6 -1 0.8 -1 0.6 -1 0.5 -2 0.5 -2.5 0.5 -3 0.3 -4 0.1 -6.5 0.1 -17 0 -5.5 -0.1 -4 -0.2 -2.5 -0.3 -2 -0.4 -1.5 -0.4 -1.5 -0.6 -1 -0.6 -1.2 -0.9 -0.8 -1.2 -0.7 -1.3 -0.3 -1 -0.2 -1.5 -0.1 -1.5 0.1 -1.5 0.4 -3 1.3 -5.7 0.2 -1.8 0 -1 -0.2 -1.8 -0.5 -2.2 -2.2 -7.5 -1 -4 -0.6 -3.5 -0.3 -3.5 0 -3 0.4 -3 0.6 -3 0.8 -2.5 0.9 -2 1 -2 1.4 -2.2 1.3 -1.8 1.7 -1.9 1.5 -1.5 1.5 -1.3 2 -1.6 2 -1.3 2 -1.1 2 -0.9 2.5 -1 2 -0.6 2.5 -0.6 2.5 -0.5 2.3 -0.2M22.9 98.4l1.6 -0.2 1.5 -0.1 1.5 0.2 1 0.1 1 0.3 1.5 0.7 1 0.7 1 0.8 1 1 1.6 1.7 1.5 2.2 1 1.7 1 2.1 0.5 1.3 0.5 1.6 0.2 1.9 -0.2 1.9 -0.4 1.1 -0.6 1.7 -0.5 1 -1 1.7 -1 1.3 -1.5 1.7 -1.6 1.4 -1.5 1.1 -1.5 0.9 -1.5 0.8 -1.5 0.6 -1.5 0.5 -1.5 0.3 -1.5 0.1 -1.5 0 -1.5 -0.1 -1.5 -0.3 -2.5 -0.9 -1.5 -0.8 -1 -0.6 -1 -0.9 -1 -1 -1 -1.1 -0.9 -1.4 -0.5 -1 -0.6 -1.5 -0.5 -1.5 -0.3 -1.5 -0.1 -1.5 0 -1.5 0.2 -1.5 0.3 -1.5 0.8 -2.5 1.3 -2.5 1.1 -1.5 0.9 -1 2.1 -2 1.4 -1 1.3 -0.8 1.5 -0.7 1.5 -0.7 2.9 -0.8M109.7 98.4l1.5 -0.2 1.5 -0.1 1.5 0.2 1.5 0.2 1.5 0.4 1.5 0.5 1.5 0.7 1.5 0.8 1.5 1 1.3 1 2 2 0.8 1 1 1.5 0.8 1.5 0.6 1.5 0.4 1.5 0.3 1.5 0.2 1.5 0 1.5 -0.1 1.5 -0.3 1.5 -0.9 2.5 -0.7 1.5 -0.7 1 -0.7 1 -1 1.1 -1.1 0.9 -1.4 1 -1 0.6 -1.5 0.7 -1.5 0.4 -1.5 0.3 -1.5 0.1 -2 0 -2 -0.3 -1.5 -0.4 -1.5 -0.6 -1.5 -0.7 -1.5 -0.9 -1.5 -1 -1.6 -1.3 -1.5 -1.6 -1 -1.2 -1 -1.5 -1 -1.9 -0.5 -1.2 -0.5 -1.6 -0.2 -1.4 0 -1 0.2 -1 0.5 -2 0.5 -1.3 1.5 -3 2 -3 1.6 -1.7 1 -1 1 -0.8 1 -0.7 1.5 -0.7 1 -0.3M63.8 31l2.3 -0.3 2.5 -0.1 2.5 0 2.5 0.3 2.5 0.4 2 0.5 2.5 0.7 2 0.8 2 1 2 1.1 2 1.4 1.5 1.2 1.5 1.4 1.5 1.7 1.5 1.9 1 1.7 1 2 0.9 2.3 0.6 2.4 0.4 2.6 0.1 2 0 2.5 -0.7 7.5 0.4 5.5 0 2.5 -0.1 1.5 -0.4 1.5 -0.5 1.5 -0.5 1 -0.7 1 -1 1.1 -1 0.8 -1 0.7 -2 0.9 -2 0.7 -2.5 0.4 -3.5 0.4 -5.5 0.1 -15 0 -4.5 0 -3.5 -0.2 -2.5 -0.2 -2.5 -0.4 -2 -0.6 -1.5 -0.6 -1.5 -0.8 -1.2 -0.8 -0.9 -1 -1.1 -1.5 -0.5 -1 -0.5 -1.5 -0.4 -1.5 -0.1 -1.5 0 -2.5 0.4 -5.5 -0.6 -6.5 -0.2 -3 0.2 -2.5 0.4 -2.6 0.6 -2.4 1 -2.5 1.4 -2.7 1 -1.4 1 -1.4 2.5 -2.5 1.5 -1.3 1.5 -1.1 3 -1.8 3.5 -1.6 3.5 -1.1 3.2 -0.6M29.2 104.9l1.8 0 1.5 0.2 1 0.3 1.1 0.5 1.5 1 1.5 1.4 1 1.2 0.5 0.9 0.5 0.9 0.5 1.4 0.2 1.2 -0.1 1.5 -0.1 0.7 -0.5 1.4 -1 1.7 -1 1.2 -1.5 1.3 -1.5 0.9 -1.6 0.6 -1.5 0.3 -2 0 -1.5 -0.3 -1 -0.3 -0.9 -0.5 -1.5 -1 -1 -1 -1 -1.5 -0.7 -1.5 -0.4 -2 -0.1 -1.5 0.3 -2 0.8 -2 1 -1.5 1 -1.1 1.5 -1.2 1.5 -0.7 1.7 -0.5M106.4 104.9l1.8 0 1 0.1 1 0.2 1.5 0.6 1.5 1 1.1 1.1 1.1 1.5 0.7 1.5 0.6 2 0.1 1.5 -0.2 2 -0.7 2 -0.9 1.5 -1.3 1.5 -1.5 1 -1.5 0.7 -1.5 0.3 -1.5 0.1 -2 -0.2 -2.1 -0.7 -1.5 -0.9 -1.5 -1.3 -1 -1.2 -1 -1.7 -0.5 -1.4 -0.1 -0.7 -0.1 -1 0.2 -1.7 0.5 -1.4 0.5 -0.9 1 -1.5 1.5 -1.6 1.5 -1.1 1.6 -0.8 1.7 -0.5M67 39.5l4.1 0 2.5 0.2 2 0.3 4 0.8 2 0.7 2 0.7 2 1 1.5 0.8 1.5 0.9 1.5 1.1 1.5 1.3 1.5 1.5 1 1.3 1 1.4 1 1.8 0.7 1.7 0.7 2 0.3 2 0.2 3 -0.1 4 0.1 3 -0.1 2 -0.2 1.5 -0.3 1.5 -0.6 1.5 -0.5 1 -0.7 0.9 -1 1.2 -1 0.8 -1 0.7 -2 1.1 -2 0.6 -2.5 0.5 -3 0.4 -4 0.1 -10 -0.1 -9.5 0.1 -4.5 -0.1 -2.5 -0.3 -2 -0.3 -2 -0.6 -1.5 -0.6 -1.5 -0.8 -1.5 -1.1 -1 -1 -1 -1.3 -0.5 -0.9 -0.6 -1.3 -0.4 -1.6 -0.3 -1.4 -0.1 -2 0.1 -3.5 -0.1 -3.5 0 -2 0.4 -2.7 0.6 -2.3 0.9 -2.2 1.5 -2.5 2 -2.5 2 -1.9 2.5 -1.8 3 -1.7 3 -1.3 3.5 -1 3.5 -0.7 3.9 -0.4M30.9 107.9l1.1 -0.3 1.5 0 1.6 0.2 1.5 0.7 1 0.7 1 1 1 1.5 0.5 1.2 0.2 1 0 1 -0.2 1 -0.5 1.3 -0.5 0.8 -1 1.1 -1.5 1.1 -1 0.5 -1.6 0.3 -1 0.1 -1.5 -0.2 -1.2 -0.5 -0.9 -0.5 -1.1 -1 -0.8 -1 -0.7 -1.5 -0.2 -1 -0.1 -1.5 0.3 -1.5 0.4 -1 0.5 -1 0.9 -1 0.9 -0.8 1.4 -0.7M102.9 107.9l1.3 -0.3 1 -0.1 1.5 0.2 1 0.4 1 0.5 1 0.9 0.8 0.9 0.8 1.5 0.3 1.5 0.1 1.5 -0.3 1.5 -0.5 1 -0.6 1 -0.9 1 -1.2 0.9 -1 0.4 -1.5 0.4 -1.5 -0.1 -1.6 -0.3 -1 -0.5 -1 -0.6 -1 -1 -1 -1.4 -0.5 -1.3 -0.2 -1 0 -1 0.2 -1 0.5 -1.2 1 -1.5 1 -1 1 -0.7 1.3 -0.6M61.6 46l4.5 -0.4 5 -0.1 4.5 0.3 4.5 0.8 4 1.1 3 1.2 1.5 0.7 1.5 0.9 1.5 1.1 1 0.8 1 1 1 1.1 1.5 2.3 1 2.3 0.4 1.4 0.3 1.5 0.1 2 0 4 -0.3 2.6 -0.5 1.7 -0.5 1.2 -0.5 0.9 -1 1.3 -1 1 -1.5 1 -1 0.6 -1.5 0.6 -1.5 0.5 -2 0.4 -2 0.2 -2 0.1 -13 -0.4 -4 0.1 -8 0.3 -4.5 -0.2 -2.5 -0.3 -2.5 -0.7 -2 -0.9 -1 -0.6 -1 -0.7 -1.5 -1.6 -1 -1.6 -0.8 -2 -0.4 -2 -0.1 -1.5 0 -3.5 0.1 -2.5 0.3 -1.5 0.4 -1.4 1 -2.3 1.5 -2.3 1.5 -1.6 2 -1.7 2.5 -1.6 2.5 -1.2 3 -1.1 3 -0.7 3.5 -0.6M32.5 109.4l1 -0.3 1.1 -0.1 1 0.1 1 0.2 1 0.5 1 0.8 0.5 0.6 0.7 1.2 0.3 0.6 0.2 1.4 -0.2 1.5 -0.5 1 -0.5 0.8 -1 0.9 -1 0.6 -1 0.4 -1 0.2 -1.1 -0.1 -1.2 -0.3 -1 -0.5 -0.8 -0.6 -0.7 -0.9 -0.6 -1 -0.3 -1 -0.1 -1 0.1 -1 0.3 -1 0.5 -1 0.8 -1 0.6 -0.5 0.9 -0.5M101.5 109.4l1.1 -0.3 1 -0.1 1.1 0.1 1 0.3 0.9 0.5 0.6 0.5 0.8 1 0.5 1 0.3 1 0.1 1 -0.1 1 -0.3 1 -0.6 1 -0.3 0.5 -0.9 0.9 -1 0.5 -1 0.3 -1.1 0.2 -1.5 -0.2 -1 -0.4 -1 -0.6 -1 -0.9 -0.5 -0.8 -0.5 -1 -0.2 -1 0 -1 0.2 -0.9 0.5 -1.1 0.5 -0.7 0.5 -0.6 1 -0.8 0.9 -0.4M57.2 51l3.9 -0.3 5.5 -0.2 7.5 0 5 0.3 3.5 0.4 3 0.6 2.5 0.8 2.5 1.1 2 1.2 1 0.8 1 1 1.5 1.9 0.5 0.9 0.6 1.5 0.4 1.4 0.2 1.1 0.1 1.5 0 2.5 -0.2 1.5 -0.2 1 -0.4 1 -0.5 1.1 -0.5 0.8 -1 1.2 -1 0.9 -1.5 0.9 -1.5 0.7 -1.5 0.5 -1.5 0.3 -1.5 0.2 -2 0 -2 0 -9 -0.9 -4.5 -0.2 -4.5 0.2 -8.5 0.9 -3.5 0 -2 -0.1 -2 -0.4 -1.5 -0.5 -1.5 -0.7 -1.5 -0.9 -1.5 -1.5 -1 -1.4 -0.5 -1.1 -0.4 -1 -0.2 -1 -0.2 -1.5 0 -3.5 0.4 -2 0.6 -2 0.8 -1.4 1.5 -1.9 1.5 -1.4 2 -1.3 2 -1 2.5 -0.9 2.5 -0.6 3.1 -0.5M34.9 109.9l1.2 0 1 0.2 1 0.5 0.5 0.4 1 1.1 0.5 1 0.1 0.8 0 1 -0.1 0.9 -0.5 1 -0.5 0.6 -1 0.8 -1 0.5 -0.5 0.1 -1 0.1 -1 -0.1 -1 -0.4 -0.6 -0.3 -0.7 -0.7 -0.4 -0.5 -0.3 -0.5 -0.4 -1 -0.1 -1 0.1 -1 0.1 -0.5 0.5 -1 0.4 -0.5 0.8 -0.7 1 -0.5 0.9 -0.3M102.1 109.9l0.5 0 1 0.1 1.1 0.4 0.8 0.5 0.5 0.5 0.7 1 0.2 0.5 0.2 1 -0.1 1.5 -0.4 1 -0.4 0.7 -0.8 0.8 -0.7 0.5 -0.5 0.2 -1.1 0.3 -1 0 -1 -0.2 -1 -0.5 -0.5 -0.3 -1 -1.1 -0.5 -1 -0.1 -0.9 0 -1 0.1 -0.8 0.5 -1 0.5 -0.6 0.5 -0.5 1 -0.7 0.5 -0.2 1 -0.2M50.3 55l2.8 -0.4 3 -0.1 3 0.2 7 0.6 3.5 0.1 3.5 -0.2 7 -0.6 3 -0.1 3 0.2 3 0.6 2.5 0.9 2 1.1 1.5 1.3 1 1.2 0.5 0.8 0.7 1.4 0.3 1.1 0.2 0.9 0.1 3 -0.3 1.8 -0.5 1.4 -0.5 1 -1 1.3 -1 0.9 -1 0.7 -1.5 0.7 -1.5 0.4 -1.5 0.3 -2.5 0.1 -2.5 -0.2 -2.8 -0.4 -7.7 -1.8 -2.5 -0.3 -2 -0.1 -2 0.1 -2.5 0.3 -7.7 1.8 -3.3 0.5 -2 0.1 -1.5 0 -1.5 -0.2 -1.5 -0.3 -1.5 -0.5 -1.5 -0.9 -1.5 -1.2 -1 -1.3 -0.5 -1 -0.3 -0.7 -0.4 -1.5 -0.1 -2 0.1 -2 0.2 -0.9 0.3 -1.1 0.7 -1.4 1 -1.4 1 -1.1 1.5 -1.1 1.5 -0.8 2 -0.8 1.7 -0.4M34.5 110.9l0.6 -0.2 1 -0.2 1 0.1 0.5 0.1 1 0.6 0.5 0.4 0.5 0.6 0.5 0.9 0.2 1.2 -0.2 1.3 -0.5 0.9 -0.5 0.6 -1 0.7 -0.5 0.2 -1 0.2 -1 -0.1 -0.5 -0.1 -1.3 -0.7 -0.5 -0.5 -0.6 -1 -0.3 -1 0 -0.5 0 -0.5 0.2 -1 0.6 -1 0.5 -0.5 0.8 -0.5M100.2 110.9l0.4 -0.2 1 -0.2 1 0.1 0.5 0.1 0.6 0.2 0.8 0.5 0.8 1 0.3 0.5 0.2 1 0 1 -0.1 0.5 -0.4 1 -0.4 0.5 -0.5 0.5 -0.8 0.5 -0.5 0.2 -1 0.2 -1 -0.1 -0.5 -0.1 -1 -0.5 -0.5 -0.4 -0.5 -0.6 -0.5 -0.9 -0.2 -1.3 0.2 -1.2 0.5 -0.9 0.5 -0.6 0.5 -0.4 0.6 -0.4M50.2 57l1.9 0 1.5 0.1 2 0.4 2 0.6 2.3 0.9 2.1 1 5.1 2.7 1 0.5 1 0.1 1 -0.1 1 -0.5 4.1 -2.2 3.1 -1.5 3.3 -1.2 2.5 -0.6 2 -0.2 2.5 0 2 0.3 2 0.7 1.5 0.8 1.5 1.2 1 1.3 0.5 0.9 0.4 0.8 0.3 1.5 0.1 2 -0.3 1.8 -0.5 1.4 -1 1.5 -1 0.9 -1 0.7 -1.5 0.7 -1.5 0.4 -1.5 0.1 -2 0 -1.5 -0.2 -1.3 -0.3 -3.2 -1.1 -1.9 -0.9 -1.9 -1 -6.7 -4.2 -1.5 -0.6 -1 0 -1 0.4 -1 0.5 -4.6 2.9 -2.5 1.5 -2 1 -2.4 0.9 -2.5 0.8 -2 0.3 -2 0 -2 -0.2 -2 -0.7 -1.5 -1 -1 -0.9 -1 -1.5 -0.5 -1.4 -0.3 -1.3 0 -2 0.3 -1.4 0.5 -1.4 1 -1.6 1 -1 1 -0.8 1.5 -0.8 1.5 -0.5 1.5 -0.4 1.6 -0.1M35 111.4l0.6 -0.2 1 -0.2 1 0.1 0.5 0.1 1 0.7 0.5 0.5 0.5 0.8 0.2 1.2 -0.2 1.2 -0.5 0.9 -0.5 0.5 -0.5 0.4 -0.5 0.2 -1 0.2 -1 0 -0.5 -0.2 -0.5 -0.2 -0.7 -0.5 -0.7 -1 -0.4 -1 0 -1 0.1 -0.5 0.5 -1 0.5 -0.5 0.6 -0.5M99.8 111.4l0.3 -0.2 1 -0.2 1 0.1 0.5 0.1 0.6 0.2 0.6 0.5 0.8 1 0.3 1 0 1 -0.2 0.5 -0.5 1 -0.4 0.5 -0.7 0.5 -0.5 0.2 -1 0.2 -1 0 -0.5 -0.2 -1 -0.6 -0.5 -0.5 -0.5 -0.9 -0.2 -1.2 0.2 -1.2 0.5 -0.8 0.5 -0.5 0.7 -0.5M45.8 59l1.3 -0.3 1.5 -0.1 1.5 0.1 1.5 0.3 1.5 0.4 1.1 0.6 1.4 0.8 0.8 0.7 0.5 0.5 0.7 1 0.5 1 0.1 1 0 1 -0.3 1 -0.6 1 -0.8 1 -1.7 1.5 -1.6 1 -2.1 0.8 -2 0.4 -2 0.1 -1 -0.1 -1 -0.3 -1.5 -0.6 -1 -0.7 -0.5 -0.5 -1 -1.3 -0.5 -1.3 -0.2 -0.5 -0.1 -2 0.3 -1.6 0.5 -1.3 0.5 -0.8 1 -1.1 1.5 -1 1.7 -0.7M86.6 59l1.5 -0.3 1.5 -0.1 1.5 0.1 1 0.2 1.5 0.5 1 0.6 1 0.7 1 1.1 0.7 1.2 0.5 1.5 0.1 1.5 -0.1 1.5 -0.5 1.5 -0.7 1 -0.5 0.6 -1 0.9 -1.5 0.8 -1 0.3 -1 0.2 -2 0 -1.9 -0.3 -2.1 -0.8 -2 -1.1 -1.4 -1.1 -1.3 -1.5 -0.6 -1 -0.3 -1.5 0 -1 0.1 -0.5 0.5 -1 0.7 -1 0.5 -0.5 1.3 -1 1.5 -0.9 2 -0.6M36.4 111.4l1.2 0 1 0.3 0.5 0.3 0.5 0.5 0.5 0.8 0.2 1.1 -0.2 1.2 -0.5 0.8 -0.5 0.4 -1 0.6 -1 0.1 -0.5 -0.1 -1 -0.3 -0.8 -0.7 -0.6 -1 -0.2 -1 0.1 -0.5 0.3 -1 0.3 -0.5 0.6 -0.5 1.1 -0.5M100.5 111.4l0.6 0 0.5 0 0.5 0.1 0.8 0.4 0.6 0.5 0.3 0.5 0.3 1 0 1 -0.1 0.5 -0.4 0.7 -0.7 0.8 -0.8 0.4 -0.5 0.1 -0.5 0.1 -1 -0.1 -1 -0.6 -0.5 -0.4 -0.5 -0.8 -0.1 -0.7 -0.1 -0.5 0.2 -1.1 0.5 -0.8 0.5 -0.5 0.5 -0.3 0.9 -0.3M45.2 60l1.4 -0.2 1.5 0 1.5 0.3 1 0.3 1 0.6 1 0.6 0.8 0.9 0.7 1 0.4 1 0.1 1 -0.1 1 -0.3 1 -0.6 1 -0.9 1 -1.1 0.9 -1.1 0.6 -1.4 0.5 -1.5 0.3 -1.5 0.1 -1.5 -0.3 -1.5 -0.7 -1 -0.7 -0.5 -0.5 -0.8 -1.2 -0.2 -0.7 -0.2 -0.8 -0.1 -1.5 0.3 -1.4 0.5 -1.2 0.5 -0.7 1 -1 1.5 -0.9 1.1 -0.3M89 60l1.1 -0.2 1 -0.1 1 0.1 1.5 0.3 1 0.5 1 0.6 1 1 0.5 0.7 0.5 1.2 0.2 0.9 0.1 1.5 -0.3 1.3 -0.5 1.2 -0.5 0.7 -1 0.9 -1 0.6 -1.5 0.5 -1.5 0.2 -1.5 -0.1 -1.5 -0.4 -1.5 -0.7 -1 -0.7 -1.1 -1 -1 -1.5 -0.3 -1 -0.1 -1.5 0.3 -1 0.5 -1 0.8 -1 1.4 -1 1 -0.6 1.4 -0.4M36.2 111.9l0.9 -0.2 0.5 -0.1 1 0.3 0.5 0.3 0.5 0.4 0.5 0.8 0.2 1 -0.1 0.5 -0.1 0.6 -0.5 0.8 -0.5 0.4 -1 0.5 -1 0 -1 -0.3 -0.6 -0.5 -0.4 -0.5 -0.4 -1 -0.1 -1 0.2 -0.5 0.6 -1 0.8 -0.5M99.6 111.9l0.5 -0.2 0.5 -0.1 1 0.2 0.5 0.2 0.7 0.4 0.6 1 0.2 1 -0.2 1 -0.7 1 -0.7 0.5 -0.9 0.3 -0.5 0 -1 -0.2 -0.5 -0.3 -0.5 -0.4 -0.5 -0.8 -0.2 -1.1 0.2 -1 0.5 -0.8 0.5 -0.4 0.5 -0.3M43.9 61l1.2 -0.3 1 -0.1 1 0.1 1.3 0.3 1.1 0.5 0.8 0.5 0.6 0.5 0.8 1 0.2 0.5 0.3 1 0.1 1 -0.2 1 -0.2 0.5 -0.6 1 -0.9 1 -0.7 0.5 -1.1 0.6 -1 0.3 -1.5 0.2 -1 0 -1.5 -0.4 -1 -0.5 -1 -0.8 -0.5 -0.7 -0.5 -1 -0.3 -1.2 0 -1 0.3 -1.3 0.5 -1 1 -1.2 1 -0.7 0.8 -0.3M89.8 61l1.3 -0.3 1 -0.1 1 0.1 1 0.2 1.5 0.7 1 0.9 0.5 0.7 0.5 1 0.2 0.8 0.1 1 -0.1 1 -0.2 0.7 -0.5 1 -0.5 0.7 -1 0.8 -1 0.5 -1.5 0.4 -1 0 -1.5 -0.2 -1.2 -0.4 -1.3 -0.8 -0.8 -0.7 -0.7 -1 -0.5 -1 -0.2 -1 0.1 -1 0.3 -1 0.6 -1 0.7 -0.8 1.1 -0.7 1.1 -0.5M37.2 111.9l0.9 0 1 0.4 0.5 0.4 0.5 0.7 0.1 0.5 0.1 0.5 -0.1 0.5 -0.1 0.5 -0.5 0.8 -0.5 0.4 -1 0.3 -1 0 -1 -0.5 -0.5 -0.5 -0.3 -0.5 -0.2 -0.5 0 -1 0.2 -0.5 0.3 -0.5 0.5 -0.5 0.5 -0.3 0.6 -0.2M100.1 111.9l0.5 0 0.5 0.1 0.5 0.1 0.5 0.3 0.5 0.5 0.3 0.5 0.2 0.5 0 1 -0.2 0.5 -0.3 0.5 -0.5 0.5 -1 0.5 -1 0 -1 -0.3 -0.5 -0.4 -0.5 -0.8 -0.1 -0.5 -0.1 -0.5 0.1 -0.5 0.1 -0.5 0.5 -0.7 0.5 -0.4 1 -0.4M43.8 61.5l0.8 -0.2 1 -0.1 1 0.2 1 0.3 1 0.5 0.9 0.8 0.4 0.5 0.5 1 0.2 1 0 0.5 -0.1 1 -0.2 0.5 -0.7 1 -0.4 0.5 -0.6 0.5 -1 0.5 -1 0.4 -1 0.1 -1 0 -1 -0.2 -1 -0.4 -1 -0.8 -0.5 -0.6 -0.5 -1 -0.3 -1 0 -1 0.3 -1.1 0.5 -1 0.5 -0.6 0.5 -0.5 1 -0.6 0.7 -0.2M91.3 61.5l0.8 -0.2 1 0 1 0.1 1 0.3 1 0.6 0.5 0.5 0.5 0.6 0.5 1 0.3 1.6 -0.3 1.5 -0.5 1 -0.5 0.6 -0.5 0.5 -1 0.5 -1 0.3 -1 0.1 -1 0 -1 -0.3 -1 -0.4 -1 -0.7 -0.5 -0.6 -0.7 -1 -0.3 -1 0 -1 0.2 -1 0.2 -0.5 0.6 -0.9 0.7 -0.6 0.8 -0.6 1.2 -0.4M36.6 112.4l0.5 -0.2 1 -0.1 0.5 0.1 1 0.6 0.5 0.7 0.2 0.9 -0.2 1 -0.5 0.7 -1 0.6 -1 0.1 -1 -0.4 -0.6 -0.5 -0.3 -0.5 -0.2 -0.5 0 -1 0.2 -0.5 0.3 -0.5 0.6 -0.5M99.1 112.4l0.5 -0.2 0.5 -0.1 1 0.1 0.5 0.3 0.5 0.4 0.4 0.5 0.2 1 0 0.5 -0.2 0.5 -0.3 0.5 -0.6 0.5 -1 0.4 -1 -0.1 -1 -0.6 -0.5 -0.7 -0.2 -1 0.2 -0.9 0.5 -0.7 0.5 -0.4M20.5 49.9l-1.5 0.3 -1.5 0.4 -1.5 0.6 -1.5 0.8 -1.4 1 -1.1 0.9 -1 1.1 -0.7 1 -0.9 1.5 -0.7 1.5 -0.5 1.5 -0.4 1.5 -0.2 1.5 0 2 0.2 1.5 0.3 1.5 0.4 1.5 0.6 1.5 0.8 1.5 1 1.5 1.3 1.5 1 1 1.1 1 1.4 1 1.3 0.8 1.5 0.7 1.5 0.7 2 0.6 2 0.3 1.5 0.2 1.5 -0.1 1.5 -0.2 1 -0.3 1.5 -0.7 1 -0.7 1 -0.8 2.1 -2.1 2 -2.8 1 -1.7 1 -2.1 0.5 -1.3 0.5 -1.6 0.2 -1.9 -0.2 -1.9 -0.5 -1.6 -0.5 -1.2 -1.5 -2.7 -1 -1.3 -1.5 -1.7 -1.1 -0.9 -1.5 -1.2 -1.5 -1 -1.5 -0.9 -1.5 -0.6 -1.5 -0.5 -1.5 -0.4 -1.5 -0.2 -1.5 -0.1 -1.5 0.1M114.2 50l-1.5 0.2 -1.5 0.4 -2.5 1 -2.5 1.5 -2.6 2 -2 2.2 -1 1.3 -1 1.7 -0.5 1 -0.6 1.7 -0.4 1.1 -0.2 1.4 0 1 0.2 1.4 0.5 1.6 0.5 1.3 1.5 3 1 1.5 1.5 2.1 1.6 1.7 1 0.8 1 0.8 1 0.5 1 0.5 1.5 0.4 1 0.1 1.5 0.1 1.5 -0.2 2 -0.3 1.5 -0.5 2 -0.8 1.5 -0.7 1.5 -1 1.5 -1.1 1.3 -1.2 1 -1 1.1 -1.5 0.9 -1.5 0.8 -1.5 0.5 -1.5 0.5 -2 0.2 -1.5 0.1 -2 -0.1 -1.5 -0.3 -1.5 -0.5 -1.5 -0.6 -1.5 -0.8 -1.5 -1.1 -1.5 -1 -1 -1.1 -1 -1.4 -1 -1.5 -0.8 -1.5 -0.6 -1.5 -0.4 -1.5 -0.3 -1.5 -0.1 -2 0.2M55.6 91.9l-4 0.2 -3.5 0.3 -2.5 0.5 -2 0.5 -1.5 0.8 -1.5 1.1 -0.9 1.1 -0.8 1.5 -0.3 1 -0.2 1.5 -0.1 1.5 0.1 1.5 0.4 3 1.3 5.7 0.2 2.3 -0.2 2.3 -0.5 2.2 -2.2 7.5 -0.9 3.5 -0.5 2.5 -0.4 2.5 -0.1 3.5 0.1 3 0.6 3.5 0.8 3 1.2 3 1.4 2.6 1.9 2.9 2.1 2.4 2.5 2.4 2.5 2 2.5 1.5 3 1.6 3 1.2 3.5 1 3 0.6 3.5 0.3 3.5 0.1 3.5 -0.3 3.5 -0.7 3 -0.8 2 -0.8 2 -0.8 3.5 -2 3 -2.1 1.5 -1.2 1.5 -1.5 1.4 -1.4 1.2 -1.5 1.1 -1.5 1.2 -2 0.8 -1.5 0.8 -2 1.2 -3.5 0.6 -3 0.3 -3 0 -3 -0.3 -3 -0.4 -2.5 -0.5 -2.5 -2.9 -10 -0.5 -2.2 -0.2 -1.8 0 -1 0.2 -1.8 1.3 -5.7 0.4 -3 0.1 -1.5 -0.1 -1.5 -0.2 -1.5 -0.3 -1 -0.5 -1 -0.7 -1 -0.9 -1 -1.1 -0.7 -1 -0.5 -1.5 -0.6 -1.5 -0.3 -1.8 -0.4 -4.2 -0.3 -5.5 -0.2 -17.5 0 -7.5 0M29 57l-1.5 0.3 -1.5 0.7 -1.5 1 -1.3 1.5 -0.9 1.5 -0.7 2 -0.2 2 0.1 1.5 0.6 2 0.7 1.5 1.1 1.5 1.1 1.1 1.5 1 1.5 0.6 1 0.2 1 0.1 1.5 0 1.5 -0.3 1.6 -0.7 1.5 -1 1.5 -1.4 1 -1.2 1 -1.8 0.5 -1.4 0.1 -0.7 0.1 -1.5 -0.2 -1.2 -0.5 -1.4 -0.5 -0.9 -0.5 -0.8 -1 -1.2 -1.5 -1.3 -1.5 -0.9 -2.1 -0.7 -2 -0.2 -1.5 0.1M106.7 56.9l-1.5 0.3 -1.6 0.6 -1.5 0.9 -1.5 1.3 -1 1.2 -1 1.7 -0.5 1.4 -0.1 0.7 -0.1 1.5 0.2 1.2 0.5 1.4 0.5 0.9 1 1.5 1.5 1.6 1.5 1.1 1.1 0.6 1 0.4 2 0.3 1.5 0 1 -0.2 1 -0.3 1.5 -0.7 1.5 -1.2 1 -1.1 1 -1.5 0.8 -2 0.3 -2 -0.1 -1.5 -0.4 -2 -0.7 -1.5 -1 -1.5 -1 -1 -1.5 -1 -0.9 -0.5 -1 -0.3 -1.5 -0.3 -2 0M55.1 94.9l-3.5 0.4 -2.5 0.4 -2 0.7 -2 0.9 -1.7 1.1 -1.3 1.5 -1 1.7 -0.7 1.8 -0.4 1.5 -0.2 2 0.1 2.5 0.4 5 -0.7 7.5 0 2.5 0.1 2 0.4 3 0.8 2.5 1 2.5 1.4 2.5 1.8 2.4 2 2.2 2 1.7 2.5 1.8 2.5 1.4 3 1.3 3 0.9 3 0.7 3 0.4 3.5 0.1 3 -0.1 3 -0.5 3 -0.7 3 -1 3 -1.4 2.5 -1.5 2 -1.4 2 -1.7 1.5 -1.6 1.6 -2 1.4 -2.2 1 -2 0.9 -2.3 0.6 -2.4 0.4 -2.6 0.2 -2.5 -0.2 -3 -0.6 -6.5 0.4 -5.5 0 -2.5 -0.2 -2 -0.4 -1.5 -0.6 -1.3 -0.6 -1.2 -0.9 -1.1 -0.8 -0.9 -1.2 -0.8 -1 -0.6 -1.5 -0.6 -1.5 -0.5 -1.5 -0.4 -2 -0.3 -3.5 -0.3 -5 -0.1 -17 0 -5.5 0.1M32 59.4l-1.5 0.5 -1 0.5 -0.7 0.6 -0.9 1 -0.6 1 -0.6 1.5 -0.2 1.5 0.1 1 0.3 1.5 0.5 1 0.7 1 1 1 0.9 0.6 1.5 0.6 1 0.1 1.5 0 1.6 -0.4 1 -0.5 1 -0.7 1 -1 1 -1.5 0.5 -1.2 0.2 -1 0 -1 -0.2 -1 -0.5 -1.3 -1 -1.4 -1 -1 -1 -0.6 -1.5 -0.6 -1.6 -0.3 -1.5 0.1M103.6 59.4l-1 0.3 -1.5 0.8 -1 0.8 -1 1.1 -0.5 0.8 -0.5 1.3 -0.2 1.5 0.1 1 0.6 1.7 0.5 0.9 1 1.2 1 0.8 1 0.6 1.5 0.5 1.6 0.2 1 -0.1 1.5 -0.5 1 -0.5 0.9 -0.8 0.9 -1 0.5 -1 0.5 -1.5 0.2 -1.5 -0.1 -1 -0.4 -1.5 -0.5 -1 -0.8 -1 -1.1 -1 -1.1 -0.6 -1.5 -0.5 -1.5 -0.1 -1.1 0.1M53.1 97.9l-2.5 0.4 -2.5 0.7 -2 1 -1 0.6 -1 0.8 -1.5 1.6 -1 1.6 -0.8 1.8 -0.4 2 -0.2 2.5 0.1 3.5 -0.1 5 0.2 2.5 0.5 2 0.5 1.5 0.7 1.7 1.5 2.5 2 2.5 2 1.9 2.5 1.8 2.5 1.4 3 1.4 3 1 3 0.7 3.5 0.5 3.5 0.2 3 -0.1 3.5 -0.4 3.5 -0.7 3 -0.9 3 -1.2 2.5 -1.3 2.5 -1.6 2 -1.7 2 -2.1 1 -1.4 1 -1.6 0.8 -1.6 0.6 -1.5 0.5 -1.5 0.3 -1.5 0.1 -1.5 0.1 -2 -0.1 -4 0.1 -4.5 -0.2 -1.5 -0.3 -1.5 -0.5 -1.5 -0.9 -1.7 -1 -1.3 -1.5 -1.4 -2 -1.3 -2 -0.8 -2.5 -0.7 -3.5 -0.4 -4.5 -0.2 -10 0.1 -10 -0.1 -3.5 0.1 -2.5 0.2M33 60.9l-1 0.4 -0.9 0.7 -0.6 0.6 -0.5 0.9 -0.5 1 -0.2 1 0 1 0.2 1 0.4 1 0.6 1 0.5 0.5 1 0.8 1 0.4 1 0.2 1.1 0 1 -0.2 1 -0.4 1 -0.6 1 -1 0.5 -0.7 0.5 -1.1 0.2 -0.9 0 -1 -0.2 -1 -0.5 -1 -0.5 -0.8 -1 -0.9 -1 -0.6 -1 -0.4 -1 -0.2 -1.1 0.1 -1 0.2M102.1 60.8l-1 0.4 -1 0.6 -1 0.9 -0.5 0.8 -0.5 1 -0.2 1 0 1 0.2 0.9 0.5 1.1 0.5 0.7 1 1 1 0.6 1 0.4 1 0.2 1.1 0 1 -0.2 1 -0.4 1 -0.8 0.5 -0.5 0.6 -1 0.4 -1 0.2 -1 0 -1 -0.2 -1 -0.5 -1 -0.5 -0.9 -0.6 -0.6 -0.9 -0.7 -1 -0.4 -1 -0.2 -1.1 -0.1 -1 0.2M53.6 100.4l-2.5 0.3 -2.5 0.6 -2 0.8 -2 1.2 -1.5 1.4 -1.3 1.7 -0.7 1.7 -0.6 2.3 -0.2 2 0.1 5.5 0.4 2.5 0.8 2.2 0.5 1 1 1.6 1.5 1.8 1 1 1.5 1.2 2.5 1.6 2.5 1.2 3 1.1 3.5 0.8 3.5 0.6 4 0.3 4 0.1 4 -0.2 3.5 -0.4 3.5 -0.7 3 -0.9 2.5 -0.9 2.5 -1.3 2 -1.3 2 -1.7 1.5 -1.6 1.5 -2.3 1 -2.3 0.4 -1.4 0.3 -1.5 0.1 -2 0 -4 -0.3 -2.6 -0.3 -1.4 -0.4 -1 -0.5 -1 -0.8 -1.1 -1.5 -1.6 -1 -0.7 -1 -0.6 -1.5 -0.7 -2 -0.7 -2.5 -0.4 -2.5 -0.2 -3.5 -0.1 -11 0.4 -11.5 -0.4 -4 0.1M34 61.8l-1 0.5 -0.5 0.4 -0.6 0.8 -0.3 0.5 -0.2 0.5 -0.3 1 0 1 0.2 1 0.5 1 0.4 0.5 0.5 0.5 0.8 0.5 0.5 0.2 1.1 0.3 1 0 1 -0.2 1 -0.5 0.5 -0.4 1 -1.1 0.5 -1 0.1 -0.8 0 -1 -0.1 -0.9 -0.5 -1 -0.5 -0.6 -0.5 -0.5 -1 -0.6 -0.5 -0.2 -1 -0.2 -1 0 -1.1 0.3M100.6 61.9l-1 0.6 -0.5 0.5 -0.5 0.6 -0.5 1 -0.2 1.4 0.2 1.3 0.5 1 0.5 0.6 1 0.9 1 0.5 1 0.2 1 0 1.1 -0.3 0.5 -0.2 0.8 -0.5 0.5 -0.5 0.4 -0.5 0.5 -1 0.2 -1 0 -1 -0.3 -1 -0.2 -0.5 -0.3 -0.5 -0.6 -0.8 -0.5 -0.4 -1 -0.5 -1.1 -0.3 -1 0 -1 0.2 -0.5 0.2M50.6 102.9l-2.5 0.5 -2 0.8 -1.5 0.9 -1.5 1.2 -1 1.2 -1 1.9 -0.6 2 -0.2 2 0 2.5 0.3 2.1 0.5 1.8 1 2 1.5 1.9 1.5 1.4 1 0.7 1.5 0.9 2.5 1.1 2.5 0.8 3 0.6 3 0.4 3.5 0.2 6 0.1 7 -0.1 4.5 -0.2 3.5 -0.5 2.5 -0.5 2.5 -0.8 2 -0.8 2 -1.2 1.5 -1.1 1.5 -1.6 1 -1.3 1 -2 0.6 -2.4 0.2 -2.5 -0.1 -3 -0.3 -1.5 -0.4 -1 -1 -1.9 -0.5 -0.6 -1 -1.1 -1.5 -1.1 -2 -0.9 -2.5 -0.7 -1.5 -0.2 -2 -0.1 -3.5 0.1 -8 0.8 -4 0.2 -4.5 -0.2 -10 -0.9 -2.5 0 -2 0.1M35.1 62.3l-1.3 0.7 -0.5 0.5 -0.6 1 -0.3 1 0 0.5 0 0.5 0.2 1 0.6 1 0.5 0.5 0.9 0.5 0.5 0.2 1 0.2 1 -0.1 0.5 -0.1 1 -0.6 0.5 -0.4 0.5 -0.6 0.5 -0.9 0.2 -1.2 -0.2 -1.3 -0.5 -0.9 -0.5 -0.6 -1 -0.7 -0.5 -0.2 -1 -0.2 -1 0.1 -0.5 0.1M100.6 62.3l-1 0.5 -0.5 0.4 -0.5 0.6 -0.5 0.9 -0.2 1.3 0.2 1.2 0.5 0.9 0.5 0.6 1 0.7 0.5 0.3 1 0.2 1 -0.1 0.5 -0.1 0.6 -0.2 0.8 -0.5 0.8 -1 0.3 -0.5 0.2 -1 0 -1 -0.1 -0.5 -0.4 -1 -0.4 -0.5 -0.5 -0.5 -0.8 -0.5 -0.5 -0.2 -1 -0.2 -1 0.1 -0.5 0.1M49.1 104.9l-2 0.4 -1.5 0.5 -1.5 0.9 -1.5 1.2 -1 1.3 -0.5 1 -0.3 0.7 -0.2 0.7 -0.2 1.3 -0.1 2 0.2 2 0.4 1.5 0.7 1.4 1 1.4 1.5 1.5 1.5 1 2 0.9 2 0.7 2.5 0.4 3 0.2 3 -0.1 7 -0.6 3.5 -0.2 4 0.1 6.5 0.6 2.5 0.2 3 0 2.5 -0.3 2 -0.5 2 -0.7 1.5 -0.7 1.5 -1 1 -0.9 1 -1.2 1 -1.8 0.5 -1.5 0.3 -1.9 0 -2 -0.1 -1 -0.4 -1.5 -0.3 -0.7 -0.5 -1 -1 -1.3 -1.5 -1.2 -1.5 -0.9 -2 -0.6 -1.5 -0.3 -1.5 -0.1 -3 0.1 -3.3 0.5 -7.7 1.8 -2.5 0.3 -2 0.1 -2 -0.1 -2.5 -0.3 -7.7 -1.8 -2.8 -0.4 -2.5 -0.2 -2.5 0.1M35.6 62.8l-0.5 0.2 -0.7 0.5 -0.7 1 -0.2 0.5 -0.2 1 0.1 1 0.2 0.5 0.8 1 0.6 0.5 0.6 0.2 1 0.2 1 -0.1 0.5 -0.1 1 -0.7 0.5 -0.5 0.5 -0.8 0.2 -1.2 -0.2 -1.2 -0.5 -0.9 -0.5 -0.5 -1 -0.6 -0.5 -0.2 -1 0 -1 0.2M100.1 62.8l-1 0.6 -0.5 0.5 -0.5 0.9 -0.2 1.2 0.2 1.2 0.5 0.8 0.5 0.5 1 0.7 0.5 0.1 1 0.1 1 -0.2 0.6 -0.2 0.6 -0.5 0.8 -1 0.3 -1 0 -1 -0.2 -0.5 -0.5 -1 -0.4 -0.5 -0.7 -0.5 -1 -0.4 -0.5 0 -1 0 -0.5 0.2M48.1 106.4l-1.5 0.2 -1.5 0.5 -1.5 0.8 -1 0.8 -1 1.2 -0.5 0.8 -0.3 0.7 -0.4 1.5 -0.1 1.5 0.1 1.5 0.3 1.5 0.4 0.8 1 1.6 1 1 1.5 1.1 1.5 0.7 2 0.6 2 0.2 2 0 2 -0.2 2.5 -0.6 3.3 -1.2 3.1 -1.5 4.1 -2.2 1 -0.5 1 -0.1 1 0.1 1 0.5 4.1 2.2 2 1 1.9 0.8 1.9 0.7 2.1 0.6 2 0.3 2 0.2 2 -0.2 1.5 -0.2 1.5 -0.5 1 -0.4 1.5 -1 1 -0.8 1 -1.3 0.5 -0.9 0.6 -1.8 0.2 -1.5 -0.1 -2 -0.4 -1.5 -0.3 -0.7 -0.5 -0.8 -1 -1.2 -1.5 -1.1 -1.5 -0.7 -1.5 -0.4 -2 -0.2 -2 0.2 -2.3 0.4 -2.2 0.7 -1.9 0.8 -2.9 1.5 -6.7 4.2 -1 0.4 -1 0.2 -1 -0.2 -1 -0.4 -6.7 -4.2 -1.9 -1 -2.4 -1.1 -2 -0.7 -2 -0.5 -2 -0.2 -2 0M36.6 63l-0.5 0.1 -0.8 0.4 -0.7 0.8 -0.4 0.7 -0.1 0.5 0 1 0.3 1 0.3 0.5 0.6 0.5 0.8 0.4 0.5 0.1 1 0 1 -0.3 0.5 -0.3 0.5 -0.5 0.5 -0.8 0.2 -1.1 -0.1 -0.5 -0.1 -0.7 -0.5 -0.8 -0.5 -0.4 -1 -0.6 -1 -0.1 -0.5 0.1M100.6 62.9l-1 0.3 -0.5 0.4 -0.5 0.4 -0.5 0.8 -0.2 1.2 0.1 0.5 0.1 0.6 0.5 0.8 0.5 0.5 1 0.5 1 0.1 0.5 0 1 -0.4 0.9 -0.6 0.5 -1 0.2 -1 -0.1 -0.5 -0.3 -1 -0.4 -0.5 -0.5 -0.5 -0.8 -0.4 -0.5 -0.1 -1 -0.1M45.6 107.8l-1.5 0.6 -1.5 0.9 -1 1.1 -0.5 0.7 -0.5 1.3 -0.2 1 -0.1 1 0.1 1 0.2 1.1 0.5 1.3 0.5 0.8 1 1.1 1.5 1 1.5 0.7 2 0.4 2 0 2 -0.4 2 -0.6 1 -0.6 1 -0.6 1.3 -1.2 0.4 -0.5 0.6 -1 0.3 -1 0 -1 -0.2 -1 -0.4 -1 -0.6 -1 -1 -1 -1.2 -1 -1.2 -0.7 -1.5 -0.8 -1 -0.3 -1.5 -0.4 -1.5 -0.1 -1.5 0 -1 0.2M88.1 107.8l-2 0.6 -1.5 0.8 -1.5 0.9 -1.4 1.3 -1.1 1.5 -0.6 1.5 0 1 0 0.5 0.3 1 0.6 1 0.4 0.5 1.1 1 1.6 1 1.6 0.7 2 0.6 2 0.1 2 -0.2 1.5 -0.4 1 -0.5 1.5 -1 1 -1.1 0.5 -0.8 0.5 -1.3 0.3 -1.6 -0.1 -1.5 -0.3 -1.5 -0.4 -0.8 -1 -1.3 -1 -0.9 -1 -0.5 -1.5 -0.6 -1.5 -0.2 -1.5 0 -1.5 0.2M36.6 63.3l-0.5 0.2 -0.6 0.5 -0.7 1 -0.2 1 0.2 1 0.6 1 0.7 0.4 1 0.3 1 0 1 -0.5 0.5 -0.4 0.5 -0.8 0.1 -0.5 0.1 -0.5 -0.1 -0.5 -0.1 -0.6 -0.5 -0.8 -0.5 -0.4 -1 -0.5 -1 0 -0.5 0.1M99.6 63.4l-0.5 0.3 -0.5 0.4 -0.5 0.8 -0.2 1.1 0.2 1 0.5 0.8 0.5 0.4 0.5 0.3 1 0.3 0.5 -0.1 0.9 -0.2 0.8 -0.5 0.6 -1 0.2 -1 -0.2 -1 -0.7 -1 -0.6 -0.5 -0.5 -0.2 -1 -0.1 -1 0.2M44.6 108.8l-1.5 0.7 -1 0.7 -0.5 0.5 -0.5 0.7 -0.5 1.2 -0.3 1.3 0.1 1.5 0.2 0.9 0.2 0.6 0.8 1.3 1 1 1 0.6 1.5 0.6 1.5 0.2 1.5 0 1.5 -0.3 1.5 -0.6 1.3 -0.8 0.7 -0.6 0.7 -0.9 0.5 -1 0.3 -1 0 -1 -0.2 -1 -0.8 -1.5 -0.9 -1 -0.6 -0.5 -1 -0.7 -1.5 -0.7 -1 -0.3 -1.5 -0.2 -1.5 0.1 -1 0.2M89.1 108.9l-1.5 0.6 -1.5 0.9 -1.1 1 -0.7 1 -0.5 1 -0.2 1.5 0.1 1 0.4 1 0.7 1 1 1 1.3 0.8 1.5 0.6 1.5 0.3 1.5 0 1.5 -0.2 1.5 -0.6 1 -0.6 1 -1 0.5 -0.7 0.5 -1.2 0.3 -1.4 0 -1 -0.3 -1.3 -0.5 -1.2 -0.5 -0.7 -1 -0.9 -1 -0.6 -1 -0.4 -1 -0.2 -1 -0.1 -1.5 0.1 -1 0.3M37.6 63.4l-1 0.3 -0.5 0.3 -0.5 0.5 -0.3 0.5 -0.2 1 0.2 1 0.3 0.5 0.5 0.5 0.5 0.3 1 0.2 1 -0.1 0.5 -0.3 0.5 -0.4 0.5 -0.7 0.2 -1 -0.2 -1 -0.5 -0.8 -0.5 -0.4 -0.5 -0.2 -1 -0.2M100.1 63.5l-1 0.3 -0.5 0.4 -0.5 0.8 -0.1 0.5 -0.1 0.5 0.1 0.5 0.1 0.5 0.5 0.7 0.5 0.4 1 0.4 1 -0.1 0.5 -0.1 0.5 -0.3 0.5 -0.5 0.3 -0.5 0.2 -0.5 0 -1 -0.2 -0.5 -0.3 -0.5 -0.5 -0.5 -1 -0.5 -1 0M44.6 109.4l-1 0.3 -1 0.5 -1 0.8 -0.5 0.7 -0.5 1 -0.3 1.2 0 1 0.3 1.3 0.5 1 1 1.2 1 0.7 1 0.4 1 0.2 1.5 0.1 1.5 -0.3 1 -0.3 1 -0.6 0.8 -0.7 0.4 -0.5 0.6 -1 0.3 -1 0.1 -0.5 -0.1 -1 -0.3 -1 -0.6 -1 -0.4 -0.5 -1.2 -1 -0.9 -0.5 -1.2 -0.4 -1 -0.2 -1 0 -1 0.1M91.1 109.4l-1 0.2 -1 0.5 -1 0.6 -0.8 0.7 -0.7 1 -0.5 1 -0.2 1 0.1 1 0.3 1 0.6 1 1 1 0.8 0.5 1.1 0.5 1.3 0.3 1.5 0.1 1 -0.2 1 -0.3 1 -0.5 1 -0.9 0.5 -0.7 0.5 -1 0.3 -1.3 0 -1 -0.3 -1.2 -0.5 -1 -0.5 -0.7 -0.5 -0.5 -1 -0.6 -1 -0.4 -1 -0.2 -1 0 -1 0.1M37.1 63.8l-0.5 0.2 -0.5 0.5 -0.4 0.5 -0.2 1 0.2 1 0.4 0.5 0.5 0.4 0.5 0.3 0.5 0.1 1 -0.1 1 -0.6 0.5 -0.7 0.2 -0.9 -0.2 -1 -0.5 -0.7 -1 -0.6 -1 -0.1 -0.5 0.2M99.1 63.9l-0.5 0.4 -0.5 0.7 -0.2 1 0.2 0.9 0.5 0.7 1 0.6 1 0.1 1 -0.3 0.6 -0.5 0.3 -0.5 0.2 -0.5 0 -0.5 -0.2 -1 -0.4 -0.5 -0.5 -0.5 -0.5 -0.2 -1 -0.2 -0.5 0.1 -0.5 0.2M44.6 109.9l-1 0.2 -1 0.4 -1 0.8 -0.5 0.6 -0.5 1 -0.2 0.5 -0.1 1 0.1 1 0.2 0.6 0.5 1 0.5 0.6 1 0.8 1 0.5 1 0.2 1 0.1 1 -0.2 1 -0.3 1 -0.5 0.9 -0.8 0.4 -0.5 0.3 -0.5 0.3 -1 0.1 -1 0 -0.5 -0.3 -1 -0.3 -0.5 -0.8 -1 -0.6 -0.5 -1 -0.5 -1 -0.4 -1 -0.1 -1 0M92.1 109.9l-1 0.3 -1 0.4 -1 0.7 -0.5 0.6 -0.4 0.5 -0.5 1 -0.1 1 0.1 1 0.3 1 0.3 0.5 0.8 0.9 0.9 0.6 1.1 0.5 1 0.2 1 0 1 -0.1 1 -0.3 1 -0.6 0.5 -0.5 0.5 -0.6 0.5 -1 0.2 -0.6 0.1 -1 -0.1 -1 -0.2 -0.5 -0.5 -1 -0.5 -0.6 -1 -0.8 -0.5 -0.2 -1 -0.3 -1 -0.1 -1 0"/></g>
<g fill="none" stroke="#000" stroke-width="1.2" stroke-opacity="0.5" filter="url(#bl3)"><path d="M40.31 109.94v9"/><circle cx="38.11" cy="114.44" r="3.1"/><path d="M40.31 61.46v9"/><circle cx="38.11" cy="65.96" r="3.1"/><path d="M97.89 109.94v9"/><circle cx="100.09" cy="114.44" r="3.1"/><path d="M97.89 61.46v9"/><circle cx="100.09" cy="65.96" r="3.1"/></g>
<line x1="34.55" y1="0" x2="34.55" y2="180.4" stroke="#1a1a1a" stroke-opacity="0.9" stroke-width="0.7" stroke-dasharray="2.8 1.6"/>
<line x1="40.31" y1="0" x2="40.31" y2="180.4" stroke="#1a1a1a" stroke-opacity="0.9" stroke-width="0.7" stroke-dasharray="2.8 1.6"/>
<line x1="97.89" y1="0" x2="97.89" y2="180.4" stroke="#1a1a1a" stroke-opacity="0.9" stroke-width="0.7" stroke-dasharray="2.8 1.6"/>
<line x1="103.65" y1="0" x2="103.65" y2="180.4" stroke="#1a1a1a" stroke-opacity="0.9" stroke-width="0.7" stroke-dasharray="2.8 1.6"/>
</g>
<rect width="138.2" height="180.4" fill="none" stroke="#262626" stroke-opacity="0.55" stroke-width="0.5"/>
<path d="M11.52 180.4 v-1.6M11.52 0v1.6M69.10 180.4 v-1.6M69.10 0v1.6M126.68 180.4 v-1.6M126.68 0v1.6M0 174.76h1.6M138.2 174.76h-1.6M0 146.58h1.6M138.2 146.58h-1.6M0 118.39h1.6M138.2 118.39h-1.6M0 90.20h1.6M138.2 90.20h-1.6M0 62.01h1.6M138.2 62.01h-1.6M0 33.83h1.6M138.2 33.83h-1.6M0 5.64h1.6M138.2 5.64h-1.6" stroke="#262626" stroke-opacity="0.7" stroke-width="0.5" fill="none"/>
<g class="tl">
<text x="10.72" y="195" text-anchor="middle">-1</text>
<text x="69.10" y="195" text-anchor="middle">0</text>
<text x="126.68" y="195" text-anchor="middle">1</text>
<text x="-3.6" y="180.06" text-anchor="end">-1.5</text>
<text x="-3.6" y="151.88" text-anchor="end">-1</text>
<text x="-3.6" y="123.69" text-anchor="end">-0.5</text>
<text x="-3.6" y="95.50" text-anchor="end">0</text>
<text x="-3.6" y="67.31" text-anchor="end">0.5</text>
<text x="-3.6" y="39.12" text-anchor="end">1</text>
<text x="-3.6" y="10.94" text-anchor="end">1.5</text>
</g>
<rect x="143.8" y="0" width="11" height="180.4" fill="url(#jet)"/>
<rect x="143.8" y="0" width="11" height="180.4" fill="none" stroke="#262626" stroke-opacity="0.5" stroke-width="0.4"/>
<g class="tl cb">
<text x="158.1" y="183.60">-6</text>
<text x="158.1" y="153.53">-4</text>
<text x="158.1" y="123.47">-2</text>
<text x="158.1" y="93.40">0</text>
<text x="158.1" y="63.33">2</text>
<text x="158.1" y="33.27">4</text>
<text x="158.1" y="3.20">6</text>
</g>
<text class="al" x="72.6" y="207.2" text-anchor="middle"><tspan class="it">x</tspan><tspan dx="0.8">[m]</tspan></text>
<text class="al zl" transform="translate(-26.3,89.9) rotate(-90)" text-anchor="middle"><tspan class="it">z</tspan>[m]</text>
<text class="pl" x="-50.9" y="8.7">(b)</text>
</g>
<g transform="translate(51,228.3)">
<rect width="138.2" height="180.4" fill="#80ff80"/>
<g clip-path="url(#cp)"><g filter="url(#bl2)"><path fill="#8aff75" d="M11.8 44.5l2.7 -0.3 3 0.1 3 0.5 3 1.1 3 1.4 2.5 1.7 2.5 2 2.5 2.4 0.2 12.6 -0.2 14.6 -1 1.4 -1 1.1 -1 0.8 -1.5 0.8 -1.5 0.5 -2 0.3 -2 0 -2 -0.1 -2.5 -0.4 -2.4 -0.5 -2.1 -0.7 -2.4 -0.8 -2.1 -1 -1.8 -1 -1.7 -1.1 -1.9 -1.4 -1.6 -1.5 -1.4 -1.5 -1.1 -1.5 -1 -1.6 0 -19.9 1.1 -1.5 1.3 -1.5 1.1 -1.1 1.5 -1.1 1.5 -0.9 1.9 -0.9 1.6 -0.6 1.8 -0.4zM119.4 44.5l2.8 -0.3 2.5 0 2.5 0.4 2.6 0.9 2.4 1.2 2 1.3 2.1 2 1.5 2 0.4 0.5 0 19.9 -1 1.6 -1.1 1.5 -1.4 1.5 -1.1 1 -1.8 1.5 -1.5 1 -1.6 1 -2 1 -2 0.8 -2 0.7 -2 0.6 -2.5 0.5 -2.5 0.3 -2 0.1 -2 -0.1 -1.5 -0.2 -1 -0.3 -1 -0.4 -1.5 -1 -1.5 -1.5 -1.6 -2.1 -0.1 -13.9 0.1 -12 1.6 -1.6 2 -1.9 2 -1.5 2 -1.4 2 -1.1 2 -0.8 2 -0.7 2.2 -0.5zM34.5 90.4l5.6 0 0.3 0.5 0.1 0.5 0 22.5 0 66.5 -6.4 0 -0.1 -18.8 -1 -2.7 -0.8 -3 -0.5 -2.5 -0.4 -3 0 -4 0.2 -2 0.3 -2.5 0.9 -4.5 1.3 -4.2 0.2 -18.3 -0.1 -21.5 0.1 -2.5 0.3 -0.5zM98.1 90.4l5 0 0.4 0.5 0 0.5 0.1 8 -0.1 15.5 0.1 16.9 1.4 4.1 1 4 0.7 4 0.2 4 -0.2 4 -0.5 3.5 -1 3.6 -1.6 3.7 0 17.7 -5.9 0 0 -84 0 -5 0.1 -0.5 0.3 -0.5z"/>
<path fill="#95ff6a" d="M23.7 54l1.3 -0.3 1.5 -0.1 1.5 0.1 1 0.2 1.5 0.3 1 0.4 1.5 0.7 1 0.7 0.2 10 -0.2 10.8 -2 1.2 -2 0.7 -2 0.3 -1.5 -0.1 -1 -0.2 -1 -0.2 -1.4 -0.5 -2.1 -1.2 -1.7 -1.3 -1 -1 -0.8 -1 -1.2 -2 -0.5 -1 -0.5 -1.5 -0.4 -2.5 0 -1.5 0.1 -1 0.3 -1.5 0.3 -1 0.9 -2 0.6 -1 0.8 -1 1.6 -1.5 2 -1.2 2.2 -0.8zM108.6 54l1.1 -0.2 1.5 -0.2 1.5 0.1 1 0.1 1 0.2 1.3 0.5 1.2 0.5 1 0.6 1.6 1.4 0.9 1 0.7 1 0.6 1 0.6 1.5 0.3 1 0.3 1.5 0.1 1 0 1.5 -0.4 2.5 -0.5 1.5 -0.5 1 -0.8 1.5 -0.8 1 -0.9 1 -1.1 1 -1.1 0.8 -1 0.6 -2 0.9 -1.5 0.4 -1 0.2 -2 0 -2 -0.3 -2 -0.9 -1 -0.6 -1.1 -0.7 -0.1 -10.4 0.1 -9.7 1.1 -0.7 1.5 -0.8 1.5 -0.6 0.9 -0.2zM38.1 90.9l2 0 0.2 1 0.1 2.5 0.1 31 -0.2 55 -6 0 -0.2 -42 0.1 -24 -0.1 -15 0.1 -6.5 0.2 -1.5 0.2 -0.4 3.5 -0.1zM98.1 90.9l5 0.1 0.2 0.4 0.2 1.5 0.1 6.5 -0.1 15 0.1 24 -0.2 42 -5.5 0 -0.2 -33.5 0 -39.5 0.1 -13.5 0.1 -2 0.2 -1z"/>
<path fill="#9fff60" d="M28.7 57l1.3 -0.2 1.5 0.1 1.5 0.3 1 0.4 0.2 8.4 -0.2 8.8 -1 0.4 -1 0.2 -1.5 0.2 -1 -0.1 -1 -0.1 -1 -0.3 -1 -0.5 -1.5 -1 -1.2 -1.1 -1.1 -1.5 -0.7 -1.5 -0.5 -2 -0.1 -2 0.2 -1.5 0.2 -1 0.4 -1 0.9 -1.5 0.9 -1.1 1.5 -1.2 1.5 -0.8 1.7 -0.4zM106.2 57l2 -0.2 1.5 0.2 1 0.3 1 0.4 1.5 0.9 1.5 1.4 1 1.5 0.7 1.5 0.4 2 0 1.5 -0.3 2 -0.7 2 -1 1.5 -1.1 1.2 -1.5 1.1 -1.5 0.8 -1 0.3 -1 0.1 -1.5 0.1 -1 -0.2 -1 -0.2 -1.6 -0.6 -0.1 -8.6 0.1 -8.2 1.6 -0.6 1 -0.2zM34.5 91.9l0.1 -0.3 5.5 -0.1 0.2 1.9 0.2 9.5 0 19.5 -0.2 34 -0.2 24 -3.4 0 -2.1 -0.4 -0.3 -22.6 -0.2 -25.5 0.1 -33 0.1 -5 0.2 -2zM98 91.9l0.1 -0.4 5 0.1 0.2 0.8 0.1 2 0.1 7.5 0 12.5 0.1 23 -0.2 23 -0.3 19.7 -1.6 0.3 -3.4 0 -0.2 -26.5 -0.2 -37 0.1 -19 0.1 -4 0.1 -2z"/>
<path fill="#aaff55" d="M30 59l1 -0.3 1 -0.1 1 0 1 0.1 0.1 7.3 -0.1 7.5 -1.5 0.2 -1.5 -0.1 -1.5 -0.5 -1 -0.5 -1.3 -1.1 -0.9 -1 -0.5 -1 -0.6 -1.5 -0.2 -1.5 0.1 -1.5 0.3 -1.5 0.5 -1 0.6 -1 1 -1.1 1 -0.8 1.5 -0.6zM103.6 59l0 -0.1 0.6 -0.2 1 -0.1 1.5 0 1.5 0.3 1.2 0.6 1.3 0.9 1 1.1 0.6 1 0.6 1.5 0.3 1.5 0 1.5 -0.4 1.5 -0.6 1.5 -1 1.3 -1 0.9 -1.2 0.8 -1.3 0.4 -1 0.2 -1 0.1 -1 -0.1 -1.1 -0.3 -0.1 -7.3 0.1 -7zM34.5 92.4l0.1 0 1.5 -0.1 4 -0.1 0.1 1.2 0.2 7.5 0.1 17 -0.2 29 -0.2 23 -2.5 -0.2 -3 -0.5 -0.3 -20.8 -0.1 -20.5 0 -28 0.1 -5 0.2 -2.5zM98.1 92.4l0 -0.2 4.5 0.1 0.5 0.1 0.1 0 0.2 2.5 0.1 5 0 27.5 -0.1 21 -0.3 20.9 -2.5 0.4 -2.5 0.2 -0.2 -25 -0.2 -29.5 0.1 -17 0.1 -4 0.2 -2z"/>
<path fill="#b5ff4a" d="M31.8 60l1.2 -0.3 1 0 0.1 6.3 -0.1 6.4 -1.5 0 -1 -0.3 -1 -0.5 -0.9 -0.6 -1 -1 -0.6 -1 -0.4 -1 -0.2 -1 0 -1.5 0.1 -1 0.4 -1 0.5 -1 0.6 -0.8 0.8 -0.7 0.8 -0.5 1.2 -0.5zM103.6 60l0 -0.2 0.6 -0.1 1.5 0.1 1.5 0.5 1 0.5 0.7 0.7 0.9 1 0.5 1 0.5 1.5 0 1.5 -0.1 1 -0.3 1 -0.7 1.3 -1 1.1 -0.8 0.6 -1.2 0.6 -1 0.3 -1 0 -1.1 0 0 -6.4 0 -6zM34.5 93.4l0.1 -0.2 5.5 -0.2 0.1 0.9 0.2 7.5 0.1 15 -0.2 23 -0.2 22.6 -2.5 -0.2 -3 -0.6 -0.3 -18.3 -0.1 -17 0 -24.5 0.1 -5 0.2 -3zM98.1 93.4l0 -0.4 5 0.2 0.2 2.7 0.2 5.5 0 23.5 -0.1 17 -0.3 19.4 -2.5 0.5 -2.5 0.2 -0.2 -23.1 -0.2 -23 0.1 -15.5 0.1 -4.5 0.2 -2.5z"/>
<path fill="#bfff40" d="M32.3 61l0.7 -0.3 1 -0.2 0.1 5.5 -0.1 5.6 -1 -0.2 -1 -0.4 -0.8 -0.5 -0.6 -0.5 -0.4 -0.5 -0.6 -1 -0.5 -1.5 -0.1 -1 0.1 -1 0.6 -1.5 0.6 -1 0.5 -0.5 0.7 -0.6 0.8 -0.4zM103.6 61l0 -0.5 1.6 0.2 1 0.4 1.2 0.9 0.9 1 0.5 1 0.3 1 0.1 1 -0.1 1 -0.3 1 -0.4 1 -0.8 1 -0.9 0.7 -1 0.5 -1 0.3 -1.1 0.1 0 -5.6 0 -5zM37.3 93.9l2.8 0 0.1 2.5 0.2 8.5 0.1 12.5 -0.4 38.4 -2.5 -0.2 -3 -0.6 -0.4 -29.1 0 -21 0.2 -8.5 0.2 -2.3 2.7 -0.2zM98.1 93.9l1.5 0 3.5 0.2 0.2 3.3 0.1 5 0.1 21.5 -0.1 14 -0.3 17.2 -2.5 0.5 -2.5 0.2 -0.2 -22.4 -0.2 -18.5 0.2 -14 0.2 -7z"/>
<path fill="#caff35" d="M33.3 61.5l0.7 -0.3 0.1 4.8 -0.1 4.8 -0.9 -0.3 -0.6 -0.3 -1 -0.9 -0.6 -0.8 -0.2 -0.5 -0.4 -1.5 0.1 -1.5 0.3 -1 0.3 -0.5 0.3 -0.5 0.7 -0.7 1.3 -0.8zM103.6 61.5l0 -0.4 1.1 0.3 1 0.5 0.7 0.6 0.5 0.5 0.6 1 0.3 1 0.1 1 -0.1 1 -0.3 1 -0.2 0.5 -0.6 0.8 -0.7 0.7 -0.8 0.4 -0.5 0.3 -1.1 0.2 0 -4.9 0 -4.5zM36.4 94.9l3.7 -0.1 0 0.6 0.2 7.5 0.1 12.5 -0.3 35.4 -2.5 -0.2 -3 -0.6 -0.4 -25.1 0.1 -18.5 0.1 -8 0.2 -3.3 1.8 -0.2zM98.1 94.9l0 -0.1 1 0 4 0.3 0.3 8.3 0.1 19 -0.1 12.5 -0.3 15.2 -2.5 0.5 -2.5 0.2 -0.2 -20.4 -0.1 -15.5 0.1 -13 0.2 -7z"/>
<path fill="#d5ff2a" d="M33.9 62l0.1 -0.1 0 8.2 -1.1 -0.6 -0.9 -1 -0.5 -1 -0.1 -0.5 -0.1 -1 0.1 -1 0.2 -0.5 0.5 -1 0.9 -1 0.9 -0.5zM103.6 62l0 -0.3 0.7 0.3 0.8 0.5 0.6 0.5 0.4 0.5 0.5 1 0.2 0.5 0.1 1 -0.1 1 -0.1 0.5 -0.5 1 -0.4 0.5 -0.6 0.6 -0.7 0.4 -0.9 0.3 0 -4.3 0 -4zM36.2 95.9l3.9 -0.1 0.2 7.1 0.1 12 -0.3 31.8 -2.5 -0.2 -3 -0.7 -0.3 -22.9 0 -16 0.1 -8 0.2 -2.8 1.6 -0.2zM98.1 95.9l0 -0.1 1 0 4 0.3 0.3 8.3 0 17 -0.3 24.6 -2.5 0.5 -2.5 0.2 -0.3 -31.8 0.1 -11.5 0.2 -7.5z"/>
<path fill="#75ff8a" d="M34.1 0l6.4 0 0 84.5 0 4.5 -0.1 0.5 -0.3 0.5 -5.5 0 -0.4 -0.5 0 -0.5 -0.1 -7 0.1 -17 -0.2 -17.8 -1.3 -4.2 -0.7 -3.5 -0.5 -3.5 -0.2 -3.5 0.1 -3.5 0.5 -3.5 1 -3.5 1.1 -3.2 0.1 -18.8zM97.7 0l5.9 0 0 17.7 1.2 2.8 1 3 0.6 3 0.5 3.5 0 2 0 2.5 -0.2 2 -0.4 2.5 -1 4.5 -1.7 5.1 -0.1 17.4 0.1 21 -0.1 2.5 -0.4 0.5 -5 0 -0.3 -0.5 -0.1 -0.5 0 -22.5 0 -66.5zM23.2 94.9l1.8 0 1.5 0.1 1.5 0.2 1.5 0.5 1.5 0.8 1 0.8 1 1.1 1 1.4 0.2 14.6 -0.2 12.6 -2.5 2.4 -1.5 1.3 -1.5 1.1 -3 1.8 -2 0.9 -1.5 0.6 -2 0.6 -1.5 0.3 -3 0.2 -2 0 -1.5 -0.2 -1.5 -0.4 -1.5 -0.4 -1.5 -0.7 -1.2 -0.6 -2.3 -1.5 -2.1 -2 -0.9 -1.1 -1 -1.4 0 -19.9 1.7 -2.6 2.3 -2.5 2.4 -2 1.5 -1 1.6 -0.9 3.1 -1.6 3.4 -1.1 3.5 -0.9 3.7 -0.5zM112.2 94.9l2 0 2 0.1 2 0.3 2 0.4 2 0.6 2 0.6 3.5 1.5 1.8 1 1.6 1 2.5 2 1.1 1 1.4 1.5 1.1 1.5 1 1.6 0 19.9 -1.5 2 -2 2 -2 1.5 -2 1.1 -1.5 0.7 -2 0.6 -1.5 0.2 -2 0.2 -1.5 0 -2 -0.1 -2 -0.4 -1.5 -0.4 -1.5 -0.6 -2 -0.8 -2 -1.1 -1.5 -1 -1.5 -1.1 -1.5 -1.3 -1.5 -1.4 -1.6 -1.6 -0.1 -12 0.1 -13.9 1.1 -1.4 1 -1.2 1.5 -1.4 1 -0.6 1 -0.4 1.5 -0.4 1.5 -0.2z"/>
<path fill="#6aff95" d="M34.3 0l6 0 0.2 33.5 0 39.5 -0.1 13.5 -0.1 2 -0.2 1 -5.5 -0.1 -0.2 -0.4 -0.1 -1 -0.2 -6.5 0.1 -16 -0.1 -22.5 0.2 -43zM97.9 0l5.5 0 0.2 37 -0.1 29 0.1 14.5 -0.1 7 -0.2 1.5 -0.2 0.4 -5 0.1 -0.1 -0.5 -0.2 -1 -0.1 -7 0 -20 0.2 -61zM27.2 101.4l1.8 0.1 1.5 0.3 2 0.9 1.5 0.9 0.2 10.8 -0.2 10 -2 1.2 -2 0.7 -2 0.4 -2 0.1 -1.5 -0.2 -1 -0.2 -2 -0.8 -2 -1.2 -1.6 -1.5 -0.8 -1 -0.6 -1 -0.9 -2 -0.5 -2 -0.2 -1 0 -1.5 0.3 -2.5 0.4 -1.5 0.4 -1 1.1 -2 1.7 -2 1.7 -1.5 2 -1.2 1 -0.4 1.5 -0.5 2.2 -0.4zM109.8 101.4l1.4 0.1 1 0.1 1 0.2 1.5 0.5 2 1 2 1.4 1.6 1.7 1.4 2 0.9 2 0.3 1 0.3 1.5 0.1 2.5 -0.4 2.5 -0.7 2 -1.1 2 -1.4 1.7 -1 0.8 -1 0.7 -2 1 -1.2 0.3 -1.3 0.3 -1 0.1 -1.5 0 -1 -0.2 -1.5 -0.3 -1.5 -0.5 -1 -0.5 -2.1 -1.2 -0.1 -9.7 0.1 -10.4 1.6 -1 1.5 -0.8 1.5 -0.5 1.6 -0.3z"/>
<path fill="#60ff9f" d="M34.5 0.5l0.1 -0.1 2.1 -0.4 3.4 0 0.3 28 0.1 37.5 -0.1 18.5 -0.1 3.5 -0.2 1.4 -5.5 -0.1 -0.3 -1.8 -0.1 -7.5 -0.1 -35.5 0.2 -23 0.2 -20.5zM98.1 0l3.4 0 1.6 0.3 0.3 23.7 0.2 26 -0.1 15.5 0 16.5 -0.1 5 -0.3 1.8 -5 0.1 -0.2 -1.9 -0.2 -9.5 0 -19.5 0.2 -34 0.2 -24zM29 104.9l1 -0.1 1.5 0.1 1.5 0.3 1 0.4 0.2 8.8 -0.2 8.4 -1 0.4 -1.5 0.3 -2 0 -1.5 -0.2 -1.5 -0.6 -1.5 -0.9 -1.5 -1.4 -1 -1.5 -0.7 -1.5 -0.4 -2 0 -1.5 0.3 -2 0.7 -2 1 -1.5 1.1 -1.2 1.5 -1.1 1.5 -0.8 1.5 -0.4zM106.2 104.9l2 -0.1 1.5 0.2 1 0.3 1 0.5 1.5 1 1.2 1.1 1.1 1.5 0.7 1.5 0.5 2 0.1 2 -0.2 1.5 -0.2 1 -0.4 1 -0.9 1.5 -0.9 1.1 -1.5 1.2 -1.5 0.8 -1 0.3 -1 0.2 -1 0.1 -1.5 -0.1 -1.5 -0.3 -1.6 -0.6 -0.1 -8.2 0.1 -8.6 1.6 -0.6 1 -0.3z"/>
<path fill="#55ffaa" d="M35.7 11l2.4 -0.4 2 -0.1 0.2 25.5 0.2 29.5 -0.1 17 -0.2 4 -0.1 1.7 -5.5 -0.2 -0.2 -2 -0.2 -8 0 -29 0.1 -19.5 0.3 -18.3 1.1 -0.2zM98.1 11l0 -0.5 0.5 0 2 0.2 2.5 0.4 0.3 20.9 0.1 20.5 0 28 -0.1 5 -0.3 2.5 -5 0.2 -0.1 -1.7 -0.2 -8.5 -0.1 -16.5 0.2 -28 0.2 -22.5zM30.6 106.9l0.9 -0.1 1 -0.1 1.5 0.2 0.1 7.5 -0.1 7.3 -1.5 0.1 -1.5 -0.1 -1.5 -0.4 -1 -0.5 -1.1 -0.9 -0.9 -1 -0.9 -1.5 -0.5 -1.5 -0.1 -1.5 0.1 -1.5 0.3 -1 0.6 -1.5 1 -1.3 1 -0.9 1.2 -0.8 1.4 -0.5zM104.2 106.9l1.5 -0.2 1.5 0.1 1.5 0.5 1 0.5 1.3 1.1 0.9 1 0.5 1 0.6 1.5 0.2 1.5 -0.1 1.5 -0.3 1.5 -0.5 1 -1 1.5 -1.1 1 -1 0.6 -1.5 0.6 -1 0.2 -1 0 -1 -0.1 -1.1 -0.2 -0.1 -7.1 0.1 -7.3 0.6 -0.2z"/>
<path fill="#4affb5" d="M38.8 18.5l1.3 -0.1 0.2 24.1 0.2 23 -0.1 15.5 -0.2 4 -0.1 2.4 -5.5 -0.2 -0.2 -2.2 -0.1 -3.5 -0.1 -32 0.4 -30.3 2 -0.4 2.2 -0.3zM98.1 18.5l1 0 1.5 0.1 2.5 0.5 0.3 18.4 0.1 17 0 24.5 -0.2 5.5 -0.2 2.7 -5 0.2 -0.1 -0.9 -0.2 -7.5 -0.1 -15 0.2 -23 0.2 -22.5zM31.2 108.4l1.3 -0.4 1.5 0 0.1 6.4 -0.1 6.3 -1 0 -1.2 -0.3 -1.2 -0.5 -0.8 -0.5 -0.8 -0.7 -0.6 -0.8 -0.5 -1 -0.4 -1 -0.1 -1 0 -1.5 0.2 -1 0.4 -1 0.6 -1 0.9 -0.9 0.8 -0.6 0.9 -0.5zM103.6 108.4l0 -0.4 1.1 0 1 0 1.3 0.4 1.2 0.7 0.9 0.8 0.8 1 0.5 1 0.4 1.5 0 1.5 -0.1 1 -0.4 1 -0.5 1 -0.9 1 -0.7 0.7 -1 0.5 -1.5 0.5 -1 0.1 -1.1 -0.1 0 -6.2 0 -6z"/>
<path fill="#40ffbf" d="M36.4 25l1.7 -0.3 2 -0.1 0.2 22.4 0.2 18.5 -0.2 14 -0.2 7 -2.8 0 -2.7 -0.2 -0.1 -1.3 -0.2 -8.5 -0.1 -21.5 0.4 -29.6 1.8 -0.4zM98.1 25l0 -0.4 1 0.1 2 0.2 2 0.4 0.3 16.7 0.1 14 -0.1 22 -0.1 5 -0.2 3.3 -5 0.2 -0.2 -7 -0.2 -14 0.2 -18.5 0.2 -22zM33.4 108.9l0.6 -0.1 0.1 5.6 -0.1 5.5 -1 -0.2 -0.7 -0.3 -0.8 -0.4 -0.7 -0.6 -0.5 -0.5 -0.6 -1 -0.4 -1 -0.2 -1 -0.1 -1 0.2 -1 0.4 -1 0.6 -1 0.4 -0.5 0.9 -0.7 1 -0.5 0.9 -0.3zM103.6 108.9l0 -0.1 0.6 0 1.5 0.4 1 0.5 0.9 0.7 0.8 1 0.4 1 0.3 1 0.1 1 -0.1 1 -0.3 1 -0.5 1 -0.9 1 -0.7 0.6 -1 0.5 -1 0.3 -1.1 0.1 0 -5.5 0 -5.5z"/>
<path fill="#35ffca" d="M36.4 30l1.7 -0.3 2 -0.1 0.2 20.4 0.1 15.5 -0.1 13 -0.2 7.1 -3 -0.1 -2.5 -0.2 -0.1 -0.3 -0.2 -8.5 -0.1 -18.5 0.4 -27.6 1.8 -0.4zM98.1 30l0 -0.4 1 0 2 0.3 2 0.4 0.4 27.2 -0.1 19.5 -0.3 8.3 -2.5 0.2 -2.5 0.1 -0.2 -7.1 -0.1 -13 0.1 -15.5 0.2 -20zM33.1 109.9l0.9 -0.3 0.1 4.8 -0.1 4.8 -0.7 -0.3 -0.8 -0.4 -1 -0.8 -0.8 -1.3 -0.4 -1.5 0.1 -1.5 0.5 -1.5 0.8 -1 0.5 -0.5 0.9 -0.5zM103.6 109.9l0 -0.4 1.1 0.2 1 0.5 0.8 0.7 0.4 0.5 0.6 1 0.3 1 0.1 1 -0.1 1 -0.3 1 -0.8 1.3 -0.9 0.7 -0.6 0.4 -1.6 0.5 0 -4.9 0 -4.5z"/>
<path fill="#2bffd4" d="M36.9 34l1.7 -0.2 1.5 -0.1 0.3 31.8 -0.1 12 -0.2 7.1 -3 -0.1 -2.5 -0.2 -0.3 -8.3 0 -15.5 0 -11.5 0.3 -14.4 2.3 -0.6zM98.1 34l0 -0.3 1.5 0.1 2 0.3 1.5 0.3 0.3 24.6 0 17 -0.3 8.3 -2.5 0.3 -2.5 0 -0.2 -7.1 -0.1 -12 0.3 -31.5zM33.7 110.4l0.3 -0.1 0 8.2 -1 -0.6 -0.9 -1 -0.5 -1 -0.2 -0.5 -0.1 -1 0.1 -1 0.1 -0.5 0.5 -1 0.9 -1 0.8 -0.5zM103.6 110.4l0 -0.3 0.9 0.3 0.8 0.5 0.5 0.5 0.4 0.5 0.5 1 0.1 0.5 0.1 1 -0.1 1 -0.2 0.5 -0.5 1 -1 1 -0.8 0.5 -0.7 0.3 0 -4.3 0 -4z"/></g><g filter="url(#bl)"><path fill="#dfff20" d="M103.6 62.5l0 -0.2 0.6 0.2 0.5 0.5 0.5 0.5 0.6 1 0.2 0.5 0.1 1 -0.1 1 -0.2 0.5 -0.5 1 -0.6 0.6 -1.1 0.6 0 -7.2zM33.5 63l0.5 -0.5 0 7 -0.6 -0.5 -0.8 -1 -0.2 -0.5 -0.3 -1 0 -1 0.3 -1 0.6 -1 0.5 -0.5zM36.2 96.9l3.9 -0.2 0.2 7.2 0.1 11 -0.3 28.4 -2.5 -0.2 -1.5 -0.3 -1.5 -0.4 -0.3 -21.5 0 -13.5 0.1 -8 0.2 -2.2 1.6 -0.3zM98.1 96.9l0 -0.2 1 0 4 0.4 0.3 8.3 0 14.5 -0.3 22.7 -2.5 0.5 -2.5 0.2 -0.3 -28.4 0.1 -10.5 0.2 -7.5z"/>
<path fill="#eaff15" d="M103.6 63l0 -0.2 0.6 0.4 0.7 0.8 0.4 1 0.2 1 -0.2 1 -0.4 1 -0.4 0.5 -0.9 0.7 0 -6.2zM33.7 63.5l0.3 -0.3 0 5.6 -0.7 -0.8 -0.2 -0.5 -0.2 -0.5 -0.2 -1 0.2 -1 0.2 -0.5 0.6 -1zM36.1 97.9l2 -0.2 2 0 0.2 7.2 0.1 10 -0.3 25.6 -2.5 -0.3 -1.5 -0.3 -1.5 -0.4 -0.3 -21.6 0 -10.5 0.2 -7.5 0.1 -1.7 1.5 -0.3zM98.1 97.9l0 -0.2 0.5 0 2.5 0.1 2 0.3 0.3 7.8 0 13 -0.3 20.8 -2.5 0.5 -2.5 0.3 -0.3 -25.6 0.1 -9.5 0.2 -7.5z"/>
<path fill="#f4ff0b" d="M103.6 63.5l0 -0.2 0.6 0.7 0.3 0.5 0.4 1 0 0.5 -0.1 1 -0.2 0.5 -0.3 0.5 -0.7 0.6 0 -5.1zM34 64l0 -0.1 0 4.2 -0.4 -0.6 -0.2 -0.5 -0.1 -1 0.2 -1 0.5 -1zM35.8 98.9l2.3 -0.2 2 -0.1 0.2 7.3 0.1 9 -0.3 23.1 -1.5 -0.1 -1.5 -0.2 -2.5 -0.7 -0.3 -19.6 0 -9 0.2 -7 0.1 -2.2 1.2 -0.3zM98.1 98.9l0 -0.3 0.5 0 2.5 0.2 2 0.3 0.3 7.3 0 11 -0.3 19.8 -2.5 0.6 -2.5 0.2 -0.3 -23.1 0.1 -9 0.2 -7z"/>
<path fill="#ffff00" d="M103.6 64l0.4 0.5 0.3 0.5 0.1 1 -0.1 1 -0.2 0.5 -0.5 0.6 0 -4.1zM33.9 65l0.1 -0.3 0 2.5 -0.2 -0.7 0 -0.5 0.1 -1zM35.5 99.9l2.1 -0.2 2.5 -0.2 0.2 6.9 0.1 8.5 -0.3 21 -2.5 -0.3 -1.5 -0.3 -1.5 -0.5 -0.3 -17.4 0.1 -14 0.2 -3.3 0.9 -0.2zM98.1 99.9l0 -0.4 2.5 0.2 2.5 0.3 0.2 6.9 0.1 9 -0.1 9 -0.2 10.1 -2.5 0.6 -2.5 0.3 -0.3 -21 0.1 -8 0.2 -7z"/>
<path fill="#fff400" d="M103.6 65l0 -0.4 0.4 0.9 0 0.5 -0.2 1 -0.2 0.4 0 -2.4zM39.1 100.4l1 0 0.1 3.5 0.1 12.5 -0.2 17.6 -1.5 -0.1 -1.5 -0.3 -2.5 -0.7 -0.3 -18 0.1 -7.5 0.2 -6.4 2 -0.3 2.5 -0.3zM98.1 100.4l2.5 0.2 2.5 0.3 0.2 6.5 0.1 8.5 -0.3 17.2 -2.5 0.6 -2.5 0.3 -0.2 -19.1 0 -7.5 0.2 -7z"/>
<path fill="#ffea00" d="M37.3 101.4l2.8 -0.1 0.2 6.6 0 7 -0.2 17.4 -2.5 -0.2 -1.5 -0.4 -1.5 -0.4 -0.3 -16.4 0.1 -7 0.2 -6 2.7 -0.5zM98.1 101.4l0 -0.1 1.5 0 2 0.2 1.5 0.3 0.2 6.1 0.1 7 -0.3 16.5 -2.5 0.7 -2.5 0.2 -0.2 -17.4 0 -7 0.2 -6.5z"/>
<path fill="#ffdf00" d="M36.1 102.4l2 -0.2 2 -0.1 0.1 6.3 0.1 6.5 -0.2 15.9 -2.5 -0.2 -1.5 -0.4 -1.5 -0.5 -0.3 -14.8 0.3 -12.1 1.5 -0.4zM98.1 102.4l0 -0.3 1 0 2 0.2 2 0.3 0.2 5.8 0 6.5 -0.2 15 -2.5 0.7 -2.5 0.2 -0.2 -15.9 0.1 -6.5 0.1 -6z"/>
<path fill="#ffd500" d="M39.1 102.9l1 0 0 1 0.2 11.5 -0.2 14.1 -1.5 -0.1 -1.5 -0.3 -2.5 -0.7 -0.3 -14 0.3 -10.8 2 -0.4 2.5 -0.3zM98.1 102.9l2.5 0.2 2.5 0.3 0.2 11.5 -0.2 13.7 -2.5 0.6 -2.5 0.3 -0.2 -14.6 0.2 -12z"/>
<path fill="#ffca00" d="M36.6 103.9l3.5 -0.2 0.2 11.2 -0.2 13.3 -1.5 -0.1 -1.5 -0.2 -2.5 -0.7 -0.2 -12.8 0.2 -10.1 2 -0.4zM98.1 103.9l0 -0.2 1.5 0.1 2 0.1 1.5 0.3 0.2 10.2 -0.2 12.9 -2.5 0.7 -2.5 0.2 -0.2 -13.3 0.2 -11z"/>
<path fill="#ffbf00" d="M35 104.9l2.6 -0.3 2.5 -0.1 0.1 10.4 -0.1 12.2 -1.5 -0.1 -1.5 -0.3 -2.5 -0.7 -0.2 -9.6 0 -7 0.2 -4.4 0.4 -0.1zM98.1 104.9l0 -0.4 2.5 0.1 2.5 0.3 0.2 9.5 -0.2 11.8 -2.5 0.6 -2.5 0.3 -0.1 -12.2 0.1 -10z"/>
<path fill="#ffb500" d="M36.2 105.4l3.9 -0.2 0.1 9.7 -0.1 11.1 -1.5 -0.1 -1.5 -0.2 -2.5 -0.7 -0.2 -10.6 0.2 -8.7 1.6 -0.3zM98.1 105.4l0 -0.2 1 0 2 0.1 2 0.3 0.2 8.8 -0.2 10.8 -2.5 0.6 -2.5 0.2 -0.1 -11.1 0.1 -9.5z"/>
<path fill="#ffaa00" d="M34.5 106.4l0.1 0 2 -0.3 3.5 -0.2 0.1 9 -0.1 10.1 -3 -0.3 -2.5 -0.6 -0.2 -9.7 0.1 -8zM98.1 106.4l0 -0.5 3 0.1 2 0.3 0.2 8.1 -0.2 9.9 -2.5 0.5 -2.5 0.2 -0.1 -10.1 0.1 -8.5z"/>
<path fill="#ff9f00" d="M34.6 106.9l2 -0.2 3.5 0 0.1 8.2 -0.1 9.1 -3 -0.2 -2.5 -0.5 -0.2 -9.9 0.2 -6.4 0 -0.1zM98.1 106.9l0 -0.2 3 0 2 0.2 0.2 8 -0.2 8.5 -2.5 0.5 -2.5 0.1 -0.1 -9.1 0.1 -8z"/>
<path fill="#ff9500" d="M35.4 107.4l4.7 0 0.1 7.5 -0.1 8.2 -3 -0.2 -2.5 -0.4 -0.2 -8.1 0.2 -6.9 0.8 -0.1zM98.1 107.4l3 0 2 0.1 0.2 6.9 -0.2 8.2 -2.5 0.4 -2.5 0.1 -0.1 -8.2 0.1 -7.5z"/>
<path fill="#ff8a00" d="M34.5 108.4l0.1 -0.3 0.5 -0.1 5 0.1 0.1 6.8 -0.1 7.3 -3 -0.1 -2.5 -0.3 -0.2 -6.9 0.1 -6.5zM98.1 108.4l0 -0.3 5 -0.1 0.2 6.4 -0.2 7.5 -2 0.2 -3 0.1 -0.1 -7.3 0.1 -6.5z"/>
<path fill="#ff8000" d="M34.5 108.9l0.1 -0.3 0.5 0 5 0.3 0 6 0 6.4 -3.5 0 -2 -0.1 -0.2 -6.3 0.1 -6zM98.1 108.9l5 -0.3 0.2 5.8 -0.2 6.8 -2 0.1 -3 0 0 -6.4 0 -6z"/>
<path fill="#ff7500" d="M34.5 109.4l0.1 -0.3 5.5 0.5 0 5.3 0 5.5 -4 0.2 -1.5 -0.1 -0.2 -5.6 0.1 -5.5zM100.2 109.4l2.9 -0.3 0.1 5.3 -0.1 6.2 -5 -0.2 0 -5.5 0 -5.3 2.1 -0.2z"/>
<path fill="#ff6a00" d="M34.5 109.9l0.1 -0.4 1.5 0.2 2.5 0.6 1.5 0.2 0 8.9 -4 0.5 -1.5 0.1 -0.1 -5.1 0 -5zM101.2 109.9l1.9 -0.3 0.1 4.8 -0.1 5.6 -5 -0.6 0 -8.9 1.5 -0.2 1.6 -0.4z"/>
<path fill="#ff6000" d="M34.5 110.4l0.1 -0.4 1.5 0.3 3 1 1 0.1 0 7 -1.5 0.2 -2.5 0.6 -1.5 0.2 -0.1 -4.5 0 -4.5zM101.8 110.4l1.3 -0.3 0.1 4.3 -0.1 5 -4 -0.9 -1 -0.1 0 -7 1.5 -0.3 2.2 -0.7z"/>
<path fill="#ff5500" d="M34.5 110.4l1.6 0.5 3 1.5 1 0.3 0 4.4 -1 0.2 -3 1.3 -1.5 0.3 -0.1 -4.5 0 -4zM102.1 110.9l1 -0.4 0 8.3 -1.3 -0.4 -2.7 -1.1 -1 -0.2 0 -4.4 1 -0.3 3 -1.5z"/>
<path fill="#ff4a00" d="M34.5 110.9l0.1 -0.1 0.2 0.1 1.1 0.5 1.4 1 1 1 0.4 0.5 0.2 0.5 0.1 0.5 -0.2 0.5 -0.3 0.5 -1 1 -1.6 1 -1.3 0.5 -0.1 -4 0 -3.5zM102.3 111.4l0.8 -0.4 0 7.3 -1 -0.4 -1.4 -1 -1 -1 -0.3 -0.5 -0.2 -0.5 0.1 -0.5 0.6 -1 1 -1 1.4 -1z"/>
<path fill="#ff4000" d="M34.5 111.4l0.1 -0.1 1.1 0.6 1 1 0.6 1 0.1 1 -0.1 0.5 -0.6 1 -1.1 1 -1 0.6 -0.1 -6.6zM102.5 111.9l0.6 -0.4 0 6.2 -1 -0.6 -0.6 -0.7 -0.6 -1 -0.1 -0.5 0.1 -1 0.3 -0.5 0.7 -1 0.6 -0.5z"/>
<path fill="#ff3500" d="M34.5 111.9l0.1 -0.2 0.9 0.7 0.4 0.5 0.3 0.5 0.3 1 -0.1 1 -0.2 0.5 -0.9 1 -0.7 0.6 -0.1 -5.6zM102.7 112.4l0.4 -0.3 0 5.1 -0.7 -0.8 -0.4 -0.5 -0.3 -1 0.1 -1 0.2 -0.5 0.7 -1z"/>
<path fill="#ff2a00" d="M34.5 112.4l0.1 -0.2 0.7 0.7 0.5 1 0 0.5 -0.1 1 -0.2 0.5 -0.4 0.5 -0.5 0.6 -0.1 -4.6zM102.9 112.9l0.2 -0.2 0 3.8 -0.4 -0.6 -0.3 -1 0 -1 0.5 -1z"/>
<path fill="#ff2000" d="M34.5 112.9l0.1 -0.2 0.4 0.7 0.3 1 -0.1 1 -0.3 0.5 -0.4 0.5 0 -3.5zM103 113.9l0.1 -0.4 0 2.1 -0.2 -0.7 0.1 -1z"/>
<path fill="#ff1500" d="M34.5 113.4l0.3 0.5 0 0.5 0 0.5 -0.2 0.8 -0.1 -2.3z"/>
<path fill="#20ffdf" d="M36.5 37.5l1.6 -0.3 2 -0.1 0.3 28.4 -0.1 11 -0.2 7.2 -3 -0.2 -2.5 -0.3 -0.3 -7.2 0 -11.5 0 -12.5 0.3 -14 1.9 -0.5zM98.1 37.5l0 -0.4 1 0 2 0.3 2 0.4 0.3 22.2 0 15 -0.3 8.3 -2.5 0.3 -2.5 0.1 -0.2 -7.2 -0.1 -11 0.3 -28zM34 110.9l0 7 -0.5 -0.5 -0.9 -1 -0.4 -1 -0.1 -1 0.1 -1 0.4 -1 0.8 -1 0.6 -0.5zM103.6 110.9l0 -0.2 0.6 0.2 0.6 0.5 0.5 0.5 0.5 1 0.2 0.5 0.1 1 -0.1 1 -0.4 1 -0.9 1 -1.1 0.7 0 -7.2z"/>
<path fill="#15ffea" d="M39.3 40l0.8 -0.1 0.1 5.1 0.2 22 -0.1 9 -0.2 6.7 -3 -0.1 -2.5 -0.4 -0.2 -6.2 -0.1 -17.5 0.3 -17.6 2.5 -0.6 2.2 -0.3zM98.1 40l1 0 1.5 0.2 2.5 0.5 0.3 20.8 0 13 -0.3 7.8 -2.5 0.3 -2.5 0.1 -0.2 -7.2 -0.1 -10 0.3 -25.5zM103.6 111.4l0 -0.2 0.9 0.7 0.4 0.5 0.4 1 0.2 1 -0.2 1 -0.4 1 -0.4 0.5 -0.9 0.7 0 -6.2zM33.7 111.9l0.3 -0.3 0 5.6 -0.7 -0.8 -0.2 -0.5 -0.2 -0.5 -0.2 -1 0.2 -1 0.2 -0.5 0.6 -1z"/>
<path fill="#0bfff4" d="M38.8 42.5l1.3 -0.1 0.3 23.1 -0.1 9 -0.2 7.3 -3 -0.2 -2.5 -0.4 -0.1 -2.2 -0.2 -7 0 -9 0.3 -19.6 2 -0.6 2.2 -0.3zM98.1 42.5l0 -0.1 1 0.1 1.5 0.1 2.5 0.6 0.3 19.3 0 11.5 -0.3 7.3 -2.5 0.4 -2.5 0.1 -0.2 -7.3 -0.1 -9 0.3 -23zM103.6 111.9l0 -0.1 0.7 0.6 0.3 0.5 0.2 0.5 0.1 1 0 0.5 -0.4 1 -0.3 0.5 -0.6 0.7 0 -5.2zM33.9 112.4l0.1 -0.1 0 4.2 -0.5 -1.1 -0.2 -1 0.1 -1 0.5 -1z"/>
<path fill="#00ffff" d="M36.6 45l1.5 -0.3 2 -0.2 0.3 21 -0.1 8.5 -0.2 6.9 -3 -0.2 -2.5 -0.4 -0.2 -6.3 -0.1 -8.5 0.3 -19.9 2 -0.6zM98.1 45l0 -0.5 1 0.1 2 0.3 2 0.5 0.3 18.1 -0.1 10 -0.2 6.9 -2.5 0.3 -2.5 0.2 -0.2 -6.9 -0.1 -8.5 0.3 -20.5zM103.6 112.4l0 -0.1 0.5 0.6 0.2 0.5 0.1 1 -0.1 1 -0.3 0.5 -0.4 0.6 0 -4.1zM33.9 113.4l0.1 -0.2 0 2.5 -0.2 -0.8 0 -0.5 0.1 -1z"/>
<path fill="#00f4ff" d="M39 46.5l1.1 -0.1 0.2 19.1 0 7.5 -0.2 7 -3 -0.2 -2.5 -0.4 -0.1 -1.9 -0.2 -13 0.3 -17 2 -0.6 2.4 -0.4zM98.1 46.5l1 0 1.5 0.2 2.5 0.6 0.3 17.2 -0.1 8.5 -0.2 6.5 -2.5 0.3 -2.5 0.2 -0.2 -7 0 -7.5 0.2 -19zM103.6 113.4l0 -0.4 0.2 0.4 0.2 1 0 0.5 -0.4 0.9 0 -2.4z"/>
<path fill="#00eaff" d="M36.8 48.5l1.8 -0.3 1.5 -0.1 0.2 17.4 0 7 -0.2 6.6 -3 -0.2 -2.5 -0.4 -0.2 -6 -0.1 -7 0.3 -16.4 2.2 -0.6zM98.1 48.5l0 -0.4 1.5 0.1 2 0.3 1.5 0.5 0.3 16 -0.1 7.5 -0.2 6.1 -2.5 0.4 -2.5 0.1 -0.2 -6.6 0 -7 0.2 -17z"/>
<path fill="#00dfff" d="M36.9 50l1.7 -0.3 1.5 -0.1 0.2 15.9 -0.1 6.5 -0.1 6.3 -3 -0.2 -2.5 -0.5 -0.3 -12.1 0.3 -14.8 2.3 -0.7zM98.1 50l0 -0.4 1.5 0.1 2 0.3 1.5 0.5 0.2 14.5 0 7 -0.2 5.8 -2.5 0.4 -2.5 0.1 -0.1 -6.3 -0.1 -6.5 0.2 -15.5z"/>
<path fill="#00d4ff" d="M39.5 51l0.6 -0.1 0 3.1 0.2 12.5 -0.2 11 -3 -0.2 -2.5 -0.5 -0.2 -3.8 0 -9 0.2 -12 2.5 -0.7 2.4 -0.3zM98.1 51l1 0 1.5 0.2 2.5 0.6 0.2 13.7 -0.2 11.5 -2.5 0.3 -2.5 0.2 -0.2 -12 0.2 -14.5z"/>
<path fill="#00caff" d="M37.3 52.5l2.8 -0.3 0.2 13.3 -0.2 11.2 -3 -0.2 -2.5 -0.4 -0.2 -10.1 0.2 -12.8 1.5 -0.4 1.2 -0.3zM98.1 52.5l0 -0.3 1.5 0.1 2 0.3 1.5 0.5 0.2 12.4 -0.2 10.7 -2.5 0.4 -2.5 0.1 -0.2 -11.2 0.2 -13z"/>
<path fill="#00bfff" d="M38.3 53.5l1.8 -0.2 0.1 12.2 -0.1 10.4 -3 -0.1 -2.5 -0.4 -0.2 -9.4 0.2 -11.6 2 -0.6 1.7 -0.3zM98.1 53.5l0 -0.2 2 0.2 1.5 0.3 1.5 0.4 0.2 11.3 -0.2 10 -2.5 0.3 -2.5 0.1 -0.1 -10.4 0.1 -12z"/>
<path fill="#00b5ff" d="M38.9 54.5l1.2 -0.1 0.1 11.1 -0.1 9.7 -3 -0.1 -2.5 -0.4 -0.2 -8.7 0.2 -10.6 2 -0.6 2.3 -0.3zM98.1 54.5l1 0 1.5 0.1 2.5 0.6 0.2 10.3 -0.2 9.3 -2.5 0.3 -2.5 0.1 -0.1 -9.7 0.1 -11z"/>
<path fill="#00aaff" d="M39 55.5l1.1 -0.1 0.1 10.1 -0.1 9 -3 -0.1 -2.5 -0.4 -0.2 -8 0.2 -9.7 2 -0.5 2.4 -0.3zM98.1 55.5l1 0 1.5 0.1 2.5 0.5 0.2 9.4 -0.2 8.6 -2 0.3 -3 0.1 -0.1 -9 0.1 -10z"/>
<path fill="#009fff" d="M38.3 56.5l1.8 -0.1 0.1 9.1 -0.1 8.2 -3.5 0 -2 -0.3 -0.2 -7.4 0.2 -8.9 2 -0.4 1.7 -0.2zM98.1 56.5l0 -0.1 0.5 0 2 0.1 2.5 0.5 0.2 8.5 -0.2 8 -2 0.2 -3 0 -0.1 -8.2 0.1 -9z"/>
<path fill="#0095ff" d="M37 57.5l3.1 -0.2 0.1 8.2 -0.1 7.5 -3.5 0 -2 -0.1 -0.2 -6.9 0.2 -8.1 2.4 -0.4zM98.1 57.5l0 -0.2 2 0.1 3 0.4 0.2 8.2 -0.2 6.9 -2 0.1 -3 0 -0.1 -7.5 0.1 -8z"/>
<path fill="#008aff" d="M35.3 58.5l1.8 -0.2 3 -0.1 0.1 7.3 -0.1 6.8 -4 0.1 -1.5 -0.1 -0.2 -6.3 0.2 -7.4 0.7 -0.1zM98.1 58.5l0 -0.3 0.5 0 2.5 0.1 2 0.2 0.2 7.5 -0.2 6.4 -5 -0.1 -0.1 -6.8 0.1 -7z"/>
<path fill="#0080ff" d="M34.5 59.5l0.1 -0.3 1 -0.1 4.5 0 0 6.4 0 6 -5.5 0.3 -0.2 -5.8 0.1 -6.5zM98.1 59.5l0 -0.4 3 0 2 0.1 0.2 6.8 -0.2 5.8 -5 -0.3 0 -5.5 0 -6.5z"/>
<path fill="#0075ff" d="M34.5 60l0.1 -0.1 1.5 -0.1 4 0.2 0 5.5 0 5.3 -5.5 0.5 -0.2 -5.3 0.1 -6zM99.4 60l3.7 -0.2 0.1 6.2 -0.1 5.3 -5 -0.5 0 -5.3 0 -5.5 1.3 0z"/>
<path fill="#006aff" d="M34.5 60.5l1.6 0 4 0.5 0 8.9 -1.5 0.2 -2.5 0.6 -1.5 0.2 -0.1 -4.9 0 -5.5zM102.4 60.5l0.7 -0.1 0.1 5.6 -0.1 4.8 -3.5 -0.7 -1.5 -0.2 0 -8.9 4.3 -0.5z"/>
<path fill="#0060ff" d="M34.5 61l1.6 0.2 2.5 0.6 1.5 0.2 0 7 -1 0.1 -3 1 -1.5 0.3 -0.1 -4.4 0 -5zM100.9 61.5l2.2 -0.5 0.1 5 -0.1 4.3 -3.5 -1 -1.5 -0.3 0 -7 1 -0.1 1.8 -0.4z"/>
<path fill="#0055ff" d="M34.5 61.5l1.6 0.3 3 1.3 1 0.2 0 2.2 0 2.2 -1 0.3 -3 1.5 -1.5 0.5 -0.1 -4 0 -4.5zM101.8 62l1.3 -0.4 0 8.3 -1 -0.4 -3 -1.5 -1 -0.3 0 -4.4 1 -0.2 2.7 -1.1z"/>
<path fill="#004aff" d="M34.5 62l1.4 0.5 1.6 1 1 1 0.3 0.5 0.2 0.5 -0.1 0.5 -0.2 0.5 -0.8 1 -1.2 1 -0.6 0.4 -1.5 0.7 -0.1 -3.6 0 -4zM102.3 62.5l0.8 -0.4 0 7.3 -0.8 -0.4 -1.4 -1 -1 -1 -0.6 -1 -0.1 -0.5 0.2 -0.5 0.3 -0.5 1 -1 1.6 -1z"/>
<path fill="#0040ff" d="M34.5 62.5l1.1 0.5 1.1 1 0.6 1 0.1 0.5 -0.1 1 -0.6 1 -1 1 -1.1 0.6 -0.1 -6.6zM102.6 63l0.5 -0.3 0 6.2 -0.6 -0.4 -1 -1 -0.6 -1 -0.1 -0.5 0.1 -1 0.2 -0.5 0.8 -1 0.7 -0.5z"/>
<path fill="#0035ff" d="M34.5 63l0.8 0.5 0.9 1 0.2 0.5 0.1 1 -0.3 1 -0.3 0.5 -0.4 0.5 -0.9 0.7 -0.1 -5.7zM102.9 63.5l0.2 -0.3 0 5.1 -0.8 -0.8 -0.3 -0.5 -0.3 -1 0.1 -1 0.2 -0.5 0.9 -1z"/>
<path fill="#002aff" d="M34.5 63.5l0.6 0.5 0.4 0.5 0.2 0.5 0.1 1 -0.2 1 -0.3 0.5 -0.7 0.7 -0.1 -4.7zM103.1 64l0 -0.1 0 3.8 -0.5 -0.7 -0.2 -1 0.1 -1 0.6 -1z"/>
<path fill="#0020ff" d="M34.5 64.5l0 -0.5 0.4 0.5 0.3 0.5 0.1 1 -0.3 1 -0.4 0.7 -0.1 -3.2zM103 65l0.1 -0.2 0 2.1 -0.2 -0.9 0.1 -1z"/>
<path fill="#0015ff" d="M34.5 65l0.1 -0.3 0.2 0.8 0 0.5 0 0.5 -0.2 0.5 -0.1 -2z"/></g>
<g fill="none" stroke="#101010" stroke-width="0.6" stroke-opacity="0.65" stroke-linejoin="round"><path d="M20.2 50l1.8 -0.2 1.5 0.1 2 0.3 1.5 0.4 1.5 0.6 2 1 1.5 0.9 1.5 1.2 0.5 4.7 0.1 7 -0.1 7.5 -0.5 5.5 -1 0.9 -1 0.8 -1 0.5 -1.5 0.6 -1.5 0.3 -1.5 0.2 -1.5 -0.1 -1.5 -0.2 -1.5 -0.4 -2 -0.6 -1.5 -0.7 -1.5 -0.8 -1.5 -1 -1.3 -1 -1 -1 -1.4 -1.5 -1.1 -1.5 -0.8 -1.5 -0.7 -1.5 -0.5 -1.5 -0.3 -1.5 -0.2 -1.5 -0.1 -2 0.1 -1.5 0.3 -1.5 0.5 -1.5 0.6 -1.5 0.8 -1.5 1.1 -1.5 1 -1 1.1 -1 1.4 -1 1 -0.6 1.5 -0.7 1.5 -0.4 1.7 -0.3M114.1 50l1.6 -0.2 2 0.1 1.5 0.3 1.5 0.4 1.5 0.6 1.5 0.8 1.4 1 1.1 1 1 1 1.1 1.5 0.8 1.5 0.6 1.5 0.5 1.5 0.3 1.5 0.1 1.5 -0.1 2 -0.2 1.5 -0.5 2 -0.5 1.5 -0.8 1.5 -0.9 1.5 -1.1 1.5 -1 1 -1.3 1.2 -1.5 1.1 -1.5 1 -1.5 0.7 -2 0.8 -1.5 0.5 -2 0.3 -1.5 0.2 -1.5 -0.1 -2 -0.4 -1.5 -0.6 -1 -0.5 -1 -0.8 -1.5 -1.4 -0.6 -5.2 -0.1 -7.3 0.1 -6.8 0.6 -4.5 0.5 -0.5 2 -1.4 2.5 -1.4 2.5 -0.9 2.4 -0.5M34.2 180.4l-0.2 -18.8 -0.2 -11.2 -0.1 -10 0 -7.5 0.3 -7.7 0.1 -7.8 0 -18 0 -7 0.1 -1 0.4 -0.7 5 -0.1 0.5 0.1 0.1 0.2 0.2 1 0.4 10 0.1 7.5 0 13 -0.3 20.6 -0.2 37.4M97.8 180.4l-0.2 -37.4 -0.3 -20.6 0 -13 0.1 -7.5 0.4 -10 0.2 -1 0.1 -0.2 0.5 -0.1 4.5 0.1 0.2 0.2 0.2 0.5 0.1 1 0 7.5 -0.1 16.5 0.1 8.2 0.4 7.8 0.1 7.5 -0.2 10.5 -0.3 11.8 -0.1 18.2M28.9 57l1.1 -0.1 1 0 1.5 0.2 1 0.3 0.5 3.5 0.1 5.1 -0.1 5.4 -0.5 3.6 -1 0.3 -1 0.2 -1.5 0 -1 -0.1 -1 -0.2 -1.5 -0.6 -1.5 -1 -1.1 -1.1 -1.1 -1.5 -0.7 -1.5 -0.6 -2 -0.1 -1.5 0.2 -2 0.7 -2 0.9 -1.5 0.9 -1 1.4 -1.2 1.6 -0.8 1.8 -0.5M106.4 57l1.8 -0.1 2 0.3 1.5 0.5 1.5 0.9 1.4 1.4 1 1.5 0.7 1.5 0.4 2 0.1 1.5 -0.3 2 -0.8 2 -1 1.5 -1 1.1 -1.5 1.2 -1.5 0.7 -1 0.3 -1 0.2 -1 0.1 -1.5 -0.2 -1 -0.2 -1 -0.4 -0.6 -3.4 0 -5.4 0 -5.2 0.6 -3.2 1 -0.4 1.2 -0.2M38.3 180.4l-3.2 -0.5 -0.5 -3.3 -0.3 -17.2 -0.2 -20 0.1 -41 0.1 -4.5 0.3 -2 0.5 -0.3 4.5 0 0.5 0.2 0.2 1.1 0.1 1.5 0.2 20.5 -0.2 39 -0.3 20.5 0 2.4 -0.5 3.6M98.6 180.4l-0.5 -3.6 0 -2.4 -0.3 -20.5 -0.2 -39 0.2 -20.5 0.1 -1.5 0.2 -1.1 0.5 -0.2 4 0 0.5 0.2 0.3 2.1 0.1 4.5 0 16 0.1 12.5 0 12.5 -0.2 20 -0.3 17.3 -0.5 3.3 -2.7 0.4M31.7 59.5l0.8 -0.2 1 0 0.5 3 0 7.5 -0.5 3 -1.5 0 -1 -0.3 -1 -0.4 -1 -0.7 -0.9 -0.9 -0.7 -1 -0.5 -1 -0.3 -1.5 -0.1 -1 0.2 -1.5 0.6 -1.5 0.6 -1 0.9 -1 0.7 -0.6 1 -0.5 1.2 -0.4M104.1 59.5l0.1 -0.1 1 -0.1 1.3 0.2 1.2 0.4 1.1 0.6 1.1 1 0.8 1 0.5 1 0.4 1.5 0.1 1 -0.2 1.5 -0.5 1.5 -0.5 1 -0.9 1 -0.9 0.8 -1 0.5 -1.5 0.5 -1 0.1 -1 -0.1 -0.6 -2.7 0 -8.1 0.5 -2.5M34.9 92.9l0.2 -0.1 0.5 0 4 -0.1 0.5 0.4 0.1 1.8 0.2 5.5 0.1 10 -0.1 24.5 -0.3 26.4 -0.5 3.5 -2 -0.2 -2.5 -0.4 -0.5 -3.3 -0.4 -27.5 0 -29.5 0.2 -9 0.2 -1.6 0.3 -0.4M98.3 92.9l0.3 -0.2 4 0.1 0.5 0.5 0.3 3.6 0.1 7 0 29.5 -0.4 27.7 -0.5 3.2 -2 0.3 -2 0.2 -0.5 -3.5 -0.4 -41.4 0 -11.5 0.1 -9.5 0.2 -4.5 0.1 -1.3 0.2 -0.2M32.8 61l0.7 -0.2 0.5 2.9 0 4.6 -0.5 3 -1.5 -0.5 -1 -0.8 -0.5 -0.5 -0.3 -0.5 -0.5 -1 -0.4 -1.5 0 -1 0.2 -1 0.8 -1.5 0.3 -0.5 0.9 -0.9 1.3 -0.6M104.1 61l0.1 -0.3 1.5 0.4 1 0.5 0.9 0.9 0.3 0.5 0.6 1 0.3 1 0.1 1 -0.1 1 -0.3 1 -0.5 1 -0.3 0.5 -0.5 0.5 -1 0.8 -1 0.4 -1 0.2 -0.6 -2.5 0 -2.4 0 -3.4 0.5 -2.1M34.9 94.4l0.2 -0.1 0.5 0 4 -0.2 0.5 0.6 0 0.7 0.2 4.5 0.2 7 -0.1 17.5 -0.3 26.9 -0.5 3.4 -2 -0.2 -2.5 -0.5 -0.5 -3.1 -0.4 -22 0 -23.5 0.3 -9.5 0.1 -0.9 0.3 -0.6M98.3 94.4l0.3 -0.3 4 0.2 0.5 0.7 0.3 4.4 0.1 6.5 0 23 -0.4 22.1 -0.5 3.1 -2 0.4 -2 0.2 -0.5 -3.4 -0.4 -32.4 0 -9.5 0.2 -8.5 0.2 -5.5 0 -0.7 0.2 -0.3M104.1 62l0.1 -0.2 1 0.5 0.7 0.7 0.4 0.5 0.5 1 0.3 1.5 -0.2 1.5 -0.5 1 -0.9 1 -0.7 0.5 -0.6 0.2 -0.6 -2.5 0 -1.2 0 -2.2 0.5 -2.3M32.8 62.5l0.7 -0.5 0.4 2.5 0.1 2.5 -0.5 3 -0.8 -0.5 -0.9 -1 -0.5 -1 -0.2 -1 0 -1 0.3 -1 0.5 -1 0.9 -1M35 95.9l0.1 0 1.5 -0.2 3 -0.1 0.5 0.8 0.2 4.5 0.1 6.5 0 14.5 -0.3 22.5 -0.5 3.1 -2 -0.2 -2.5 -0.6 -0.5 -2.9 -0.3 -17.9 0 -19.5 0.1 -5.5 0.2 -4.1 0.4 -0.9M98.4 95.9l0.2 -0.3 4 0.2 0.5 1 0.2 4.6 0.1 6 0 19 -0.3 17.5 -0.5 3 -2 0.4 -2 0.2 -0.5 -3.1 -0.4 -27 0.1 -8.5 0.1 -8 0.2 -4.5 0.3 -0.5M104.1 63l0.1 -0.2 0.2 0.2 0.9 1 0.4 1 0.1 1 -0.1 1 -0.4 1 -0.3 0.5 -0.8 0.7 -0.4 -1.7 -0.1 -1.5 0.1 -1.5 0.3 -1.5M33.3 63.5l0.2 -0.3 0.3 2.3 0 1.5 -0.3 1.8 -0.5 -0.6 -0.4 -0.7 -0.2 -1 0 -0.5 0 -0.5 0.3 -1 0.6 -1M35.4 97.4l2.2 -0.2 2 -0.1 0.5 1 0.3 10.3 0 13 -0.3 17.9 -0.5 2.8 -2.5 -0.3 -2 -0.5 -0.5 -2.8 -0.3 -16.6 0.1 -17.5 0.2 -5.7 0.5 -1.2 0.3 -0.1M98.5 97.4l0.1 -0.3 4 0.3 0.5 1 0.2 4 0.1 7 0 15 -0.3 14.3 -0.5 2.8 -2 0.4 -2 0.2 -0.5 -2.8 -0.3 -22.4 0 -8 0.2 -7.5 0.1 -3.3 0.4 -0.7M104.1 64l0.1 -0.1 0.3 0.6 0.2 0.5 0.2 1 -0.1 1 -0.2 0.5 -0.4 0.6 -0.3 -2.1 0.2 -2M33.5 65l0 -0.3 0.1 1.3 -0.1 1.2 -0.2 -0.7 0 -0.5 0.2 -1M35.8 98.9l1.8 -0.2 2 -0.1 0.5 1.2 0.3 10.1 -0.1 11 -0.2 14.5 -0.5 2.6 -2.5 -0.3 -2 -0.5 -0.5 -2.7 -0.3 -17.6 0 -8 0.2 -6.5 0.1 -2 0.3 -1 0.2 -0.3 0.7 -0.2M98.5 98.9l0.1 -0.3 2 0.1 2 0.3 0.5 1.3 0.3 10.1 0 12.5 -0.3 11.8 -0.5 2.6 -2 0.5 -2 0.2 -0.5 -2.6 -0.3 -19 0.1 -7.5 0.1 -7 0.1 -2.1 0.4 -0.9M104.1 66l0.1 -0.2 0 0.4 -0.1 -0.2M35.7 100.4l1.9 -0.2 2 -0.1 0.5 1.2 0.2 9.6 0 10 -0.2 11.4 -0.5 2.4 -2 -0.2 -2.5 -0.6 -0.5 -2.6 -0.3 -15.9 0.2 -12.5 0.1 -0.9 0.5 -1.4 0.6 -0.2M98.5 100.4l0.1 -0.3 2 0.1 2 0.3 0.5 1.4 0.3 9.5 -0.1 10 -0.2 10.1 -0.3 1.9 -0.2 0.6 -2 0.5 -2 0.2 -0.5 -2.4 -0.3 -15.9 0.1 -7 0.2 -6.5 0 -1.6 0.4 -0.9M35.2 101.9l1.9 -0.3 2.5 -0.2 0.5 1.4 0.2 8.6 0 9.5 -0.2 8.8 -0.5 2.3 -2.5 -0.3 -2 -0.6 -0.5 -2.5 -0.3 -12.2 0.1 -9 0.2 -3.9 0.5 -1.5 0.1 -0.1M98.4 101.9l0.2 -0.5 2 0.2 2 0.3 0.5 1.5 0.2 8 0 8.5 -0.2 8.9 -0.5 2.5 -2 0.5 -2 0.2 -0.5 -2.3 -0.2 -12.8 0 -6.5 0.2 -6 0 -1.6 0.3 -0.9M37 102.9l2.6 -0.1 0.5 1.4 0.2 8.2 -0.1 9 -0.1 6.1 -0.5 2.2 -2.5 -0.3 -2 -0.6 -0.5 -2.4 -0.2 -12 0.2 -9.5 0.5 -1.6 1.9 -0.4M98.6 102.9l0 -0.1 1 0 3 0.4 0.5 1.6 0.2 9.1 -0.2 12.7 -0.5 2.4 -2 0.5 -2 0.2 -0.5 -2.2 -0.2 -12.1 0.1 -5.5 0.1 -5.7 0.5 -1.3M35.3 104.4l1.8 -0.2 2.5 -0.2 0.5 1.5 0.1 7.9 0 8 -0.1 4.2 -0.5 2.1 -2 -0.2 -2.5 -0.6 -0.5 -2.4 -0.2 -9.6 0.1 -8.5 0.6 -1.9 0.2 -0.1M98.5 104.4l0.1 -0.4 2 0.1 2 0.3 0.5 1.7 0.2 6.8 -0.2 11.8 -0.5 2.4 -2 0.4 -2 0.2 -0.5 -2.1 -0.1 -9.2 0 -5.5 0.1 -5.4 0.4 -1.1M34.2 0l-0.2 18.8 -0.2 11.2 -0.1 10 0 7.5 0.3 7.7 0.1 7.8 0 18 0 7 0.1 1 0.4 0.7 5 0.1 0.5 -0.1 0.1 -0.2 0.2 -1 0.4 -10 0.1 -7.5 0 -13 -0.3 -20.6 -0.2 -37.4M97.8 0l-0.2 37.4 -0.3 20.6 0 13 0.1 7.5 0.4 10 0.2 1 0.1 0.2 0.5 0.1 4.5 -0.1 0.2 -0.2 0.2 -0.5 0.1 -1 0 -7.5 -0.1 -16.5 0.1 -8.2 0.4 -7.8 0.1 -7.5 -0.2 -10.5 -0.3 -11.8 -0.1 -18.2M23 98.4l-1.5 0.4 -1.5 0.4 -1.5 0.7 -1.5 0.7 -1.3 0.8 -1.4 1 -2.1 2 -0.9 1 -1.1 1.5 -1.3 2.5 -0.8 2.5 -0.3 1.5 -0.2 1.5 0 1.5 0.1 1.5 0.3 1.5 0.5 1.5 0.6 1.5 0.5 1 0.9 1.4 1 1.1 1 1 1 0.9 1 0.6 1.5 0.8 2.5 0.9 1.5 0.3 1.5 0.1 1.5 0 1.5 -0.1 2.5 -0.6 1.5 -0.6 1.5 -0.7 2.5 -1.6 1 -0.8 0.5 -4.7 0.1 -7 -0.1 -7.5 -0.5 -5.5 -1 -0.9 -1 -0.8 -1 -0.5 -1.5 -0.6 -1.5 -0.3 -1.5 -0.2 -1.5 0.1 -1.5 0.2M110.2 98.3l-1.5 0.4 -1.5 0.7 -1.5 1.1 -1.5 1.4 -0.6 5.2 -0.1 7.3 0.1 6.8 0.6 4.5 2 1.6 2 1.2 2 0.9 2 0.7 2.5 0.4 2 0 2 -0.2 2 -0.5 1.5 -0.6 1 -0.5 1.3 -0.8 1.2 -0.9 1 -1.1 0.9 -1 0.7 -1 0.8 -1.5 0.9 -2.5 0.4 -1.5 0.2 -1.5 0 -1.5 -0.1 -1.5 -0.3 -1.5 -0.4 -1.5 -0.5 -1.5 -0.8 -1.5 -0.9 -1.5 -0.7 -1 -0.9 -1 -1.3 -1.3 -1.5 -1.2 -1 -0.7 -1.5 -0.8 -1.5 -0.8 -1.5 -0.5 -1.5 -0.5 -1.5 -0.3 -1.5 -0.1 -1.5 0 -1.5 0.1M38.3 0l-3.2 0.5 -0.5 3.3 -0.3 17.2 -0.2 20 0.1 41 0.1 4.5 0.3 2 0.5 0.3 4.5 0 0.5 -0.2 0.2 -1.1 0.1 -1.5 0.2 -20.5 -0.2 -39 -0.3 -20.5 0 -2.4 -0.5 -3.6M98.6 0l-0.5 3.6 0 2.4 -0.3 20.5 -0.2 39 0.2 20.5 0.1 1.5 0.2 1.1 0.5 0.2 4 0 0.5 -0.2 0.3 -2.1 0.1 -4.5 0 -16 0.1 -12.5 0 -12.5 -0.2 -20 -0.3 -17.3 -0.5 -3.3 -2.7 -0.4M29.5 104.9l-1 0.2 -1 0.3 -1.5 0.7 -1.5 1.2 -1 1.1 -1 1.5 -0.6 1.5 -0.4 2 -0.1 1.5 0.4 2 0.5 1.5 0.9 1.5 1.3 1.5 1.5 1 1.5 0.7 1.5 0.3 2 0.1 1.5 -0.2 1 -0.3 0.5 -3.5 0.1 -5.1 -0.1 -5.4 -0.5 -3.6 -1 -0.3 -1 -0.2 -1 -0.1 -1 0.1M106.7 104.9l-1.5 0.3 -1 0.4 -0.6 3.4 0 5.4 0 5.2 0.6 3.2 1 0.4 1 0.2 1.5 0.1 1 0 2 -0.4 1.4 -0.7 1.5 -1 1.1 -1.1 0.9 -1.4 0.5 -1 0.3 -1 0.4 -2 -0.1 -1.5 -0.4 -2 -0.6 -1.5 -1 -1.5 -1.4 -1.5 -1.4 -1 -1.7 -0.7 -1 -0.2 -1 -0.1 -1.5 0M36.6 15.9l-1.5 0.3 -0.5 3.3 -0.4 31 0 26 0.1 7.5 0.3 3.1 0.5 0.5 4.5 0.1 0.5 -0.4 0.1 -1.8 0.2 -5 0.1 -8 0 -22 -0.4 -31.4 -0.5 -3.5 -3 0.3M98.6 15.6l-0.5 3.5 -0.3 23.9 -0.1 22.5 0 11.5 0.2 7.5 0.2 2.8 0.5 0.4 4 -0.1 0.5 -0.5 0.3 -3.1 0.1 -5 0.1 -25 -0.2 -16.5 -0.3 -18.2 -0.5 -3.2 -2 -0.3 -2 -0.2M31 107.9l-1 0.4 -1 0.7 -0.9 0.9 -0.7 1 -0.5 1 -0.2 1 -0.2 1.5 0.1 1 0.4 1.5 0.5 1 0.8 1 0.7 0.7 1 0.7 1 0.4 1.5 0.4 1 0 0.5 -3 0.1 -3.7 -0.1 -3.8 -0.5 -3 -1.5 0 -1 0.3M104.2 107.6l-0.6 2.7 0 8.1 0.6 2.6 1.5 0.1 1.5 -0.4 1 -0.4 1.2 -0.9 0.9 -1 0.6 -1 0.6 -1.5 0.2 -1.5 -0.1 -1 -0.3 -1.5 -0.5 -1 -0.7 -1 -1 -1 -0.9 -0.6 -1.5 -0.6 -1.5 -0.2 -1 0.1M37.6 25.9l-2.5 0.5 -0.5 3.1 -0.4 24.5 0 20 0.1 7.5 0.3 3.9 0.5 0.7 4.5 0.2 0.5 -0.6 0.1 -1.2 0.1 -5 0.2 -8 -0.1 -16 -0.3 -26.4 -0.5 -3.4 -2 0.2M98.6 25.7l-0.5 3.4 -0.3 20.4 -0.1 16 0.1 10 0.2 7.5 0.1 2.7 0.5 0.6 4 -0.2 0.5 -0.7 0.2 -3.4 0.2 -5 0 -20.5 -0.2 -20 -0.2 -7.1 -0.1 -0.9 -0.4 -2.2 -2 -0.4 -2 -0.2M32.5 109.4l-0.9 0.5 -0.6 0.5 -0.8 1 -0.7 1.5 -0.2 1 0 1 0.4 1.5 0.6 1 0.3 0.5 0.5 0.5 0.9 0.7 0.8 0.3 0.7 0.2 0.5 -2.9 0 -4.6 -0.5 -3 -1 0.3M104.2 109l-0.6 2.5 0 2.9 0 2.9 0.6 2.4 1 -0.2 1 -0.4 0.9 -0.7 0.5 -0.5 0.3 -0.5 0.6 -1 0.3 -1 0.1 -1 -0.1 -1 -0.3 -1 -0.5 -1 -0.3 -0.5 -0.5 -0.5 -1 -0.8 -1 -0.4 -1 -0.2M39.1 33l-2 0.2 -2 0.5 -0.5 2.9 -0.3 17.9 0 19.5 0.2 8 0.1 1.6 0.1 0.4 0.4 0.5 4.5 0.3 0.5 -0.8 0.2 -4 0.1 -10 0 -11 -0.3 -23 -0.5 -3.1 -0.5 0.1M98.6 32.9l-0.5 3.1 -0.3 17.5 -0.1 12 0.1 9 0.2 7.5 0.1 2 0.5 0.8 4 -0.2 0.5 -1 0.3 -8.1 0.1 -16.5 -0.1 -10 -0.3 -12.5 -0.5 -3 -2 -0.4 -2 -0.2M33.5 110.4l-0.8 0.5 -0.9 1 -0.5 1 -0.2 1.5 0.3 1.5 0.5 1 0.9 1 0.7 0.5 0.4 -2.5 0.1 -1.5 -0.1 -2 -0.4 -2M104.2 110.2l-0.6 2.5 0 1.7 0 1.7 0.6 2.5 1.2 -0.7 0.9 -1 0.5 -1 0.3 -1.5 -0.2 -1.5 -0.5 -1 -0.9 -1 -0.7 -0.5 -0.6 -0.2M38.1 38.4l-1.5 0.3 -1.5 0.4 -0.5 2.8 -0.3 18.6 0 11.5 0.1 7 0.2 2.7 0.5 1.2 2 0.3 2.5 0.1 0.5 -1 0.2 -4.8 0.1 -6.5 0 -11.5 -0.3 -18.4 -0.5 -2.8 -1.5 0.1M98.6 38.3l-0.5 2.8 -0.2 14.4 -0.1 10 0.1 8.5 0.2 7 0 1.3 0.5 1 4 -0.3 0.5 -1.2 0.3 -7.8 0 -13.5 -0.3 -18.8 -0.5 -2.8 -2 -0.4 -2 -0.2M104.2 111.2l-0.4 1.7 -0.1 1.5 0.1 1.5 0.4 1.7 0.7 -0.7 0.4 -0.5 0.4 -1 0.1 -1 -0.1 -1 -0.4 -1 -0.3 -0.5 -0.8 -0.7M33.5 111.6l-0.5 0.6 -0.4 0.7 -0.2 1 0 0.5 0 0.5 0.3 1 0.2 0.5 0.6 0.8 0.3 -2.8 -0.1 -1.5 -0.2 -1.3M39.1 42.4l-2 0.3 -2 0.5 -0.5 2.7 -0.3 13.1 0 13 0.3 8 0.5 1.3 2 0.3 2.5 0.2 0.5 -1.2 0.1 -3.1 0.2 -9 -0.1 -9 -0.2 -14.5 -0.5 -2.6 -0.5 0M98.6 42.4l-0.5 2.6 -0.3 20.5 0.1 8 0.2 7 0.5 1.3 2 -0.1 2 -0.3 0.5 -1.3 0.3 -7.1 0 -10.5 -0.3 -16.8 -0.5 -2.6 -2 -0.5 -2 -0.2M104.2 112.3l-0.3 2.1 0.3 2.1 0.3 -0.6 0.2 -0.5 0.2 -1 -0.1 -1 -0.2 -0.5 -0.4 -0.6M33.5 113.2l-0.2 0.7 0 0.5 0 0.5 0.2 0.8 0.1 -1.3 -0.1 -1.2M37.6 45.9l-2.5 0.6 -0.5 2.6 -0.3 16.4 0.1 7 0.2 5.9 0.5 1.4 2 0.4 2.5 0.1 0.5 -1.2 0.2 -8.6 0 -9.5 -0.2 -12.9 -0.5 -2.4 -2 0.2M98.6 45.7l-0.5 2.4 -0.3 17.4 0.1 7 0.2 6.6 0.5 1.2 2 -0.1 2 -0.3 0.5 -1.4 0.2 -6.5 0.1 -8 -0.3 -15.1 -0.5 -2.5 -2 -0.5 -2 -0.2M104.2 114.2l0 0.4 0 -0.4M39.1 48.4l-2 0.3 -2 0.6 -0.5 2.5 -0.2 10.7 0 8 0.2 6.4 0.5 1.5 2 0.4 2.5 0.2 0.5 -1.4 0 -2.1 0.2 -8 0 -8 -0.2 -8.8 -0.5 -2.3 -0.5 0M98.6 48.4l-0.5 2.3 -0.2 14.8 0 6 0.2 6.1 0.5 1.4 2 -0.2 2 -0.3 0.2 -0.5 0.3 -1 0.1 -0.5 0.1 -11.5 -0.2 -13.4 -0.5 -2.5 -2 -0.5 -2 -0.2M37.6 50.9l-2.5 0.7 -0.5 2.4 -0.2 12 0.2 9.5 0.5 1.6 2 0.4 2.5 0.1 0.5 -1.4 0.1 -5.2 0.1 -8 -0.2 -10.1 -0.5 -2.2 -2 0.2M98.6 50.7l-0.5 2.2 -0.2 12.6 0.2 10.7 0.5 1.4 2 -0.1 2 -0.3 0.5 -1.6 0.2 -10.1 -0.2 -11.7 -0.5 -2.4 -2 -0.5 -2 -0.2M37.1 53l-2 0.5 -0.5 2.4 -0.2 10.1 0.2 8.2 0.5 1.7 2 0.3 2.5 0.2 0.5 -1.5 0.1 -3.9 0 -7.5 -0.1 -8.7 -0.5 -2.1 -2.5 0.3M98.6 52.7l-0.5 2.1 -0.1 10.7 0.1 9.4 0.5 1.5 2 -0.1 2 -0.3 0.5 -1.7 0.2 -8.8 -0.2 -9.8 -0.5 -2.4 -2 -0.4 -2 -0.2"/></g>
<line x1="34.55" y1="0" x2="34.55" y2="180.4" stroke="#1a1a1a" stroke-opacity="0.9" stroke-width="0.7" stroke-dasharray="2.8 1.6"/>
<line x1="40.31" y1="0" x2="40.31" y2="180.4" stroke="#1a1a1a" stroke-opacity="0.9" stroke-width="0.7" stroke-dasharray="2.8 1.6"/>
<line x1="97.89" y1="0" x2="97.89" y2="180.4" stroke="#1a1a1a" stroke-opacity="0.9" stroke-width="0.7" stroke-dasharray="2.8 1.6"/>
<line x1="103.65" y1="0" x2="103.65" y2="180.4" stroke="#1a1a1a" stroke-opacity="0.9" stroke-width="0.7" stroke-dasharray="2.8 1.6"/>
</g>
<rect width="138.2" height="180.4" fill="none" stroke="#262626" stroke-opacity="0.55" stroke-width="0.5"/>
<path d="M11.52 180.4 v-1.6M11.52 0v1.6M69.10 180.4 v-1.6M69.10 0v1.6M126.68 180.4 v-1.6M126.68 0v1.6M0 174.76h1.6M138.2 174.76h-1.6M0 146.58h1.6M138.2 146.58h-1.6M0 118.39h1.6M138.2 118.39h-1.6M0 90.20h1.6M138.2 90.20h-1.6M0 62.01h1.6M138.2 62.01h-1.6M0 33.83h1.6M138.2 33.83h-1.6M0 5.64h1.6M138.2 5.64h-1.6" stroke="#262626" stroke-opacity="0.7" stroke-width="0.5" fill="none"/>
<g class="tl">
<text x="10.72" y="195" text-anchor="middle">-1</text>
<text x="69.10" y="195" text-anchor="middle">0</text>
<text x="126.68" y="195" text-anchor="middle">1</text>
<text x="-3.6" y="180.06" text-anchor="end">-1.5</text>
<text x="-3.6" y="151.88" text-anchor="end">-1</text>
<text x="-3.6" y="123.69" text-anchor="end">-0.5</text>
<text x="-3.6" y="95.50" text-anchor="end">0</text>
<text x="-3.6" y="67.31" text-anchor="end">0.5</text>
<text x="-3.6" y="39.12" text-anchor="end">1</text>
<text x="-3.6" y="10.94" text-anchor="end">1.5</text>
</g>
<rect x="143.8" y="0" width="11" height="180.4" fill="url(#jet)"/>
<rect x="143.8" y="0" width="11" height="180.4" fill="none" stroke="#262626" stroke-opacity="0.5" stroke-width="0.4"/>
<g class="tl cb">
<text x="158.1" y="183.60">-6</text>
<text x="158.1" y="153.53">-4</text>
<text x="158.1" y="123.47">-2</text>
<text x="158.1" y="93.40">0</text>
<text x="158.1" y="63.33">2</text>
<text x="158.1" y="33.27">4</text>
<text x="158.1" y="3.20">6</text>
</g>
<text class="al" x="72.6" y="207.2" text-anchor="middle"><tspan class="it">x</tspan><tspan dx="0.8">[m]</tspan></text>
<text class="al zl" transform="translate(-26.3,89.9) rotate(-90)" text-anchor="middle"><tspan class="it">z</tspan>[m]</text>
<text class="pl" x="-50.9" y="8.7">(c)</text>
</g>
<g>
<rect x="295" y="232.5" width="221.7" height="163" fill="#fff"/>
<path d="M350.43 232.5v163M405.85 232.5v163M461.27 232.5v163M295 385.96h221.7M295 349.98h221.7M295 314.00h221.7M295 278.02h221.7M295 242.04h221.7" stroke="#e9e9e9" stroke-width="0.6" fill="none"/>
<path d="M295 314.1l21.3 0.1 14.9 0.1 10.9 0.3 4.4 0.1 4.1 0.3 3.6 0.2 3.3 0.3 3 0.4 2.7 0.4 2.5 0.6 2.2 0.5 2.1 0.7 1.9 0.7 1.8 0.9 1.8 1.1 1.5 1 1.6 1.3 1.3 1.4 1.4 1.6 1.3 1.7 1.1 1.8 0.9 1.9 1 2 1 2.4 0.8 2.3 1.4 4.5 2.5 9.2 0.6 1.8 0.4 1.2 0.4 1 0.4 0.7 0.4 0.4 0.3 0 0.1 0 0.3 -0.2 0.4 -0.6 0.4 -1 0.6 -1.7 1 -3.9 2.9 -13.3 0.8 -3.4 1 -3.8 1.9 -6.8 4.9 -15.3 1.1 -3.7 1.1 -3.9 1 -3.7 0.9 -4 2.9 -13.3 1 -3.9 0.4 -1.4 0.4 -1 0.5 -0.7 0.2 -0.3 0.2 -0.1 0.1 0 0.3 0 0.4 0.4 0.4 0.7 0.4 1 0.4 1.2 0.6 1.8 2.5 9.2 1.4 4.5 0.8 2.3 1 2.4 1 2 1.1 2.1 1.1 1.8 1.2 1.7 1.3 1.4 1.3 1.4 1.6 1.3 1.5 1 1.8 1.1 1.8 0.9 1.9 0.7 2.1 0.7 2.2 0.5 2.5 0.6 2.7 0.4 3 0.4 3.3 0.3 3.6 0.2 4.1 0.3 4.4 0.1 10.9 0.3 14.9 0.1 21.3 0.1" fill="none" stroke="#0072bd" stroke-width="1.15" stroke-linejoin="round"/>
<path d="M295 314l25.8 -0.1 16.3 -0.2 6.3 -0.2 5.2 -0.1 4.6 -0.2 4 -0.3 3.8 -0.4 3.1 -0.4 3 -0.6 2.4 -0.6 2.4 -0.8 2.1 -0.8 1.9 -1 1.8 -1.2 1 -0.8 0.8 -0.7 0.9 -0.8 0.8 -1 1.4 -1.8 0.7 -1 0.7 -1.2 1.2 -2.5 1.1 -2.8 1 -3 0.8 -3.1 0.7 -3.1 0.6 -3.1 0.5 -3.5 0.4 -3.1 0.6 -4.9 0.4 -4.2 1.4 -16.9 0.4 -4.6 0.4 -3.2 0.2 -0.6 0.1 -0.3 0.1 -0.1 0.2 0.2 0.1 0.4 0.1 0.7 0.3 2.1 0.4 4.5 1.3 16.3 0.7 7.8 0.8 7.6 0.4 3.2 0.6 3.7 0.5 3.2 0.7 3.6 0.9 3.6 0.8 3.3 1 3.3 0.9 3.1 4.1 11.9 1.6 5.3 0.8 3 0.9 3.2 0.7 3.1 0.5 2.8 0.6 3.1 0.5 3.6 0.6 4.2 0.4 3.5 0.6 5.5 0.4 4.7 1.2 16.3 0.4 4.8 0.5 3.5 0.2 1.1 0.2 0.2 0.1 -0.1 0.1 -0.3 0.2 -0.6 0.4 -3.2 0.4 -4.6 1.4 -16.9 0.4 -4.2 0.6 -4.9 0.4 -3.1 0.5 -3.5 0.6 -3.1 0.7 -3.1 0.8 -3.1 1 -3 1.1 -2.8 1.2 -2.5 0.7 -1.2 0.7 -1 1.4 -1.8 0.8 -1 0.9 -0.8 0.8 -0.7 1 -0.8 1.8 -1.2 1.9 -1 2.1 -0.8 2.4 -0.8 2.4 -0.6 3 -0.6 3.1 -0.4 3.8 -0.4 4 -0.3 4.6 -0.2 5.2 -0.1 6.3 -0.2 16.3 -0.2 25.8 -0.1" fill="none" stroke="#d95319" stroke-width="1.15" stroke-linejoin="round"/>
<rect x="295" y="232.5" width="221.7" height="163" fill="none" stroke="#262626" stroke-opacity="0.6" stroke-width="0.6"/>
<path d="M295.00 395.5v-2M295.00 232.5v2M295 385.96h2M516.7 385.96h-2M350.43 395.5v-2M350.43 232.5v2M295 349.98h2M516.7 349.98h-2M405.85 395.5v-2M405.85 232.5v2M295 314.00h2M516.7 314.00h-2M461.27 395.5v-2M461.27 232.5v2M295 278.02h2M516.7 278.02h-2M516.70 395.5v-2M516.70 232.5v2M295 242.04h2M516.7 242.04h-2" stroke="#262626" stroke-opacity="0.7" stroke-width="0.5" fill="none"/>
<g class="tl td">
<text x="294.20" y="409.6" text-anchor="middle">-4</text>
<text x="290.8" y="389.96" text-anchor="end">-4</text>
<text x="349.62" y="409.6" text-anchor="middle">-2</text>
<text x="290.8" y="353.98" text-anchor="end">-2</text>
<text x="405.85" y="409.6" text-anchor="middle">0</text>
<text x="290.8" y="318.00" text-anchor="end">0</text>
<text x="461.27" y="409.6" text-anchor="middle">2</text>
<text x="290.8" y="282.02" text-anchor="end">2</text>
<text x="515.20" y="409.6" text-anchor="middle">4</text>
<text x="290.8" y="246.04" text-anchor="end">4</text>
</g>
<text class="al" x="405.5" y="425.4" text-anchor="middle"><tspan class="it">z</tspan>[m]</text>
<text class="al" transform="translate(273.5,313.8) rotate(-90)" text-anchor="middle"><tspan class="it">j</tspan>[A/m]</text>
<text class="pl" x="248.8" y="236.6">(d)</text>
<rect x="471.5" y="238.1" width="40.1" height="24.2" fill="#fff" stroke="#262626" stroke-opacity="0.75" stroke-width="0.5"/>
<path d="M473.8 244.8h15" stroke="#0072bd" stroke-width="0.9"/><path d="M473.8 256.3h15" stroke="#d95319" stroke-width="0.9"/>
<text class="lg" x="491.8" y="247.8">j<tspan class="sb" dy="1.8">s<tspan class="up">0</tspan></tspan></text>
<text class="lg" x="491.8" y="259.3">j<tspan class="sb" dy="1.8">s<tspan class="up">1</tspan></tspan></text>
</g>
</svg>
</body></html>
